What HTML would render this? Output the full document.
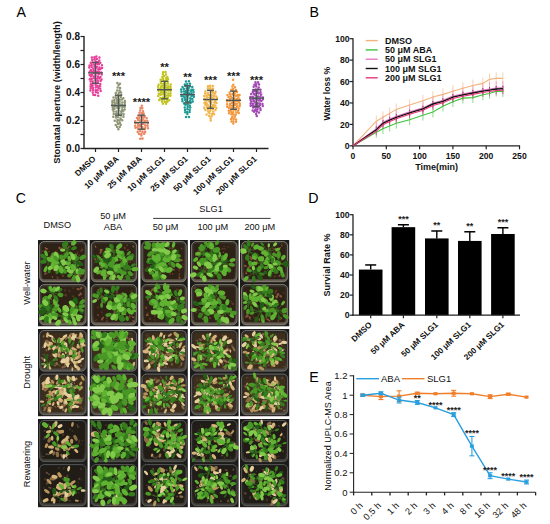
<!DOCTYPE html>
<html><head><meta charset="utf-8"><style>
html,body{margin:0;padding:0;background:#fff;}
svg{display:block;font-family:"Liberation Sans", sans-serif;}
</style></head><body>
<svg width="550" height="524" viewBox="0 0 550 524">
<rect width="550" height="524" fill="#fff"/>
<text x="16.60" y="17.30" font-size="14.2" font-weight="normal" text-anchor="start" fill="#000">A</text>
<text x="309.50" y="17.30" font-size="14.2" font-weight="normal" text-anchor="start" fill="#000">B</text>
<text x="15.80" y="202.80" font-size="14.2" font-weight="normal" text-anchor="start" fill="#000">C</text>
<text x="308.30" y="203.20" font-size="14.2" font-weight="normal" text-anchor="start" fill="#000">D</text>
<text x="309.30" y="381.50" font-size="14.2" font-weight="normal" text-anchor="start" fill="#000">E</text>
<line x1="84.00" y1="36.00" x2="84.00" y2="149.10" stroke="#222" stroke-width="1.4"/>
<line x1="83.30" y1="148.50" x2="268.50" y2="148.50" stroke="#222" stroke-width="1.4"/>
<line x1="80.50" y1="148.50" x2="84.00" y2="148.50" stroke="#222" stroke-width="1.2"/>
<line x1="80.50" y1="134.50" x2="84.00" y2="134.50" stroke="#222" stroke-width="1.2"/>
<line x1="80.50" y1="120.50" x2="84.00" y2="120.50" stroke="#222" stroke-width="1.2"/>
<line x1="80.50" y1="106.50" x2="84.00" y2="106.50" stroke="#222" stroke-width="1.2"/>
<line x1="80.50" y1="92.50" x2="84.00" y2="92.50" stroke="#222" stroke-width="1.2"/>
<line x1="80.50" y1="78.50" x2="84.00" y2="78.50" stroke="#222" stroke-width="1.2"/>
<line x1="80.50" y1="64.50" x2="84.00" y2="64.50" stroke="#222" stroke-width="1.2"/>
<line x1="80.50" y1="50.50" x2="84.00" y2="50.50" stroke="#222" stroke-width="1.2"/>
<line x1="80.50" y1="36.50" x2="84.00" y2="36.50" stroke="#222" stroke-width="1.2"/>
<text x="80.00" y="152.10" font-size="10" font-weight="bold" text-anchor="end" fill="#111">0.0</text>
<text x="80.00" y="124.10" font-size="10" font-weight="bold" text-anchor="end" fill="#111">0.2</text>
<text x="80.00" y="96.10" font-size="10" font-weight="bold" text-anchor="end" fill="#111">0.4</text>
<text x="80.00" y="68.10" font-size="10" font-weight="bold" text-anchor="end" fill="#111">0.6</text>
<text x="80.00" y="40.10" font-size="10" font-weight="bold" text-anchor="end" fill="#111">0.8</text>
<line x1="95.50" y1="148.50" x2="95.50" y2="152.00" stroke="#222" stroke-width="1.2"/>
<text x="96.30" y="159.70" font-size="8.3" font-weight="bold" text-anchor="end" fill="#111" transform="rotate(-43 96.30 159.70)">DMSO</text>
<line x1="118.50" y1="148.50" x2="118.50" y2="152.00" stroke="#222" stroke-width="1.2"/>
<text x="119.30" y="159.70" font-size="8.3" font-weight="bold" text-anchor="end" fill="#111" transform="rotate(-43 119.30 159.70)">10 μM ABA</text>
<line x1="141.50" y1="148.50" x2="141.50" y2="152.00" stroke="#222" stroke-width="1.2"/>
<text x="142.30" y="159.70" font-size="8.3" font-weight="bold" text-anchor="end" fill="#111" transform="rotate(-43 142.30 159.70)">25 μM ABA</text>
<line x1="164.50" y1="148.50" x2="164.50" y2="152.00" stroke="#222" stroke-width="1.2"/>
<text x="165.30" y="159.70" font-size="8.3" font-weight="bold" text-anchor="end" fill="#111" transform="rotate(-43 165.30 159.70)">10 μM SLG1</text>
<line x1="187.50" y1="148.50" x2="187.50" y2="152.00" stroke="#222" stroke-width="1.2"/>
<text x="188.30" y="159.70" font-size="8.3" font-weight="bold" text-anchor="end" fill="#111" transform="rotate(-43 188.30 159.70)">25 μM SLG1</text>
<line x1="210.50" y1="148.50" x2="210.50" y2="152.00" stroke="#222" stroke-width="1.2"/>
<text x="211.30" y="159.70" font-size="8.3" font-weight="bold" text-anchor="end" fill="#111" transform="rotate(-43 211.30 159.70)">50 μM SLG1</text>
<line x1="233.50" y1="148.50" x2="233.50" y2="152.00" stroke="#222" stroke-width="1.2"/>
<text x="234.30" y="159.70" font-size="8.3" font-weight="bold" text-anchor="end" fill="#111" transform="rotate(-43 234.30 159.70)">100 μM SLG1</text>
<line x1="256.50" y1="148.50" x2="256.50" y2="152.00" stroke="#222" stroke-width="1.2"/>
<text x="257.30" y="159.70" font-size="8.3" font-weight="bold" text-anchor="end" fill="#111" transform="rotate(-43 257.30 159.70)">200 μM SLG1</text>
<text x="60.00" y="92.50" font-size="9.3" font-weight="bold" text-anchor="middle" fill="#111" transform="rotate(-90 60.00 92.50)">Stomatal aperture (width/length)</text>
<path fill="#e8409a" d="M90.6 57.5a1.2 1.2 0 1 0 2.5 0 1.2 1.2 0 1 0 -2.5 -0M93.1 57.2a1.2 1.2 0 1 0 2.5 0 1.2 1.2 0 1 0 -2.5 -0M95.1 56.5a1.2 1.2 0 1 0 2.5 0 1.2 1.2 0 1 0 -2.5 -0M98.2 57.4a1.2 1.2 0 1 0 2.5 0 1.2 1.2 0 1 0 -2.5 -0M91 59.9a1.2 1.2 0 1 0 2.5 0 1.2 1.2 0 1 0 -2.5 -0M93.3 59.3a1.2 1.2 0 1 0 2.5 0 1.2 1.2 0 1 0 -2.5 -0M95.6 59.1a1.2 1.2 0 1 0 2.5 0 1.2 1.2 0 1 0 -2.5 -0M98 60.4a1.2 1.2 0 1 0 2.5 0 1.2 1.2 0 1 0 -2.5 -0M89.5 62.7a1.2 1.2 0 1 0 2.5 0 1.2 1.2 0 1 0 -2.5 -0M91.5 62.4a1.2 1.2 0 1 0 2.5 0 1.2 1.2 0 1 0 -2.5 -0M94.3 61.3a1.2 1.2 0 1 0 2.5 0 1.2 1.2 0 1 0 -2.5 -0M96.3 62.3a1.2 1.2 0 1 0 2.5 0 1.2 1.2 0 1 0 -2.5 -0M99.1 62.8a1.2 1.2 0 1 0 2.5 0 1.2 1.2 0 1 0 -2.5 -0M88.3 65.6a1.2 1.2 0 1 0 2.5 0 1.2 1.2 0 1 0 -2.5 -0M90.5 65a1.2 1.2 0 1 0 2.5 0 1.2 1.2 0 1 0 -2.5 -0M93 64.6a1.2 1.2 0 1 0 2.5 0 1.2 1.2 0 1 0 -2.5 -0M95.8 63.8a1.2 1.2 0 1 0 2.5 0 1.2 1.2 0 1 0 -2.5 -0M97.6 64.3a1.2 1.2 0 1 0 2.5 0 1.2 1.2 0 1 0 -2.5 -0M100.7 65.3a1.2 1.2 0 1 0 2.5 0 1.2 1.2 0 1 0 -2.5 -0M88 67.6a1.2 1.2 0 1 0 2.5 0 1.2 1.2 0 1 0 -2.5 -0M90.5 66.9a1.2 1.2 0 1 0 2.5 0 1.2 1.2 0 1 0 -2.5 -0M93.1 66.6a1.2 1.2 0 1 0 2.5 0 1.2 1.2 0 1 0 -2.5 -0M95.8 66.8a1.2 1.2 0 1 0 2.5 0 1.2 1.2 0 1 0 -2.5 -0M98.3 67.5a1.2 1.2 0 1 0 2.5 0 1.2 1.2 0 1 0 -2.5 -0M100.8 67.9a1.2 1.2 0 1 0 2.5 0 1.2 1.2 0 1 0 -2.5 -0M89.6 70.1a1.2 1.2 0 1 0 2.5 0 1.2 1.2 0 1 0 -2.5 -0M92.1 69.1a1.2 1.2 0 1 0 2.5 0 1.2 1.2 0 1 0 -2.5 -0M94.4 68.4a1.2 1.2 0 1 0 2.5 0 1.2 1.2 0 1 0 -2.5 -0M97 69.3a1.2 1.2 0 1 0 2.5 0 1.2 1.2 0 1 0 -2.5 -0M99 69.2a1.2 1.2 0 1 0 2.5 0 1.2 1.2 0 1 0 -2.5 -0M88.5 71.8a1.2 1.2 0 1 0 2.5 0 1.2 1.2 0 1 0 -2.5 -0M90.8 71.6a1.2 1.2 0 1 0 2.5 0 1.2 1.2 0 1 0 -2.5 -0M92.7 71.1a1.2 1.2 0 1 0 2.5 0 1.2 1.2 0 1 0 -2.5 -0M95.7 71.7a1.2 1.2 0 1 0 2.5 0 1.2 1.2 0 1 0 -2.5 -0M97.6 71.8a1.2 1.2 0 1 0 2.5 0 1.2 1.2 0 1 0 -2.5 -0M100 72.5a1.2 1.2 0 1 0 2.5 0 1.2 1.2 0 1 0 -2.5 -0M88.4 75.1a1.2 1.2 0 1 0 2.5 0 1.2 1.2 0 1 0 -2.5 -0M90.6 74.6a1.2 1.2 0 1 0 2.5 0 1.2 1.2 0 1 0 -2.5 -0M92.9 73.2a1.2 1.2 0 1 0 2.5 0 1.2 1.2 0 1 0 -2.5 -0M95.6 73.2a1.2 1.2 0 1 0 2.5 0 1.2 1.2 0 1 0 -2.5 -0M97.7 74a1.2 1.2 0 1 0 2.5 0 1.2 1.2 0 1 0 -2.5 -0M100.5 74.4a1.2 1.2 0 1 0 2.5 0 1.2 1.2 0 1 0 -2.5 -0M89.6 76.5a1.2 1.2 0 1 0 2.5 0 1.2 1.2 0 1 0 -2.5 -0M92.2 76.6a1.2 1.2 0 1 0 2.5 0 1.2 1.2 0 1 0 -2.5 -0M94.2 75.7a1.2 1.2 0 1 0 2.5 0 1.2 1.2 0 1 0 -2.5 -0M96.7 76.4a1.2 1.2 0 1 0 2.5 0 1.2 1.2 0 1 0 -2.5 -0M99.2 76.9a1.2 1.2 0 1 0 2.5 0 1.2 1.2 0 1 0 -2.5 -0M88.5 79.3a1.2 1.2 0 1 0 2.5 0 1.2 1.2 0 1 0 -2.5 -0M90.5 79.1a1.2 1.2 0 1 0 2.5 0 1.2 1.2 0 1 0 -2.5 -0M92.8 78.2a1.2 1.2 0 1 0 2.5 0 1.2 1.2 0 1 0 -2.5 -0M95.9 78.4a1.2 1.2 0 1 0 2.5 0 1.2 1.2 0 1 0 -2.5 -0M98 78.4a1.2 1.2 0 1 0 2.5 0 1.2 1.2 0 1 0 -2.5 -0M100.3 79.5a1.2 1.2 0 1 0 2.5 0 1.2 1.2 0 1 0 -2.5 -0M89.4 81.6a1.2 1.2 0 1 0 2.5 0 1.2 1.2 0 1 0 -2.5 -0M91.4 81.2a1.2 1.2 0 1 0 2.5 0 1.2 1.2 0 1 0 -2.5 -0M94.2 80.6a1.2 1.2 0 1 0 2.5 0 1.2 1.2 0 1 0 -2.5 -0M96.6 81.1a1.2 1.2 0 1 0 2.5 0 1.2 1.2 0 1 0 -2.5 -0M99.3 81.1a1.2 1.2 0 1 0 2.5 0 1.2 1.2 0 1 0 -2.5 -0M89.5 84.3a1.2 1.2 0 1 0 2.5 0 1.2 1.2 0 1 0 -2.5 -0M91.6 83.3a1.2 1.2 0 1 0 2.5 0 1.2 1.2 0 1 0 -2.5 -0M94.3 82.6a1.2 1.2 0 1 0 2.5 0 1.2 1.2 0 1 0 -2.5 -0M96.6 83.1a1.2 1.2 0 1 0 2.5 0 1.2 1.2 0 1 0 -2.5 -0M99 83.9a1.2 1.2 0 1 0 2.5 0 1.2 1.2 0 1 0 -2.5 -0M89.3 86.5a1.2 1.2 0 1 0 2.5 0 1.2 1.2 0 1 0 -2.5 -0M91.4 85.8a1.2 1.2 0 1 0 2.5 0 1.2 1.2 0 1 0 -2.5 -0M94.4 85a1.2 1.2 0 1 0 2.5 0 1.2 1.2 0 1 0 -2.5 -0M96.5 85.9a1.2 1.2 0 1 0 2.5 0 1.2 1.2 0 1 0 -2.5 -0M98.9 85.9a1.2 1.2 0 1 0 2.5 0 1.2 1.2 0 1 0 -2.5 -0M89.5 88.2a1.2 1.2 0 1 0 2.5 0 1.2 1.2 0 1 0 -2.5 -0M91.7 87.9a1.2 1.2 0 1 0 2.5 0 1.2 1.2 0 1 0 -2.5 -0M94.5 87.5a1.2 1.2 0 1 0 2.5 0 1.2 1.2 0 1 0 -2.5 -0M97 87.8a1.2 1.2 0 1 0 2.5 0 1.2 1.2 0 1 0 -2.5 -0M99 88.7a1.2 1.2 0 1 0 2.5 0 1.2 1.2 0 1 0 -2.5 -0M89.1 90.6a1.2 1.2 0 1 0 2.5 0 1.2 1.2 0 1 0 -2.5 -0M91.8 90.1a1.2 1.2 0 1 0 2.5 0 1.2 1.2 0 1 0 -2.5 -0M94.5 90.3a1.2 1.2 0 1 0 2.5 0 1.2 1.2 0 1 0 -2.5 -0M96.4 90.1a1.2 1.2 0 1 0 2.5 0 1.2 1.2 0 1 0 -2.5 -0M99.4 91.1a1.2 1.2 0 1 0 2.5 0 1.2 1.2 0 1 0 -2.5 -0M91.5 92.6a1.2 1.2 0 1 0 2.5 0 1.2 1.2 0 1 0 -2.5 -0M94.5 92.1a1.2 1.2 0 1 0 2.5 0 1.2 1.2 0 1 0 -2.5 -0M96.6 92.7a1.2 1.2 0 1 0 2.5 0 1.2 1.2 0 1 0 -2.5 -0M92.1 94.7a1.2 1.2 0 1 0 2.5 0 1.2 1.2 0 1 0 -2.5 -0M93.9 95.1a1.2 1.2 0 1 0 2.5 0 1.2 1.2 0 1 0 -2.5 -0M97 95.7a1.2 1.2 0 1 0 2.5 0 1.2 1.2 0 1 0 -2.5 -0"/>
<line x1="88.00" y1="72.90" x2="103.00" y2="72.90" stroke="#4e5755" stroke-width="1.4"/>
<line x1="95.50" y1="62.40" x2="95.50" y2="83.40" stroke="#4e5755" stroke-width="1.3"/>
<line x1="92.10" y1="62.40" x2="98.90" y2="62.40" stroke="#4e5755" stroke-width="1.3"/>
<line x1="92.10" y1="83.40" x2="98.90" y2="83.40" stroke="#4e5755" stroke-width="1.3"/>
<path fill="#8f9676" d="M116.1 83.1a1.2 1.2 0 1 0 2.5 0 1.2 1.2 0 1 0 -2.5 -0M118.7 83.8a1.2 1.2 0 1 0 2.5 0 1.2 1.2 0 1 0 -2.5 -0M117.3 85.2a1.2 1.2 0 1 0 2.5 0 1.2 1.2 0 1 0 -2.5 -0M116.4 87.4a1.2 1.2 0 1 0 2.5 0 1.2 1.2 0 1 0 -2.5 -0M118.8 88.1a1.2 1.2 0 1 0 2.5 0 1.2 1.2 0 1 0 -2.5 -0M115.9 90.5a1.2 1.2 0 1 0 2.5 0 1.2 1.2 0 1 0 -2.5 -0M118.4 90.4a1.2 1.2 0 1 0 2.5 0 1.2 1.2 0 1 0 -2.5 -0M114.5 93.1a1.2 1.2 0 1 0 2.5 0 1.2 1.2 0 1 0 -2.5 -0M117.6 92.8a1.2 1.2 0 1 0 2.5 0 1.2 1.2 0 1 0 -2.5 -0M119.8 92.4a1.2 1.2 0 1 0 2.5 0 1.2 1.2 0 1 0 -2.5 -0M114.5 95.6a1.2 1.2 0 1 0 2.5 0 1.2 1.2 0 1 0 -2.5 -0M117.1 94.5a1.2 1.2 0 1 0 2.5 0 1.2 1.2 0 1 0 -2.5 -0M120 95a1.2 1.2 0 1 0 2.5 0 1.2 1.2 0 1 0 -2.5 -0M112.3 97.5a1.2 1.2 0 1 0 2.5 0 1.2 1.2 0 1 0 -2.5 -0M114.9 97.7a1.2 1.2 0 1 0 2.5 0 1.2 1.2 0 1 0 -2.5 -0M117 96.6a1.2 1.2 0 1 0 2.5 0 1.2 1.2 0 1 0 -2.5 -0M119.6 96.9a1.2 1.2 0 1 0 2.5 0 1.2 1.2 0 1 0 -2.5 -0M122.1 98.2a1.2 1.2 0 1 0 2.5 0 1.2 1.2 0 1 0 -2.5 -0M111.2 100.8a1.2 1.2 0 1 0 2.5 0 1.2 1.2 0 1 0 -2.5 -0M113.3 100.1a1.2 1.2 0 1 0 2.5 0 1.2 1.2 0 1 0 -2.5 -0M115.9 99.5a1.2 1.2 0 1 0 2.5 0 1.2 1.2 0 1 0 -2.5 -0M118.2 99.6a1.2 1.2 0 1 0 2.5 0 1.2 1.2 0 1 0 -2.5 -0M120.6 99.5a1.2 1.2 0 1 0 2.5 0 1.2 1.2 0 1 0 -2.5 -0M123.6 101a1.2 1.2 0 1 0 2.5 0 1.2 1.2 0 1 0 -2.5 -0M111.1 102.5a1.2 1.2 0 1 0 2.5 0 1.2 1.2 0 1 0 -2.5 -0M113.4 102.4a1.2 1.2 0 1 0 2.5 0 1.2 1.2 0 1 0 -2.5 -0M115.8 101.4a1.2 1.2 0 1 0 2.5 0 1.2 1.2 0 1 0 -2.5 -0M118.4 101.4a1.2 1.2 0 1 0 2.5 0 1.2 1.2 0 1 0 -2.5 -0M121 102.6a1.2 1.2 0 1 0 2.5 0 1.2 1.2 0 1 0 -2.5 -0M123.6 102.8a1.2 1.2 0 1 0 2.5 0 1.2 1.2 0 1 0 -2.5 -0M111.1 104.6a1.2 1.2 0 1 0 2.5 0 1.2 1.2 0 1 0 -2.5 -0M113.7 104.3a1.2 1.2 0 1 0 2.5 0 1.2 1.2 0 1 0 -2.5 -0M115.9 103.6a1.2 1.2 0 1 0 2.5 0 1.2 1.2 0 1 0 -2.5 -0M118.4 104.1a1.2 1.2 0 1 0 2.5 0 1.2 1.2 0 1 0 -2.5 -0M120.8 104.9a1.2 1.2 0 1 0 2.5 0 1.2 1.2 0 1 0 -2.5 -0M123.5 104.8a1.2 1.2 0 1 0 2.5 0 1.2 1.2 0 1 0 -2.5 -0M111.5 107.3a1.2 1.2 0 1 0 2.5 0 1.2 1.2 0 1 0 -2.5 -0M113.7 106.4a1.2 1.2 0 1 0 2.5 0 1.2 1.2 0 1 0 -2.5 -0M116 106.2a1.2 1.2 0 1 0 2.5 0 1.2 1.2 0 1 0 -2.5 -0M118.4 106.2a1.2 1.2 0 1 0 2.5 0 1.2 1.2 0 1 0 -2.5 -0M121 106.9a1.2 1.2 0 1 0 2.5 0 1.2 1.2 0 1 0 -2.5 -0M123.4 107a1.2 1.2 0 1 0 2.5 0 1.2 1.2 0 1 0 -2.5 -0M111.5 109.5a1.2 1.2 0 1 0 2.5 0 1.2 1.2 0 1 0 -2.5 -0M113.2 108.7a1.2 1.2 0 1 0 2.5 0 1.2 1.2 0 1 0 -2.5 -0M116.1 108.1a1.2 1.2 0 1 0 2.5 0 1.2 1.2 0 1 0 -2.5 -0M118.1 108.1a1.2 1.2 0 1 0 2.5 0 1.2 1.2 0 1 0 -2.5 -0M120.9 109.6a1.2 1.2 0 1 0 2.5 0 1.2 1.2 0 1 0 -2.5 -0M123.4 109.6a1.2 1.2 0 1 0 2.5 0 1.2 1.2 0 1 0 -2.5 -0M112.4 111.6a1.2 1.2 0 1 0 2.5 0 1.2 1.2 0 1 0 -2.5 -0M115 111.5a1.2 1.2 0 1 0 2.5 0 1.2 1.2 0 1 0 -2.5 -0M117.4 110.5a1.2 1.2 0 1 0 2.5 0 1.2 1.2 0 1 0 -2.5 -0M119.8 111.6a1.2 1.2 0 1 0 2.5 0 1.2 1.2 0 1 0 -2.5 -0M121.9 111.3a1.2 1.2 0 1 0 2.5 0 1.2 1.2 0 1 0 -2.5 -0M112.5 114.1a1.2 1.2 0 1 0 2.5 0 1.2 1.2 0 1 0 -2.5 -0M114.9 113.7a1.2 1.2 0 1 0 2.5 0 1.2 1.2 0 1 0 -2.5 -0M117.2 113.2a1.2 1.2 0 1 0 2.5 0 1.2 1.2 0 1 0 -2.5 -0M120.1 113.4a1.2 1.2 0 1 0 2.5 0 1.2 1.2 0 1 0 -2.5 -0M122.4 114.2a1.2 1.2 0 1 0 2.5 0 1.2 1.2 0 1 0 -2.5 -0M112 116.7a1.2 1.2 0 1 0 2.5 0 1.2 1.2 0 1 0 -2.5 -0M115 116.1a1.2 1.2 0 1 0 2.5 0 1.2 1.2 0 1 0 -2.5 -0M117.6 115a1.2 1.2 0 1 0 2.5 0 1.2 1.2 0 1 0 -2.5 -0M119.8 115.4a1.2 1.2 0 1 0 2.5 0 1.2 1.2 0 1 0 -2.5 -0M122.2 116.7a1.2 1.2 0 1 0 2.5 0 1.2 1.2 0 1 0 -2.5 -0M114.7 117.6a1.2 1.2 0 1 0 2.5 0 1.2 1.2 0 1 0 -2.5 -0M117 117.2a1.2 1.2 0 1 0 2.5 0 1.2 1.2 0 1 0 -2.5 -0M119.4 118.4a1.2 1.2 0 1 0 2.5 0 1.2 1.2 0 1 0 -2.5 -0M113.5 120.8a1.2 1.2 0 1 0 2.5 0 1.2 1.2 0 1 0 -2.5 -0M116.2 120a1.2 1.2 0 1 0 2.5 0 1.2 1.2 0 1 0 -2.5 -0M118.4 120.2a1.2 1.2 0 1 0 2.5 0 1.2 1.2 0 1 0 -2.5 -0M121 120.3a1.2 1.2 0 1 0 2.5 0 1.2 1.2 0 1 0 -2.5 -0M116.1 122a1.2 1.2 0 1 0 2.5 0 1.2 1.2 0 1 0 -2.5 -0M118.6 122.7a1.2 1.2 0 1 0 2.5 0 1.2 1.2 0 1 0 -2.5 -0M114.5 124.9a1.2 1.2 0 1 0 2.5 0 1.2 1.2 0 1 0 -2.5 -0M116.9 123.9a1.2 1.2 0 1 0 2.5 0 1.2 1.2 0 1 0 -2.5 -0M119.5 124.8a1.2 1.2 0 1 0 2.5 0 1.2 1.2 0 1 0 -2.5 -0M115.9 127.1a1.2 1.2 0 1 0 2.5 0 1.2 1.2 0 1 0 -2.5 -0M118.5 126.9a1.2 1.2 0 1 0 2.5 0 1.2 1.2 0 1 0 -2.5 -0M117.1 129.2a1.2 1.2 0 1 0 2.5 0 1.2 1.2 0 1 0 -2.5 -0"/>
<line x1="111.00" y1="105.52" x2="126.00" y2="105.52" stroke="#4e5755" stroke-width="1.4"/>
<line x1="118.50" y1="95.30" x2="118.50" y2="115.18" stroke="#4e5755" stroke-width="1.3"/>
<line x1="115.10" y1="95.30" x2="121.90" y2="95.30" stroke="#4e5755" stroke-width="1.3"/>
<line x1="115.10" y1="115.18" x2="121.90" y2="115.18" stroke="#4e5755" stroke-width="1.3"/>
<text x="118.50" y="80.00" font-size="11.2" font-weight="bold" text-anchor="middle" fill="#1a1a1a">***</text>
<path fill="#ea8866" d="M140.6 105.7a1.2 1.2 0 1 0 2.5 0 1.2 1.2 0 1 0 -2.5 -0M139.2 108a1.2 1.2 0 1 0 2.5 0 1.2 1.2 0 1 0 -2.5 -0M141.1 108.2a1.2 1.2 0 1 0 2.5 0 1.2 1.2 0 1 0 -2.5 -0M139 110.5a1.2 1.2 0 1 0 2.5 0 1.2 1.2 0 1 0 -2.5 -0M141.8 111.2a1.2 1.2 0 1 0 2.5 0 1.2 1.2 0 1 0 -2.5 -0M138.2 112.7a1.2 1.2 0 1 0 2.5 0 1.2 1.2 0 1 0 -2.5 -0M140.5 113.2a1.2 1.2 0 1 0 2.5 0 1.2 1.2 0 1 0 -2.5 -0M142.4 113.4a1.2 1.2 0 1 0 2.5 0 1.2 1.2 0 1 0 -2.5 -0M136.9 115.5a1.2 1.2 0 1 0 2.5 0 1.2 1.2 0 1 0 -2.5 -0M139.1 115.7a1.2 1.2 0 1 0 2.5 0 1.2 1.2 0 1 0 -2.5 -0M141.6 115.1a1.2 1.2 0 1 0 2.5 0 1.2 1.2 0 1 0 -2.5 -0M143.6 116.2a1.2 1.2 0 1 0 2.5 0 1.2 1.2 0 1 0 -2.5 -0M135.7 118a1.2 1.2 0 1 0 2.5 0 1.2 1.2 0 1 0 -2.5 -0M138 118.1a1.2 1.2 0 1 0 2.5 0 1.2 1.2 0 1 0 -2.5 -0M140.6 116.9a1.2 1.2 0 1 0 2.5 0 1.2 1.2 0 1 0 -2.5 -0M142.6 117.4a1.2 1.2 0 1 0 2.5 0 1.2 1.2 0 1 0 -2.5 -0M145.4 118.3a1.2 1.2 0 1 0 2.5 0 1.2 1.2 0 1 0 -2.5 -0M134 121.3a1.2 1.2 0 1 0 2.5 0 1.2 1.2 0 1 0 -2.5 -0M136.9 120.1a1.2 1.2 0 1 0 2.5 0 1.2 1.2 0 1 0 -2.5 -0M139.1 120.4a1.2 1.2 0 1 0 2.5 0 1.2 1.2 0 1 0 -2.5 -0M141.5 119.8a1.2 1.2 0 1 0 2.5 0 1.2 1.2 0 1 0 -2.5 -0M143.7 120.7a1.2 1.2 0 1 0 2.5 0 1.2 1.2 0 1 0 -2.5 -0M146.1 121.1a1.2 1.2 0 1 0 2.5 0 1.2 1.2 0 1 0 -2.5 -0M134.2 122.9a1.2 1.2 0 1 0 2.5 0 1.2 1.2 0 1 0 -2.5 -0M136.7 123.2a1.2 1.2 0 1 0 2.5 0 1.2 1.2 0 1 0 -2.5 -0M138.9 122.1a1.2 1.2 0 1 0 2.5 0 1.2 1.2 0 1 0 -2.5 -0M141.8 122.4a1.2 1.2 0 1 0 2.5 0 1.2 1.2 0 1 0 -2.5 -0M143.7 122.2a1.2 1.2 0 1 0 2.5 0 1.2 1.2 0 1 0 -2.5 -0M146.6 123.2a1.2 1.2 0 1 0 2.5 0 1.2 1.2 0 1 0 -2.5 -0M133.9 125.8a1.2 1.2 0 1 0 2.5 0 1.2 1.2 0 1 0 -2.5 -0M136.8 124.9a1.2 1.2 0 1 0 2.5 0 1.2 1.2 0 1 0 -2.5 -0M138.7 125.1a1.2 1.2 0 1 0 2.5 0 1.2 1.2 0 1 0 -2.5 -0M141.8 124.1a1.2 1.2 0 1 0 2.5 0 1.2 1.2 0 1 0 -2.5 -0M144 125.3a1.2 1.2 0 1 0 2.5 0 1.2 1.2 0 1 0 -2.5 -0M146.3 125.8a1.2 1.2 0 1 0 2.5 0 1.2 1.2 0 1 0 -2.5 -0M134.2 127.8a1.2 1.2 0 1 0 2.5 0 1.2 1.2 0 1 0 -2.5 -0M136.3 127.2a1.2 1.2 0 1 0 2.5 0 1.2 1.2 0 1 0 -2.5 -0M138.7 126.5a1.2 1.2 0 1 0 2.5 0 1.2 1.2 0 1 0 -2.5 -0M141.2 127.2a1.2 1.2 0 1 0 2.5 0 1.2 1.2 0 1 0 -2.5 -0M144 127.7a1.2 1.2 0 1 0 2.5 0 1.2 1.2 0 1 0 -2.5 -0M146.7 128.3a1.2 1.2 0 1 0 2.5 0 1.2 1.2 0 1 0 -2.5 -0M136.9 129.2a1.2 1.2 0 1 0 2.5 0 1.2 1.2 0 1 0 -2.5 -0M139.2 129.5a1.2 1.2 0 1 0 2.5 0 1.2 1.2 0 1 0 -2.5 -0M141.6 129.1a1.2 1.2 0 1 0 2.5 0 1.2 1.2 0 1 0 -2.5 -0M143.6 129.2a1.2 1.2 0 1 0 2.5 0 1.2 1.2 0 1 0 -2.5 -0M136.4 132.1a1.2 1.2 0 1 0 2.5 0 1.2 1.2 0 1 0 -2.5 -0M138.8 131.2a1.2 1.2 0 1 0 2.5 0 1.2 1.2 0 1 0 -2.5 -0M141.3 131.7a1.2 1.2 0 1 0 2.5 0 1.2 1.2 0 1 0 -2.5 -0M143.9 131.9a1.2 1.2 0 1 0 2.5 0 1.2 1.2 0 1 0 -2.5 -0M137.8 134.1a1.2 1.2 0 1 0 2.5 0 1.2 1.2 0 1 0 -2.5 -0M140.2 134a1.2 1.2 0 1 0 2.5 0 1.2 1.2 0 1 0 -2.5 -0M142.9 133.8a1.2 1.2 0 1 0 2.5 0 1.2 1.2 0 1 0 -2.5 -0M140.1 135.4a1.2 1.2 0 1 0 2.5 0 1.2 1.2 0 1 0 -2.5 -0M139 138.8a1.2 1.2 0 1 0 2.5 0 1.2 1.2 0 1 0 -2.5 -0M141.3 138.5a1.2 1.2 0 1 0 2.5 0 1.2 1.2 0 1 0 -2.5 -0"/>
<line x1="134.00" y1="122.60" x2="149.00" y2="122.60" stroke="#4e5755" stroke-width="1.4"/>
<line x1="141.50" y1="115.18" x2="141.50" y2="129.18" stroke="#4e5755" stroke-width="1.3"/>
<line x1="138.10" y1="115.18" x2="144.90" y2="115.18" stroke="#4e5755" stroke-width="1.3"/>
<line x1="138.10" y1="129.18" x2="144.90" y2="129.18" stroke="#4e5755" stroke-width="1.3"/>
<text x="141.50" y="106.00" font-size="11.2" font-weight="bold" text-anchor="middle" fill="#1a1a1a">****</text>
<path fill="#c2c41e" d="M161.8 72.3a1.2 1.2 0 1 0 2.5 0 1.2 1.2 0 1 0 -2.5 -0M164.2 71.9a1.2 1.2 0 1 0 2.5 0 1.2 1.2 0 1 0 -2.5 -0M161.7 74.3a1.2 1.2 0 1 0 2.5 0 1.2 1.2 0 1 0 -2.5 -0M164.7 74.4a1.2 1.2 0 1 0 2.5 0 1.2 1.2 0 1 0 -2.5 -0M161.1 77.1a1.2 1.2 0 1 0 2.5 0 1.2 1.2 0 1 0 -2.5 -0M162.9 76.2a1.2 1.2 0 1 0 2.5 0 1.2 1.2 0 1 0 -2.5 -0M166.1 77a1.2 1.2 0 1 0 2.5 0 1.2 1.2 0 1 0 -2.5 -0M159.4 79.7a1.2 1.2 0 1 0 2.5 0 1.2 1.2 0 1 0 -2.5 -0M161.7 79a1.2 1.2 0 1 0 2.5 0 1.2 1.2 0 1 0 -2.5 -0M164.7 78.4a1.2 1.2 0 1 0 2.5 0 1.2 1.2 0 1 0 -2.5 -0M166.8 79a1.2 1.2 0 1 0 2.5 0 1.2 1.2 0 1 0 -2.5 -0M159.5 81.9a1.2 1.2 0 1 0 2.5 0 1.2 1.2 0 1 0 -2.5 -0M162.4 80.7a1.2 1.2 0 1 0 2.5 0 1.2 1.2 0 1 0 -2.5 -0M164.8 80.6a1.2 1.2 0 1 0 2.5 0 1.2 1.2 0 1 0 -2.5 -0M166.6 81.6a1.2 1.2 0 1 0 2.5 0 1.2 1.2 0 1 0 -2.5 -0M157.4 84.8a1.2 1.2 0 1 0 2.5 0 1.2 1.2 0 1 0 -2.5 -0M159.9 83.5a1.2 1.2 0 1 0 2.5 0 1.2 1.2 0 1 0 -2.5 -0M162.2 83.7a1.2 1.2 0 1 0 2.5 0 1.2 1.2 0 1 0 -2.5 -0M164.1 83.2a1.2 1.2 0 1 0 2.5 0 1.2 1.2 0 1 0 -2.5 -0M166.6 83.4a1.2 1.2 0 1 0 2.5 0 1.2 1.2 0 1 0 -2.5 -0M169.4 84.5a1.2 1.2 0 1 0 2.5 0 1.2 1.2 0 1 0 -2.5 -0M156.8 86.7a1.2 1.2 0 1 0 2.5 0 1.2 1.2 0 1 0 -2.5 -0M160 86.3a1.2 1.2 0 1 0 2.5 0 1.2 1.2 0 1 0 -2.5 -0M162.1 85.3a1.2 1.2 0 1 0 2.5 0 1.2 1.2 0 1 0 -2.5 -0M164.6 85.4a1.2 1.2 0 1 0 2.5 0 1.2 1.2 0 1 0 -2.5 -0M167 86.3a1.2 1.2 0 1 0 2.5 0 1.2 1.2 0 1 0 -2.5 -0M169.3 86.9a1.2 1.2 0 1 0 2.5 0 1.2 1.2 0 1 0 -2.5 -0M157.1 89.3a1.2 1.2 0 1 0 2.5 0 1.2 1.2 0 1 0 -2.5 -0M159.4 88.1a1.2 1.2 0 1 0 2.5 0 1.2 1.2 0 1 0 -2.5 -0M162.1 87.8a1.2 1.2 0 1 0 2.5 0 1.2 1.2 0 1 0 -2.5 -0M164.8 87.7a1.2 1.2 0 1 0 2.5 0 1.2 1.2 0 1 0 -2.5 -0M166.8 87.9a1.2 1.2 0 1 0 2.5 0 1.2 1.2 0 1 0 -2.5 -0M169.3 88.8a1.2 1.2 0 1 0 2.5 0 1.2 1.2 0 1 0 -2.5 -0M157.3 90.7a1.2 1.2 0 1 0 2.5 0 1.2 1.2 0 1 0 -2.5 -0M160 90.8a1.2 1.2 0 1 0 2.5 0 1.2 1.2 0 1 0 -2.5 -0M162.3 90.2a1.2 1.2 0 1 0 2.5 0 1.2 1.2 0 1 0 -2.5 -0M164.5 90.1a1.2 1.2 0 1 0 2.5 0 1.2 1.2 0 1 0 -2.5 -0M166.8 90.4a1.2 1.2 0 1 0 2.5 0 1.2 1.2 0 1 0 -2.5 -0M169.2 91a1.2 1.2 0 1 0 2.5 0 1.2 1.2 0 1 0 -2.5 -0M157.5 93.8a1.2 1.2 0 1 0 2.5 0 1.2 1.2 0 1 0 -2.5 -0M159.7 92.5a1.2 1.2 0 1 0 2.5 0 1.2 1.2 0 1 0 -2.5 -0M161.8 92.6a1.2 1.2 0 1 0 2.5 0 1.2 1.2 0 1 0 -2.5 -0M164.6 92.4a1.2 1.2 0 1 0 2.5 0 1.2 1.2 0 1 0 -2.5 -0M167 93.4a1.2 1.2 0 1 0 2.5 0 1.2 1.2 0 1 0 -2.5 -0M169.2 93.4a1.2 1.2 0 1 0 2.5 0 1.2 1.2 0 1 0 -2.5 -0M157 96.1a1.2 1.2 0 1 0 2.5 0 1.2 1.2 0 1 0 -2.5 -0M159.5 94.8a1.2 1.2 0 1 0 2.5 0 1.2 1.2 0 1 0 -2.5 -0M162 94.3a1.2 1.2 0 1 0 2.5 0 1.2 1.2 0 1 0 -2.5 -0M164.7 95.2a1.2 1.2 0 1 0 2.5 0 1.2 1.2 0 1 0 -2.5 -0M166.9 95.7a1.2 1.2 0 1 0 2.5 0 1.2 1.2 0 1 0 -2.5 -0M169.1 95.7a1.2 1.2 0 1 0 2.5 0 1.2 1.2 0 1 0 -2.5 -0M159.2 98a1.2 1.2 0 1 0 2.5 0 1.2 1.2 0 1 0 -2.5 -0M161.7 97.6a1.2 1.2 0 1 0 2.5 0 1.2 1.2 0 1 0 -2.5 -0M164.5 97.3a1.2 1.2 0 1 0 2.5 0 1.2 1.2 0 1 0 -2.5 -0M166.6 97.9a1.2 1.2 0 1 0 2.5 0 1.2 1.2 0 1 0 -2.5 -0M158 99.9a1.2 1.2 0 1 0 2.5 0 1.2 1.2 0 1 0 -2.5 -0M160.5 99.7a1.2 1.2 0 1 0 2.5 0 1.2 1.2 0 1 0 -2.5 -0M162.9 99.5a1.2 1.2 0 1 0 2.5 0 1.2 1.2 0 1 0 -2.5 -0M165.7 99.8a1.2 1.2 0 1 0 2.5 0 1.2 1.2 0 1 0 -2.5 -0M168 100.3a1.2 1.2 0 1 0 2.5 0 1.2 1.2 0 1 0 -2.5 -0M160.9 101.8a1.2 1.2 0 1 0 2.5 0 1.2 1.2 0 1 0 -2.5 -0M163.6 101.8a1.2 1.2 0 1 0 2.5 0 1.2 1.2 0 1 0 -2.5 -0M166 101.8a1.2 1.2 0 1 0 2.5 0 1.2 1.2 0 1 0 -2.5 -0M161.7 103.7a1.2 1.2 0 1 0 2.5 0 1.2 1.2 0 1 0 -2.5 -0M164.8 103.8a1.2 1.2 0 1 0 2.5 0 1.2 1.2 0 1 0 -2.5 -0"/>
<line x1="157.00" y1="89.70" x2="172.00" y2="89.70" stroke="#4e5755" stroke-width="1.4"/>
<line x1="164.50" y1="81.30" x2="164.50" y2="98.80" stroke="#4e5755" stroke-width="1.3"/>
<line x1="161.10" y1="81.30" x2="167.90" y2="81.30" stroke="#4e5755" stroke-width="1.3"/>
<line x1="161.10" y1="98.80" x2="167.90" y2="98.80" stroke="#4e5755" stroke-width="1.3"/>
<text x="164.50" y="71.30" font-size="11.2" font-weight="bold" text-anchor="middle" fill="#1a1a1a">**</text>
<path fill="#1c9a94" d="M184.7 81.5a1.2 1.2 0 1 0 2.5 0 1.2 1.2 0 1 0 -2.5 -0M187.6 81.2a1.2 1.2 0 1 0 2.5 0 1.2 1.2 0 1 0 -2.5 -0M183.6 84.5a1.2 1.2 0 1 0 2.5 0 1.2 1.2 0 1 0 -2.5 -0M186 83.9a1.2 1.2 0 1 0 2.5 0 1.2 1.2 0 1 0 -2.5 -0M188.8 83.8a1.2 1.2 0 1 0 2.5 0 1.2 1.2 0 1 0 -2.5 -0M181.3 87a1.2 1.2 0 1 0 2.5 0 1.2 1.2 0 1 0 -2.5 -0M184.2 86a1.2 1.2 0 1 0 2.5 0 1.2 1.2 0 1 0 -2.5 -0M185.9 86.5a1.2 1.2 0 1 0 2.5 0 1.2 1.2 0 1 0 -2.5 -0M188.6 86.2a1.2 1.2 0 1 0 2.5 0 1.2 1.2 0 1 0 -2.5 -0M191 86.9a1.2 1.2 0 1 0 2.5 0 1.2 1.2 0 1 0 -2.5 -0M179.9 89.4a1.2 1.2 0 1 0 2.5 0 1.2 1.2 0 1 0 -2.5 -0M182.6 89.1a1.2 1.2 0 1 0 2.5 0 1.2 1.2 0 1 0 -2.5 -0M185.4 88.8a1.2 1.2 0 1 0 2.5 0 1.2 1.2 0 1 0 -2.5 -0M187.4 88.2a1.2 1.2 0 1 0 2.5 0 1.2 1.2 0 1 0 -2.5 -0M190.2 89.7a1.2 1.2 0 1 0 2.5 0 1.2 1.2 0 1 0 -2.5 -0M192 89.8a1.2 1.2 0 1 0 2.5 0 1.2 1.2 0 1 0 -2.5 -0M180.2 91.7a1.2 1.2 0 1 0 2.5 0 1.2 1.2 0 1 0 -2.5 -0M182.8 91.6a1.2 1.2 0 1 0 2.5 0 1.2 1.2 0 1 0 -2.5 -0M184.8 91.1a1.2 1.2 0 1 0 2.5 0 1.2 1.2 0 1 0 -2.5 -0M187.3 90.4a1.2 1.2 0 1 0 2.5 0 1.2 1.2 0 1 0 -2.5 -0M189.8 91.2a1.2 1.2 0 1 0 2.5 0 1.2 1.2 0 1 0 -2.5 -0M192.3 92.1a1.2 1.2 0 1 0 2.5 0 1.2 1.2 0 1 0 -2.5 -0M180.5 94.7a1.2 1.2 0 1 0 2.5 0 1.2 1.2 0 1 0 -2.5 -0M183 94a1.2 1.2 0 1 0 2.5 0 1.2 1.2 0 1 0 -2.5 -0M184.9 92.9a1.2 1.2 0 1 0 2.5 0 1.2 1.2 0 1 0 -2.5 -0M187.6 93.3a1.2 1.2 0 1 0 2.5 0 1.2 1.2 0 1 0 -2.5 -0M190.1 93.4a1.2 1.2 0 1 0 2.5 0 1.2 1.2 0 1 0 -2.5 -0M192.1 94.7a1.2 1.2 0 1 0 2.5 0 1.2 1.2 0 1 0 -2.5 -0M180.3 96.2a1.2 1.2 0 1 0 2.5 0 1.2 1.2 0 1 0 -2.5 -0M182.5 96.5a1.2 1.2 0 1 0 2.5 0 1.2 1.2 0 1 0 -2.5 -0M185.1 96a1.2 1.2 0 1 0 2.5 0 1.2 1.2 0 1 0 -2.5 -0M187.2 95.5a1.2 1.2 0 1 0 2.5 0 1.2 1.2 0 1 0 -2.5 -0M190.2 96.1a1.2 1.2 0 1 0 2.5 0 1.2 1.2 0 1 0 -2.5 -0M192.6 96.8a1.2 1.2 0 1 0 2.5 0 1.2 1.2 0 1 0 -2.5 -0M181 99.3a1.2 1.2 0 1 0 2.5 0 1.2 1.2 0 1 0 -2.5 -0M183.5 97.9a1.2 1.2 0 1 0 2.5 0 1.2 1.2 0 1 0 -2.5 -0M186.1 97.9a1.2 1.2 0 1 0 2.5 0 1.2 1.2 0 1 0 -2.5 -0M189 98.2a1.2 1.2 0 1 0 2.5 0 1.2 1.2 0 1 0 -2.5 -0M191.1 99a1.2 1.2 0 1 0 2.5 0 1.2 1.2 0 1 0 -2.5 -0M181.2 101.2a1.2 1.2 0 1 0 2.5 0 1.2 1.2 0 1 0 -2.5 -0M183.9 100a1.2 1.2 0 1 0 2.5 0 1.2 1.2 0 1 0 -2.5 -0M185.9 99.7a1.2 1.2 0 1 0 2.5 0 1.2 1.2 0 1 0 -2.5 -0M188.9 100.7a1.2 1.2 0 1 0 2.5 0 1.2 1.2 0 1 0 -2.5 -0M191.5 101.4a1.2 1.2 0 1 0 2.5 0 1.2 1.2 0 1 0 -2.5 -0M182.8 103.5a1.2 1.2 0 1 0 2.5 0 1.2 1.2 0 1 0 -2.5 -0M184.9 102.1a1.2 1.2 0 1 0 2.5 0 1.2 1.2 0 1 0 -2.5 -0M187.4 102.3a1.2 1.2 0 1 0 2.5 0 1.2 1.2 0 1 0 -2.5 -0M189.7 102.6a1.2 1.2 0 1 0 2.5 0 1.2 1.2 0 1 0 -2.5 -0M184.1 104.7a1.2 1.2 0 1 0 2.5 0 1.2 1.2 0 1 0 -2.5 -0M186.3 104.4a1.2 1.2 0 1 0 2.5 0 1.2 1.2 0 1 0 -2.5 -0M188.5 105.4a1.2 1.2 0 1 0 2.5 0 1.2 1.2 0 1 0 -2.5 -0M183.5 107.5a1.2 1.2 0 1 0 2.5 0 1.2 1.2 0 1 0 -2.5 -0M186.4 107a1.2 1.2 0 1 0 2.5 0 1.2 1.2 0 1 0 -2.5 -0M189 107.5a1.2 1.2 0 1 0 2.5 0 1.2 1.2 0 1 0 -2.5 -0M183.8 110.1a1.2 1.2 0 1 0 2.5 0 1.2 1.2 0 1 0 -2.5 -0M186.2 108.9a1.2 1.2 0 1 0 2.5 0 1.2 1.2 0 1 0 -2.5 -0M188.4 110.1a1.2 1.2 0 1 0 2.5 0 1.2 1.2 0 1 0 -2.5 -0M184 112.2a1.2 1.2 0 1 0 2.5 0 1.2 1.2 0 1 0 -2.5 -0M186 112a1.2 1.2 0 1 0 2.5 0 1.2 1.2 0 1 0 -2.5 -0M188.4 112a1.2 1.2 0 1 0 2.5 0 1.2 1.2 0 1 0 -2.5 -0M186.1 113.9a1.2 1.2 0 1 0 2.5 0 1.2 1.2 0 1 0 -2.5 -0M184.8 116.9a1.2 1.2 0 1 0 2.5 0 1.2 1.2 0 1 0 -2.5 -0M187.7 116.9a1.2 1.2 0 1 0 2.5 0 1.2 1.2 0 1 0 -2.5 -0"/>
<line x1="180.00" y1="94.60" x2="195.00" y2="94.60" stroke="#4e5755" stroke-width="1.4"/>
<line x1="187.50" y1="85.78" x2="187.50" y2="103.00" stroke="#4e5755" stroke-width="1.3"/>
<line x1="184.10" y1="85.78" x2="190.90" y2="85.78" stroke="#4e5755" stroke-width="1.3"/>
<line x1="184.10" y1="103.00" x2="190.90" y2="103.00" stroke="#4e5755" stroke-width="1.3"/>
<text x="187.50" y="81.30" font-size="11.2" font-weight="bold" text-anchor="middle" fill="#1a1a1a">**</text>
<path fill="#f2b54a" d="M206.7 86.3a1.2 1.2 0 1 0 2.5 0 1.2 1.2 0 1 0 -2.5 -0M208.9 85.8a1.2 1.2 0 1 0 2.5 0 1.2 1.2 0 1 0 -2.5 -0M211.6 86.1a1.2 1.2 0 1 0 2.5 0 1.2 1.2 0 1 0 -2.5 -0M206.7 88.2a1.2 1.2 0 1 0 2.5 0 1.2 1.2 0 1 0 -2.5 -0M209.1 88.1a1.2 1.2 0 1 0 2.5 0 1.2 1.2 0 1 0 -2.5 -0M211.7 88.8a1.2 1.2 0 1 0 2.5 0 1.2 1.2 0 1 0 -2.5 -0M204.1 91.4a1.2 1.2 0 1 0 2.5 0 1.2 1.2 0 1 0 -2.5 -0M206.8 90.3a1.2 1.2 0 1 0 2.5 0 1.2 1.2 0 1 0 -2.5 -0M209.3 89.7a1.2 1.2 0 1 0 2.5 0 1.2 1.2 0 1 0 -2.5 -0M211.6 90.7a1.2 1.2 0 1 0 2.5 0 1.2 1.2 0 1 0 -2.5 -0M214.3 91.7a1.2 1.2 0 1 0 2.5 0 1.2 1.2 0 1 0 -2.5 -0M204 93.6a1.2 1.2 0 1 0 2.5 0 1.2 1.2 0 1 0 -2.5 -0M206.6 93.3a1.2 1.2 0 1 0 2.5 0 1.2 1.2 0 1 0 -2.5 -0M209.6 92.2a1.2 1.2 0 1 0 2.5 0 1.2 1.2 0 1 0 -2.5 -0M211.9 92.9a1.2 1.2 0 1 0 2.5 0 1.2 1.2 0 1 0 -2.5 -0M213.9 93.5a1.2 1.2 0 1 0 2.5 0 1.2 1.2 0 1 0 -2.5 -0M203 96a1.2 1.2 0 1 0 2.5 0 1.2 1.2 0 1 0 -2.5 -0M205.5 95.8a1.2 1.2 0 1 0 2.5 0 1.2 1.2 0 1 0 -2.5 -0M207.8 95a1.2 1.2 0 1 0 2.5 0 1.2 1.2 0 1 0 -2.5 -0M210.3 95.3a1.2 1.2 0 1 0 2.5 0 1.2 1.2 0 1 0 -2.5 -0M212.7 95.8a1.2 1.2 0 1 0 2.5 0 1.2 1.2 0 1 0 -2.5 -0M215 96.5a1.2 1.2 0 1 0 2.5 0 1.2 1.2 0 1 0 -2.5 -0M203.5 98.7a1.2 1.2 0 1 0 2.5 0 1.2 1.2 0 1 0 -2.5 -0M205.8 97.4a1.2 1.2 0 1 0 2.5 0 1.2 1.2 0 1 0 -2.5 -0M208.2 97.4a1.2 1.2 0 1 0 2.5 0 1.2 1.2 0 1 0 -2.5 -0M210.8 97.6a1.2 1.2 0 1 0 2.5 0 1.2 1.2 0 1 0 -2.5 -0M212.8 98.4a1.2 1.2 0 1 0 2.5 0 1.2 1.2 0 1 0 -2.5 -0M215.8 98.3a1.2 1.2 0 1 0 2.5 0 1.2 1.2 0 1 0 -2.5 -0M204.3 100.7a1.2 1.2 0 1 0 2.5 0 1.2 1.2 0 1 0 -2.5 -0M206.5 100.2a1.2 1.2 0 1 0 2.5 0 1.2 1.2 0 1 0 -2.5 -0M209.3 99.8a1.2 1.2 0 1 0 2.5 0 1.2 1.2 0 1 0 -2.5 -0M211.4 99.6a1.2 1.2 0 1 0 2.5 0 1.2 1.2 0 1 0 -2.5 -0M214.2 100.8a1.2 1.2 0 1 0 2.5 0 1.2 1.2 0 1 0 -2.5 -0M203.3 102.9a1.2 1.2 0 1 0 2.5 0 1.2 1.2 0 1 0 -2.5 -0M205.2 102.9a1.2 1.2 0 1 0 2.5 0 1.2 1.2 0 1 0 -2.5 -0M208.1 101.6a1.2 1.2 0 1 0 2.5 0 1.2 1.2 0 1 0 -2.5 -0M210.1 102.2a1.2 1.2 0 1 0 2.5 0 1.2 1.2 0 1 0 -2.5 -0M213.1 102.4a1.2 1.2 0 1 0 2.5 0 1.2 1.2 0 1 0 -2.5 -0M215.2 103.1a1.2 1.2 0 1 0 2.5 0 1.2 1.2 0 1 0 -2.5 -0M204.2 105a1.2 1.2 0 1 0 2.5 0 1.2 1.2 0 1 0 -2.5 -0M206.4 104.8a1.2 1.2 0 1 0 2.5 0 1.2 1.2 0 1 0 -2.5 -0M209.6 103.8a1.2 1.2 0 1 0 2.5 0 1.2 1.2 0 1 0 -2.5 -0M211.9 104.9a1.2 1.2 0 1 0 2.5 0 1.2 1.2 0 1 0 -2.5 -0M214 105.4a1.2 1.2 0 1 0 2.5 0 1.2 1.2 0 1 0 -2.5 -0M202.9 107.8a1.2 1.2 0 1 0 2.5 0 1.2 1.2 0 1 0 -2.5 -0M205.7 107.2a1.2 1.2 0 1 0 2.5 0 1.2 1.2 0 1 0 -2.5 -0M207.8 106.7a1.2 1.2 0 1 0 2.5 0 1.2 1.2 0 1 0 -2.5 -0M210.6 106.9a1.2 1.2 0 1 0 2.5 0 1.2 1.2 0 1 0 -2.5 -0M212.8 107.1a1.2 1.2 0 1 0 2.5 0 1.2 1.2 0 1 0 -2.5 -0M215.1 108a1.2 1.2 0 1 0 2.5 0 1.2 1.2 0 1 0 -2.5 -0M204.1 110.1a1.2 1.2 0 1 0 2.5 0 1.2 1.2 0 1 0 -2.5 -0M206.5 109.1a1.2 1.2 0 1 0 2.5 0 1.2 1.2 0 1 0 -2.5 -0M209.3 108.7a1.2 1.2 0 1 0 2.5 0 1.2 1.2 0 1 0 -2.5 -0M211.6 108.9a1.2 1.2 0 1 0 2.5 0 1.2 1.2 0 1 0 -2.5 -0M214.2 109.9a1.2 1.2 0 1 0 2.5 0 1.2 1.2 0 1 0 -2.5 -0M206.9 111.4a1.2 1.2 0 1 0 2.5 0 1.2 1.2 0 1 0 -2.5 -0M209.1 110.8a1.2 1.2 0 1 0 2.5 0 1.2 1.2 0 1 0 -2.5 -0M212 111.8a1.2 1.2 0 1 0 2.5 0 1.2 1.2 0 1 0 -2.5 -0M205.4 114.6a1.2 1.2 0 1 0 2.5 0 1.2 1.2 0 1 0 -2.5 -0M208.2 113.3a1.2 1.2 0 1 0 2.5 0 1.2 1.2 0 1 0 -2.5 -0M210.8 113.9a1.2 1.2 0 1 0 2.5 0 1.2 1.2 0 1 0 -2.5 -0M212.8 114.2a1.2 1.2 0 1 0 2.5 0 1.2 1.2 0 1 0 -2.5 -0M208 116a1.2 1.2 0 1 0 2.5 0 1.2 1.2 0 1 0 -2.5 -0M210.4 116.3a1.2 1.2 0 1 0 2.5 0 1.2 1.2 0 1 0 -2.5 -0M209.3 118.6a1.2 1.2 0 1 0 2.5 0 1.2 1.2 0 1 0 -2.5 -0M209.5 120.5a1.2 1.2 0 1 0 2.5 0 1.2 1.2 0 1 0 -2.5 -0"/>
<line x1="203.00" y1="99.50" x2="218.00" y2="99.50" stroke="#4e5755" stroke-width="1.4"/>
<line x1="210.50" y1="90.40" x2="210.50" y2="108.32" stroke="#4e5755" stroke-width="1.3"/>
<line x1="207.10" y1="90.40" x2="213.90" y2="90.40" stroke="#4e5755" stroke-width="1.3"/>
<line x1="207.10" y1="108.32" x2="213.90" y2="108.32" stroke="#4e5755" stroke-width="1.3"/>
<text x="210.50" y="84.30" font-size="11.2" font-weight="bold" text-anchor="middle" fill="#1a1a1a">***</text>
<path fill="#f4983e" d="M231.9 79.8a1.2 1.2 0 1 0 2.5 0 1.2 1.2 0 1 0 -2.5 -0M232.1 84.7a1.2 1.2 0 1 0 2.5 0 1.2 1.2 0 1 0 -2.5 -0M231.1 86.6a1.2 1.2 0 1 0 2.5 0 1.2 1.2 0 1 0 -2.5 -0M233.7 87.3a1.2 1.2 0 1 0 2.5 0 1.2 1.2 0 1 0 -2.5 -0M230.1 89.7a1.2 1.2 0 1 0 2.5 0 1.2 1.2 0 1 0 -2.5 -0M231.9 89a1.2 1.2 0 1 0 2.5 0 1.2 1.2 0 1 0 -2.5 -0M234.9 90a1.2 1.2 0 1 0 2.5 0 1.2 1.2 0 1 0 -2.5 -0M228.4 92.4a1.2 1.2 0 1 0 2.5 0 1.2 1.2 0 1 0 -2.5 -0M231.4 91.1a1.2 1.2 0 1 0 2.5 0 1.2 1.2 0 1 0 -2.5 -0M233.1 91.8a1.2 1.2 0 1 0 2.5 0 1.2 1.2 0 1 0 -2.5 -0M235.8 92a1.2 1.2 0 1 0 2.5 0 1.2 1.2 0 1 0 -2.5 -0M226.3 95.1a1.2 1.2 0 1 0 2.5 0 1.2 1.2 0 1 0 -2.5 -0M228.9 94.6a1.2 1.2 0 1 0 2.5 0 1.2 1.2 0 1 0 -2.5 -0M231.3 94a1.2 1.2 0 1 0 2.5 0 1.2 1.2 0 1 0 -2.5 -0M233.5 93.5a1.2 1.2 0 1 0 2.5 0 1.2 1.2 0 1 0 -2.5 -0M236.3 94.9a1.2 1.2 0 1 0 2.5 0 1.2 1.2 0 1 0 -2.5 -0M238.3 95.1a1.2 1.2 0 1 0 2.5 0 1.2 1.2 0 1 0 -2.5 -0M227.3 97.1a1.2 1.2 0 1 0 2.5 0 1.2 1.2 0 1 0 -2.5 -0M229.6 96.4a1.2 1.2 0 1 0 2.5 0 1.2 1.2 0 1 0 -2.5 -0M232.5 95.6a1.2 1.2 0 1 0 2.5 0 1.2 1.2 0 1 0 -2.5 -0M234.7 96a1.2 1.2 0 1 0 2.5 0 1.2 1.2 0 1 0 -2.5 -0M237.1 97.3a1.2 1.2 0 1 0 2.5 0 1.2 1.2 0 1 0 -2.5 -0M225.7 100a1.2 1.2 0 1 0 2.5 0 1.2 1.2 0 1 0 -2.5 -0M228.7 99a1.2 1.2 0 1 0 2.5 0 1.2 1.2 0 1 0 -2.5 -0M230.9 98.3a1.2 1.2 0 1 0 2.5 0 1.2 1.2 0 1 0 -2.5 -0M233.2 98.5a1.2 1.2 0 1 0 2.5 0 1.2 1.2 0 1 0 -2.5 -0M235.6 99.3a1.2 1.2 0 1 0 2.5 0 1.2 1.2 0 1 0 -2.5 -0M238.1 99.6a1.2 1.2 0 1 0 2.5 0 1.2 1.2 0 1 0 -2.5 -0M226 101.6a1.2 1.2 0 1 0 2.5 0 1.2 1.2 0 1 0 -2.5 -0M228.5 101.1a1.2 1.2 0 1 0 2.5 0 1.2 1.2 0 1 0 -2.5 -0M231.4 100.8a1.2 1.2 0 1 0 2.5 0 1.2 1.2 0 1 0 -2.5 -0M233.5 100.9a1.2 1.2 0 1 0 2.5 0 1.2 1.2 0 1 0 -2.5 -0M235.9 100.9a1.2 1.2 0 1 0 2.5 0 1.2 1.2 0 1 0 -2.5 -0M238 102.2a1.2 1.2 0 1 0 2.5 0 1.2 1.2 0 1 0 -2.5 -0M225.8 104.3a1.2 1.2 0 1 0 2.5 0 1.2 1.2 0 1 0 -2.5 -0M228.8 103.9a1.2 1.2 0 1 0 2.5 0 1.2 1.2 0 1 0 -2.5 -0M230.7 102.7a1.2 1.2 0 1 0 2.5 0 1.2 1.2 0 1 0 -2.5 -0M233.4 103.1a1.2 1.2 0 1 0 2.5 0 1.2 1.2 0 1 0 -2.5 -0M235.6 103.7a1.2 1.2 0 1 0 2.5 0 1.2 1.2 0 1 0 -2.5 -0M238.6 104.1a1.2 1.2 0 1 0 2.5 0 1.2 1.2 0 1 0 -2.5 -0M226 106.7a1.2 1.2 0 1 0 2.5 0 1.2 1.2 0 1 0 -2.5 -0M228.5 105.8a1.2 1.2 0 1 0 2.5 0 1.2 1.2 0 1 0 -2.5 -0M230.9 105.5a1.2 1.2 0 1 0 2.5 0 1.2 1.2 0 1 0 -2.5 -0M233.8 104.9a1.2 1.2 0 1 0 2.5 0 1.2 1.2 0 1 0 -2.5 -0M236 106.2a1.2 1.2 0 1 0 2.5 0 1.2 1.2 0 1 0 -2.5 -0M238.5 106.1a1.2 1.2 0 1 0 2.5 0 1.2 1.2 0 1 0 -2.5 -0M227.7 108a1.2 1.2 0 1 0 2.5 0 1.2 1.2 0 1 0 -2.5 -0M230.2 107.7a1.2 1.2 0 1 0 2.5 0 1.2 1.2 0 1 0 -2.5 -0M232.3 107.5a1.2 1.2 0 1 0 2.5 0 1.2 1.2 0 1 0 -2.5 -0M234.8 108a1.2 1.2 0 1 0 2.5 0 1.2 1.2 0 1 0 -2.5 -0M237.4 108.6a1.2 1.2 0 1 0 2.5 0 1.2 1.2 0 1 0 -2.5 -0M227.5 110.7a1.2 1.2 0 1 0 2.5 0 1.2 1.2 0 1 0 -2.5 -0M229.4 110.6a1.2 1.2 0 1 0 2.5 0 1.2 1.2 0 1 0 -2.5 -0M232 109.4a1.2 1.2 0 1 0 2.5 0 1.2 1.2 0 1 0 -2.5 -0M234.3 110.2a1.2 1.2 0 1 0 2.5 0 1.2 1.2 0 1 0 -2.5 -0M237 110.8a1.2 1.2 0 1 0 2.5 0 1.2 1.2 0 1 0 -2.5 -0M227.7 113.2a1.2 1.2 0 1 0 2.5 0 1.2 1.2 0 1 0 -2.5 -0M230.1 112.2a1.2 1.2 0 1 0 2.5 0 1.2 1.2 0 1 0 -2.5 -0M231.9 112.2a1.2 1.2 0 1 0 2.5 0 1.2 1.2 0 1 0 -2.5 -0M235.1 112.5a1.2 1.2 0 1 0 2.5 0 1.2 1.2 0 1 0 -2.5 -0M237.5 113.1a1.2 1.2 0 1 0 2.5 0 1.2 1.2 0 1 0 -2.5 -0M230.1 114.2a1.2 1.2 0 1 0 2.5 0 1.2 1.2 0 1 0 -2.5 -0M232.1 114.4a1.2 1.2 0 1 0 2.5 0 1.2 1.2 0 1 0 -2.5 -0M234.4 114.7a1.2 1.2 0 1 0 2.5 0 1.2 1.2 0 1 0 -2.5 -0M231 117a1.2 1.2 0 1 0 2.5 0 1.2 1.2 0 1 0 -2.5 -0M233.6 116.8a1.2 1.2 0 1 0 2.5 0 1.2 1.2 0 1 0 -2.5 -0M229.9 118.9a1.2 1.2 0 1 0 2.5 0 1.2 1.2 0 1 0 -2.5 -0M232.4 118.9a1.2 1.2 0 1 0 2.5 0 1.2 1.2 0 1 0 -2.5 -0M234.8 119.6a1.2 1.2 0 1 0 2.5 0 1.2 1.2 0 1 0 -2.5 -0M230.2 121.6a1.2 1.2 0 1 0 2.5 0 1.2 1.2 0 1 0 -2.5 -0M232.1 121.4a1.2 1.2 0 1 0 2.5 0 1.2 1.2 0 1 0 -2.5 -0M234.8 121.7a1.2 1.2 0 1 0 2.5 0 1.2 1.2 0 1 0 -2.5 -0M232.1 123.4a1.2 1.2 0 1 0 2.5 0 1.2 1.2 0 1 0 -2.5 -0"/>
<line x1="226.00" y1="100.34" x2="241.00" y2="100.34" stroke="#4e5755" stroke-width="1.4"/>
<line x1="233.50" y1="91.10" x2="233.50" y2="109.30" stroke="#4e5755" stroke-width="1.3"/>
<line x1="230.10" y1="91.10" x2="236.90" y2="91.10" stroke="#4e5755" stroke-width="1.3"/>
<line x1="230.10" y1="109.30" x2="236.90" y2="109.30" stroke="#4e5755" stroke-width="1.3"/>
<text x="233.50" y="80.30" font-size="11.2" font-weight="bold" text-anchor="middle" fill="#1a1a1a">***</text>
<path fill="#a348b4" d="M254.2 82.2a1.2 1.2 0 1 0 2.5 0 1.2 1.2 0 1 0 -2.5 -0M256.8 82.3a1.2 1.2 0 1 0 2.5 0 1.2 1.2 0 1 0 -2.5 -0M253.2 84.7a1.2 1.2 0 1 0 2.5 0 1.2 1.2 0 1 0 -2.5 -0M255 84.2a1.2 1.2 0 1 0 2.5 0 1.2 1.2 0 1 0 -2.5 -0M257.8 84.4a1.2 1.2 0 1 0 2.5 0 1.2 1.2 0 1 0 -2.5 -0M252.4 86.8a1.2 1.2 0 1 0 2.5 0 1.2 1.2 0 1 0 -2.5 -0M255 86.4a1.2 1.2 0 1 0 2.5 0 1.2 1.2 0 1 0 -2.5 -0M257.5 87.4a1.2 1.2 0 1 0 2.5 0 1.2 1.2 0 1 0 -2.5 -0M251.9 90a1.2 1.2 0 1 0 2.5 0 1.2 1.2 0 1 0 -2.5 -0M254.3 89.5a1.2 1.2 0 1 0 2.5 0 1.2 1.2 0 1 0 -2.5 -0M256.5 89.3a1.2 1.2 0 1 0 2.5 0 1.2 1.2 0 1 0 -2.5 -0M259.2 89.8a1.2 1.2 0 1 0 2.5 0 1.2 1.2 0 1 0 -2.5 -0M251.6 92a1.2 1.2 0 1 0 2.5 0 1.2 1.2 0 1 0 -2.5 -0M253.8 91.1a1.2 1.2 0 1 0 2.5 0 1.2 1.2 0 1 0 -2.5 -0M256.2 91.6a1.2 1.2 0 1 0 2.5 0 1.2 1.2 0 1 0 -2.5 -0M259.2 92.2a1.2 1.2 0 1 0 2.5 0 1.2 1.2 0 1 0 -2.5 -0M250 94.1a1.2 1.2 0 1 0 2.5 0 1.2 1.2 0 1 0 -2.5 -0M252.9 94a1.2 1.2 0 1 0 2.5 0 1.2 1.2 0 1 0 -2.5 -0M255.2 93.1a1.2 1.2 0 1 0 2.5 0 1.2 1.2 0 1 0 -2.5 -0M257.4 93.6a1.2 1.2 0 1 0 2.5 0 1.2 1.2 0 1 0 -2.5 -0M259.9 94.5a1.2 1.2 0 1 0 2.5 0 1.2 1.2 0 1 0 -2.5 -0M249.2 97a1.2 1.2 0 1 0 2.5 0 1.2 1.2 0 1 0 -2.5 -0M251.6 96.8a1.2 1.2 0 1 0 2.5 0 1.2 1.2 0 1 0 -2.5 -0M254.2 95.6a1.2 1.2 0 1 0 2.5 0 1.2 1.2 0 1 0 -2.5 -0M256.8 96.4a1.2 1.2 0 1 0 2.5 0 1.2 1.2 0 1 0 -2.5 -0M259.2 96.5a1.2 1.2 0 1 0 2.5 0 1.2 1.2 0 1 0 -2.5 -0M261.7 97.5a1.2 1.2 0 1 0 2.5 0 1.2 1.2 0 1 0 -2.5 -0M249.3 99.7a1.2 1.2 0 1 0 2.5 0 1.2 1.2 0 1 0 -2.5 -0M251.8 99.2a1.2 1.2 0 1 0 2.5 0 1.2 1.2 0 1 0 -2.5 -0M254 98.4a1.2 1.2 0 1 0 2.5 0 1.2 1.2 0 1 0 -2.5 -0M256.1 98.4a1.2 1.2 0 1 0 2.5 0 1.2 1.2 0 1 0 -2.5 -0M258.6 99a1.2 1.2 0 1 0 2.5 0 1.2 1.2 0 1 0 -2.5 -0M261.7 99.3a1.2 1.2 0 1 0 2.5 0 1.2 1.2 0 1 0 -2.5 -0M250 101.5a1.2 1.2 0 1 0 2.5 0 1.2 1.2 0 1 0 -2.5 -0M252.5 101.1a1.2 1.2 0 1 0 2.5 0 1.2 1.2 0 1 0 -2.5 -0M255.3 100.3a1.2 1.2 0 1 0 2.5 0 1.2 1.2 0 1 0 -2.5 -0M257.8 100.5a1.2 1.2 0 1 0 2.5 0 1.2 1.2 0 1 0 -2.5 -0M260.1 100.9a1.2 1.2 0 1 0 2.5 0 1.2 1.2 0 1 0 -2.5 -0M249.4 103.5a1.2 1.2 0 1 0 2.5 0 1.2 1.2 0 1 0 -2.5 -0M251.7 103.8a1.2 1.2 0 1 0 2.5 0 1.2 1.2 0 1 0 -2.5 -0M253.9 102.6a1.2 1.2 0 1 0 2.5 0 1.2 1.2 0 1 0 -2.5 -0M256.3 103.1a1.2 1.2 0 1 0 2.5 0 1.2 1.2 0 1 0 -2.5 -0M258.6 103.6a1.2 1.2 0 1 0 2.5 0 1.2 1.2 0 1 0 -2.5 -0M261.2 104.1a1.2 1.2 0 1 0 2.5 0 1.2 1.2 0 1 0 -2.5 -0M249.4 105.8a1.2 1.2 0 1 0 2.5 0 1.2 1.2 0 1 0 -2.5 -0M251.6 105.5a1.2 1.2 0 1 0 2.5 0 1.2 1.2 0 1 0 -2.5 -0M254.3 104.9a1.2 1.2 0 1 0 2.5 0 1.2 1.2 0 1 0 -2.5 -0M256.2 105a1.2 1.2 0 1 0 2.5 0 1.2 1.2 0 1 0 -2.5 -0M258.6 105.3a1.2 1.2 0 1 0 2.5 0 1.2 1.2 0 1 0 -2.5 -0M261.5 106.1a1.2 1.2 0 1 0 2.5 0 1.2 1.2 0 1 0 -2.5 -0M251.9 107.6a1.2 1.2 0 1 0 2.5 0 1.2 1.2 0 1 0 -2.5 -0M254.3 107.6a1.2 1.2 0 1 0 2.5 0 1.2 1.2 0 1 0 -2.5 -0M256.5 107.6a1.2 1.2 0 1 0 2.5 0 1.2 1.2 0 1 0 -2.5 -0M259 108.3a1.2 1.2 0 1 0 2.5 0 1.2 1.2 0 1 0 -2.5 -0M251.4 110.4a1.2 1.2 0 1 0 2.5 0 1.2 1.2 0 1 0 -2.5 -0M254 110.1a1.2 1.2 0 1 0 2.5 0 1.2 1.2 0 1 0 -2.5 -0M256.2 109.6a1.2 1.2 0 1 0 2.5 0 1.2 1.2 0 1 0 -2.5 -0M259.3 109.9a1.2 1.2 0 1 0 2.5 0 1.2 1.2 0 1 0 -2.5 -0M252.9 111.8a1.2 1.2 0 1 0 2.5 0 1.2 1.2 0 1 0 -2.5 -0M255.5 111.5a1.2 1.2 0 1 0 2.5 0 1.2 1.2 0 1 0 -2.5 -0M257.7 112.6a1.2 1.2 0 1 0 2.5 0 1.2 1.2 0 1 0 -2.5 -0M254.9 113.9a1.2 1.2 0 1 0 2.5 0 1.2 1.2 0 1 0 -2.5 -0M255.5 115.9a1.2 1.2 0 1 0 2.5 0 1.2 1.2 0 1 0 -2.5 -0"/>
<line x1="249.00" y1="98.10" x2="264.00" y2="98.10" stroke="#4e5755" stroke-width="1.4"/>
<line x1="256.50" y1="89.70" x2="256.50" y2="106.50" stroke="#4e5755" stroke-width="1.3"/>
<line x1="253.10" y1="89.70" x2="259.90" y2="89.70" stroke="#4e5755" stroke-width="1.3"/>
<line x1="253.10" y1="106.50" x2="259.90" y2="106.50" stroke="#4e5755" stroke-width="1.3"/>
<text x="256.50" y="84.30" font-size="11.2" font-weight="bold" text-anchor="middle" fill="#1a1a1a">***</text>
<line x1="353.00" y1="38.20" x2="353.00" y2="146.40" stroke="#222" stroke-width="1.3"/>
<line x1="352.40" y1="145.80" x2="520.10" y2="145.80" stroke="#222" stroke-width="1.3"/>
<line x1="349.50" y1="145.80" x2="353.00" y2="145.80" stroke="#222" stroke-width="1.2"/>
<text x="349.50" y="149.00" font-size="8.6" font-weight="bold" text-anchor="end" fill="#111">0</text>
<line x1="349.50" y1="124.38" x2="353.00" y2="124.38" stroke="#222" stroke-width="1.2"/>
<text x="349.50" y="127.58" font-size="8.6" font-weight="bold" text-anchor="end" fill="#111">20</text>
<line x1="349.50" y1="102.96" x2="353.00" y2="102.96" stroke="#222" stroke-width="1.2"/>
<text x="349.50" y="106.16" font-size="8.6" font-weight="bold" text-anchor="end" fill="#111">40</text>
<line x1="349.50" y1="81.54" x2="353.00" y2="81.54" stroke="#222" stroke-width="1.2"/>
<text x="349.50" y="84.74" font-size="8.6" font-weight="bold" text-anchor="end" fill="#111">60</text>
<line x1="349.50" y1="60.12" x2="353.00" y2="60.12" stroke="#222" stroke-width="1.2"/>
<text x="349.50" y="63.32" font-size="8.6" font-weight="bold" text-anchor="end" fill="#111">80</text>
<line x1="349.50" y1="38.70" x2="353.00" y2="38.70" stroke="#222" stroke-width="1.2"/>
<text x="349.50" y="41.90" font-size="8.6" font-weight="bold" text-anchor="end" fill="#111">100</text>
<line x1="353.00" y1="145.80" x2="353.00" y2="149.30" stroke="#222" stroke-width="1.2"/>
<text x="353.00" y="159.00" font-size="8.6" font-weight="bold" text-anchor="middle" fill="#111">0</text>
<line x1="386.30" y1="145.80" x2="386.30" y2="149.30" stroke="#222" stroke-width="1.2"/>
<text x="386.30" y="159.00" font-size="8.6" font-weight="bold" text-anchor="middle" fill="#111">50</text>
<line x1="419.60" y1="145.80" x2="419.60" y2="149.30" stroke="#222" stroke-width="1.2"/>
<text x="419.60" y="159.00" font-size="8.6" font-weight="bold" text-anchor="middle" fill="#111">100</text>
<line x1="452.90" y1="145.80" x2="452.90" y2="149.30" stroke="#222" stroke-width="1.2"/>
<text x="452.90" y="159.00" font-size="8.6" font-weight="bold" text-anchor="middle" fill="#111">150</text>
<line x1="486.20" y1="145.80" x2="486.20" y2="149.30" stroke="#222" stroke-width="1.2"/>
<text x="486.20" y="159.00" font-size="8.6" font-weight="bold" text-anchor="middle" fill="#111">200</text>
<line x1="519.50" y1="145.80" x2="519.50" y2="149.30" stroke="#222" stroke-width="1.2"/>
<text x="519.50" y="159.00" font-size="8.6" font-weight="bold" text-anchor="middle" fill="#111">250</text>
<text x="436.70" y="169.50" font-size="9" font-weight="bold" text-anchor="middle" fill="#111">Time(min)</text>
<text x="330.30" y="93.60" font-size="8.7" font-weight="bold" text-anchor="middle" fill="#111" transform="rotate(-90 330.30 93.60)">Water loss %</text>
<line x1="376.31" y1="115.28" x2="376.31" y2="127.06" stroke="#f5b27a" stroke-width="0.8" opacity="0.75"/>
<line x1="382.97" y1="111.42" x2="382.97" y2="123.20" stroke="#f5b27a" stroke-width="0.8" opacity="0.75"/>
<line x1="389.63" y1="107.46" x2="389.63" y2="119.24" stroke="#f5b27a" stroke-width="0.8" opacity="0.75"/>
<line x1="396.29" y1="103.50" x2="396.29" y2="115.28" stroke="#f5b27a" stroke-width="0.8" opacity="0.75"/>
<line x1="409.61" y1="99.21" x2="409.61" y2="110.99" stroke="#f5b27a" stroke-width="0.8" opacity="0.75"/>
<line x1="422.93" y1="94.93" x2="422.93" y2="106.71" stroke="#f5b27a" stroke-width="0.8" opacity="0.75"/>
<line x1="432.92" y1="91.18" x2="432.92" y2="102.96" stroke="#f5b27a" stroke-width="0.8" opacity="0.75"/>
<line x1="442.91" y1="88.50" x2="442.91" y2="100.28" stroke="#f5b27a" stroke-width="0.8" opacity="0.75"/>
<line x1="452.90" y1="85.29" x2="452.90" y2="97.07" stroke="#f5b27a" stroke-width="0.8" opacity="0.75"/>
<line x1="462.89" y1="82.29" x2="462.89" y2="94.07" stroke="#f5b27a" stroke-width="0.8" opacity="0.75"/>
<line x1="472.88" y1="79.61" x2="472.88" y2="91.39" stroke="#f5b27a" stroke-width="0.8" opacity="0.75"/>
<line x1="482.87" y1="77.47" x2="482.87" y2="89.25" stroke="#f5b27a" stroke-width="0.8" opacity="0.75"/>
<line x1="489.53" y1="73.51" x2="489.53" y2="85.29" stroke="#f5b27a" stroke-width="0.8" opacity="0.75"/>
<line x1="496.19" y1="72.44" x2="496.19" y2="84.22" stroke="#f5b27a" stroke-width="0.8" opacity="0.75"/>
<line x1="502.85" y1="72.44" x2="502.85" y2="84.22" stroke="#f5b27a" stroke-width="0.8" opacity="0.75"/>
<line x1="376.31" y1="126.95" x2="376.31" y2="137.66" stroke="#3ec43e" stroke-width="0.8" opacity="0.75"/>
<line x1="382.97" y1="123.31" x2="382.97" y2="134.02" stroke="#3ec43e" stroke-width="0.8" opacity="0.75"/>
<line x1="389.63" y1="120.74" x2="389.63" y2="131.45" stroke="#3ec43e" stroke-width="0.8" opacity="0.75"/>
<line x1="396.29" y1="117.95" x2="396.29" y2="128.66" stroke="#3ec43e" stroke-width="0.8" opacity="0.75"/>
<line x1="409.61" y1="114.42" x2="409.61" y2="125.13" stroke="#3ec43e" stroke-width="0.8" opacity="0.75"/>
<line x1="422.93" y1="109.92" x2="422.93" y2="120.63" stroke="#3ec43e" stroke-width="0.8" opacity="0.75"/>
<line x1="432.92" y1="106.71" x2="432.92" y2="117.42" stroke="#3ec43e" stroke-width="0.8" opacity="0.75"/>
<line x1="442.91" y1="100.82" x2="442.91" y2="111.53" stroke="#3ec43e" stroke-width="0.8" opacity="0.75"/>
<line x1="452.90" y1="96.32" x2="452.90" y2="107.03" stroke="#3ec43e" stroke-width="0.8" opacity="0.75"/>
<line x1="462.89" y1="92.79" x2="462.89" y2="103.50" stroke="#3ec43e" stroke-width="0.8" opacity="0.75"/>
<line x1="472.88" y1="92.25" x2="472.88" y2="102.96" stroke="#3ec43e" stroke-width="0.8" opacity="0.75"/>
<line x1="482.87" y1="89.47" x2="482.87" y2="100.18" stroke="#3ec43e" stroke-width="0.8" opacity="0.75"/>
<line x1="489.53" y1="88.18" x2="489.53" y2="98.89" stroke="#3ec43e" stroke-width="0.8" opacity="0.75"/>
<line x1="496.19" y1="85.82" x2="496.19" y2="96.53" stroke="#3ec43e" stroke-width="0.8" opacity="0.75"/>
<line x1="502.85" y1="86.36" x2="502.85" y2="97.07" stroke="#3ec43e" stroke-width="0.8" opacity="0.75"/>
<line x1="376.31" y1="122.24" x2="376.31" y2="135.09" stroke="#e77ac8" stroke-width="0.8" opacity="0.75"/>
<line x1="382.97" y1="115.81" x2="382.97" y2="128.66" stroke="#e77ac8" stroke-width="0.8" opacity="0.75"/>
<line x1="389.63" y1="112.60" x2="389.63" y2="125.45" stroke="#e77ac8" stroke-width="0.8" opacity="0.75"/>
<line x1="396.29" y1="109.81" x2="396.29" y2="122.67" stroke="#e77ac8" stroke-width="0.8" opacity="0.75"/>
<line x1="409.61" y1="105.42" x2="409.61" y2="118.28" stroke="#e77ac8" stroke-width="0.8" opacity="0.75"/>
<line x1="422.93" y1="101.46" x2="422.93" y2="114.31" stroke="#e77ac8" stroke-width="0.8" opacity="0.75"/>
<line x1="432.92" y1="96.53" x2="432.92" y2="109.39" stroke="#e77ac8" stroke-width="0.8" opacity="0.75"/>
<line x1="442.91" y1="93.86" x2="442.91" y2="106.71" stroke="#e77ac8" stroke-width="0.8" opacity="0.75"/>
<line x1="452.90" y1="89.68" x2="452.90" y2="102.53" stroke="#e77ac8" stroke-width="0.8" opacity="0.75"/>
<line x1="462.89" y1="87.32" x2="462.89" y2="100.18" stroke="#e77ac8" stroke-width="0.8" opacity="0.75"/>
<line x1="472.88" y1="85.50" x2="472.88" y2="98.35" stroke="#e77ac8" stroke-width="0.8" opacity="0.75"/>
<line x1="482.87" y1="83.68" x2="482.87" y2="96.53" stroke="#e77ac8" stroke-width="0.8" opacity="0.75"/>
<line x1="489.53" y1="82.61" x2="489.53" y2="95.46" stroke="#e77ac8" stroke-width="0.8" opacity="0.75"/>
<line x1="496.19" y1="81.54" x2="496.19" y2="94.39" stroke="#e77ac8" stroke-width="0.8" opacity="0.75"/>
<line x1="502.85" y1="81.22" x2="502.85" y2="94.07" stroke="#e77ac8" stroke-width="0.8" opacity="0.75"/>
<line x1="376.31" y1="126.52" x2="376.31" y2="132.95" stroke="#111" stroke-width="0.8" opacity="0.75"/>
<line x1="382.97" y1="120.10" x2="382.97" y2="126.52" stroke="#111" stroke-width="0.8" opacity="0.75"/>
<line x1="389.63" y1="116.88" x2="389.63" y2="123.31" stroke="#111" stroke-width="0.8" opacity="0.75"/>
<line x1="396.29" y1="114.10" x2="396.29" y2="120.52" stroke="#111" stroke-width="0.8" opacity="0.75"/>
<line x1="409.61" y1="109.71" x2="409.61" y2="116.13" stroke="#111" stroke-width="0.8" opacity="0.75"/>
<line x1="422.93" y1="105.74" x2="422.93" y2="112.17" stroke="#111" stroke-width="0.8" opacity="0.75"/>
<line x1="432.92" y1="100.82" x2="432.92" y2="107.24" stroke="#111" stroke-width="0.8" opacity="0.75"/>
<line x1="442.91" y1="98.14" x2="442.91" y2="104.57" stroke="#111" stroke-width="0.8" opacity="0.75"/>
<line x1="452.90" y1="93.96" x2="452.90" y2="100.39" stroke="#111" stroke-width="0.8" opacity="0.75"/>
<line x1="462.89" y1="91.61" x2="462.89" y2="98.03" stroke="#111" stroke-width="0.8" opacity="0.75"/>
<line x1="472.88" y1="89.79" x2="472.88" y2="96.21" stroke="#111" stroke-width="0.8" opacity="0.75"/>
<line x1="482.87" y1="87.97" x2="482.87" y2="94.39" stroke="#111" stroke-width="0.8" opacity="0.75"/>
<line x1="489.53" y1="86.90" x2="489.53" y2="93.32" stroke="#111" stroke-width="0.8" opacity="0.75"/>
<line x1="496.19" y1="85.82" x2="496.19" y2="92.25" stroke="#111" stroke-width="0.8" opacity="0.75"/>
<line x1="502.85" y1="85.50" x2="502.85" y2="91.93" stroke="#111" stroke-width="0.8" opacity="0.75"/>
<line x1="376.31" y1="126.84" x2="376.31" y2="135.41" stroke="#e8367a" stroke-width="0.8" opacity="0.75"/>
<line x1="382.97" y1="120.42" x2="382.97" y2="128.99" stroke="#e8367a" stroke-width="0.8" opacity="0.75"/>
<line x1="389.63" y1="117.20" x2="389.63" y2="125.77" stroke="#e8367a" stroke-width="0.8" opacity="0.75"/>
<line x1="396.29" y1="114.42" x2="396.29" y2="122.99" stroke="#e8367a" stroke-width="0.8" opacity="0.75"/>
<line x1="409.61" y1="110.03" x2="409.61" y2="118.60" stroke="#e8367a" stroke-width="0.8" opacity="0.75"/>
<line x1="422.93" y1="106.07" x2="422.93" y2="114.63" stroke="#e8367a" stroke-width="0.8" opacity="0.75"/>
<line x1="432.92" y1="101.14" x2="432.92" y2="109.71" stroke="#e8367a" stroke-width="0.8" opacity="0.75"/>
<line x1="442.91" y1="98.46" x2="442.91" y2="107.03" stroke="#e8367a" stroke-width="0.8" opacity="0.75"/>
<line x1="452.90" y1="94.28" x2="452.90" y2="102.85" stroke="#e8367a" stroke-width="0.8" opacity="0.75"/>
<line x1="462.89" y1="91.93" x2="462.89" y2="100.50" stroke="#e8367a" stroke-width="0.8" opacity="0.75"/>
<line x1="472.88" y1="90.11" x2="472.88" y2="98.68" stroke="#e8367a" stroke-width="0.8" opacity="0.75"/>
<line x1="482.87" y1="88.29" x2="482.87" y2="96.86" stroke="#e8367a" stroke-width="0.8" opacity="0.75"/>
<line x1="489.53" y1="87.22" x2="489.53" y2="95.78" stroke="#e8367a" stroke-width="0.8" opacity="0.75"/>
<line x1="496.19" y1="86.15" x2="496.19" y2="94.71" stroke="#e8367a" stroke-width="0.8" opacity="0.75"/>
<line x1="502.85" y1="85.82" x2="502.85" y2="94.39" stroke="#e8367a" stroke-width="0.8" opacity="0.75"/>
<polyline points="353.00,145.80 376.31,121.17 382.97,117.31 389.63,113.35 396.29,109.39 409.61,105.10 422.93,100.82 432.92,97.07 442.91,94.39 452.90,91.18 462.89,88.18 472.88,85.50 482.87,83.36 489.53,79.40 496.19,78.33 502.85,78.33" fill="none" stroke="#f5b27a" stroke-width="1.1"/>
<polyline points="353.00,145.80 376.31,132.31 382.97,128.66 389.63,126.09 396.29,123.31 409.61,119.77 422.93,115.28 432.92,112.06 442.91,106.17 452.90,101.67 462.89,98.14 472.88,97.61 482.87,94.82 489.53,93.54 496.19,91.18 502.85,91.71" fill="none" stroke="#3ec43e" stroke-width="1.1"/>
<polyline points="353.00,145.80 376.31,128.66 382.97,122.24 389.63,119.03 396.29,116.24 409.61,111.85 422.93,107.89 432.92,102.96 442.91,100.28 452.90,96.11 462.89,93.75 472.88,91.93 482.87,90.11 489.53,89.04 496.19,87.97 502.85,87.64" fill="none" stroke="#e77ac8" stroke-width="1.1"/>
<polyline points="353.00,145.80 376.31,129.74 382.97,123.31 389.63,120.10 396.29,117.31 409.61,112.92 422.93,108.96 432.92,104.03 442.91,101.35 452.90,97.18 462.89,94.82 472.88,93.00 482.87,91.18 489.53,90.11 496.19,89.04 502.85,88.72" fill="none" stroke="#111" stroke-width="1.4"/>
<polyline points="353.00,145.80 376.31,131.13 382.97,124.70 389.63,121.49 396.29,118.70 409.61,114.31 422.93,110.35 432.92,105.42 442.91,102.75 452.90,98.57 462.89,96.21 472.88,94.39 482.87,92.57 489.53,91.50 496.19,90.43 502.85,90.11" fill="none" stroke="#e8367a" stroke-width="1.1"/>
<line x1="365.70" y1="40.60" x2="377.70" y2="40.60" stroke="#f5b27a" stroke-width="1.4"/>
<text x="385.00" y="43.80" font-size="9" font-weight="bold" text-anchor="start" fill="#111">DMSO</text>
<line x1="365.70" y1="49.90" x2="377.70" y2="49.90" stroke="#3ec43e" stroke-width="1.4"/>
<text x="385.00" y="53.10" font-size="9" font-weight="bold" text-anchor="start" fill="#111">50 μM ABA</text>
<line x1="365.70" y1="59.20" x2="377.70" y2="59.20" stroke="#e77ac8" stroke-width="1.4"/>
<text x="385.00" y="62.40" font-size="9" font-weight="bold" text-anchor="start" fill="#111">50 μM SLG1</text>
<line x1="365.70" y1="68.50" x2="377.70" y2="68.50" stroke="#111" stroke-width="1.4"/>
<text x="385.00" y="71.70" font-size="9" font-weight="bold" text-anchor="start" fill="#111">100 μM SLG1</text>
<line x1="365.70" y1="77.80" x2="377.70" y2="77.80" stroke="#e8367a" stroke-width="1.4"/>
<text x="385.00" y="81.00" font-size="9" font-weight="bold" text-anchor="start" fill="#111">200 μM SLG1</text>
<rect x="358.90" y="269.57" width="23.6" height="45.63" fill="#000"/>
<line x1="370.70" y1="269.57" x2="370.70" y2="264.95" stroke="#000" stroke-width="1.4"/>
<line x1="365.20" y1="264.95" x2="376.20" y2="264.95" stroke="#000" stroke-width="1.5"/>
<rect x="391.60" y="227.16" width="23.6" height="88.04" fill="#000"/>
<line x1="403.40" y1="227.16" x2="403.40" y2="224.75" stroke="#000" stroke-width="1.4"/>
<line x1="397.90" y1="224.75" x2="408.90" y2="224.75" stroke="#000" stroke-width="1.5"/>
<text x="403.40" y="221.75" font-size="9" font-weight="bold" text-anchor="middle" fill="#222">***</text>
<rect x="425.00" y="238.42" width="23.6" height="76.78" fill="#000"/>
<line x1="436.80" y1="238.42" x2="436.80" y2="230.98" stroke="#000" stroke-width="1.4"/>
<line x1="431.30" y1="230.98" x2="442.30" y2="230.98" stroke="#000" stroke-width="1.5"/>
<text x="436.80" y="227.98" font-size="9" font-weight="bold" text-anchor="middle" fill="#222">**</text>
<rect x="458.00" y="240.93" width="23.6" height="74.27" fill="#000"/>
<line x1="469.80" y1="240.93" x2="469.80" y2="231.78" stroke="#000" stroke-width="1.4"/>
<line x1="464.30" y1="231.78" x2="475.30" y2="231.78" stroke="#000" stroke-width="1.5"/>
<text x="469.80" y="228.78" font-size="9" font-weight="bold" text-anchor="middle" fill="#222">**</text>
<rect x="491.10" y="234.00" width="23.6" height="81.20" fill="#000"/>
<line x1="502.90" y1="234.00" x2="502.90" y2="227.76" stroke="#000" stroke-width="1.4"/>
<line x1="497.40" y1="227.76" x2="508.40" y2="227.76" stroke="#000" stroke-width="1.5"/>
<text x="502.90" y="224.76" font-size="9" font-weight="bold" text-anchor="middle" fill="#222">***</text>
<line x1="353.00" y1="214.20" x2="353.00" y2="315.80" stroke="#222" stroke-width="1.3"/>
<line x1="352.40" y1="315.20" x2="520.00" y2="315.20" stroke="#222" stroke-width="1.3"/>
<line x1="349.50" y1="315.20" x2="353.00" y2="315.20" stroke="#222" stroke-width="1.2"/>
<text x="349.50" y="318.40" font-size="8.6" font-weight="bold" text-anchor="end" fill="#111">0</text>
<line x1="349.50" y1="295.10" x2="353.00" y2="295.10" stroke="#222" stroke-width="1.2"/>
<text x="349.50" y="298.30" font-size="8.6" font-weight="bold" text-anchor="end" fill="#111">20</text>
<line x1="349.50" y1="275.00" x2="353.00" y2="275.00" stroke="#222" stroke-width="1.2"/>
<text x="349.50" y="278.20" font-size="8.6" font-weight="bold" text-anchor="end" fill="#111">40</text>
<line x1="349.50" y1="254.90" x2="353.00" y2="254.90" stroke="#222" stroke-width="1.2"/>
<text x="349.50" y="258.10" font-size="8.6" font-weight="bold" text-anchor="end" fill="#111">60</text>
<line x1="349.50" y1="234.80" x2="353.00" y2="234.80" stroke="#222" stroke-width="1.2"/>
<text x="349.50" y="238.00" font-size="8.6" font-weight="bold" text-anchor="end" fill="#111">80</text>
<line x1="349.50" y1="214.70" x2="353.00" y2="214.70" stroke="#222" stroke-width="1.2"/>
<text x="349.50" y="217.90" font-size="8.6" font-weight="bold" text-anchor="end" fill="#111">100</text>
<line x1="370.70" y1="315.20" x2="370.70" y2="318.20" stroke="#222" stroke-width="1.2"/>
<text x="372.50" y="325.40" font-size="8.2" font-weight="bold" text-anchor="end" fill="#111" transform="rotate(-43 372.50 325.40)">DMSO</text>
<line x1="403.40" y1="315.20" x2="403.40" y2="318.20" stroke="#222" stroke-width="1.2"/>
<text x="405.20" y="325.40" font-size="8.2" font-weight="bold" text-anchor="end" fill="#111" transform="rotate(-43 405.20 325.40)">50 μM ABA</text>
<line x1="436.80" y1="315.20" x2="436.80" y2="318.20" stroke="#222" stroke-width="1.2"/>
<text x="438.60" y="325.40" font-size="8.2" font-weight="bold" text-anchor="end" fill="#111" transform="rotate(-43 438.60 325.40)">50 μM SLG1</text>
<line x1="469.80" y1="315.20" x2="469.80" y2="318.20" stroke="#222" stroke-width="1.2"/>
<text x="471.60" y="325.40" font-size="8.2" font-weight="bold" text-anchor="end" fill="#111" transform="rotate(-43 471.60 325.40)">100 μM SLG1</text>
<line x1="502.90" y1="315.20" x2="502.90" y2="318.20" stroke="#222" stroke-width="1.2"/>
<text x="504.70" y="325.40" font-size="8.2" font-weight="bold" text-anchor="end" fill="#111" transform="rotate(-43 504.70 325.40)">200 μM SLG1</text>
<text x="330.00" y="265.00" font-size="9.1" font-weight="bold" text-anchor="middle" fill="#111" transform="rotate(-90 330.00 265.00)">Survial Rate %</text>
<polyline points="362.70,395.20 380.90,396.65 399.10,396.17 417.30,393.26 435.50,393.75 453.70,393.26 471.90,393.75 490.10,396.65 508.30,394.23 526.50,397.14" fill="none" stroke="#f07f2c" stroke-width="1.4"/>
<line x1="362.70" y1="394.23" x2="362.70" y2="396.17" stroke="#f07f2c" stroke-width="1.1"/>
<line x1="360.20" y1="394.23" x2="365.20" y2="394.23" stroke="#f07f2c" stroke-width="1.1"/>
<line x1="360.20" y1="396.17" x2="365.20" y2="396.17" stroke="#f07f2c" stroke-width="1.1"/>
<rect x="360.70" y="393.60" width="4" height="3.2" fill="#f07f2c"/>
<line x1="380.90" y1="393.75" x2="380.90" y2="399.56" stroke="#f07f2c" stroke-width="1.1"/>
<line x1="378.40" y1="393.75" x2="383.40" y2="393.75" stroke="#f07f2c" stroke-width="1.1"/>
<line x1="378.40" y1="399.56" x2="383.40" y2="399.56" stroke="#f07f2c" stroke-width="1.1"/>
<rect x="378.90" y="395.05" width="4" height="3.2" fill="#f07f2c"/>
<line x1="399.10" y1="390.83" x2="399.10" y2="401.50" stroke="#f07f2c" stroke-width="1.1"/>
<line x1="396.60" y1="390.83" x2="401.60" y2="390.83" stroke="#f07f2c" stroke-width="1.1"/>
<line x1="396.60" y1="401.50" x2="401.60" y2="401.50" stroke="#f07f2c" stroke-width="1.1"/>
<rect x="397.10" y="394.57" width="4" height="3.2" fill="#f07f2c"/>
<line x1="417.30" y1="392.29" x2="417.30" y2="394.23" stroke="#f07f2c" stroke-width="1.1"/>
<line x1="414.80" y1="392.29" x2="419.80" y2="392.29" stroke="#f07f2c" stroke-width="1.1"/>
<line x1="414.80" y1="394.23" x2="419.80" y2="394.23" stroke="#f07f2c" stroke-width="1.1"/>
<rect x="415.30" y="391.66" width="4" height="3.2" fill="#f07f2c"/>
<rect x="433.50" y="392.14" width="4" height="3.2" fill="#f07f2c"/>
<line x1="453.70" y1="390.35" x2="453.70" y2="396.17" stroke="#f07f2c" stroke-width="1.1"/>
<line x1="451.20" y1="390.35" x2="456.20" y2="390.35" stroke="#f07f2c" stroke-width="1.1"/>
<line x1="451.20" y1="396.17" x2="456.20" y2="396.17" stroke="#f07f2c" stroke-width="1.1"/>
<rect x="451.70" y="391.66" width="4" height="3.2" fill="#f07f2c"/>
<rect x="469.90" y="392.14" width="4" height="3.2" fill="#f07f2c"/>
<line x1="490.10" y1="394.72" x2="490.10" y2="398.59" stroke="#f07f2c" stroke-width="1.1"/>
<line x1="487.60" y1="394.72" x2="492.60" y2="394.72" stroke="#f07f2c" stroke-width="1.1"/>
<line x1="487.60" y1="398.59" x2="492.60" y2="398.59" stroke="#f07f2c" stroke-width="1.1"/>
<rect x="488.10" y="395.05" width="4" height="3.2" fill="#f07f2c"/>
<line x1="508.30" y1="393.26" x2="508.30" y2="395.20" stroke="#f07f2c" stroke-width="1.1"/>
<line x1="505.80" y1="393.26" x2="510.80" y2="393.26" stroke="#f07f2c" stroke-width="1.1"/>
<line x1="505.80" y1="395.20" x2="510.80" y2="395.20" stroke="#f07f2c" stroke-width="1.1"/>
<rect x="506.30" y="392.63" width="4" height="3.2" fill="#f07f2c"/>
<rect x="524.50" y="395.54" width="4" height="3.2" fill="#f07f2c"/>
<polyline points="362.70,395.20 380.90,393.26 399.10,400.05 417.30,402.47 435.50,407.81 453.70,414.60 471.90,446.12 490.10,475.71 508.30,479.10 526.50,482.01" fill="none" stroke="#2a9fe0" stroke-width="1.4"/>
<line x1="362.70" y1="394.23" x2="362.70" y2="396.17" stroke="#2a9fe0" stroke-width="1.1"/>
<line x1="360.20" y1="394.23" x2="365.20" y2="394.23" stroke="#2a9fe0" stroke-width="1.1"/>
<line x1="360.20" y1="396.17" x2="365.20" y2="396.17" stroke="#2a9fe0" stroke-width="1.1"/>
<rect x="360.70" y="393.60" width="4" height="3.2" fill="#2a9fe0"/>
<line x1="380.90" y1="391.81" x2="380.90" y2="394.71" stroke="#2a9fe0" stroke-width="1.1"/>
<line x1="378.40" y1="391.81" x2="383.40" y2="391.81" stroke="#2a9fe0" stroke-width="1.1"/>
<line x1="378.40" y1="394.71" x2="383.40" y2="394.71" stroke="#2a9fe0" stroke-width="1.1"/>
<rect x="378.90" y="391.66" width="4" height="3.2" fill="#2a9fe0"/>
<line x1="399.10" y1="397.14" x2="399.10" y2="402.96" stroke="#2a9fe0" stroke-width="1.1"/>
<line x1="396.60" y1="397.14" x2="401.60" y2="397.14" stroke="#2a9fe0" stroke-width="1.1"/>
<line x1="396.60" y1="402.96" x2="401.60" y2="402.96" stroke="#2a9fe0" stroke-width="1.1"/>
<rect x="397.10" y="398.45" width="4" height="3.2" fill="#2a9fe0"/>
<line x1="417.30" y1="400.53" x2="417.30" y2="404.41" stroke="#2a9fe0" stroke-width="1.1"/>
<line x1="414.80" y1="400.53" x2="419.80" y2="400.53" stroke="#2a9fe0" stroke-width="1.1"/>
<line x1="414.80" y1="404.41" x2="419.80" y2="404.41" stroke="#2a9fe0" stroke-width="1.1"/>
<rect x="415.30" y="400.87" width="4" height="3.2" fill="#2a9fe0"/>
<rect x="433.50" y="406.21" width="4" height="3.2" fill="#2a9fe0"/>
<line x1="453.70" y1="412.66" x2="453.70" y2="416.54" stroke="#2a9fe0" stroke-width="1.1"/>
<line x1="451.20" y1="412.66" x2="456.20" y2="412.66" stroke="#2a9fe0" stroke-width="1.1"/>
<line x1="451.20" y1="416.54" x2="456.20" y2="416.54" stroke="#2a9fe0" stroke-width="1.1"/>
<rect x="451.70" y="413.00" width="4" height="3.2" fill="#2a9fe0"/>
<line x1="471.90" y1="436.43" x2="471.90" y2="455.82" stroke="#2a9fe0" stroke-width="1.1"/>
<line x1="469.40" y1="436.43" x2="474.40" y2="436.43" stroke="#2a9fe0" stroke-width="1.1"/>
<line x1="469.40" y1="455.82" x2="474.40" y2="455.82" stroke="#2a9fe0" stroke-width="1.1"/>
<rect x="469.90" y="444.52" width="4" height="3.2" fill="#2a9fe0"/>
<line x1="490.10" y1="472.80" x2="490.10" y2="478.62" stroke="#2a9fe0" stroke-width="1.1"/>
<line x1="487.60" y1="472.80" x2="492.60" y2="472.80" stroke="#2a9fe0" stroke-width="1.1"/>
<line x1="487.60" y1="478.62" x2="492.60" y2="478.62" stroke="#2a9fe0" stroke-width="1.1"/>
<rect x="488.10" y="474.11" width="4" height="3.2" fill="#2a9fe0"/>
<rect x="506.30" y="477.50" width="4" height="3.2" fill="#2a9fe0"/>
<line x1="526.50" y1="480.07" x2="526.50" y2="483.95" stroke="#2a9fe0" stroke-width="1.1"/>
<line x1="524.00" y1="480.07" x2="529.00" y2="480.07" stroke="#2a9fe0" stroke-width="1.1"/>
<line x1="524.00" y1="483.95" x2="529.00" y2="483.95" stroke="#2a9fe0" stroke-width="1.1"/>
<rect x="524.50" y="480.41" width="4" height="3.2" fill="#2a9fe0"/>
<text x="417.30" y="400.80" font-size="9" font-weight="bold" text-anchor="middle" fill="#222">**</text>
<text x="435.50" y="407.80" font-size="9" font-weight="bold" text-anchor="middle" fill="#222">****</text>
<text x="453.70" y="413.30" font-size="9" font-weight="bold" text-anchor="middle" fill="#222">****</text>
<text x="471.90" y="436.30" font-size="9" font-weight="bold" text-anchor="middle" fill="#222">****</text>
<text x="490.10" y="472.50" font-size="9" font-weight="bold" text-anchor="middle" fill="#222">****</text>
<text x="508.30" y="478.50" font-size="9" font-weight="bold" text-anchor="middle" fill="#222">****</text>
<text x="526.50" y="480.30" font-size="9" font-weight="bold" text-anchor="middle" fill="#222">****</text>
<line x1="353.60" y1="375.30" x2="353.60" y2="492.80" stroke="#222" stroke-width="1.1"/>
<line x1="353.10" y1="492.20" x2="535.60" y2="492.20" stroke="#222" stroke-width="1.1"/>
<line x1="349.60" y1="492.20" x2="353.60" y2="492.20" stroke="#222" stroke-width="1.0"/>
<text x="347.50" y="495.60" font-size="9.5" font-weight="normal" text-anchor="end" fill="#111">0</text>
<line x1="349.60" y1="472.80" x2="353.60" y2="472.80" stroke="#222" stroke-width="1.0"/>
<text x="347.50" y="476.20" font-size="9.5" font-weight="normal" text-anchor="end" fill="#111">0.2</text>
<line x1="349.60" y1="453.40" x2="353.60" y2="453.40" stroke="#222" stroke-width="1.0"/>
<text x="347.50" y="456.80" font-size="9.5" font-weight="normal" text-anchor="end" fill="#111">0.4</text>
<line x1="349.60" y1="434.00" x2="353.60" y2="434.00" stroke="#222" stroke-width="1.0"/>
<text x="347.50" y="437.40" font-size="9.5" font-weight="normal" text-anchor="end" fill="#111">0.6</text>
<line x1="349.60" y1="414.60" x2="353.60" y2="414.60" stroke="#222" stroke-width="1.0"/>
<text x="347.50" y="418.00" font-size="9.5" font-weight="normal" text-anchor="end" fill="#111">0.8</text>
<line x1="349.60" y1="395.20" x2="353.60" y2="395.20" stroke="#222" stroke-width="1.0"/>
<text x="347.50" y="398.60" font-size="9.5" font-weight="normal" text-anchor="end" fill="#111">1</text>
<line x1="349.60" y1="375.80" x2="353.60" y2="375.80" stroke="#222" stroke-width="1.0"/>
<text x="347.50" y="379.20" font-size="9.5" font-weight="normal" text-anchor="end" fill="#111">1.2</text>
<line x1="353.60" y1="492.20" x2="353.60" y2="495.40" stroke="#222" stroke-width="1.3"/>
<line x1="371.80" y1="492.20" x2="371.80" y2="495.40" stroke="#222" stroke-width="1.3"/>
<line x1="390.00" y1="492.20" x2="390.00" y2="495.40" stroke="#222" stroke-width="1.3"/>
<line x1="408.20" y1="492.20" x2="408.20" y2="495.40" stroke="#222" stroke-width="1.3"/>
<line x1="426.40" y1="492.20" x2="426.40" y2="495.40" stroke="#222" stroke-width="1.3"/>
<line x1="444.60" y1="492.20" x2="444.60" y2="495.40" stroke="#222" stroke-width="1.3"/>
<line x1="462.80" y1="492.20" x2="462.80" y2="495.40" stroke="#222" stroke-width="1.3"/>
<line x1="481.00" y1="492.20" x2="481.00" y2="495.40" stroke="#222" stroke-width="1.3"/>
<line x1="499.20" y1="492.20" x2="499.20" y2="495.40" stroke="#222" stroke-width="1.3"/>
<line x1="517.40" y1="492.20" x2="517.40" y2="495.40" stroke="#222" stroke-width="1.3"/>
<line x1="535.60" y1="492.20" x2="535.60" y2="495.40" stroke="#222" stroke-width="1.3"/>
<text x="363.30" y="506.20" font-size="9.2" font-weight="normal" text-anchor="end" fill="#111" transform="rotate(-45 363.30 506.20)">0 h</text>
<text x="381.50" y="506.20" font-size="9.2" font-weight="normal" text-anchor="end" fill="#111" transform="rotate(-45 381.50 506.20)">0.5 h</text>
<text x="399.70" y="506.20" font-size="9.2" font-weight="normal" text-anchor="end" fill="#111" transform="rotate(-45 399.70 506.20)">1 h</text>
<text x="417.90" y="506.20" font-size="9.2" font-weight="normal" text-anchor="end" fill="#111" transform="rotate(-45 417.90 506.20)">2 h</text>
<text x="436.10" y="506.20" font-size="9.2" font-weight="normal" text-anchor="end" fill="#111" transform="rotate(-45 436.10 506.20)">3 h</text>
<text x="454.30" y="506.20" font-size="9.2" font-weight="normal" text-anchor="end" fill="#111" transform="rotate(-45 454.30 506.20)">4 h</text>
<text x="472.50" y="506.20" font-size="9.2" font-weight="normal" text-anchor="end" fill="#111" transform="rotate(-45 472.50 506.20)">8 h</text>
<text x="490.70" y="506.20" font-size="9.2" font-weight="normal" text-anchor="end" fill="#111" transform="rotate(-45 490.70 506.20)">16 h</text>
<text x="508.90" y="506.20" font-size="9.2" font-weight="normal" text-anchor="end" fill="#111" transform="rotate(-45 508.90 506.20)">32 h</text>
<text x="527.10" y="506.20" font-size="9.2" font-weight="normal" text-anchor="end" fill="#111" transform="rotate(-45 527.10 506.20)">48 h</text>
<text x="331.00" y="436.00" font-size="9" font-weight="normal" text-anchor="middle" fill="#111" transform="rotate(-90 331.00 436.00)">Normalized UPLC-MS Area</text>
<line x1="356.30" y1="378.70" x2="379.00" y2="378.70" stroke="#2a9fe0" stroke-width="1.4"/>
<text x="381.00" y="382.20" font-size="9.5" font-weight="normal" text-anchor="start" fill="#111">ABA</text>
<line x1="402.00" y1="378.70" x2="424.50" y2="378.70" stroke="#f07f2c" stroke-width="1.4"/>
<text x="427.00" y="382.20" font-size="9.5" font-weight="normal" text-anchor="start" fill="#111">SLG1</text>
<text x="57.30" y="227.90" font-size="9.2" font-weight="normal" text-anchor="middle" fill="#111">DMSO</text>
<text x="113.00" y="219.30" font-size="9.2" font-weight="normal" text-anchor="middle" fill="#111">50 μM</text>
<text x="113.00" y="230.30" font-size="9.2" font-weight="normal" text-anchor="middle" fill="#111">ABA</text>
<text x="211.00" y="211.50" font-size="9.2" font-weight="normal" text-anchor="middle" fill="#111">SLG1</text>
<line x1="153.20" y1="218.40" x2="270.60" y2="218.40" stroke="#222" stroke-width="0.9"/>
<text x="165.50" y="229.90" font-size="9.2" font-weight="normal" text-anchor="middle" fill="#111">50 μM</text>
<text x="212.80" y="229.90" font-size="9.2" font-weight="normal" text-anchor="middle" fill="#111">100 μM</text>
<text x="259.80" y="229.90" font-size="9.2" font-weight="normal" text-anchor="middle" fill="#111">200 μM</text>
<text x="30.00" y="283.00" font-size="9.2" font-weight="normal" text-anchor="middle" fill="#111" transform="rotate(-90 30.00 283.00)">Well-water</text>
<text x="30.00" y="372.30" font-size="9.2" font-weight="normal" text-anchor="middle" fill="#111" transform="rotate(-90 30.00 372.30)">Drought</text>
<text x="30.00" y="464.00" font-size="9.2" font-weight="normal" text-anchor="middle" fill="#111" transform="rotate(-90 30.00 464.00)">Rewatering</text>
<defs><filter id="bl" x="0" y="0" width="1" height="1"><feGaussianBlur stdDeviation="0.65"/></filter><linearGradient id="gw" x1="0" y1="0" x2="0" y2="1"><stop offset="0" stop-color="#34302b"/><stop offset=".75" stop-color="#3e3831"/><stop offset="1" stop-color="#6a635a"/></linearGradient><linearGradient id="gd" x1="0" y1="0" x2="0" y2="1"><stop offset="0" stop-color="#2a2826"/><stop offset=".75" stop-color="#33302d"/><stop offset="1" stop-color="#55524d"/></linearGradient><linearGradient id="gr" x1="0" y1="0" x2="0" y2="1"><stop offset="0" stop-color="#1e1d1c"/><stop offset=".75" stop-color="#252422"/><stop offset="1" stop-color="#44423f"/></linearGradient></defs><g filter="url(#bl)">
<rect x="38" y="240" width="49.6" height="86.3" fill="#1f1d1a"/>
<rect x="39.6" y="241.5" width="46.4" height="40.2" rx="4.5" fill="url(#gw)" stroke="#8a8274" stroke-width=".9"/>
<rect x="41.8" y="243.8" width="42" height="35.4" rx="2.5" fill="#2e2017"/>
<path fill="#5e3a24" d="M76.3 269.3a.9 .8 72 1 0 .5 1.6 .9 .8 72 1 0 -.5 -1.6M74.2 253.7a1.2 1 90 1 0 -0 2.4 1.2 1 90 1 0 0 -2.4M75.9 273.8a1.3 1 123 1 0 -1.5 2.2 1.3 1 123 1 0 1.5 -2.2M62.9 248a1.2 1 173 1 0 -2.4 .3 1.2 1 173 1 0 2.4 -.3M60.5 273.6a1.4 .8 2 1 0 2.8 .1 1.4 .8 2 1 0 -2.8 -.1M77.8 251.5a1.5 .6 102 1 0 -.6 2.9 1.5 .6 102 1 0 .6 -2.9M63.3 274.8a1.2 .9 98 1 0 -.3 2.3 1.2 .9 98 1 0 .3 -2.3M65.9 257.1a.9 .6 33 1 0 1.5 1 .9 .6 33 1 0 -1.5 -1M67.9 266.4a.7 1 157 1 0 -1.3 .5 .7 1 157 1 0 1.3 -.5M82 263.8a1.3 1.1 165 1 0 -2.4 .7 1.3 1.1 165 1 0 2.4 -.7M52.1 268.5a.8 1 59 1 0 .8 1.4 .8 1 59 1 0 -.8 -1.4M75.7 246.9a1.3 .5 103 1 0 -.6 2.5 1.3 .5 103 1 0 .6 -2.5M64.3 257.7a1.6 .5 3 1 0 3.2 .2 1.6 .5 3 1 0 -3.2 -.2M82 250.8a.8 1 168 1 0 -1.6 .3 .8 1 168 1 0 1.6 -.3M44.1 258.2a.9 .6 116 1 0 -.8 1.5 .9 .6 116 1 0 .8 -1.5M57.5 250.8a.6 .6 177 1 0 -1.3 0 .6 .6 177 1 0 1.3 -0M69.1 275.9a1.3 1 61 1 0 1.2 2.2 1.3 1 61 1 0 -1.2 -2.2M52.6 264a.8 .8 73 1 0 .4 1.5 .8 .8 73 1 0 -.4 -1.5M64.9 261.1a1 1 45 1 0 1.3 1.4 1 1 45 1 0 -1.3 -1.4M53.3 276.4a.9 .7 170 1 0 -1.8 .3 .9 .7 170 1 0 1.8 -.3M42.5 250.4a.8 .9 68 1 0 .6 1.6 .8 .9 68 1 0 -.6 -1.6M77.6 262.8a1 .9 75 1 0 .5 1.9 1 .9 75 1 0 -.5 -1.9M69.4 245.5a.9 .6 94 1 0 -.1 1.7 .9 .6 94 1 0 .1 -1.7M46.7 272.6a.7 .7 81 1 0 .2 1.3 .7 .7 81 1 0 -.2 -1.3M74 272.5a1.1 .9 62 1 0 1 2 1.1 .9 62 1 0 -1 -2M77.8 253.5a.6 .9 100 1 0 -.2 1.3 .6 .9 100 1 0 .2 -1.3M51.7 263.9a.8 .7 142 1 0 -1.2 .9 .8 .7 142 1 0 1.2 -.9M53.7 257.4a.9 .8 43 1 0 1.3 1.2 .9 .8 43 1 0 -1.3 -1.2M44.4 250.2a.7 .7 59 1 0 .7 1.2 .7 .7 59 1 0 -.7 -1.2M63.3 258.6a1.2 .9 76 1 0 .6 2.3 1.2 .9 76 1 0 -.6 -2.3M56.9 276.5a1.4 .8 64 1 0 1.2 2.5 1.4 .8 64 1 0 -1.2 -2.5M47.1 257.7a.6 1.1 38 1 0 1 .8 .6 1.1 38 1 0 -1 -.8M49.8 251.4a1.1 .6 177 1 0 -2.3 .1 1.1 .6 177 1 0 2.3 -.1M82.1 248.5a1.3 1 89 1 0 0 2.6 1.3 1 89 1 0 -0 -2.6M78.6 254.9a1.1 .9 36 1 0 1.8 1.3 1.1 .9 36 1 0 -1.8 -1.3M68.5 251.3a1.6 1 147 1 0 -2.6 1.7 1.6 1 147 1 0 2.6 -1.7"/>
<path fill="#85553a" d="M54.9 270a.9 1 176 1 0 -1.7 .1 .9 1 176 1 0 1.7 -.1M71.6 256.8a1.3 .5 88 1 0 .1 2.5 1.3 .5 88 1 0 -.1 -2.5M51.8 276.2a1 .5 57 1 0 1.1 1.8 1 .5 57 1 0 -1.1 -1.8M75.2 261.6a1.2 .9 80 1 0 .4 2.4 1.2 .9 80 1 0 -.4 -2.4M79.2 271.5a1.5 .8 70 1 0 1 2.9 1.5 .8 70 1 0 -1 -2.9M71.4 252.6a1.4 1 106 1 0 -.8 2.8 1.4 1 106 1 0 .8 -2.8M75.5 247a1.1 .9 152 1 0 -1.9 1 1.1 .9 152 1 0 1.9 -1M79.4 262a.6 .9 109 1 0 -.4 1.2 .6 .9 109 1 0 .4 -1.2M49.5 256a1.4 1.1 30 1 0 2.5 1.5 1.4 1.1 30 1 0 -2.5 -1.5M64.6 244.5a.9 .5 50 1 0 1.2 1.4 .9 .5 50 1 0 -1.2 -1.4M68.6 264.6a1 .7 117 1 0 -.9 1.8 1 .7 117 1 0 .9 -1.8M61.5 262.3a1.5 .8 56 1 0 1.7 2.5 1.5 .8 56 1 0 -1.7 -2.5M62.9 271.8a1.4 .6 179 1 0 -2.8 0 1.4 .6 179 1 0 2.8 -0M69 246.2a1.6 .7 122 1 0 -1.7 2.7 1.6 .7 122 1 0 1.7 -2.7M55.5 251.3a.6 1 95 1 0 -.1 1.2 .6 1 95 1 0 .1 -1.2M48.2 248.7a1.5 .7 176 1 0 -2.9 .2 1.5 .7 176 1 0 2.9 -.2M81 275.6a.6 .9 126 1 0 -.8 1 .6 .9 126 1 0 .8 -1M69.2 267.3a1.2 .7 96 1 0 -.3 2.5 1.2 .7 96 1 0 .3 -2.5M72.2 256a.6 .6 176 1 0 -1.3 .1 .6 .6 176 1 0 1.3 -.1M60.5 248a1.1 1 175 1 0 -2.1 .2 1.1 1 175 1 0 2.1 -.2M57.2 260a1 .7 132 1 0 -1.4 1.5 1 .7 132 1 0 1.4 -1.5M79 274.6a1 1.1 114 1 0 -.8 1.8 1 1.1 114 1 0 .8 -1.8M45.2 247a.7 .5 70 1 0 .4 1.2 .7 .5 70 1 0 -.4 -1.2M46.1 272.3a1.5 .8 121 1 0 -1.6 2.6 1.5 .8 121 1 0 1.6 -2.6"/>
<path stroke="#357320" stroke-width=".75" fill="none" d="M75.8 272.5L78 265.9M75.8 272.5L78.2 271.9M75.8 272.5L77.4 272.6M75.8 272.5L76.7 275.3M75.8 272.5L74.9 274.9M75.8 272.5L72.9 273.8M75.8 272.5L73.8 272M75.8 272.5L74.9 270.8M61.2 266L59 269.4M61.2 266L58 266.4M61.2 266L56.5 264M61.2 266L56.2 261.2M61.2 266L61.3 259.9M61.2 266L62.3 264.9M61.2 266L65.7 264.5M61.2 266L64.8 267M61.2 266L63.3 269.1M61.2 266L61.4 267.2M61.2 266L61 267.2M67 250.6L65.9 248.1M67 250.6L66.6 246.6M67 250.6L71.8 245.1M67 250.6L71.2 249.2M67 250.6L69 252.1M67 250.6L68.6 255.9M67 250.6L65.9 253.7M67 250.6L61.5 255.3M67 250.6L65.3 250.4M48.8 260.8L49.1 267.9M48.8 260.8L46.8 266M48.8 260.8L46.8 261.1M48.8 260.8L46.6 259M48.8 260.8L47.2 256.3M48.8 260.8L51.5 256.8M48.8 260.8L54.1 256.3M48.8 260.8L53.1 261.9M48.8 260.8L51.3 263.1M59 262.9L57.6 260.9M59 262.9L57.6 258.9M59 262.9L63.9 257.4M59 262.9L60.5 262M59 262.9L63.7 262.8M59 262.9L62.3 267.3M59 262.9L59.9 266M59 262.9L57.9 265M59 262.9L53.9 265.8M59 262.9L53.3 260.8M75.1 261.9L70.2 259.2M75.1 261.9L74.3 260.1M75.1 261.9L75.2 258.7M75.1 261.9L75.7 260.9M75.1 261.9L79.7 259.1M75.1 261.9L76.3 262.3M75.1 261.9L79.1 268M75.1 261.9L76.8 268.6M75.1 261.9L74.9 264M75.1 261.9L71.4 264.8M75.1 261.9L70.6 261.9"/>
<path fill="#245c16" d="M65.3 256.5a2.8 1.5 28 1 0 4.9 2.7 2.8 1.5 28 1 0 -4.9 -2.7"/>
<path fill="#367c1f" d="M59 269.4a2.7 1.4 122 1 0 -2.9 4.5 2.7 1.4 122 1 0 2.9 -4.5M66 240.4a3.1 2 84 1 0 .6 6.2 3.1 2 84 1 0 -.6 -6.2M76.8 247.4a2.9 1.7 162 1 0 -5.5 1.8 2.9 1.7 162 1 0 5.5 -1.8M61.5 255.3a3.7 2.2 139 1 0 -5.6 4.8 3.7 2.2 139 1 0 5.6 -4.8M49.1 267.9a2.7 1.6 87 1 0 .2 5.4 2.7 1.6 87 1 0 -.2 -5.4M62.3 267.3a2.7 1.8 52 1 0 3.2 4.3 2.7 1.8 52 1 0 -3.2 -4.3M64.9 261.8a2.8 1.6 0 1 0 5.7 0 2.8 1.6 0 1 0 -5.7 -0"/>
<path fill="#4a9828" d="M79.7 261a2.6 1.4 108 1 0 -1.6 4.9 2.6 1.4 108 1 0 1.6 -4.9M61.4 254.4a2.7 1.8 90 1 0 -.1 5.5 2.7 1.8 90 1 0 .1 -5.5M54.3 252.6a2.5 1.7 123 1 0 -2.8 4.2 2.5 1.7 123 1 0 2.8 -4.2M68.4 252.4a3.4 1.8 132 1 0 -4.5 5 3.4 1.8 132 1 0 4.5 -5M69.2 262.7a2.7 1.6 178 1 0 -5.5 .1 2.7 1.6 178 1 0 5.5 -.1M85.6 255.6a3.5 1.9 149 1 0 -5.9 3.5 3.5 1.9 149 1 0 5.9 -3.5M71.4 264.8a2.9 1.7 141 1 0 -4.5 3.6 2.9 1.7 141 1 0 4.5 -3.6"/>
<path fill="#60b232" d="M51.2 261.6a2.9 1.5 23 1 0 5.4 2.3 2.9 1.5 23 1 0 -5.4 -2.3M51.1 256.3a3.5 2.4 43 1 0 5.1 4.9 3.5 2.4 43 1 0 -5.1 -4.9M71 262.7a2.8 1.4 161 1 0 -5.3 1.8 2.8 1.4 161 1 0 5.3 -1.8M75.6 240.8a2.9 1.9 131 1 0 -3.8 4.3 2.9 1.9 131 1 0 3.8 -4.3M68.6 255.9a2.7 1.5 73 1 0 1.5 5.1 2.7 1.5 73 1 0 -1.5 -5.1M46.8 266a3.3 1.7 111 1 0 -2.4 6.2 3.3 1.7 111 1 0 2.4 -6.2M45.1 250.6a3 1.6 70 1 0 2 5.7 3 1.6 70 1 0 -2 -5.7M58.3 252.9a2.7 1.6 140 1 0 -4.2 3.5 2.7 1.6 140 1 0 4.2 -3.5M53.1 261.9a3 1.9 13 1 0 5.9 1.5 3 1.9 13 1 0 -5.9 -1.5M46.5 258.2a3.6 2.1 20 1 0 6.8 2.6 3.6 2.1 20 1 0 -6.8 -2.6M79.1 268a3.1 1.6 56 1 0 3.4 5.2 3.1 1.6 56 1 0 -3.4 -5.2"/>
<path fill="#82ca4a" d="M55.1 252a3.7 2 70 1 0 2.4 6.9 3.7 2 70 1 0 -2.4 -6.9M53.9 265.8a3.4 1.8 150 1 0 -5.9 3.3 3.4 1.8 150 1 0 5.9 -3.3M76.8 268.6a3.1 1.6 75 1 0 1.6 5.9 3.1 1.6 75 1 0 -1.6 -5.9"/>
<path fill="#245c16" d="M61.4 267.2a3.7 2.6 80 1 0 1.2 7.3 3.7 2.6 80 1 0 -1.2 -7.3M61 267.2a3 1.5 101 1 0 -1.2 5.8 3 1.5 101 1 0 1.2 -5.8M76.3 262.3a3.7 1.9 20 1 0 7 2.6 3.7 1.9 20 1 0 -7 -2.6"/>
<path fill="#367c1f" d="M63 242.7a3.5 1.9 65 1 0 2.9 6.3 3.5 1.9 65 1 0 -2.9 -6.3M46.8 261.1a3.4 2 170 1 0 -6.8 1.1 3.4 2 170 1 0 6.8 -1.1M40.7 254.3a3.8 2 38 1 0 5.9 4.7 3.8 2 38 1 0 -5.9 -4.7M78.3 256.5a2.6 1.5 121 1 0 -2.6 4.4 2.6 1.5 121 1 0 2.6 -4.4"/>
<path fill="#4a9828" d="M85.1 270.2a3.6 2.1 166 1 0 -7 1.8 3.6 2.1 166 1 0 7 -1.8M77.4 272.6a3.5 2.1 1 1 0 7.1 .1 3.5 2.1 1 1 0 -7.1 -.1M74.9 274.9a3.6 1.8 111 1 0 -2.7 6.7 3.6 1.8 111 1 0 2.7 -6.7M72.9 273.8a3.1 1.7 155 1 0 -5.7 2.6 3.1 1.7 155 1 0 5.7 -2.6M63.3 269.1a2.6 1.7 56 1 0 2.9 4.4 2.6 1.7 56 1 0 -2.9 -4.4M65.9 253.7a2.8 1.8 109 1 0 -1.9 5.3 2.8 1.8 109 1 0 1.9 -5.3M54.1 255.7a3.1 1.9 56 1 0 3.5 5.2 3.1 1.9 56 1 0 -3.5 -5.2M75.5 253.4a2.6 1.8 92 1 0 -.3 5.3 2.6 1.8 92 1 0 .3 -5.3M74.9 264a3.1 1.6 94 1 0 -.5 6.3 3.1 1.6 94 1 0 .5 -6.3"/>
<path fill="#60b232" d="M71.5 264.3a3.7 2.3 62 1 0 3.4 6.5 3.7 2.3 62 1 0 -3.4 -6.5M58 266.4a3 2 173 1 0 -6 .7 3 2 173 1 0 6 -.7M69 252.1a2.7 1.6 37 1 0 4.3 3.3 2.7 1.6 37 1 0 -4.3 -3.3M51.3 263.1a3.3 1.8 41 1 0 4.9 4.4 3.3 1.8 41 1 0 -4.9 -4.4M59.9 266a3.8 2.2 72 1 0 2.3 7.2 3.8 2.2 72 1 0 -2.3 -7.2"/>
<path fill="#82ca4a" d="M76.7 275.3a3.7 2.1 72 1 0 2.3 7 3.7 2.1 72 1 0 -2.3 -7M66.6 270.3a3.7 2 13 1 0 7.2 1.8 3.7 2 13 1 0 -7.2 -1.8M65.8 261.2a2.6 1.8 133 1 0 -3.5 3.7 2.6 1.8 133 1 0 3.5 -3.7M64.8 267a2.9 1.5 15 1 0 5.6 1.5 2.9 1.5 15 1 0 -5.6 -1.5M60 249.8a2.6 1.6 5 1 0 5.3 .5 2.6 1.6 5 1 0 -5.3 -.5M64.8 259.6a2.5 1.4 150 1 0 -4.4 2.5 2.5 1.4 150 1 0 4.4 -2.5M57.9 265a3.4 2.3 117 1 0 -3.1 6.1 3.4 2.3 117 1 0 3.1 -6.1M71.6 253.6a3.5 2.2 67 1 0 2.7 6.5 3.5 2.2 67 1 0 -2.7 -6.5"/>
<rect x="39.6" y="284.6" width="46.4" height="40.2" rx="4.5" fill="url(#gw)" stroke="#8a8274" stroke-width=".9"/>
<rect x="41.8" y="286.9" width="42" height="35.4" rx="2.5" fill="#2e2017"/>
<path fill="#5e3a24" d="M68.7 313.6a.6 1 77 1 0 .3 1.2 .6 1 77 1 0 -.3 -1.2M74.6 287.8a1.3 .6 170 1 0 -2.6 .5 1.3 .6 170 1 0 2.6 -.5M78.4 287.9a1.1 1.1 68 1 0 .8 2.1 1.1 1.1 68 1 0 -.8 -2.1M51.5 301.2a.8 .8 89 1 0 0 1.6 .8 .8 89 1 0 -0 -1.6M51.1 295.6a1.1 .7 3 1 0 2.1 .1 1.1 .7 3 1 0 -2.1 -.1M77.1 309.8a1.2 1 152 1 0 -2.1 1.1 1.2 1 152 1 0 2.1 -1.1M62.8 306.8a.8 1 74 1 0 .4 1.6 .8 1 74 1 0 -.4 -1.6M62.1 313.8a1 .8 5 1 0 2 .2 1 .8 5 1 0 -2 -.2M63.5 318.7a1.1 .7 98 1 0 -.3 2.1 1.1 .7 98 1 0 .3 -2.1M76.1 304.8a1 .5 156 1 0 -1.9 .8 1 .5 156 1 0 1.9 -.8M65.1 293.7a1.1 .7 62 1 0 1 1.9 1.1 .7 62 1 0 -1 -1.9M71.8 296a1.2 .7 12 1 0 2.4 .5 1.2 .7 12 1 0 -2.4 -.5M49.1 304.7a.9 .9 81 1 0 .2 1.7 .9 .9 81 1 0 -.2 -1.7M54.9 303.2a1 .8 33 1 0 1.6 1.1 1 .8 33 1 0 -1.6 -1.1M47.8 317.5a.8 .9 147 1 0 -1.4 .9 .8 .9 147 1 0 1.4 -.9M44.4 287.5a1.3 .6 126 1 0 -1.6 2.1 1.3 .6 126 1 0 1.6 -2.1M70 304.5a1.6 1 92 1 0 -.2 3.1 1.6 1 92 1 0 .2 -3.1M52.2 308.5a1.2 .7 113 1 0 -.9 2.2 1.2 .7 113 1 0 .9 -2.2M51.4 309.7a.8 .6 119 1 0 -.8 1.4 .8 .6 119 1 0 .8 -1.4M53.2 304.5a1.5 1 3 1 0 2.9 .2 1.5 1 3 1 0 -2.9 -.2M61 320.1a1.3 .6 30 1 0 2.3 1.3 1.3 .6 30 1 0 -2.3 -1.3M48.8 306.1a.6 .5 155 1 0 -1.2 .5 .6 .5 155 1 0 1.2 -.5M73.9 314.5a1.2 1 68 1 0 .9 2.3 1.2 1 68 1 0 -.9 -2.3M65.8 294.6a.9 1 101 1 0 -.3 1.7 .9 1 101 1 0 .3 -1.7M78.4 303.2a1.4 1 2 1 0 2.8 .1 1.4 1 2 1 0 -2.8 -.1M68.5 290a1.5 .5 43 1 0 2.2 2 1.5 .5 43 1 0 -2.2 -2M82.9 301.4a.8 .6 133 1 0 -1.1 1.1 .8 .6 133 1 0 1.1 -1.1M46 317.1a1.6 1 52 1 0 1.9 2.5 1.6 1 52 1 0 -1.9 -2.5M51.7 303.8a1.3 .5 1 1 0 2.5 .1 1.3 .5 1 1 0 -2.5 -.1M81.1 297.6a1 .7 11 1 0 2.1 .4 1 .7 11 1 0 -2.1 -.4M54.9 295.3a.9 1.1 80 1 0 .3 1.7 .9 1.1 80 1 0 -.3 -1.7M65.4 307.7a.6 .6 13 1 0 1.2 .3 .6 .6 13 1 0 -1.2 -.3M65.8 289.6a1.2 .7 142 1 0 -2 1.5 1.2 .7 142 1 0 2 -1.5M61.5 316.5a1.1 1 13 1 0 2.1 .5 1.1 1 13 1 0 -2.1 -.5M80.7 288.6a1.5 1 163 1 0 -2.9 .9 1.5 1 163 1 0 2.9 -.9"/>
<path fill="#85553a" d="M48 315.4a.9 .8 80 1 0 .3 1.7 .9 .8 80 1 0 -.3 -1.7M77 306.2a.8 1.1 154 1 0 -1.4 .7 .8 1.1 154 1 0 1.4 -.7M47.3 297.8a1.3 1.1 75 1 0 .6 2.5 1.3 1.1 75 1 0 -.6 -2.5M49.5 305a1.3 .7 79 1 0 .5 2.5 1.3 .7 79 1 0 -.5 -2.5M43.5 310.8a1.2 .7 30 1 0 2.1 1.2 1.2 .7 30 1 0 -2.1 -1.2M62 319.9a1.1 1 41 1 0 1.7 1.5 1.1 1 41 1 0 -1.7 -1.5M82.1 287.1a1.4 1 133 1 0 -1.9 2.1 1.4 1 133 1 0 1.9 -2.1M63.5 308a1.1 .5 41 1 0 1.6 1.4 1.1 .5 41 1 0 -1.6 -1.4M51.1 306.7a1.4 1 146 1 0 -2.3 1.5 1.4 1 146 1 0 2.3 -1.5M52.3 316a.7 .5 2 1 0 1.4 .1 .7 .5 2 1 0 -1.4 -.1M46.5 297.3a1.5 .7 154 1 0 -2.7 1.3 1.5 .7 154 1 0 2.7 -1.3M54.2 319.2a1 .7 1 1 0 2 .1 1 .7 1 1 0 -2 -.1M76.6 288.4a1.6 .8 30 1 0 2.7 1.6 1.6 .8 30 1 0 -2.7 -1.6M77 319.4a1.1 .7 62 1 0 1 2 1.1 .7 62 1 0 -1 -2M49.7 298a1.4 .7 38 1 0 2.2 1.7 1.4 .7 38 1 0 -2.2 -1.7M70.3 315.1a.9 1 123 1 0 -1 1.6 .9 1 123 1 0 1 -1.6M78.8 294a1.2 1 66 1 0 1 2.2 1.2 1 66 1 0 -1 -2.2M57.5 297.2a1.2 1.1 159 1 0 -2.3 .8 1.2 1.1 159 1 0 2.3 -.8M79.6 319.6a.7 .6 111 1 0 -.5 1.3 .7 .6 111 1 0 .5 -1.3M82.2 304.8a1.3 .7 97 1 0 -.3 2.5 1.3 .7 97 1 0 .3 -2.5M68.4 308.6a1 .7 58 1 0 1 1.7 1 .7 58 1 0 -1 -1.7M55.6 315.3a.9 .7 97 1 0 -.3 1.8 .9 .7 97 1 0 .3 -1.8M79.9 292.4a1.6 1 57 1 0 1.7 2.7 1.6 1 57 1 0 -1.7 -2.7M46.3 304.7a.9 1 25 1 0 1.6 .8 .9 1 25 1 0 -1.6 -.8M75.7 312.5a.8 .8 28 1 0 1.4 .7 .8 .8 28 1 0 -1.4 -.7"/>
<path stroke="#357320" stroke-width=".75" fill="none" d="M63.2 316L65.3 316.6M63.2 316L66.7 319.3M63.2 316L64.1 317.4M63.2 316L60.9 320.6M63.2 316L60.1 319.9M63.2 316L58.1 316.3M63.2 316L58.8 315M63.2 316L60.9 312.4M63.2 316L63.7 311.8M63.2 316L66.4 313M63.2 316L70.4 314.6M49.4 307.6L45.8 309M49.4 307.6L44.2 306.6M49.4 307.6L48.3 307M49.4 307.6L47.4 305.3M49.4 307.6L48.9 304.3M49.4 307.6L54.5 303M49.4 307.6L54.5 306.5M49.4 307.6L52.3 308.7M49.4 307.6L52.2 311.4M49.4 307.6L50.1 313.2M49.4 307.6L46.8 314.2M48.9 313.3L46.7 311M48.9 313.3L48.4 310.7M48.9 313.3L49.8 309.8M48.9 313.3L53.8 309.5M48.9 313.3L52.5 311M48.9 313.3L50.9 313.7M48.9 313.3L52.4 316M48.9 313.3L49.4 317.3M48.9 313.3L47.6 316.4M48.9 313.3L44.2 316.4M48.9 313.3L45.3 312.7M75.9 307.8L74.6 306.4M75.9 307.8L74.4 305.2M75.9 307.8L75.7 304.7M75.9 307.8L79.9 304M75.9 307.8L78.6 307.1M75.9 307.8L78.7 308.9M75.9 307.8L79.3 310.3M75.9 307.8L77.4 314.4M75.9 307.8L73.2 313.3M75.9 307.8L74.9 308.8M75.9 307.8L69.2 309.8M71.1 315.8L68.2 311.6M71.1 315.8L71.8 312.6M71.1 315.8L72.8 314.1M71.1 315.8L77 316.4M71.1 315.8L72 316.8M71.1 315.8L73.2 319.7M71.1 315.8L70.2 320.1M71.1 315.8L68.2 316.4M71.1 315.8L68.6 315M53 292.8L46.7 291.6M53 292.8L51.6 291.1M53 292.8L52.1 290.6M53 292.8L53.3 291.8M53 292.8L55.1 290.9M53 292.8L57.4 291M53 292.8L57.6 294.1M53 292.8L54.6 295.6M53 292.8L54.4 298.6M53 292.8L51.5 294.6M53 292.8L47.7 296.5"/>
<path fill="#245c16" d="M70.2 309.4a2.6 1.4 136 1 0 -3.8 3.6 2.6 1.4 136 1 0 3.8 -3.6M57.4 307.9a2.9 1.5 147 1 0 -4.8 3.1 2.9 1.5 147 1 0 4.8 -3.1M79.3 310.3a2.6 1.4 36 1 0 4.2 3.2 2.6 1.4 36 1 0 -4.2 -3.2"/>
<path fill="#367c1f" d="M53.5 313.8a2.7 1.7 13 1 0 5.3 1.2 2.7 1.7 13 1 0 -5.3 -1.2M58.5 305.7a3 1.9 141 1 0 -4.8 3.8 3 1.9 141 1 0 4.8 -3.8M69.2 309.8a3.5 2.1 163 1 0 -6.7 2 3.5 2.1 163 1 0 6.7 -2M62.2 289a2.6 1.3 156 1 0 -4.7 2 2.6 1.3 156 1 0 4.7 -2"/>
<path fill="#4a9828" d="M58.1 316.3a3 1.8 177 1 0 -6 .3 3 1.8 177 1 0 6 -.3M64.3 305.9a3 1.9 95 1 0 -.6 6 3 1.9 95 1 0 .6 -6M45.8 309a3.3 2 157 1 0 -6.1 2.5 3.3 2 157 1 0 6.1 -2.5M38.5 305.6a2.9 1.6 10 1 0 5.6 1 2.9 1.6 10 1 0 -5.6 -1M84.5 299.7a3.1 1.9 136 1 0 -4.6 4.3 3.1 1.9 136 1 0 4.6 -4.3M70.2 320.1a2.6 1.7 101 1 0 -1.1 5.1 2.6 1.7 101 1 0 1.1 -5.1M57.6 294.1a2.9 2.1 15 1 0 5.7 1.6 2.9 2.1 15 1 0 -5.7 -1.6M47.7 296.5a3.2 1.9 145 1 0 -5.2 3.6 3.2 1.9 145 1 0 5.2 -3.6"/>
<path fill="#60b232" d="M66.7 319.3a3.3 1.7 43 1 0 4.7 4.5 3.3 1.7 43 1 0 -4.7 -4.5M60.9 320.6a2.8 1.6 117 1 0 -2.6 5 2.8 1.6 117 1 0 2.6 -5M57.6 307.4a3 1.6 56 1 0 3.3 5 3 1.6 56 1 0 -3.3 -5M58.2 299.6a2.5 1.6 137 1 0 -3.8 3.4 2.5 1.6 137 1 0 3.8 -3.4M59.5 305.3a2.6 1.5 167 1 0 -5.1 1.1 2.6 1.5 167 1 0 5.1 -1.1M50.1 313.2a3.5 2.2 82 1 0 .9 6.9 3.5 2.2 82 1 0 -.9 -6.9M46.8 314.2a3.4 2.4 110 1 0 -2.4 6.4 3.4 2.4 110 1 0 2.4 -6.4M73.2 313.3a2.5 1.5 116 1 0 -2.3 4.5 2.5 1.5 116 1 0 2.3 -4.5M54.4 298.6a3.7 2.3 76 1 0 1.7 7.2 3.7 2.3 76 1 0 -1.7 -7.2"/>
<path fill="#82ca4a" d="M60.1 319.9a3.4 2.2 128 1 0 -4.3 5.4 3.4 2.2 128 1 0 4.3 -5.4M76.9 313.2a3.3 2.3 168 1 0 -6.5 1.3 3.3 2.3 168 1 0 6.5 -1.3M52.2 311.4a2.6 1.8 53 1 0 3.2 4.2 2.6 1.8 53 1 0 -3.2 -4.2M52.4 316a2.8 1.6 37 1 0 4.4 3.4 2.8 1.6 37 1 0 -4.4 -3.4M49.4 317.3a3.2 1.6 83 1 0 .7 6.4 3.2 1.6 83 1 0 -.7 -6.4M44.2 316.4a2.8 1.8 147 1 0 -4.8 3.1 2.8 1.8 147 1 0 4.8 -3.1M77.4 314.4a3.6 2 77 1 0 1.5 7 3.6 2 77 1 0 -1.5 -7M63.8 305.5a3.8 2.4 54 1 0 4.3 6.1 3.8 2.4 54 1 0 -4.3 -6.1M77 316.4a2.8 2 6 1 0 5.6 .7 2.8 2 6 1 0 -5.6 -.7M73.2 319.7a3.1 1.6 62 1 0 2.9 5.4 3.1 1.6 62 1 0 -2.9 -5.4M40.3 290.4a3.3 2 10 1 0 6.4 1.2 3.3 2 10 1 0 -6.4 -1.2"/>
<path fill="#245c16" d="M65.3 316.6a3.1 2.1 16 1 0 6 1.7 3.1 2.1 16 1 0 -6 -1.7M42 306.3a3.3 2.3 45 1 0 4.6 4.7 3.3 2.3 45 1 0 -4.6 -4.7M51.2 304.3a2.9 1.5 104 1 0 -1.4 5.5 2.9 1.5 104 1 0 1.4 -5.5M38 311.6a3.7 2.5 9 1 0 7.3 1.2 3.7 2.5 9 1 0 -7.3 -1.2M71.4 299.9a3 1.6 59 1 0 3 5.2 3 1.6 59 1 0 -3 -5.2M75 297.3a3.7 2.6 84 1 0 .7 7.4 3.7 2.6 84 1 0 -.7 -7.4M47.7 286.5a3 1.7 50 1 0 3.9 4.6 3 1.7 50 1 0 -3.9 -4.6"/>
<path fill="#367c1f" d="M41.9 303.1a3.8 2.1 31 1 0 6.4 3.9 3.8 2.1 31 1 0 -6.4 -3.9M48.1 298.3a3 1.6 81 1 0 .9 6 3 1.6 81 1 0 -.9 -6M46.9 303.4a3.8 2.1 78 1 0 1.5 7.4 3.8 2.1 78 1 0 -1.5 -7.4M47.6 316.4a3.5 2 112 1 0 -2.6 6.4 3.5 2 112 1 0 2.6 -6.4M54.6 295.6a3.2 1.6 61 1 0 3 5.5 3.2 1.6 61 1 0 -3 -5.5"/>
<path fill="#4a9828" d="M52.3 308.7a2.7 1.7 21 1 0 5 1.9 2.7 1.7 21 1 0 -5 -1.9M50.9 313.7a3.4 1.8 10 1 0 6.7 1.2 3.4 1.8 10 1 0 -6.7 -1.2M85 305.5a3.3 1.8 166 1 0 -6.4 1.6 3.3 1.8 166 1 0 6.4 -1.6M78.7 308.9a2.8 1.6 21 1 0 5.2 2.1 2.8 1.6 21 1 0 -5.2 -2.1M74.9 308.8a3.3 1.9 135 1 0 -4.7 4.7 3.3 1.9 135 1 0 4.7 -4.7M73.1 306.1a3.3 2 101 1 0 -1.4 6.4 3.3 2 101 1 0 1.4 -6.4M68.2 316.4a2.7 1.8 167 1 0 -5.2 1.2 2.7 1.8 167 1 0 5.2 -1.2"/>
<path fill="#60b232" d="M78 309a3.6 2.1 135 1 0 -5.2 5.1 3.6 2.1 135 1 0 5.2 -5.1M49.5 285.9a3.2 1.9 66 1 0 2.5 5.9 3.2 1.9 66 1 0 -2.5 -5.9M54.9 286.8a2.7 1.5 107 1 0 -1.6 5.1 2.7 1.5 107 1 0 1.6 -5.1M51.5 294.6a2.6 1.6 130 1 0 -3.4 3.9 2.6 1.6 130 1 0 3.4 -3.9"/>
<path fill="#82ca4a" d="M64.1 317.4a3.1 1.7 57 1 0 3.4 5.3 3.1 1.7 57 1 0 -3.4 -5.3M43 299.9a3.5 2.3 50 1 0 4.4 5.4 3.5 2.3 50 1 0 -4.4 -5.4M69.3 301.1a3.7 2.2 44 1 0 5.3 5.3 3.7 2.2 44 1 0 -5.3 -5.3M72 316.8a2.6 1.7 51 1 0 3.3 4.1 2.6 1.7 51 1 0 -3.3 -4.1M62.4 313.3a3.2 1.8 15 1 0 6.2 1.8 3.2 1.8 15 1 0 -6.2 -1.8M59.7 286.8a3.1 1.8 137 1 0 -4.6 4.2 3.1 1.8 137 1 0 4.6 -4.2"/>
<rect x="89.7" y="240" width="48.5" height="86.3" fill="#1f1d1a"/>
<rect x="91.3" y="241.5" width="45.3" height="40.2" rx="4.5" fill="url(#gw)" stroke="#8a8274" stroke-width=".9"/>
<rect x="93.5" y="243.8" width="40.9" height="35.4" rx="2.5" fill="#2e2017"/>
<path fill="#5e3a24" d="M117.4 258.7a.8 1 148 1 0 -1.4 .8 .8 1 148 1 0 1.4 -.8M120.8 250a.9 .6 171 1 0 -1.8 .3 .9 .6 171 1 0 1.8 -.3M131.3 253.4a1.5 .7 98 1 0 -.5 3 1.5 .7 98 1 0 .5 -3M110.4 246a1.4 .6 40 1 0 2.2 1.9 1.4 .6 40 1 0 -2.2 -1.9M110.7 244.6a1.4 .9 96 1 0 -.3 2.8 1.4 .9 96 1 0 .3 -2.8M126.9 249.5a1 .9 20 1 0 1.8 .7 1 .9 20 1 0 -1.8 -.7M124.4 246.6a1.4 1.1 77 1 0 .6 2.8 1.4 1.1 77 1 0 -.6 -2.8M109.5 252.5a1.2 .6 21 1 0 2.3 .9 1.2 .6 21 1 0 -2.3 -.9M107.3 258.2a1.3 .7 57 1 0 1.4 2.2 1.3 .7 57 1 0 -1.4 -2.2M98.1 258.9a1 1 121 1 0 -1 1.7 1 1 121 1 0 1 -1.7M113.7 259.2a1 .9 96 1 0 -.2 2 1 .9 96 1 0 .2 -2M112 250.2a1.6 .7 6 1 0 3.1 .3 1.6 .7 6 1 0 -3.1 -.3M94.5 262a.7 .6 81 1 0 .2 1.4 .7 .6 81 1 0 -.2 -1.4M132.9 260a1 .8 80 1 0 .3 2 1 .8 80 1 0 -.3 -2M123.9 274.3a1.5 1 173 1 0 -3 .4 1.5 1 173 1 0 3 -.4M101.2 256.2a.8 .6 17 1 0 1.5 .5 .8 .6 17 1 0 -1.5 -.5M133.5 273.1a1.3 .9 94 1 0 -.2 2.7 1.3 .9 94 1 0 .2 -2.7M111.3 266.1a.9 .7 112 1 0 -.7 1.6 .9 .7 112 1 0 .7 -1.6M97.1 258.3a.7 .7 82 1 0 .2 1.3 .7 .7 82 1 0 -.2 -1.3M124.1 264.5a1.3 .8 91 1 0 -.1 2.6 1.3 .8 91 1 0 .1 -2.6M104.5 258.2a1.3 .8 80 1 0 .4 2.6 1.3 .8 80 1 0 -.4 -2.6M127.4 244.5a.9 .9 109 1 0 -.6 1.7 .9 .9 109 1 0 .6 -1.7M106.2 250.9a.7 1 168 1 0 -1.4 .3 .7 1 168 1 0 1.4 -.3M132.6 273a.8 1 103 1 0 -.4 1.6 .8 1 103 1 0 .4 -1.6M121.9 245.1a1.5 .7 108 1 0 -.9 2.8 1.5 .7 108 1 0 .9 -2.8M129.9 261a1 .8 62 1 0 .9 1.8 1 .8 62 1 0 -.9 -1.8M102.7 257.8a1.5 .6 114 1 0 -1.3 2.8 1.5 .6 114 1 0 1.3 -2.8M107.8 250.3a1 1 84 1 0 .2 2 1 1 84 1 0 -.2 -2M124.4 272.7a1.5 .8 75 1 0 .7 2.9 1.5 .8 75 1 0 -.7 -2.9M113.8 274.2a.7 1.1 21 1 0 1.3 .5 .7 1.1 21 1 0 -1.3 -.5M99.5 268.6a.9 .9 160 1 0 -1.7 .6 .9 .9 160 1 0 1.7 -.6M116.2 257.6a1 1.1 33 1 0 1.6 1.1 1 1.1 33 1 0 -1.6 -1.1M129.3 261.8a1.4 .5 150 1 0 -2.5 1.4 1.4 .5 150 1 0 2.5 -1.4M100.1 250.7a1.4 .6 44 1 0 2 2 1.4 .6 44 1 0 -2 -2M117.3 264.3a1.2 .5 0 1 0 2.3 0 1.2 .5 0 1 0 -2.3 -0"/>
<path fill="#85553a" d="M132.5 245.4a1.2 .7 51 1 0 1.5 1.9 1.2 .7 51 1 0 -1.5 -1.9M121.7 259.2a1.3 .6 138 1 0 -1.9 1.7 1.3 .6 138 1 0 1.9 -1.7M132.1 276.9a.6 .5 24 1 0 1.2 .5 .6 .5 24 1 0 -1.2 -.5M112.1 248.9a1.4 1 86 1 0 .2 2.8 1.4 1 86 1 0 -.2 -2.8M102.8 262.1a1.1 .9 11 1 0 2.2 .4 1.1 .9 11 1 0 -2.2 -.4M123.7 274.5a1 .9 163 1 0 -2 .6 1 .9 163 1 0 2 -.6M100.8 251.5a1.3 .9 105 1 0 -.7 2.5 1.3 .9 105 1 0 .7 -2.5M128.2 260.1a1.6 .8 154 1 0 -2.8 1.3 1.6 .8 154 1 0 2.8 -1.3M133.4 254.1a.7 .9 165 1 0 -1.4 .4 .7 .9 165 1 0 1.4 -.4M119.6 250.5a1.5 1 117 1 0 -1.4 2.6 1.5 1 117 1 0 1.4 -2.6M112.7 259.5a1.3 1 72 1 0 .8 2.5 1.3 1 72 1 0 -.8 -2.5M126.5 276.4a1.3 .5 152 1 0 -2.3 1.2 1.3 .5 152 1 0 2.3 -1.2M102.9 268.9a.8 .8 79 1 0 .3 1.6 .8 .8 79 1 0 -.3 -1.6M113.3 271.6a1.6 .7 8 1 0 3.1 .5 1.6 .7 8 1 0 -3.1 -.5M99.7 249.9a1.5 1.1 5 1 0 2.9 .3 1.5 1.1 5 1 0 -2.9 -.3M101.4 273.6a1.2 .9 177 1 0 -2.4 .1 1.2 .9 177 1 0 2.4 -.1M101.2 271.4a.9 .8 82 1 0 .2 1.9 .9 .8 82 1 0 -.2 -1.9M115.7 277.2a1 .7 8 1 0 1.9 .3 1 .7 8 1 0 -1.9 -.3M96.8 254.6a.6 .6 114 1 0 -.5 1.2 .6 .6 114 1 0 .5 -1.2M108.4 250.4a.6 .9 77 1 0 .3 1.3 .6 .9 77 1 0 -.3 -1.3M106.7 275a1.2 .8 2 1 0 2.4 .1 1.2 .8 2 1 0 -2.4 -.1M100.6 266.7a.7 .9 85 1 0 .1 1.4 .7 .9 85 1 0 -.1 -1.4M108.6 275.4a1 .9 177 1 0 -1.9 .1 1 .9 177 1 0 1.9 -.1M95 245.2a1.6 .6 69 1 0 1.1 3 1.6 .6 69 1 0 -1.1 -3M95.3 258.1a1.2 1 99 1 0 -.4 2.4 1.2 1 99 1 0 .4 -2.4"/>
<path stroke="#357320" stroke-width=".75" fill="none" d="M102.6 261.1L100.8 259.2M102.6 261.1L103.8 256.8M102.6 261.1L106.3 258.8M102.6 261.1L103.6 260.7M102.6 261.1L107.7 263.4M102.6 261.1L103.7 262.8M102.6 261.1L102.5 262.4M102.6 261.1L98.3 267M102.6 261.1L99.6 261.3M102.6 261.1L96.4 257.9M122.9 259.1L126.9 255.1M122.9 259.1L128.5 257.3M122.9 259.1L126.3 258.7M122.9 259.1L127.1 265.2M122.9 259.1L123.8 263M122.9 259.1L122.5 261.4M122.9 259.1L120.3 263.8M122.9 259.1L116.3 260.5M122.9 259.1L121.7 258.3M122.9 259.1L119.2 253.4M122.9 259.1L122.7 258M125.9 269.5L122.3 270M125.9 269.5L120.8 267.1M125.9 269.5L125.2 265M125.9 269.5L126.2 267.3M125.9 269.5L131.1 266.5M125.9 269.5L131.3 269.2M125.9 269.5L128.1 271.6M125.9 269.5L127.2 274.7M125.9 269.5L123 274.7M106.4 267.1L105.2 269.5M106.4 267.1L101 270.7M106.4 267.1L105 266.3M106.4 267.1L103.1 262.6M106.4 267.1L106.4 265.3M106.4 267.1L109.1 262.3M106.4 267.1L108.4 265.8M106.4 267.1L113.3 267M106.4 267.1L107.8 268M106.4 267.1L109.6 271.8M106.4 267.1L105.4 273.2M115.5 273.4L117.3 275.3M115.5 273.4L114.6 276M115.5 273.4L113.6 275.4M115.5 273.4L113.6 273.2M115.5 273.4L113 268.4M115.5 273.4L115.5 271.7M115.5 273.4L119.1 272.4M115.5 273.4L120.3 273.2M113.5 251.9L118.9 255.1M113.5 251.9L115.3 256.3M113.5 251.9L113.4 256.8M113.5 251.9L110.6 253.6M113.5 251.9L110 251.8M113.5 251.9L111.6 251M113.5 251.9L112.3 248.9M113.5 251.9L113.1 249.2M113.5 251.9L116.6 248.9M113.5 251.9L116.6 252.2"/>
<path fill="#245c16" d="M112.3 254.9a3.6 1.9 147 1 0 -6 3.8 3.6 1.9 147 1 0 6 -3.8M91.8 255.5a2.6 1.7 27 1 0 4.6 2.4 2.6 1.7 27 1 0 -4.6 -2.4M111.9 257.6a2.7 1.4 120 1 0 -2.7 4.7 2.7 1.4 120 1 0 2.7 -4.7"/>
<path fill="#367c1f" d="M105.3 251.3a2.8 1.8 105 1 0 -1.5 5.5 2.8 1.8 105 1 0 1.5 -5.5M107.7 263.4a3.1 1.8 24 1 0 5.6 2.5 3.1 1.8 24 1 0 -5.6 -2.5M134.2 255.4a3 1.9 162 1 0 -5.7 1.8 3 1.9 162 1 0 5.7 -1.8M127.1 265.2a3.1 2 55 1 0 3.6 5.2 3.1 2 55 1 0 -3.6 -5.2M123.8 263a3.5 1.9 76 1 0 1.6 6.9 3.5 1.9 76 1 0 -1.6 -6.9M135.4 263.9a2.5 1.6 149 1 0 -4.4 2.6 2.5 1.6 149 1 0 4.4 -2.6M127.2 274.7a3.4 2 75 1 0 1.6 6.5 3.4 2 75 1 0 -1.6 -6.5M124.5 270.9a2.8 1.6 164 1 0 -5.4 1.5 2.8 1.6 164 1 0 5.4 -1.5"/>
<path fill="#4a9828" d="M130.6 251.4a2.6 1.3 135 1 0 -3.7 3.7 2.6 1.3 135 1 0 3.7 -3.7M116.3 260.5a2.6 1.8 167 1 0 -5.2 1.1 2.6 1.8 167 1 0 5.2 -1.1M115.3 264.5a3.1 1.6 25 1 0 5.5 2.6 3.1 1.6 25 1 0 -5.5 -2.6M99.6 257.7a3 1.6 54 1 0 3.5 4.9 3 1.6 54 1 0 -3.5 -4.9M120.6 266.8a3.6 2.3 178 1 0 -7.3 .2 3.6 2.3 178 1 0 7.3 -.2M110.3 262.7a3.2 2.2 64 1 0 2.7 5.7 3.2 2.2 64 1 0 -2.7 -5.7M126.6 273a3.2 2.2 177 1 0 -6.4 .2 3.2 2.2 177 1 0 6.4 -.2M113.4 256.8a2.6 1.5 92 1 0 -.2 5.1 2.6 1.5 92 1 0 .2 -5.1"/>
<path fill="#60b232" d="M120.3 263.8a3.1 2 118 1 0 -3 5.4 3.1 2 118 1 0 3 -5.4M116.4 249a2.6 1.8 57 1 0 2.8 4.4 2.6 1.8 57 1 0 -2.8 -4.4M124.3 258.2a3.5 2.3 82 1 0 1 6.9 3.5 2.3 82 1 0 -1 -6.9M138.5 268.9a3.6 1.9 177 1 0 -7.1 .4 3.6 1.9 177 1 0 7.1 -.4M123 274.7a2.8 1.4 118 1 0 -2.8 5 2.8 1.4 118 1 0 2.8 -5M101 270.7a2.8 1.5 146 1 0 -4.7 3.1 2.8 1.5 146 1 0 4.7 -3.1M109.6 271.8a2.9 1.6 55 1 0 3.3 4.8 2.9 1.6 55 1 0 -3.3 -4.8M105.4 273.2a3.6 1.9 99 1 0 -1.2 7.1 3.6 1.9 99 1 0 1.2 -7.1M118.9 255.1a3.5 2.2 31 1 0 6 3.7 3.5 2.2 31 1 0 -6 -3.7M115.3 256.3a2.8 1.8 68 1 0 2.1 5.2 2.8 1.8 68 1 0 -2.1 -5.2M121.8 243.9a3.6 2.2 136 1 0 -5.2 5 3.6 2.2 136 1 0 5.2 -5"/>
<path fill="#82ca4a" d="M98.3 267a3.4 2.3 126 1 0 -4.1 5.5 3.4 2.3 126 1 0 4.1 -5.5"/>
<path fill="#245c16" d="M108.6 258.7a2.7 1.8 157 1 0 -4.9 2.1 2.7 1.8 157 1 0 4.9 -2.1M99.6 261.3a2.6 1.3 176 1 0 -5.1 .3 2.6 1.3 176 1 0 5.1 -.3M106.8 258.1a3.6 1.9 92 1 0 -.3 7.2 3.6 1.9 92 1 0 .3 -7.2M107.8 268a3.2 2.1 30 1 0 5.6 3.2 3.2 2.1 30 1 0 -5.6 -3.2M112.2 243.8a2.7 1.4 80 1 0 .9 5.4 2.7 1.4 80 1 0 -.9 -5.4"/>
<path fill="#367c1f" d="M126.9 261.9a2.7 1.5 97 1 0 -.7 5.4 2.7 1.5 97 1 0 .7 -5.4M110.2 243.9a2.7 1.9 66 1 0 2.1 5 2.7 1.9 66 1 0 -2.1 -5"/>
<path fill="#4a9828" d="M97.2 255.4a2.6 1.3 46 1 0 3.6 3.8 2.6 1.3 46 1 0 -3.6 -3.8M103.7 262.8a3.3 2.1 56 1 0 3.7 5.5 3.3 2.1 56 1 0 -3.7 -5.5M102.5 262.4a3.2 1.7 94 1 0 -.5 6.4 3.2 1.7 94 1 0 .5 -6.4M133.4 257.9a3.5 2.2 173 1 0 -7 .8 3.5 2.2 173 1 0 7 -.8M122.5 261.4a2.9 1.8 99 1 0 -1 5.7 2.9 1.8 99 1 0 1 -5.7M121.9 250.6a3.7 2.3 83 1 0 .8 7.4 3.7 2.3 83 1 0 -.8 -7.4M122.3 270a3.7 2.2 172 1 0 -7.3 .9 3.7 2.2 172 1 0 7.3 -.9M128.1 271.6a3 2 42 1 0 4.4 4.1 3 2 42 1 0 -4.4 -4.1M114.4 261.8a3.6 2.3 146 1 0 -5.9 4 3.6 2.3 146 1 0 5.9 -4"/>
<path fill="#60b232" d="M116.9 254.8a3 1.5 35 1 0 4.8 3.5 3 1.5 35 1 0 -4.8 -3.5M105.2 269.5a3.7 2.5 116 1 0 -3.2 6.6 3.7 2.5 116 1 0 3.2 -6.6M99.1 262.5a3.5 1.9 32 1 0 6 3.8 3.5 1.9 32 1 0 -6 -3.8M117.3 275.3a3.1 1.6 45 1 0 4.3 4.4 3.1 1.6 45 1 0 -4.3 -4.4M113.6 274.9a3.1 1.9 132 1 0 -4.2 4.7 3.1 1.9 132 1 0 4.2 -4.7M115.8 264.5a3.6 2.3 91 1 0 -.2 7.2 3.6 2.3 91 1 0 .2 -7.2M105.5 248.4a3.3 1.8 23 1 0 6.1 2.7 3.3 1.8 23 1 0 -6.1 -2.7M116.6 252.2a3.2 1.6 6 1 0 6.3 .8 3.2 1.6 6 1 0 -6.3 -.8"/>
<path fill="#82ca4a" d="M114.6 274.5a3 2 108 1 0 -2 5.7 3 2 108 1 0 2 -5.7M106.9 272.5a3.4 1.9 6 1 0 6.7 .7 3.4 1.9 6 1 0 -6.7 -.7M110.6 253.6a3.6 2.2 149 1 0 -6.1 3.6 3.6 2.2 149 1 0 6.1 -3.6M104.3 251.8a2.9 1.6 0 1 0 5.8 .1 2.9 1.6 0 1 0 -5.8 -.1"/>
<rect x="91.3" y="284.6" width="45.3" height="40.2" rx="4.5" fill="url(#gw)" stroke="#8a8274" stroke-width=".9"/>
<rect x="93.5" y="286.9" width="40.9" height="35.4" rx="2.5" fill="#2e2017"/>
<path fill="#5e3a24" d="M119.3 308.4a.6 .8 10 1 0 1.2 .2 .6 .8 10 1 0 -1.2 -.2M102.8 295.5a1.1 .8 151 1 0 -1.9 1 1.1 .8 151 1 0 1.9 -1M113.9 308.3a1.3 .8 50 1 0 1.6 1.9 1.3 .8 50 1 0 -1.6 -1.9M131.7 315.4a.8 1 84 1 0 .2 1.6 .8 1 84 1 0 -.2 -1.6M131.8 300.3a1.2 1 48 1 0 1.6 1.8 1.2 1 48 1 0 -1.6 -1.8M101.6 311.2a1.2 .6 75 1 0 .6 2.4 1.2 .6 75 1 0 -.6 -2.4M97.8 306.2a1.2 .7 81 1 0 .4 2.4 1.2 .7 81 1 0 -.4 -2.4M130.5 303.4a1.5 .6 27 1 0 2.6 1.4 1.5 .6 27 1 0 -2.6 -1.4M130.6 315.1a.8 .9 169 1 0 -1.6 .3 .8 .9 169 1 0 1.6 -.3M97.1 319.4a1.3 .7 148 1 0 -2.2 1.4 1.3 .7 148 1 0 2.2 -1.4M116.7 296.9a1.3 .5 41 1 0 2 1.7 1.3 .5 41 1 0 -2 -1.7M94.9 296.3a.7 .6 66 1 0 .5 1.2 .7 .6 66 1 0 -.5 -1.2M117.5 291a1.5 1.1 118 1 0 -1.4 2.6 1.5 1.1 118 1 0 1.4 -2.6M122 307.3a.6 .5 163 1 0 -1.2 .4 .6 .5 163 1 0 1.2 -.4M122.6 319.1a1.2 .8 131 1 0 -1.6 1.9 1.2 .8 131 1 0 1.6 -1.9M108 320.9a1.1 .9 162 1 0 -2.2 .7 1.1 .9 162 1 0 2.2 -.7M129.9 315.6a1.4 1 103 1 0 -.6 2.7 1.4 1 103 1 0 .6 -2.7M119.3 299.6a1.2 .5 115 1 0 -1 2.2 1.2 .5 115 1 0 1 -2.2M112.1 314.6a1.4 .5 108 1 0 -.8 2.6 1.4 .5 108 1 0 .8 -2.6M103.4 287.7a1.3 .6 30 1 0 2.2 1.3 1.3 .6 30 1 0 -2.2 -1.3M130.5 308.7a1.5 .7 119 1 0 -1.5 2.6 1.5 .7 119 1 0 1.5 -2.6M118.2 298a1.1 1 152 1 0 -1.9 1 1.1 1 152 1 0 1.9 -1M121.7 319a.8 .8 49 1 0 1 1.2 .8 .8 49 1 0 -1 -1.2M132.1 303a.6 1 7 1 0 1.3 .2 .6 1 7 1 0 -1.3 -.2M120.8 306.4a1.4 .5 24 1 0 2.5 1.2 1.4 .5 24 1 0 -2.5 -1.2M121.1 293.8a.8 .5 84 1 0 .1 1.6 .8 .5 84 1 0 -.1 -1.6M122.3 293a.9 .9 93 1 0 -.1 1.9 .9 .9 93 1 0 .1 -1.9M117.1 312.8a1.4 1 15 1 0 2.7 .8 1.4 1 15 1 0 -2.7 -.8M131.8 311.7a1.1 .9 163 1 0 -2 .6 1.1 .9 163 1 0 2 -.6M115.3 313.4a.6 1 11 1 0 1.2 .3 .6 1 11 1 0 -1.2 -.3M124.4 293.1a1.4 .6 26 1 0 2.5 1.2 1.4 .6 26 1 0 -2.5 -1.2M132.2 290a1.1 .7 131 1 0 -1.5 1.7 1.1 .7 131 1 0 1.5 -1.7M127.5 316.5a1.5 1.1 94 1 0 -.2 2.9 1.5 1.1 94 1 0 .2 -2.9M115.7 294.6a1.1 .9 4 1 0 2.2 .2 1.1 .9 4 1 0 -2.2 -.2M132.2 303.8a1.4 .8 88 1 0 .1 2.8 1.4 .8 88 1 0 -.1 -2.8"/>
<path fill="#85553a" d="M112.4 305.6a1.1 .8 105 1 0 -.6 2.1 1.1 .8 105 1 0 .6 -2.1M100.9 303.9a1.4 .6 54 1 0 1.6 2.3 1.4 .6 54 1 0 -1.6 -2.3M98.7 314.9a.6 1.1 173 1 0 -1.3 .1 .6 1.1 173 1 0 1.3 -.1M132.3 320.3a1.3 .7 41 1 0 2 1.7 1.3 .7 41 1 0 -2 -1.7M105.4 289.4a1 1 69 1 0 .7 1.9 1 1 69 1 0 -.7 -1.9M96.9 298.1a1.4 .6 44 1 0 1.9 1.9 1.4 .6 44 1 0 -1.9 -1.9M98.3 289.2a.8 .8 80 1 0 .3 1.5 .8 .8 80 1 0 -.3 -1.5M104.1 296.5a1.4 .7 159 1 0 -2.6 1 1.4 .7 159 1 0 2.6 -1M103.9 301.1a1.2 .6 178 1 0 -2.5 .1 1.2 .6 178 1 0 2.5 -.1M101.9 296.4a.9 .7 13 1 0 1.8 .4 .9 .7 13 1 0 -1.8 -.4M101 319.3a1.2 .8 18 1 0 2.3 .8 1.2 .8 18 1 0 -2.3 -.8M115.6 315.9a.9 1.1 36 1 0 1.4 1.1 .9 1.1 36 1 0 -1.4 -1.1M124 310.2a1.5 .7 123 1 0 -1.7 2.5 1.5 .7 123 1 0 1.7 -2.5M133.4 316.3a1 .9 104 1 0 -.5 1.9 1 .9 104 1 0 .5 -1.9M114.3 295.4a1.1 .9 165 1 0 -2.1 .5 1.1 .9 165 1 0 2.1 -.5M101.7 300.9a1.5 1 69 1 0 1.1 2.8 1.5 1 69 1 0 -1.1 -2.8M103.8 301.2a1.1 .7 151 1 0 -1.9 1.1 1.1 .7 151 1 0 1.9 -1.1M111.4 288.7a.8 .6 8 1 0 1.7 .2 .8 .6 8 1 0 -1.7 -.2M120.2 302.7a1.3 1 172 1 0 -2.5 .3 1.3 1 172 1 0 2.5 -.3M109 305.5a1.4 1.1 83 1 0 .3 2.8 1.4 1.1 83 1 0 -.3 -2.8M120.7 293.7a1.4 .9 129 1 0 -1.8 2.2 1.4 .9 129 1 0 1.8 -2.2M104 317a1.6 .8 142 1 0 -2.5 1.9 1.6 .8 142 1 0 2.5 -1.9M106.8 317.4a.9 .5 79 1 0 .4 1.9 .9 .5 79 1 0 -.4 -1.9M114.6 310.8a1.3 1.1 88 1 0 .1 2.6 1.3 1.1 88 1 0 -.1 -2.6M118.9 304.3a1.2 .7 68 1 0 .8 2.2 1.2 .7 68 1 0 -.8 -2.2"/>
<path stroke="#357320" stroke-width=".75" fill="none" d="M124 309.9L130.5 307.5M124 309.9L131.3 310.5M124 309.9L127.9 311.4M124 309.9L126.3 316.2M124 309.9L122.6 314.2M124 309.9L119.9 313M124 309.9L121.7 310.3M124 309.9L117 308.6M124 309.9L120 307.5M124 309.9L121.8 302.8M124 309.9L127 303.7M101.4 297.6L102.3 298.9M101.4 297.6L101.5 302.8M101.4 297.6L97 299.8M101.4 297.6L98.8 296.8M101.4 297.6L99.9 295.3M101.4 297.6L101.2 293.1M101.4 297.6L104 296.1M101.4 297.6L108.6 297M124.4 304.6L123.4 297.3M124.4 304.6L124.6 302.3M124.4 304.6L130.9 301.3M124.4 304.6L130.1 306.2M124.4 304.6L127.4 308.5M124.4 304.6L124.5 307.5M124.4 304.6L123.3 307M124.4 304.6L123.1 304.6M124.4 304.6L118.2 300.8M129.2 298.9L130.9 299.3M129.2 298.9L131.6 303.1M129.2 298.9L128.9 301.7M129.2 298.9L126.5 299.5M129.2 298.9L122.1 297.8M129.2 298.9L127.3 296.9M129.2 298.9L130.3 297.1M129.2 298.9L130.8 298M116.7 312.6L115.5 314.2M116.7 312.6L111.6 314M116.7 312.6L111.6 309M116.7 312.6L115 307.4M116.7 312.6L117.8 309.7M116.7 312.6L119.1 311.1M116.7 312.6L121.1 313M116.7 312.6L121 316.6M116.7 312.6L119.1 315.8M116.7 312.6L116.6 313.7M112.2 294.3L115.4 290.3M112.2 294.3L116.4 295.6M112.2 294.3L114.9 297.9M112.2 294.3L110.6 300.6M112.2 294.3L107.7 297.5M112.2 294.3L109.2 292.7M112.2 294.3L109.9 292.4M112.2 294.3L112.5 292.4"/>
<path fill="#245c16" d="M114.3 296.6a2.9 1.6 175 1 0 -5.7 .5 2.9 1.6 175 1 0 5.7 -.5M136.5 298.4a3.2 2.2 152 1 0 -5.7 2.9 3.2 2.2 152 1 0 5.7 -2.9"/>
<path fill="#367c1f" d="M136.4 305.4a3.1 1.6 160 1 0 -5.9 2.1 3.1 1.6 160 1 0 5.9 -2.1M122.6 314.2a2.8 1.5 108 1 0 -1.7 5.2 2.8 1.5 108 1 0 1.7 -5.2M119.9 313a2.9 1.6 142 1 0 -4.7 3.5 2.9 1.6 142 1 0 4.7 -3.5M129.6 298.2a3.1 1.7 115 1 0 -2.7 5.5 3.1 1.7 115 1 0 2.7 -5.5M100.9 287.3a2.9 1.7 87 1 0 .3 5.9 2.9 1.7 87 1 0 -.3 -5.9M130.1 306.2a2.6 1.8 15 1 0 4.9 1.4 2.6 1.8 15 1 0 -4.9 -1.4M113.1 301.5a3.1 2 72 1 0 1.9 5.9 3.1 2 72 1 0 -1.9 -5.9M121 316.6a2.9 1.7 43 1 0 4.3 4 2.9 1.7 43 1 0 -4.3 -4M119.1 315.8a3.5 2.3 53 1 0 4.2 5.7 3.5 2.3 53 1 0 -4.2 -5.7M118.8 286.1a2.7 1.7 128 1 0 -3.3 4.2 2.7 1.7 128 1 0 3.3 -4.2"/>
<path fill="#4a9828" d="M126.3 316.2a2.5 1.6 69 1 0 1.7 4.7 2.5 1.6 69 1 0 -1.7 -4.7M101.5 302.8a2.5 1.4 88 1 0 .1 5.1 2.5 1.4 88 1 0 -.1 -5.1M122.6 292.3a2.5 1.6 81 1 0 .7 5 2.5 1.6 81 1 0 -.7 -5M113.4 297.8a2.8 1.7 31 1 0 4.8 2.9 2.8 1.7 31 1 0 -4.8 -2.9M111.6 314a3.2 1.9 165 1 0 -6.2 1.6 3.2 1.9 165 1 0 6.2 -1.6"/>
<path fill="#60b232" d="M131.3 310.5a2.5 1.4 4 1 0 5.1 .4 2.5 1.4 4 1 0 -5.1 -.4M127.9 311.4a3.1 1.9 20 1 0 5.8 2.2 3.1 1.9 20 1 0 -5.8 -2.2M110.8 307.3a3.2 2 11 1 0 6.2 1.2 3.2 2 11 1 0 -6.2 -1.2M115 304.4a2.9 1.9 31 1 0 5 3.1 2.9 1.9 31 1 0 -5 -3.1M119.8 296a3.5 2.3 73 1 0 2 6.7 3.5 2.3 73 1 0 -2 -6.7M127.4 308.5a2.6 1.8 52 1 0 3.1 4.1 2.6 1.8 52 1 0 -3.1 -4.1M131.6 303.1a3.3 2.1 60 1 0 3.3 5.7 3.3 2.1 60 1 0 -3.3 -5.7M115.9 296.8a3.1 2 8 1 0 6.1 .9 3.1 2 8 1 0 -6.1 -.9M121.1 313a2.6 1.7 4 1 0 5.2 .4 2.6 1.7 4 1 0 -5.2 -.4M116.4 295.6a3.4 2 18 1 0 6.5 2.1 3.4 2 18 1 0 -6.5 -2.1M110.6 300.6a3.5 2.3 104 1 0 -1.8 6.7 3.5 2.3 104 1 0 1.8 -6.7M107.7 297.5a3.5 2 144 1 0 -5.6 4 3.5 2 144 1 0 5.6 -4"/>
<path fill="#82ca4a" d="M97 299.8a2.6 1.7 153 1 0 -4.7 2.3 2.6 1.7 153 1 0 4.7 -2.3M106.5 305.5a3.1 2 34 1 0 5 3.5 3.1 2 34 1 0 -5 -3.5M114.9 297.9a3.4 2.2 53 1 0 4 5.4 3.4 2.2 53 1 0 -4 -5.4"/>
<path fill="#245c16" d="M108.5 293.4a2.6 1.8 149 1 0 -4.5 2.7 2.6 1.8 149 1 0 4.5 -2.7M105.7 289.2a2.6 1.7 37 1 0 4.2 3.2 2.6 1.7 37 1 0 -4.2 -3.2"/>
<path fill="#367c1f" d="M102.3 298.9a2.6 1.5 54 1 0 3 4.3 2.6 1.5 54 1 0 -3 -4.3M97.1 290.8a2.6 1.7 57 1 0 2.8 4.5 2.6 1.7 57 1 0 -2.8 -4.5M130.9 299.3a3.5 2 15 1 0 6.8 1.8 3.5 2 15 1 0 -6.8 -1.8M113.4 285.5a3.6 1.8 97 1 0 -.9 7.1 3.6 1.8 97 1 0 .9 -7.1"/>
<path fill="#4a9828" d="M121.7 310.3a2.6 1.8 170 1 0 -5.2 .8 2.6 1.8 170 1 0 5.2 -.8M92.2 294.7a3.6 2.2 16 1 0 6.9 2.1 3.6 2.2 16 1 0 -6.9 -2.1M124.5 307.5a3.3 2 87 1 0 .3 6.6 3.3 2 87 1 0 -.3 -6.6M115.7 304.4a3.7 2.5 1 1 0 7.4 .2 3.7 2.5 1 1 0 -7.4 -.2M128.9 301.7a2.7 1.6 95 1 0 -.5 5.3 2.7 1.6 95 1 0 .5 -5.3M126.5 299.5a3.2 2.1 165 1 0 -6.3 1.6 3.2 2.1 165 1 0 6.3 -1.6M133.3 292.5a2.8 1.9 123 1 0 -3 4.7 2.8 1.9 123 1 0 3 -4.7"/>
<path fill="#60b232" d="M125.3 296.5a3 1.5 96 1 0 -.6 5.9 3 1.5 96 1 0 .6 -5.9M123.7 293.3a2.5 1.3 45 1 0 3.6 3.6 2.5 1.3 45 1 0 -3.6 -3.6M116.6 313.7a3.5 2.1 97 1 0 -.9 7 3.5 2.1 97 1 0 .9 -7"/>
<path fill="#82ca4a" d="M123.3 307a2.6 1.4 114 1 0 -2.2 4.6 2.6 1.4 114 1 0 2.2 -4.6M137.2 294.8a3.5 2.3 152 1 0 -6.3 3.2 3.5 2.3 152 1 0 6.3 -3.2M115.5 314.2a3.5 2.2 127 1 0 -4.3 5.5 3.5 2.2 127 1 0 4.3 -5.5M120.3 302.9a3.6 2 110 1 0 -2.5 6.7 3.6 2 110 1 0 2.5 -6.7M124.4 307.7a3.1 2.2 147 1 0 -5.3 3.4 3.1 2.2 147 1 0 5.3 -3.4M104.3 290.3a2.7 1.5 26 1 0 4.8 2.4 2.7 1.5 26 1 0 -4.8 -2.4"/>
<rect x="140.4" y="240" width="47.4" height="86.3" fill="#1f1d1a"/>
<rect x="142" y="241.5" width="44.2" height="40.2" rx="4.5" fill="url(#gw)" stroke="#8a8274" stroke-width=".9"/>
<rect x="144.2" y="243.8" width="39.8" height="35.4" rx="2.5" fill="#2e2017"/>
<path fill="#5e3a24" d="M180.2 273.9a.8 .7 178 1 0 -1.5 0 .8 .7 178 1 0 1.5 -0M179.5 254.8a1.2 1 88 1 0 .1 2.5 1.2 1 88 1 0 -.1 -2.5M148.7 263.3a.7 .6 124 1 0 -.8 1.1 .7 .6 124 1 0 .8 -1.1M156.3 267.2a.7 .5 127 1 0 -.9 1.1 .7 .5 127 1 0 .9 -1.1M177.3 251.6a.6 .9 54 1 0 .7 1 .6 .9 54 1 0 -.7 -1M150.8 265.4a1 .6 114 1 0 -.9 1.9 1 .6 114 1 0 .9 -1.9M167.1 258a1.5 1 124 1 0 -1.7 2.5 1.5 1 124 1 0 1.7 -2.5M182.9 263.4a.7 .9 93 1 0 -.1 1.4 .7 .9 93 1 0 .1 -1.4M146.2 266.8a1.1 .7 13 1 0 2.1 .5 1.1 .7 13 1 0 -2.1 -.5M173 247.4a.7 .9 54 1 0 .8 1.1 .7 .9 54 1 0 -.8 -1.1M145.8 245.6a1.1 .5 4 1 0 2.2 .2 1.1 .5 4 1 0 -2.2 -.2M169.8 261.7a.9 .6 49 1 0 1.2 1.4 .9 .6 49 1 0 -1.2 -1.4M160 251.3a.8 .7 99 1 0 -.3 1.6 .8 .7 99 1 0 .3 -1.6M178.9 265.9a.6 .6 114 1 0 -.5 1.1 .6 .6 114 1 0 .5 -1.1M172.2 248a1.5 .7 174 1 0 -2.9 .3 1.5 .7 174 1 0 2.9 -.3M159.6 272.3a.7 .8 38 1 0 1.1 .9 .7 .8 38 1 0 -1.1 -.9M181.4 268a1.5 .8 174 1 0 -3 .3 1.5 .8 174 1 0 3 -.3M173.7 250.7a1.4 .6 176 1 0 -2.9 .2 1.4 .6 176 1 0 2.9 -.2M158.3 253.1a1.3 1 67 1 0 1 2.3 1.3 1 67 1 0 -1 -2.3M176.3 257.7a1.4 1.1 16 1 0 2.7 .8 1.4 1.1 16 1 0 -2.7 -.8M152.3 246.5a.7 1 3 1 0 1.4 .1 .7 1 3 1 0 -1.4 -.1M150.4 251.6a1.4 .5 122 1 0 -1.5 2.3 1.4 .5 122 1 0 1.5 -2.3M158 248.6a1.1 .6 70 1 0 .8 2.1 1.1 .6 70 1 0 -.8 -2.1M155.4 269.9a1.1 .7 22 1 0 2 .8 1.1 .7 22 1 0 -2 -.8M171.1 273.2a1 1 178 1 0 -1.9 .1 1 1 178 1 0 1.9 -.1M163.7 254.7a.8 1 23 1 0 1.4 .6 .8 1 23 1 0 -1.4 -.6M182.4 266.2a.9 .6 54 1 0 1 1.4 .9 .6 54 1 0 -1 -1.4M148.1 245a1.1 .9 91 1 0 -.1 2.1 1.1 .9 91 1 0 .1 -2.1M170.2 265.3a1.3 .8 75 1 0 .7 2.5 1.3 .8 75 1 0 -.7 -2.5M153.1 253.8a1 .5 138 1 0 -1.5 1.3 1 .5 138 1 0 1.5 -1.3M175 265.7a.8 1 157 1 0 -1.5 .6 .8 1 157 1 0 1.5 -.6M172.6 272.9a.9 .8 85 1 0 .1 1.8 .9 .8 85 1 0 -.1 -1.8M151.7 255.7a.9 1 158 1 0 -1.6 .7 .9 1 158 1 0 1.6 -.7M151.1 246.6a1.1 .5 155 1 0 -2 .9 1.1 .5 155 1 0 2 -.9M178.8 262.9a.8 1 123 1 0 -.9 1.3 .8 1 123 1 0 .9 -1.3M163.1 275.3a1.3 1 148 1 0 -2.2 1.3 1.3 1 148 1 0 2.2 -1.3M150 268.1a1.2 .6 173 1 0 -2.4 .3 1.2 .6 173 1 0 2.4 -.3M181.2 247.7a1.1 .8 60 1 0 1.1 2 1.1 .8 60 1 0 -1.1 -2M153.5 268.3a1.1 .8 51 1 0 1.3 1.6 1.1 .8 51 1 0 -1.3 -1.6M179.5 269.6a.9 .8 114 1 0 -.7 1.7 .9 .8 114 1 0 .7 -1.7M179.6 274.3a1.5 .5 104 1 0 -.7 2.8 1.5 .5 104 1 0 .7 -2.8M174.9 250.4a.7 .8 150 1 0 -1.2 .7 .7 .8 150 1 0 1.2 -.7M145.1 268.5a1.5 .8 83 1 0 .4 3.1 1.5 .8 83 1 0 -.4 -3.1M157.1 272.4a1.3 .9 147 1 0 -2.2 1.4 1.3 .9 147 1 0 2.2 -1.4M155.2 248.2a1.2 .6 6 1 0 2.4 .3 1.2 .6 6 1 0 -2.4 -.3M159.4 266.9a.9 .6 176 1 0 -1.8 .1 .9 .6 176 1 0 1.8 -.1"/>
<path fill="#85553a" d="M180.1 266.3a1.5 .7 114 1 0 -1.2 2.7 1.5 .7 114 1 0 1.2 -2.7M148.5 254.6a1 .6 57 1 0 1.1 1.8 1 .6 57 1 0 -1.1 -1.8M161 277.9a.7 1 0 1 0 1.4 0 .7 1 0 1 0 -1.4 -0M171 254.3a1.6 .8 137 1 0 -2.3 2.1 1.6 .8 137 1 0 2.3 -2.1M160 272.3a.9 .7 53 1 0 1.1 1.4 .9 .7 53 1 0 -1.1 -1.4M147 268.8a1 .9 104 1 0 -.5 1.9 1 .9 104 1 0 .5 -1.9M177.7 254.7a.9 1.1 60 1 0 .9 1.6 .9 1.1 60 1 0 -.9 -1.6M160.4 262a.9 .9 128 1 0 -1.1 1.4 .9 .9 128 1 0 1.1 -1.4M169.1 262.2a1.3 .9 97 1 0 -.3 2.6 1.3 .9 97 1 0 .3 -2.6M172.8 269a1.1 .7 38 1 0 1.8 1.4 1.1 .7 38 1 0 -1.8 -1.4M177.5 262.6a1.5 .6 49 1 0 1.9 2.3 1.5 .6 49 1 0 -1.9 -2.3M180.3 259.4a1.4 .8 27 1 0 2.4 1.3 1.4 .8 27 1 0 -2.4 -1.3M159.6 252.5a.8 .8 146 1 0 -1.3 .9 .8 .8 146 1 0 1.3 -.9M179.1 276.9a1 .7 61 1 0 .9 1.7 1 .7 61 1 0 -.9 -1.7"/>
<path stroke="#357320" stroke-width=".75" fill="none" d="M160.9 250.1L164.7 256.5M160.9 250.1L161.4 251.5M160.9 250.1L158.4 256.8M160.9 250.1L154.9 252.1M160.9 250.1L158.1 249.9M160.9 250.1L160.1 248.8M160.9 250.1L160.8 248.1M160.9 250.1L161.3 248.4M160.9 250.1L164.6 246.6M160.9 250.1L163.4 250.8M157.2 264.1L160.7 267.4M157.2 264.1L159 266.3M157.2 264.1L156.9 269.8M157.2 264.1L152.6 267.9M157.2 264.1L151.6 267.5M157.2 264.1L155.2 263.2M157.2 264.1L155.9 261.5M157.2 264.1L157.4 261.7M157.2 264.1L158.8 259.8M157.2 264.1L158.4 263.5M157.2 264.1L158.3 264.2M171.1 254.2L173.4 253.2M171.1 254.2L174.9 255.1M171.1 254.2L172.3 255.5M171.1 254.2L170.3 256.4M171.1 254.2L169.7 255.2M171.1 254.2L167.7 256.1M171.1 254.2L166 251.4M171.1 254.2L168.8 247.6M171.1 254.2L172.7 247.8M171.1 254.2L172.4 253.2M159.3 262.8L159.8 261.3M159.3 262.8L164.7 258.2M159.3 262.8L160.6 263.1M159.3 262.8L161.2 264.2M159.3 262.8L160.8 267.2M159.3 262.8L158.6 263.9M159.3 262.8L156.6 264.3M159.3 262.8L153.4 262.3M159.3 262.8L153.7 261.1M159.3 262.8L157.7 258.4M159.3 262.8L159 261.4M159.4 273.9L156.2 270.7M159.4 273.9L158.2 271.1M159.4 273.9L160.1 267.2M159.4 273.9L163 269.4M159.4 273.9L165.5 271.4M159.4 273.9L161.6 275.2M159.4 273.9L160.7 275.7M159.4 273.9L159.1 276.8M159.4 273.9L158 275.6M159.4 273.9L158.2 274.2M159.4 273.9L154.3 273.2M155.4 249.3L157.3 249.7M155.4 249.3L159.5 252.4M155.4 249.3L155.9 251M155.4 249.3L152.6 251.7M155.4 249.3L150.7 248.3M155.4 249.3L150.9 246.3M155.4 249.3L154.9 247.1M155.4 249.3L159.8 246.4M170.6 261.2L171.5 260M170.6 261.2L173.9 260.7M170.6 261.2L175.8 264.1M170.6 261.2L171.3 262.2M170.6 261.2L169.1 266.9M170.6 261.2L167.4 265.2M170.6 261.2L168.8 261.3M170.6 261.2L168.8 260.8M170.6 261.2L167.6 255.5M170.6 261.2L171.6 258.6"/>
<path fill="#245c16" d="M151.6 267.5a3.6 2 149 1 0 -6.2 3.7 3.6 2 149 1 0 6.2 -3.7M169.1 266.9a2.9 1.5 104 1 0 -1.5 5.6 2.9 1.5 104 1 0 1.5 -5.6"/>
<path fill="#367c1f" d="M167.1 242.9a2.5 1.7 70 1 0 1.7 4.7 2.5 1.7 70 1 0 -1.7 -4.7M146 261.6a3.7 1.9 5 1 0 7.5 .7 3.7 1.9 5 1 0 -7.5 -.7M160.9 260.4a3.4 2.2 96 1 0 -.8 6.8 3.4 2.2 96 1 0 .8 -6.8M167.4 265.2a3.8 2.2 128 1 0 -4.7 5.9 3.8 2.2 128 1 0 4.7 -5.9"/>
<path fill="#4a9828" d="M154.9 252.1a3.5 1.8 160 1 0 -6.6 2.3 3.5 1.8 160 1 0 6.6 -2.3M174.9 255.1a3 2 12 1 0 5.9 1.3 3 2 12 1 0 -5.9 -1.3M169.3 254.3a3 2.1 139 1 0 -4.6 3.9 3 2.1 139 1 0 4.6 -3.9M147.3 259.1a3.4 2.1 17 1 0 6.4 2 3.4 2.1 17 1 0 -6.4 -2M148.7 272.3a2.8 2 8 1 0 5.6 .8 2.8 2 8 1 0 -5.6 -.8M159.5 252.4a2.8 1.9 37 1 0 4.5 3.4 2.8 1.9 37 1 0 -4.5 -3.4M143.9 246.8a3.5 1.8 12 1 0 6.8 1.5 3.5 1.8 12 1 0 -6.8 -1.5M145.1 242.3a3.5 2.3 34 1 0 5.8 3.9 3.5 2.3 34 1 0 -5.8 -3.9M165.5 242.7a3.4 1.9 146 1 0 -5.7 3.7 3.4 1.9 146 1 0 5.7 -3.7"/>
<path fill="#60b232" d="M164.7 256.5a2.9 1.5 59 1 0 2.9 5 2.9 1.5 59 1 0 -2.9 -5M158.4 256.8a3.6 2 110 1 0 -2.5 6.7 3.6 2 110 1 0 2.5 -6.7M160.7 267.4a3.3 2 44 1 0 4.8 4.6 3.3 2 44 1 0 -4.8 -4.6M156.9 269.8a3.1 1.5 93 1 0 -.4 6.1 3.1 1.5 93 1 0 .4 -6.1M160.8 254.2a3 1.5 109 1 0 -2.1 5.7 3 1.5 109 1 0 2.1 -5.7M167.7 256.1a3 1.6 150 1 0 -5.3 3 3 1.6 150 1 0 5.3 -3M174.3 241.9a3 1.6 104 1 0 -1.5 5.9 3 1.6 104 1 0 1.5 -5.9M155.9 253.3a2.7 1.7 70 1 0 1.8 5.1 2.7 1.7 70 1 0 -1.8 -5.1M150.8 265.4a3.8 2.3 44 1 0 5.4 5.4 3.8 2.3 44 1 0 -5.4 -5.4M166.4 265.3a2.7 1.7 129 1 0 -3.4 4.2 2.7 1.7 129 1 0 3.4 -4.2M172.6 268.6a3.8 2.4 158 1 0 -7 2.8 3.8 2.4 158 1 0 7 -2.8M175.8 264.1a3.4 1.9 29 1 0 5.9 3.3 3.4 1.9 29 1 0 -5.9 -3.3M164.7 250.1a3 1.9 62 1 0 2.9 5.4 3 1.9 62 1 0 -2.9 -5.4"/>
<path fill="#82ca4a" d="M169.1 242.4a3.1 1.8 136 1 0 -4.5 4.2 3.1 1.8 136 1 0 4.5 -4.2M152.6 267.9a2.7 1.7 140 1 0 -4.2 3.4 2.7 1.7 140 1 0 4.2 -3.4M159.7 247.9a3.6 2.3 29 1 0 6.4 3.5 3.6 2.3 29 1 0 -6.4 -3.5M160.8 267.2a2.7 1.8 70 1 0 1.8 5.1 2.7 1.8 70 1 0 -1.8 -5.1"/>
<path fill="#245c16" d="M149.4 260.8a3.1 2.1 22 1 0 5.8 2.4 3.1 2.1 22 1 0 -5.8 -2.4M178.9 250.7a3 1.7 156 1 0 -5.6 2.5 3 1.7 156 1 0 5.6 -2.5M156.6 264.3a3.6 2.1 151 1 0 -6.3 3.5 3.6 2.1 151 1 0 6.3 -3.5"/>
<path fill="#367c1f" d="M164.5 260.3a3.4 1.7 152 1 0 -6.1 3.1 3.4 1.7 152 1 0 6.1 -3.1M172.3 255.5a3.8 2.4 46 1 0 5.2 5.5 3.8 2.4 46 1 0 -5.2 -5.5M161.7 255.4a3.1 2.1 108 1 0 -1.9 5.8 3.1 2.1 108 1 0 1.9 -5.8M161.2 264.2a2.6 1.4 35 1 0 4.2 3 2.6 1.4 35 1 0 -4.2 -3M155.3 264.1a3.8 2.4 67 1 0 2.9 6.9 3.8 2.4 67 1 0 -2.9 -6.9M159.1 273.9a3.3 1.7 94 1 0 -.5 6.5 3.3 1.7 94 1 0 .5 -6.5M155.9 251a3.3 2 73 1 0 1.9 6.3 3.3 2 73 1 0 -1.9 -6.3M168.8 261.3a3.8 1.9 177 1 0 -7.6 .3 3.8 1.9 177 1 0 7.6 -.3"/>
<path fill="#4a9828" d="M161.4 251.5a2.7 1.9 70 1 0 1.8 5.1 2.7 1.9 70 1 0 -1.8 -5.1M160.7 243a2.6 1.8 88 1 0 .2 5.2 2.6 1.8 88 1 0 -.2 -5.2M157.8 254.4a3.7 2.5 93 1 0 -.5 7.3 3.7 2.5 93 1 0 .5 -7.3M169.7 255.2a2.8 1.9 146 1 0 -4.7 3.1 2.8 1.9 146 1 0 4.7 -3.1M160.7 275a3 1.8 53 1 0 3.5 4.8 3 1.8 53 1 0 -3.5 -4.8M158 274.2a3.6 2.5 128 1 0 -4.4 5.6 3.6 2.5 128 1 0 4.4 -5.6M152.6 251.7a3.4 2 140 1 0 -5.2 4.4 3.4 2 140 1 0 5.2 -4.4M153.2 242.4a3.8 2 77 1 0 1.7 7.4 3.8 2 77 1 0 -1.7 -7.4M180.8 259.8a3.5 1.8 171 1 0 -6.9 1 3.5 1.8 171 1 0 6.9 -1M171.3 262.2a3.1 1.8 57 1 0 3.3 5.2 3.1 1.8 57 1 0 -3.3 -5.2"/>
<path fill="#60b232" d="M156.3 242.6a3.7 2.4 58 1 0 3.8 6.2 3.7 2.4 58 1 0 -3.8 -6.2M162.9 242.5a3.5 2.2 103 1 0 -1.6 6.7 3.5 2.2 103 1 0 1.6 -6.7M152.5 254.8a3.8 2.1 62 1 0 3.5 6.7 3.8 2.1 62 1 0 -3.5 -6.7M158.3 264.2a3.7 1.9 7 1 0 7.3 .9 3.7 1.9 7 1 0 -7.3 -.9M170.3 256.4a2.9 1.5 110 1 0 -2 5.5 2.9 1.5 110 1 0 2 -5.5M160.6 263.1a3.1 1.6 15 1 0 6 1.6 3.1 1.6 15 1 0 -6 -1.6M158.6 263.9a2.6 1.6 119 1 0 -2.6 4.6 2.6 1.6 119 1 0 2.6 -4.6M157.8 254a3.7 2.3 80 1 0 1.2 7.4 3.7 2.3 80 1 0 -1.2 -7.4M158.2 274.2a3.3 1.8 164 1 0 -6.4 1.8 3.3 1.8 164 1 0 6.4 -1.8M162.5 259.1a3.3 2.1 14 1 0 6.4 1.6 3.3 2.1 14 1 0 -6.4 -1.6M173.7 253a3 1.9 110 1 0 -2.1 5.6 3 1.9 110 1 0 2.1 -5.6"/>
<path fill="#82ca4a" d="M151.5 249.6a3.3 1.8 2 1 0 6.6 .3 3.3 1.8 2 1 0 -6.6 -.3M163.4 250.8a3.6 2.2 17 1 0 6.8 2.1 3.6 2.2 17 1 0 -6.8 -2.1M159 266.3a2.7 1.5 51 1 0 3.3 4.2 2.7 1.5 51 1 0 -3.3 -4.2M176.4 249.8a2.6 1.6 140 1 0 -4 3.3 2.6 1.6 140 1 0 4 -3.3M161.6 275.2a2.7 1.8 30 1 0 4.6 2.7 2.7 1.8 30 1 0 -4.6 -2.7M157.3 249.7a3.4 1.8 12 1 0 6.6 1.5 3.4 1.8 12 1 0 -6.6 -1.5M175.6 254.6a3.4 2.2 126 1 0 -4 5.4 3.4 2.2 126 1 0 4 -5.4"/>
<rect x="142" y="284.6" width="44.2" height="40.2" rx="4.5" fill="url(#gw)" stroke="#8a8274" stroke-width=".9"/>
<rect x="144.2" y="286.9" width="39.8" height="35.4" rx="2.5" fill="#2e2017"/>
<path fill="#5e3a24" d="M175.4 304.3a.8 .5 66 1 0 .7 1.5 .8 .5 66 1 0 -.7 -1.5M149.9 317.7a1.2 .7 87 1 0 .1 2.3 1.2 .7 87 1 0 -.1 -2.3M160.3 299.2a1 1.1 69 1 0 .7 1.8 1 1.1 69 1 0 -.7 -1.8M166.5 311.8a1.2 .8 112 1 0 -.9 2.2 1.2 .8 112 1 0 .9 -2.2M152.5 292.2a1.5 .7 107 1 0 -.9 2.9 1.5 .7 107 1 0 .9 -2.9M156.2 290.1a1.4 1 67 1 0 1.1 2.6 1.4 1 67 1 0 -1.1 -2.6M178.2 292a1.4 1 86 1 0 .1 2.8 1.4 1 86 1 0 -.1 -2.8M176.1 289.2a.9 .8 30 1 0 1.5 .9 .9 .8 30 1 0 -1.5 -.9M153.7 319.1a1.3 .5 38 1 0 2.1 1.6 1.3 .5 38 1 0 -2.1 -1.6M176.4 298.2a.9 1 1 1 0 1.8 .1 .9 1 1 1 0 -1.8 -.1M172.2 319.2a1.2 .9 153 1 0 -2.1 1.1 1.2 .9 153 1 0 2.1 -1.1M165.9 295.9a1.6 1 24 1 0 2.8 1.3 1.6 1 24 1 0 -2.8 -1.3M149.7 290.7a1 .6 156 1 0 -1.9 .8 1 .6 156 1 0 1.9 -.8M169.3 291.6a.9 .8 39 1 0 1.4 1.2 .9 .8 39 1 0 -1.4 -1.2M150.2 293.9a1.3 .8 8 1 0 2.6 .4 1.3 .8 8 1 0 -2.6 -.4M148.4 312.4a1.3 .7 125 1 0 -1.5 2.1 1.3 .7 125 1 0 1.5 -2.1M156.5 288.6a.9 1 53 1 0 1.1 1.5 .9 1 53 1 0 -1.1 -1.5M173.2 318.9a1.3 .8 100 1 0 -.5 2.6 1.3 .8 100 1 0 .5 -2.6M149 289.1a1.4 1 80 1 0 .5 2.8 1.4 1 80 1 0 -.5 -2.8M161 294.6a1 .6 126 1 0 -1.2 1.7 1 .6 126 1 0 1.2 -1.7M176.1 311.3a.8 .7 87 1 0 .1 1.7 .8 .7 87 1 0 -.1 -1.7M169.8 319.2a1.1 .8 129 1 0 -1.4 1.7 1.1 .8 129 1 0 1.4 -1.7M172.2 309.3a1.5 .7 110 1 0 -1.1 2.8 1.5 .7 110 1 0 1.1 -2.8M160.7 292.7a.7 .7 169 1 0 -1.3 .2 .7 .7 169 1 0 1.3 -.2M172 302.4a1.6 .9 37 1 0 2.5 1.9 1.6 .9 37 1 0 -2.5 -1.9M155.2 314.9a1.3 .6 107 1 0 -.8 2.4 1.3 .6 107 1 0 .8 -2.4M156.7 293.7a.9 .6 172 1 0 -1.7 .2 .9 .6 172 1 0 1.7 -.2M147.4 297.6a1.5 .7 24 1 0 2.7 1.2 1.5 .7 24 1 0 -2.7 -1.2M174.9 314.8a.6 .6 72 1 0 .4 1.2 .6 .6 72 1 0 -.4 -1.2M147 306.3a1.5 .9 136 1 0 -2.2 2.1 1.5 .9 136 1 0 2.2 -2.1M175.8 298.3a1 .7 112 1 0 -.7 1.8 1 .7 112 1 0 .7 -1.8M177.9 289.7a1.1 .9 34 1 0 1.8 1.2 1.1 .9 34 1 0 -1.8 -1.2M155.9 288.9a1.1 .9 117 1 0 -1 1.9 1.1 .9 117 1 0 1 -1.9M171.3 305.3a1.4 .6 7 1 0 2.8 .4 1.4 .6 7 1 0 -2.8 -.4"/>
<path fill="#85553a" d="M152.3 310.3a1.1 .6 142 1 0 -1.7 1.3 1.1 .6 142 1 0 1.7 -1.3M166.5 290.1a.8 .6 7 1 0 1.6 .2 .8 .6 7 1 0 -1.6 -.2M182.3 311.5a1.2 .5 59 1 0 1.2 2.1 1.2 .5 59 1 0 -1.2 -2.1M164.8 291.3a1 .6 147 1 0 -1.6 1.1 1 .6 147 1 0 1.6 -1.1M151.6 288.7a.8 1 37 1 0 1.3 1 .8 1 37 1 0 -1.3 -1M182.7 316.7a1.4 .8 131 1 0 -1.8 2 1.4 .8 131 1 0 1.8 -2M150.6 303.6a.8 1.1 159 1 0 -1.5 .6 .8 1.1 159 1 0 1.5 -.6M146.2 289.5a1.6 .8 88 1 0 .1 3.2 1.6 .8 88 1 0 -.1 -3.2M172.6 310.4a1.6 .7 178 1 0 -3.1 .1 1.6 .7 178 1 0 3.1 -.1M180.8 306.9a1.1 .7 44 1 0 1.6 1.5 1.1 .7 44 1 0 -1.6 -1.5M147.7 297.6a1.6 .9 86 1 0 .2 3.2 1.6 .9 86 1 0 -.2 -3.2M177.2 313.3a1.2 .8 104 1 0 -.6 2.3 1.2 .8 104 1 0 .6 -2.3M171.9 315.7a1.4 .5 83 1 0 .3 2.8 1.4 .5 83 1 0 -.3 -2.8M164.2 305.6a.7 .9 91 1 0 -0 1.4 .7 .9 91 1 0 0 -1.4M148.6 315.1a1 .7 178 1 0 -1.9 0 1 .7 178 1 0 1.9 -0M168.3 287.6a1 .8 70 1 0 .7 2 1 .8 70 1 0 -.7 -2M180.1 313.4a1.4 .9 154 1 0 -2.5 1.2 1.4 .9 154 1 0 2.5 -1.2M176 319.6a.6 .7 56 1 0 .7 1 .6 .7 56 1 0 -.7 -1M157.4 308.6a.9 1.1 57 1 0 .9 1.5 .9 1.1 57 1 0 -.9 -1.5M156.1 299.6a1.1 .8 111 1 0 -.8 2 1.1 .8 111 1 0 .8 -2M146.5 313.7a1.3 .5 90 1 0 -0 2.6 1.3 .5 90 1 0 0 -2.6M146.8 307.4a.8 .5 97 1 0 -.2 1.7 .8 .5 97 1 0 .2 -1.7M167.4 294.9a1.4 1.1 159 1 0 -2.7 1 1.4 1.1 159 1 0 2.7 -1M152.2 288.7a1.2 .9 84 1 0 .2 2.4 1.2 .9 84 1 0 -.2 -2.4M151.8 290.5a1.1 .7 124 1 0 -1.3 1.9 1.1 .7 124 1 0 1.3 -1.9M158.5 304.9a.8 .9 88 1 0 0 1.5 .8 .9 88 1 0 -0 -1.5"/>
<path stroke="#357320" stroke-width=".75" fill="none" d="M158.8 303.7L159.9 303.5M158.8 303.7L165.9 303.4M158.8 303.7L162.4 308.3M158.8 303.7L160.3 309.8M158.8 303.7L158.7 309M158.8 303.7L157.4 304.8M158.8 303.7L156.2 303.7M158.8 303.7L157.7 303.2M158.8 303.7L158.1 300.3M158.8 303.7L159.6 301.6M158.8 303.7L162 298.2M166 307.7L162.4 312.6M166 307.7L163.1 308.5M166 307.7L164.1 306.2M166 307.7L165.5 302.5M166 307.7L167.2 306.4M166 307.7L170.3 307.6M166 307.7L170.6 311.5M166 307.7L167.6 312.7M164 293.3L163.1 295.6M164 293.3L162.6 294.4M164 293.3L159.7 292M164 293.3L159.8 288.6M164 293.3L164.4 290M164 293.3L165.1 291.5M164 293.3L165.9 292.5M164 293.3L166.9 293M164 293.3L165.3 294.4M164 293.3L165 298.7M164 311.4L163 311.7M164 311.4L158 311.9M164 311.4L159.6 308M164 311.4L164.9 306.3M164 311.4L165.5 305.9M164 311.4L167.7 308.3M164 311.4L165.2 311.4M164 311.4L165.7 312.7M164 311.4L166.1 316.7M164 311.4L163.2 313.4M178.5 313.5L174.1 318.2M178.5 313.5L176.6 313.7M178.5 313.5L172.5 312.5M178.5 313.5L173.5 309.8M178.5 313.5L178.7 311.4M178.5 313.5L180 310.3M178.5 313.5L181.2 312.3M178.5 313.5L181.9 315.7M178.5 313.5L181.2 319.9M178.5 313.5L178.5 315.3M155.5 297.3L161.9 293.8M155.5 297.3L158.2 297.2M155.5 297.3L161.5 300.8M155.5 297.3L156 301.6M155.5 297.3L153.7 299.1M155.5 297.3L151.4 297.1M155.5 297.3L151.7 294.9M155.5 297.3L155.3 292.4M178.1 299.1L179.6 304.4M178.1 299.1L176.5 302.5M178.1 299.1L175.7 300.7M178.1 299.1L172.6 295.5M178.1 299.1L176.9 296.1M178.1 299.1L179 296.1M178.1 299.1L180.2 298.8M178.1 299.1L179.9 300.2"/>
<path fill="#245c16" d="M167.6 312.7a3.1 1.7 72 1 0 1.8 5.9 3.1 1.7 72 1 0 -1.8 -5.9M165.8 300.6a2.9 1.9 99 1 0 -.9 5.7 2.9 1.9 99 1 0 .9 -5.7M166.1 316.7a3.5 1.9 68 1 0 2.6 6.5 3.5 1.9 68 1 0 -2.6 -6.5"/>
<path fill="#367c1f" d="M162.4 308.3a3.6 2.1 52 1 0 4.4 5.8 3.6 2.1 52 1 0 -4.4 -5.8M154.7 290.5a2.6 1.4 16 1 0 5 1.5 2.6 1.4 16 1 0 -5 -1.5M165 298.7a3.3 2 79 1 0 1.3 6.5 3.3 2 79 1 0 -1.3 -6.5M173.3 303.5a3.7 2 139 1 0 -5.6 4.8 3.7 2 139 1 0 5.6 -4.8M167.6 311.7a2.5 1.4 9 1 0 4.9 .8 2.5 1.4 9 1 0 -4.9 -.8M181.2 319.9a2.6 1.7 67 1 0 2 4.8 2.6 1.7 67 1 0 -2 -4.8M145.3 296.9a3 1.7 1 1 0 6.1 .2 3 1.7 1 1 0 -6.1 -.2M179.6 304.4a3.2 1.9 74 1 0 1.7 6.1 3.2 1.9 74 1 0 -1.7 -6.1"/>
<path fill="#4a9828" d="M177.8 307.3a3.8 2.2 177 1 0 -7.5 .3 3.8 2.2 177 1 0 7.5 -.3M155.6 283.9a3.2 2 48 1 0 4.2 4.8 3.2 2 48 1 0 -4.2 -4.8M153.8 303.6a3.7 2 37 1 0 5.8 4.5 3.7 2 37 1 0 -5.8 -4.5M156 301.6a3.7 2.3 83 1 0 .8 7.3 3.7 2.3 83 1 0 -.8 -7.3M167.3 292.1a3.1 1.9 32 1 0 5.3 3.4 3.1 1.9 32 1 0 -5.3 -3.4"/>
<path fill="#60b232" d="M172.3 303.2a3.2 2.2 177 1 0 -6.4 .2 3.2 2.2 177 1 0 6.4 -.2M160.3 309.8a3 1.6 76 1 0 1.4 5.8 3 1.6 76 1 0 -1.4 -5.8M165.1 292.7a3.1 1.9 119 1 0 -3.1 5.5 3.1 1.9 119 1 0 3.1 -5.5M164.9 296.6a3 1.6 84 1 0 .6 5.9 3 1.6 84 1 0 -.6 -5.9M170.6 311.5a3.3 2 39 1 0 5.1 4.2 3.3 2 39 1 0 -5.1 -4.2M166.9 300.3a2.9 1.8 104 1 0 -1.5 5.6 2.9 1.8 104 1 0 1.5 -5.6M174.1 318.2a3.8 2.1 132 1 0 -5.1 5.5 3.8 2.1 132 1 0 5.1 -5.5M166.4 291.3a2.6 1.5 151 1 0 -4.6 2.5 2.6 1.5 151 1 0 4.6 -2.5M161.5 300.8a3.3 2 30 1 0 5.8 3.4 3.3 2 30 1 0 -5.8 -3.4M155.2 286.7a2.9 1.7 88 1 0 .2 5.7 2.9 1.7 88 1 0 -.2 -5.7"/>
<path fill="#82ca4a" d="M158.7 309a2.8 1.4 91 1 0 -.1 5.5 2.8 1.4 91 1 0 .1 -5.5M162.4 312.6a3.5 2.4 125 1 0 -4.1 5.7 3.5 2.4 125 1 0 4.1 -5.7M158 311.9a3.6 2.5 175 1 0 -7.2 .6 3.6 2.5 175 1 0 7.2 -.6M169.1 306.6a2.7 1.7 36 1 0 4.4 3.2 2.7 1.7 36 1 0 -4.4 -3.2M181.9 315.7a3.4 2.2 32 1 0 5.7 3.7 3.4 2.2 32 1 0 -5.7 -3.7M145.4 290.9a3.7 2 32 1 0 6.3 4 3.7 2 32 1 0 -6.3 -4"/>
<path fill="#245c16" d="M161.5 296.3a2.8 1.8 109 1 0 -1.9 5.3 2.8 1.8 109 1 0 1.9 -5.3"/>
<path fill="#367c1f" d="M162.6 294.4a3.2 1.7 143 1 0 -5.1 3.8 3.2 1.7 143 1 0 5.1 -3.8M172.1 292.4a2.6 1.5 173 1 0 -5.2 .6 2.6 1.5 173 1 0 5.2 -.6M179.1 304.5a3.5 1.8 93 1 0 -.5 7 3.5 1.8 93 1 0 .5 -7M183.1 303.9a3.5 2.4 115 1 0 -3 6.4 3.5 2.4 115 1 0 3 -6.4M178.5 315.3a3.5 2.3 91 1 0 -.2 7.1 3.5 2.3 91 1 0 .2 -7.1M174.7 290.4a3.1 1.6 68 1 0 2.2 5.7 3.1 1.6 68 1 0 -2.2 -5.7M179.9 300.2a3 2 31 1 0 5.1 3.2 3 2 31 1 0 -5.1 -3.2"/>
<path fill="#4a9828" d="M156.2 303.7a3.1 1.8 179 1 0 -6.1 .1 3.1 1.8 179 1 0 6.1 -.1M165.7 312.7a3.7 2.1 38 1 0 5.8 4.5 3.7 2.1 38 1 0 -5.8 -4.5M153.7 299.1a3.2 1.8 134 1 0 -4.5 4.6 3.2 1.8 134 1 0 4.5 -4.6M176.5 302.5a3.4 2.2 115 1 0 -2.9 6.1 3.4 2.2 115 1 0 2.9 -6.1"/>
<path fill="#60b232" d="M165.7 302.2a3 1.8 167 1 0 -5.8 1.2 3 1.8 167 1 0 5.8 -1.2M157.4 304.8a2.8 1.6 141 1 0 -4.4 3.5 2.8 1.6 141 1 0 4.4 -3.5M151.2 300.2a3.6 2.2 24 1 0 6.5 3 3.6 2.2 24 1 0 -6.5 -3M156.7 294.5a3 1.5 76 1 0 1.4 5.9 3 1.5 76 1 0 -1.4 -5.9M163.1 308.5a3.3 1.8 164 1 0 -6.4 1.7 3.3 1.8 164 1 0 6.4 -1.7M159.7 302.9a2.8 1.7 37 1 0 4.4 3.4 2.8 1.7 37 1 0 -4.4 -3.4M172.1 300.9a3.6 2.3 131 1 0 -4.9 5.4 3.6 2.3 131 1 0 4.9 -5.4M165.2 283a3.5 1.8 96 1 0 -.8 7 3.5 1.8 96 1 0 .8 -7M168.9 285.1a3.7 1.9 120 1 0 -3.8 6.4 3.7 1.9 120 1 0 3.8 -6.4M171.2 290a2.9 1.9 154 1 0 -5.3 2.5 2.9 1.9 154 1 0 5.3 -2.5M170.7 311.3a2.8 1.6 178 1 0 -5.5 .1 2.8 1.6 178 1 0 5.5 -.1M163.2 313.4a3.3 2.1 114 1 0 -2.7 5.9 3.3 2.1 114 1 0 2.7 -5.9M181.1 289.3a3.5 1.9 106 1 0 -2 6.8 3.5 1.9 106 1 0 2 -6.8"/>
<path fill="#82ca4a" d="M163.1 295.6a2.6 1.4 111 1 0 -1.9 4.8 2.6 1.4 111 1 0 1.9 -4.8M165.3 294.4a3.4 2 38 1 0 5.2 4.2 3.4 2 38 1 0 -5.2 -4.2M163 311.7a3.2 1.7 166 1 0 -6.1 1.5 3.2 1.7 166 1 0 6.1 -1.5M176.6 313.7a2.9 2 174 1 0 -5.9 .6 2.9 2 174 1 0 5.9 -.6M186.8 309.7a3.1 2.1 155 1 0 -5.6 2.6 3.1 2.1 155 1 0 5.6 -2.6M164.7 297a3.2 2 178 1 0 -6.5 .2 3.2 2 178 1 0 6.5 -.2M175.7 300.7a3 1.6 145 1 0 -4.9 3.4 3 1.6 145 1 0 4.9 -3.4M185 298a2.6 1.8 171 1 0 -5.2 .8 2.6 1.8 171 1 0 5.2 -.8"/>
<rect x="190" y="240" width="48.6" height="86.3" fill="#1f1d1a"/>
<rect x="191.6" y="241.5" width="45.4" height="40.2" rx="4.5" fill="url(#gw)" stroke="#8a8274" stroke-width=".9"/>
<rect x="193.8" y="243.8" width="41" height="35.4" rx="2.5" fill="#2e2017"/>
<path fill="#5e3a24" d="M215 253.5a1.3 .6 46 1 0 1.7 1.8 1.3 .6 46 1 0 -1.7 -1.8M205.7 246.9a1.4 .9 165 1 0 -2.8 .7 1.4 .9 165 1 0 2.8 -.7M233.3 266.2a.7 .5 144 1 0 -1.1 .8 .7 .5 144 1 0 1.1 -.8M222.2 269.8a1.3 .9 161 1 0 -2.4 .8 1.3 .9 161 1 0 2.4 -.8M198.2 260.3a1.4 1 45 1 0 2 2 1.4 1 45 1 0 -2 -2M198.9 251.9a1.4 .7 134 1 0 -1.9 1.9 1.4 .7 134 1 0 1.9 -1.9M207.7 261.7a1.2 .8 155 1 0 -2.3 1 1.2 .8 155 1 0 2.3 -1M231.7 260.6a1.5 1.1 85 1 0 .2 3.1 1.5 1.1 85 1 0 -.2 -3.1M214.2 275.2a.9 .9 121 1 0 -.9 1.5 .9 .9 121 1 0 .9 -1.5M220.8 271.8a1 .6 38 1 0 1.6 1.3 1 .6 38 1 0 -1.6 -1.3M199.1 254.9a1.2 .7 70 1 0 .8 2.2 1.2 .7 70 1 0 -.8 -2.2M226.4 265.4a1 .5 148 1 0 -1.8 1.1 1 .5 148 1 0 1.8 -1.1M215.5 272.6a1.4 .6 156 1 0 -2.6 1.2 1.4 .6 156 1 0 2.6 -1.2M214.5 248.5a1.6 .7 136 1 0 -2.3 2.2 1.6 .7 136 1 0 2.3 -2.2M211.1 247.4a1.4 .8 31 1 0 2.3 1.4 1.4 .8 31 1 0 -2.3 -1.4M203.5 260.7a.8 .9 19 1 0 1.5 .5 .8 .9 19 1 0 -1.5 -.5M199.4 249.5a.6 .9 101 1 0 -.3 1.2 .6 .9 101 1 0 .3 -1.2M206.8 268.3a.9 1 150 1 0 -1.5 .9 .9 1 150 1 0 1.5 -.9M224.9 248.1a.7 .9 83 1 0 .2 1.4 .7 .9 83 1 0 -.2 -1.4M198.3 275.4a.6 1 81 1 0 .2 1.3 .6 1 81 1 0 -.2 -1.3M227.1 264.4a1.1 1 3 1 0 2.2 .1 1.1 1 3 1 0 -2.2 -.1M225.1 255.6a.9 1 87 1 0 .1 1.8 .9 1 87 1 0 -.1 -1.8M198.5 264.6a1.2 .9 63 1 0 1.1 2.1 1.2 .9 63 1 0 -1.1 -2.1M216.9 257.2a1.4 .8 156 1 0 -2.6 1.2 1.4 .8 156 1 0 2.6 -1.2M219 264.9a1.2 .8 49 1 0 1.6 1.9 1.2 .8 49 1 0 -1.6 -1.9M198 250.3a1.3 .8 23 1 0 2.3 1 1.3 .8 23 1 0 -2.3 -1M212.7 256.7a.9 .7 32 1 0 1.6 1 .9 .7 32 1 0 -1.6 -1M196.3 266.2a1.1 1 126 1 0 -1.3 1.8 1.1 1 126 1 0 1.3 -1.8M198.5 275.5a1.1 1 150 1 0 -2 1.1 1.1 1 150 1 0 2 -1.1M223.4 245.7a1.1 .6 40 1 0 1.7 1.4 1.1 .6 40 1 0 -1.7 -1.4M200.9 277.2a1.3 1 41 1 0 2 1.7 1.3 1 41 1 0 -2 -1.7M212.9 250.8a1 .8 58 1 0 1.1 1.7 1 .8 58 1 0 -1.1 -1.7M223.9 248.7a1.3 .8 176 1 0 -2.6 .2 1.3 .8 176 1 0 2.6 -.2M218.5 263.3a.7 .9 75 1 0 .4 1.4 .7 .9 75 1 0 -.4 -1.4M200.3 249.7a.9 .7 95 1 0 -.2 1.8 .9 .7 95 1 0 .2 -1.8M228.1 246.2a.6 .8 81 1 0 .2 1.3 .6 .8 81 1 0 -.2 -1.3M194.8 255.2a.8 .8 14 1 0 1.5 .4 .8 .8 14 1 0 -1.5 -.4M201.6 252.7a1 .7 119 1 0 -1 1.8 1 .7 119 1 0 1 -1.8M205.2 258.1a1.6 1 20 1 0 2.9 1.1 1.6 1 20 1 0 -2.9 -1.1M213.7 258a1.2 .7 174 1 0 -2.5 .2 1.2 .7 174 1 0 2.5 -.2"/>
<path fill="#85553a" d="M211.4 266.2a1.1 1.1 178 1 0 -2.1 0 1.1 1.1 178 1 0 2.1 -0M208.8 258.1a1.2 .8 68 1 0 .9 2.3 1.2 .8 68 1 0 -.9 -2.3M218.7 256.4a1.2 .9 67 1 0 1 2.3 1.2 .9 67 1 0 -1 -2.3M215.6 267.9a1.1 .7 124 1 0 -1.3 1.9 1.1 .7 124 1 0 1.3 -1.9M210.3 245.8a1.4 .6 103 1 0 -.7 2.8 1.4 .6 103 1 0 .7 -2.8M224.3 269a1.5 .7 86 1 0 .2 3 1.5 .7 86 1 0 -.2 -3M224.8 269.6a1.1 .7 107 1 0 -.7 2.1 1.1 .7 107 1 0 .7 -2.1M200.4 251.2a1.2 .6 79 1 0 .4 2.4 1.2 .6 79 1 0 -.4 -2.4M217.9 251.5a.7 .6 74 1 0 .4 1.4 .7 .6 74 1 0 -.4 -1.4M211.6 246.9a.8 .9 0 1 0 1.5 0 .8 .9 0 1 0 -1.5 -0M217.1 273.4a.7 .9 110 1 0 -.5 1.3 .7 .9 110 1 0 .5 -1.3M221.2 272.6a1 .6 45 1 0 1.4 1.4 1 .6 45 1 0 -1.4 -1.4M218.3 269.4a1.4 .9 40 1 0 2.2 1.9 1.4 .9 40 1 0 -2.2 -1.9M206 270.9a1.4 1 157 1 0 -2.6 1.1 1.4 1 157 1 0 2.6 -1.1M229.8 264.9a1 .9 35 1 0 1.6 1.1 1 .9 35 1 0 -1.6 -1.1M206.6 268.1a1.2 .8 12 1 0 2.3 .5 1.2 .8 12 1 0 -2.3 -.5M226.8 265.3a1.5 1 140 1 0 -2.4 1.9 1.5 1 140 1 0 2.4 -1.9M213.3 257a1.1 .7 63 1 0 1 2 1.1 .7 63 1 0 -1 -2M222.6 252a.9 .6 19 1 0 1.7 .6 .9 .6 19 1 0 -1.7 -.6M210.1 266.7a.6 1 99 1 0 -.2 1.2 .6 1 99 1 0 .2 -1.2"/>
<path stroke="#357320" stroke-width=".75" fill="none" d="M217.5 263.1L215.6 265.6M217.5 263.1L212.6 264.9M217.5 263.1L211.2 263.7M217.5 263.1L211.8 259.6M217.5 263.1L216.3 259.9M217.5 263.1L218.8 257.1M217.5 263.1L222.2 259.3M217.5 263.1L221.8 261.3M217.5 263.1L223.3 267.6M217.5 263.1L218.3 264.4M217.5 263.1L217.3 264.9M203.2 271.4L197.9 268.8M203.2 271.4L200.4 266.5M203.2 271.4L204.4 265.1M203.2 271.4L205.1 266.5M203.2 271.4L210.4 270.3M203.2 271.4L207.9 274M203.2 271.4L206.7 273.1M203.2 271.4L203.8 275.4M203.2 271.4L202.5 273.2M203.2 271.4L202.3 272.2M203.2 271.4L196.6 273.7M215.7 266.4L217 265.5M215.7 266.4L222.8 266.4M215.7 266.4L219.3 268.7M215.7 266.4L218 273.2M215.7 266.4L212.1 270.5M215.7 266.4L212.6 268.6M215.7 266.4L212.5 266.6M215.7 266.4L213 262.1M215.7 266.4L214.7 261.9M222.7 263L226.1 267M222.7 263L223.7 269.4M222.7 263L218.5 268.9M222.7 263L221.1 263.6M222.7 263L217.8 259.8M222.7 263L220 256.9M222.7 263L222.7 261.6M222.7 263L223.9 260.2M222.7 263L229.6 260.9M222.7 263L228.8 264.2M211.5 251.4L208.7 252.5M211.5 251.4L208.3 246.8M211.5 251.4L211.5 249.2M211.5 251.4L215.5 245.1M211.5 251.4L213.1 250.9M211.5 251.4L213.5 252.3M211.5 251.4L213 257.6M211.5 251.4L210.4 253.6M203.4 253.1L205.1 253.8M203.4 253.1L205.9 255.5M203.4 253.1L202.7 257.8M203.4 253.1L197.7 257.5M203.4 253.1L197.8 257.9M203.4 253.1L200.9 253.4M203.4 253.1L202.3 251.5M203.4 253.1L202.9 250.9M203.4 253.1L204.1 249.9M203.4 253.1L207.3 247.6M203.4 253.1L208.9 253.8"/>
<path fill="#245c16" d="M227.5 258.9a3.1 1.9 157 1 0 -5.7 2.4 3.1 1.9 157 1 0 5.7 -2.4M207.9 274a3.3 2.2 28 1 0 5.8 3.2 3.3 2.2 28 1 0 -5.8 -3.2"/>
<path fill="#367c1f" d="M205.7 255.8a3.6 2 31 1 0 6.1 3.8 3.6 2 31 1 0 -6.1 -3.8M219.9 252a2.6 1.8 101 1 0 -1.1 5.1 2.6 1.8 101 1 0 1.1 -5.1M218 273.2a3.5 2 70 1 0 2.3 6.5 3.5 2 70 1 0 -2.3 -6.5M197.7 257.5a3.1 1.6 142 1 0 -4.9 3.8 3.1 1.6 142 1 0 4.9 -3.8M208.9 253.8a2.9 1.6 7 1 0 5.8 .7 2.9 1.6 7 1 0 -5.8 -.7"/>
<path fill="#4a9828" d="M205.7 258a3.6 2.4 100 1 0 -1.3 7.1 3.6 2.4 100 1 0 1.3 -7.1M207.5 260.3a3.3 2.2 111 1 0 -2.4 6.2 3.3 2.2 111 1 0 2.4 -6.2M219.3 268.7a3.8 2.2 31 1 0 6.4 4 3.8 2.2 31 1 0 -6.4 -4M212.1 270.5a2.7 1.6 131 1 0 -3.6 4.1 2.7 1.6 131 1 0 3.6 -4.1M209.1 255.6a3.8 2.5 58 1 0 3.9 6.5 3.8 2.5 58 1 0 -3.9 -6.5M226.1 267a3.4 2.3 48 1 0 4.5 5.1 3.4 2.3 48 1 0 -4.5 -5.1M218.5 268.9a3.3 2 125 1 0 -3.9 5.4 3.3 2 125 1 0 3.9 -5.4M228.8 264.2a3.1 1.8 10 1 0 6.2 1.1 3.1 1.8 10 1 0 -6.2 -1.1M204.6 241.5a3.2 1.7 54 1 0 3.7 5.2 3.2 1.7 54 1 0 -3.7 -5.2M218.4 240.6a2.6 1.7 122 1 0 -2.8 4.5 2.6 1.7 122 1 0 2.8 -4.5M213 257.6a2.6 1.6 77 1 0 1.2 5 2.6 1.6 77 1 0 -1.2 -5M202.7 257.8a3.8 2.6 99 1 0 -1.2 7.4 3.8 2.6 99 1 0 1.2 -7.4M211.3 241.9a3.5 2.2 125 1 0 -4.1 5.7 3.5 2.2 125 1 0 4.1 -5.7"/>
<path fill="#60b232" d="M212.6 264.9a2.6 1.6 160 1 0 -4.8 1.7 2.6 1.6 160 1 0 4.8 -1.7M223.3 267.6a2.9 1.8 37 1 0 4.6 3.5 2.9 1.8 37 1 0 -4.6 -3.5M217.4 269.2a3.5 2.3 171 1 0 -7 1.1 3.5 2.3 171 1 0 7 -1.1M223.7 269.4a3.4 2.1 80 1 0 1.1 6.6 3.4 2.1 80 1 0 -1.1 -6.6M212.7 256.5a3 1.7 33 1 0 5 3.3 3 1.7 33 1 0 -5 -3.3M217.2 250.4a3.5 2 66 1 0 2.8 6.5 3.5 2 66 1 0 -2.8 -6.5M235.4 259.2a3 1.8 163 1 0 -5.8 1.8 3 1.8 163 1 0 5.8 -1.8M197.8 257.9a2.5 1.7 139 1 0 -3.9 3.3 2.5 1.7 139 1 0 3.9 -3.3"/>
<path fill="#82ca4a" d="M211.2 263.7a3.6 2.2 174 1 0 -7.2 .7 3.6 2.2 174 1 0 7.2 -.7M226.9 255.5a3 1.8 141 1 0 -4.7 3.8 3 1.8 141 1 0 4.7 -3.8M193.1 266.5a2.7 1.6 25 1 0 4.8 2.3 2.7 1.6 25 1 0 -4.8 -2.3M197.4 261.4a3 1.7 59 1 0 3 5.2 3 1.7 59 1 0 -3 -5.2M206.7 273.1a3.4 1.9 25 1 0 6.1 3 3.4 1.9 25 1 0 -6.1 -3M203.8 275.4a3.3 2.1 81 1 0 1 6.5 3.3 2.1 81 1 0 -1 -6.5M196.6 273.7a3.5 2.3 160 1 0 -6.6 2.3 3.5 2.3 160 1 0 6.6 -2.3M227.9 266.3a2.6 1.7 179 1 0 -5.2 0 2.6 1.7 179 1 0 5.2 -0M213.6 256.5a2.7 1.7 78 1 0 1.1 5.3 2.7 1.7 78 1 0 -1.1 -5.3"/>
<path fill="#245c16" d="M218.3 264.4a3.5 2.3 56 1 0 3.9 5.9 3.5 2.3 56 1 0 -3.9 -5.9M213.5 252.3a3 2.1 23 1 0 5.5 2.4 3 2.1 23 1 0 -5.5 -2.4M210.4 253.6a3.6 2 118 1 0 -3.5 6.4 3.6 2 118 1 0 3.5 -6.4"/>
<path fill="#367c1f" d="M215.6 265.6a2.5 1.4 127 1 0 -3.1 4 2.5 1.4 127 1 0 3.1 -4M202.3 272.2a3 1.8 139 1 0 -4.5 3.9 3 1.8 139 1 0 4.5 -3.9M212.6 268.6a3 1.8 144 1 0 -4.9 3.5 3 1.8 144 1 0 4.9 -3.5M208.7 252.5a3.2 1.9 158 1 0 -6 2.4 3.2 1.9 158 1 0 6 -2.4M205.2 244.6a2.7 1.4 101 1 0 -1.1 5.3 2.7 1.4 101 1 0 1.1 -5.3"/>
<path fill="#4a9828" d="M221.1 263.6a2.9 1.6 161 1 0 -5.5 1.8 2.9 1.6 161 1 0 5.5 -1.8M222.8 254.9a3.3 1.8 90 1 0 -.1 6.7 3.3 1.8 90 1 0 .1 -6.7M220 248.7a3.7 2.4 162 1 0 -7 2.2 3.7 2.4 162 1 0 7 -2.2M205.9 255.5a2.9 1.7 44 1 0 4.2 4.1 2.9 1.7 44 1 0 -4.2 -4.1M198.9 246.7a2.9 1.6 54 1 0 3.4 4.8 2.9 1.6 54 1 0 -3.4 -4.8M201.2 244.1a3.5 2.4 76 1 0 1.7 6.8 3.5 2.4 76 1 0 -1.7 -6.8"/>
<path fill="#60b232" d="M202.5 273.2a2.7 1.6 110 1 0 -1.9 5.1 2.7 1.6 110 1 0 1.9 -5.1M226.8 253.2a3.8 1.9 112 1 0 -2.9 7 3.8 1.9 112 1 0 2.9 -7M211.6 242.4a3.5 2.4 90 1 0 -0 7 3.5 2.4 90 1 0 0 -7M205.1 253.8a3.1 1.8 23 1 0 5.8 2.5 3.1 1.8 23 1 0 -5.8 -2.5M200.9 253.4a2.9 2 173 1 0 -5.9 .7 2.9 2 173 1 0 5.9 -.7"/>
<path fill="#82ca4a" d="M214.1 253.9a3.2 1.7 69 1 0 2.2 5.9 3.2 1.7 69 1 0 -2.2 -5.9M217.3 264.9a3.3 2 97 1 0 -.8 6.5 3.3 2 97 1 0 .8 -6.5M221.5 262.6a2.7 1.3 146 1 0 -4.4 2.9 2.7 1.3 146 1 0 4.4 -2.9M212.5 266.6a3.2 1.9 177 1 0 -6.5 .3 3.2 1.9 177 1 0 6.5 -.3"/>
<rect x="191.6" y="284.6" width="45.4" height="40.2" rx="4.5" fill="url(#gw)" stroke="#8a8274" stroke-width=".9"/>
<rect x="193.8" y="286.9" width="41" height="35.4" rx="2.5" fill="#2e2017"/>
<path fill="#5e3a24" d="M194.1 291.3a1.3 .6 20 1 0 2.4 .9 1.3 .6 20 1 0 -2.4 -.9M202.6 312.7a1.3 .9 24 1 0 2.4 1.1 1.3 .9 24 1 0 -2.4 -1.1M214.1 302.8a1.6 .6 3 1 0 3.2 .2 1.6 .6 3 1 0 -3.2 -.2M232.4 301.3a.9 .7 171 1 0 -1.8 .3 .9 .7 171 1 0 1.8 -.3M204 294.6a1.1 1.1 150 1 0 -2 1.1 1.1 1.1 150 1 0 2 -1.1M227.5 308.9a1.4 .9 34 1 0 2.3 1.6 1.4 .9 34 1 0 -2.3 -1.6M219.5 294.4a.9 .7 71 1 0 .6 1.8 .9 .7 71 1 0 -.6 -1.8M212.9 314.2a.7 .6 176 1 0 -1.4 .1 .7 .6 176 1 0 1.4 -.1M199.4 293.1a1.3 1 85 1 0 .2 2.6 1.3 1 85 1 0 -.2 -2.6M214.6 313.4a1 .9 114 1 0 -.8 1.8 1 .9 114 1 0 .8 -1.8M197.6 291.6a1.3 .9 175 1 0 -2.6 .2 1.3 .9 175 1 0 2.6 -.2M210 297.1a.6 .6 155 1 0 -1.2 .5 .6 .6 155 1 0 1.2 -.5M196.3 307.8a.8 1 53 1 0 .9 1.3 .8 1 53 1 0 -.9 -1.3M214 311.3a1.3 .8 24 1 0 2.4 1.1 1.3 .8 24 1 0 -2.4 -1.1M200.9 315.4a1 .6 68 1 0 .8 1.9 1 .6 68 1 0 -.8 -1.9M222.6 314.7a1.2 1 46 1 0 1.7 1.8 1.2 1 46 1 0 -1.7 -1.8M202.3 314.2a1 1 69 1 0 .7 1.9 1 1 69 1 0 -.7 -1.9M203.5 294.2a1.3 .7 138 1 0 -2 1.7 1.3 .7 138 1 0 2 -1.7M205.5 292.9a1.1 .7 85 1 0 .2 2.2 1.1 .7 85 1 0 -.2 -2.2M196.3 287.6a1.4 .7 164 1 0 -2.6 .7 1.4 .7 164 1 0 2.6 -.7M215.4 297.5a1.2 .6 67 1 0 .9 2.2 1.2 .6 67 1 0 -.9 -2.2M210.6 310.1a.8 .7 148 1 0 -1.4 .9 .8 .7 148 1 0 1.4 -.9M203.4 310.2a1.6 .9 58 1 0 1.6 2.6 1.6 .9 58 1 0 -1.6 -2.6M234 314.5a.8 .8 179 1 0 -1.7 0 .8 .8 179 1 0 1.7 -0M200.4 288.9a.6 .7 96 1 0 -.2 1.3 .6 .7 96 1 0 .2 -1.3M211.9 291.3a1.4 .8 86 1 0 .2 2.8 1.4 .8 86 1 0 -.2 -2.8M208.7 300.2a1.5 .9 150 1 0 -2.7 1.5 1.5 .9 150 1 0 2.7 -1.5M197 311.6a1 1 132 1 0 -1.3 1.5 1 1 132 1 0 1.3 -1.5M211.1 292a1.5 1 22 1 0 2.7 1.1 1.5 1 22 1 0 -2.7 -1.1M208.8 294.3a1.6 .8 56 1 0 1.7 2.6 1.6 .8 56 1 0 -1.7 -2.6M206 317.3a1.4 .6 141 1 0 -2.1 1.7 1.4 .6 141 1 0 2.1 -1.7M205.7 313.6a.7 .6 143 1 0 -1.1 .8 .7 .6 143 1 0 1.1 -.8M214.7 303.9a1.3 .8 11 1 0 2.5 .5 1.3 .8 11 1 0 -2.5 -.5M224.9 295.4a1.4 .9 97 1 0 -.4 2.7 1.4 .9 97 1 0 .4 -2.7M227.6 320.2a.7 .9 26 1 0 1.2 .6 .7 .9 26 1 0 -1.2 -.6M231.3 303.2a1.4 1 25 1 0 2.6 1.2 1.4 1 25 1 0 -2.6 -1.2M212.2 293.3a.7 1 64 1 0 .6 1.3 .7 1 64 1 0 -.6 -1.3M220.2 297.3a.7 1 152 1 0 -1.2 .6 .7 1 152 1 0 1.2 -.6M207.4 293.8a1 .7 9 1 0 2 .3 1 .7 9 1 0 -2 -.3"/>
<path fill="#85553a" d="M209.7 293.6a1.6 .5 132 1 0 -2.1 2.4 1.6 .5 132 1 0 2.1 -2.4M221.3 314.9a1.6 1.1 142 1 0 -2.5 1.9 1.6 1.1 142 1 0 2.5 -1.9M205.6 293.5a1.1 .9 16 1 0 2.2 .7 1.1 .9 16 1 0 -2.2 -.7M201.9 317.4a1.3 .6 71 1 0 .8 2.5 1.3 .6 71 1 0 -.8 -2.5M230.9 309.1a.8 .8 144 1 0 -1.3 .9 .8 .8 144 1 0 1.3 -.9M223.2 296.4a1.6 .7 2 1 0 3.2 .1 1.6 .7 2 1 0 -3.2 -.1M201.6 302a1.1 1 72 1 0 .7 2.1 1.1 1 72 1 0 -.7 -2.1M200 312.6a1.5 .9 104 1 0 -.8 3 1.5 .9 104 1 0 .8 -3M207.7 301.4a1.1 .6 140 1 0 -1.8 1.5 1.1 .6 140 1 0 1.8 -1.5M198.4 296a1.1 .8 168 1 0 -2.1 .4 1.1 .8 168 1 0 2.1 -.4M218.1 301a.8 .9 152 1 0 -1.5 .8 .8 .9 152 1 0 1.5 -.8M215.3 318.4a1.1 1 55 1 0 1.3 1.8 1.1 1 55 1 0 -1.3 -1.8M212.8 309.6a1.4 .9 60 1 0 1.4 2.5 1.4 .9 60 1 0 -1.4 -2.5M202 290.8a.7 .8 163 1 0 -1.3 .4 .7 .8 163 1 0 1.3 -.4M231.1 311.9a1 .8 141 1 0 -1.6 1.3 1 .8 141 1 0 1.6 -1.3M204.7 302a.9 .6 40 1 0 1.4 1.2 .9 .6 40 1 0 -1.4 -1.2M217.2 298a1.1 1 21 1 0 2.1 .8 1.1 1 21 1 0 -2.1 -.8M222.8 306.9a1.5 .8 106 1 0 -.8 2.8 1.5 .8 106 1 0 .8 -2.8M210.4 317.1a.9 .8 119 1 0 -.9 1.6 .9 .8 119 1 0 .9 -1.6M202.6 291.9a.8 .9 132 1 0 -1 1.1 .8 .9 132 1 0 1 -1.1M219.2 299a1.4 .5 161 1 0 -2.6 .9 1.4 .5 161 1 0 2.6 -.9"/>
<path stroke="#357320" stroke-width=".75" fill="none" d="M204.1 310.2L202 313.1M204.1 310.2L196.8 310M204.1 310.2L198.4 305.6M204.1 310.2L203.9 305.3M204.1 310.2L205.6 307.8M204.1 310.2L210.5 308M204.1 310.2L204.9 311M204.1 310.2L205.1 315.7M214.8 292L217.7 292.3M214.8 292L219.4 294.9M214.8 292L217.8 298.4M214.8 292L212.2 295.7M214.8 292L212.8 291.7M214.8 292L212.4 290.9M214.8 292L214.2 289.8M214.8 292L215.6 290.4M207.4 302.8L209.2 298.2M207.4 302.8L211.6 302.7M207.4 302.8L208.7 303M207.4 302.8L209.5 306.2M207.4 302.8L205.7 305.8M207.4 302.8L203.1 303.2M207.4 302.8L205.9 301.8M207.4 302.8L206.7 299.7M224.9 312L226 317.3M224.9 312L222.5 317.6M224.9 312L219.8 314.3M224.9 312L223.8 312M224.9 312L221 309.9M224.9 312L224.7 310.8M224.9 312L226.6 305.3M224.9 312L226.1 311.4M224.9 312L230.2 312.6M224.9 312L229.6 314.7M218.1 313.7L220.2 310M218.1 313.7L222.6 311.2M218.1 313.7L221.3 317M218.1 313.7L218.5 318M218.1 313.7L217.7 314.8M218.1 313.7L212 313.2M218.1 313.7L214.2 312.6M218.1 313.7L215.6 307M209.1 294L209.4 291.2M209.1 294L210.2 291.5M209.1 294L214.1 291M209.1 294L210.2 294.8M209.1 294L211.8 297.2M209.1 294L209.4 295.9M209.1 294L206.5 298.4M209.1 294L202 294.1M209.1 294L202 292.3M209.1 294L208.4 292.9"/>
<path fill="#245c16" d="M193.1 301.2a3.4 2.1 39 1 0 5.3 4.3 3.4 2.1 39 1 0 -5.3 -4.3M215.1 306.7a3.3 2.3 28 1 0 5.9 3.2 3.3 2.3 28 1 0 -5.9 -3.2"/>
<path fill="#367c1f" d="M203.5 298.6a3.4 2.3 87 1 0 .3 6.7 3.4 2.3 87 1 0 -.3 -6.7M203.1 303.2a2.6 1.6 175 1 0 -5.2 .4 2.6 1.6 175 1 0 5.2 -.4M218.5 318a3.7 2 84 1 0 .7 7.3 3.7 2 84 1 0 -.7 -7.3"/>
<path fill="#4a9828" d="M216 306a2.9 1.9 160 1 0 -5.6 2 2.9 1.9 160 1 0 5.6 -2M205.1 315.7a3.7 2.5 79 1 0 1.4 7.3 3.7 2.5 79 1 0 -1.4 -7.3M219.4 294.9a3.7 2 33 1 0 6.3 4.1 3.7 2 33 1 0 -6.3 -4.1M217.8 298.4a3.4 2.1 65 1 0 2.9 6.2 3.4 2.1 65 1 0 -2.9 -6.2M209.5 306.2a2.7 1.6 58 1 0 2.8 4.6 2.7 1.6 58 1 0 -2.8 -4.6M222.5 317.6a2.8 1.7 112 1 0 -2.2 5.2 2.8 1.7 112 1 0 2.2 -5.2M219.8 314.3a3.2 2 155 1 0 -5.8 2.6 3.2 2 155 1 0 5.8 -2.6M230.2 312.6a3.2 2 6 1 0 6.3 .7 3.2 2 6 1 0 -6.3 -.7M223.6 304a3.4 2.2 119 1 0 -3.4 6 3.4 2.2 119 1 0 3.4 -6M213.1 300.2a3.7 2.2 69 1 0 2.5 6.9 3.7 2.2 69 1 0 -2.5 -6.9M206.5 298.4a3.7 2.1 120 1 0 -3.8 6.3 3.7 2.1 120 1 0 3.8 -6.3"/>
<path fill="#60b232" d="M212.2 295.7a3.1 2.1 125 1 0 -3.6 5 3.1 2.1 125 1 0 3.6 -5M218.3 302.6a3.3 2.2 178 1 0 -6.7 .1 3.3 2.2 178 1 0 6.7 -.1M228.1 299.3a3.1 1.7 104 1 0 -1.5 5.9 3.1 1.7 104 1 0 1.5 -5.9M229.6 314.7a2.6 1.4 29 1 0 4.5 2.6 2.6 1.4 29 1 0 -4.5 -2.6M228.4 308a3.3 2.2 150 1 0 -5.8 3.3 3.3 2.2 150 1 0 5.8 -3.3M206.2 312.7a2.9 1.7 4 1 0 5.8 .5 2.9 1.7 4 1 0 -5.8 -.5M211.8 297.2a2.7 1.4 49 1 0 3.5 4.1 2.7 1.4 49 1 0 -3.5 -4.1M194.9 290.7a3.7 2.5 13 1 0 7.1 1.7 3.7 2.5 13 1 0 -7.1 -1.7"/>
<path fill="#82ca4a" d="M190.6 309.8a3.1 2 1 1 0 6.2 .2 3.1 2 1 1 0 -6.2 -.2M211.8 291.3a3.7 2.5 111 1 0 -2.7 6.9 3.7 2.5 111 1 0 2.7 -6.9M226 317.3a3.3 2.2 77 1 0 1.4 6.4 3.3 2.2 77 1 0 -1.4 -6.4M221.3 317a3.4 2.1 45 1 0 4.7 4.8 3.4 2.1 45 1 0 -4.7 -4.8M207 310.6a3.7 2.4 15 1 0 7.1 2 3.7 2.4 15 1 0 -7.1 -2M218.6 288.3a2.6 1.7 148 1 0 -4.5 2.7 2.6 1.7 148 1 0 4.5 -2.7M202 294.1a3 2 179 1 0 -5.9 0 3 2 179 1 0 5.9 -0"/>
<path fill="#367c1f" d="M202 313.1a2.9 1.9 125 1 0 -3.3 4.7 2.9 1.9 125 1 0 3.3 -4.7M224 304.2a3.3 2.3 83 1 0 .8 6.6 3.3 2.3 83 1 0 -.8 -6.6M210.2 294.8a3 2.1 34 1 0 4.9 3.4 3 2.1 34 1 0 -4.9 -3.4"/>
<path fill="#4a9828" d="M204.9 311a3.2 1.9 42 1 0 4.7 4.3 3.2 1.9 42 1 0 -4.7 -4.3M207.7 288.9a2.6 1.6 23 1 0 4.8 2 2.6 1.6 23 1 0 -4.8 -2M218.2 284.5a3.2 1.7 114 1 0 -2.7 5.9 3.2 1.7 114 1 0 2.7 -5.9M232 308.6a3.3 2.2 154 1 0 -6 2.8 3.3 2.2 154 1 0 6 -2.8M217.7 314.8a2.7 1.8 109 1 0 -1.8 5.2 2.7 1.8 109 1 0 1.8 -5.2M210.3 283.9a3.7 2 96 1 0 -.9 7.3 3.7 2 96 1 0 .9 -7.3M209.4 295.9a3.3 2.1 80 1 0 1.1 6.5 3.3 2.1 80 1 0 -1.1 -6.5"/>
<path fill="#60b232" d="M217.7 292.3a3.8 2.1 7 1 0 7.5 1 3.8 2.1 7 1 0 -7.5 -1M212.2 285.7a3.5 2 73 1 0 2 6.7 3.5 2 73 1 0 -2 -6.7M208.7 303a3.2 1.8 8 1 0 6.4 1 3.2 1.8 8 1 0 -6.4 -1M205.7 305.8a3.5 2.1 120 1 0 -3.5 6 3.5 2.1 120 1 0 3.5 -6M201.6 298.8a2.7 1.8 34 1 0 4.4 3.1 2.7 1.8 34 1 0 -4.4 -3.1M205.2 292.7a3.6 2 78 1 0 1.5 7 3.6 2 78 1 0 -1.5 -7M212.2 286.7a2.6 1.4 113 1 0 -2 4.8 2.6 1.4 113 1 0 2 -4.8"/>
<path fill="#82ca4a" d="M209.3 302a3.4 2.3 122 1 0 -3.6 5.8 3.4 2.3 122 1 0 3.6 -5.8M206.9 290.9a2.9 2 7 1 0 5.8 .8 2.9 2 7 1 0 -5.8 -.8M217.2 311.8a3.3 2.2 1 1 0 6.6 .2 3.3 2.2 1 1 0 -6.6 -.2M205.1 287a3.4 2.2 60 1 0 3.3 5.8 3.4 2.2 60 1 0 -3.3 -5.8"/>
<rect x="240" y="240" width="49.2" height="86.3" fill="#1f1d1a"/>
<rect x="241.6" y="241.5" width="46" height="40.2" rx="4.5" fill="url(#gw)" stroke="#8a8274" stroke-width=".9"/>
<rect x="243.8" y="243.8" width="41.6" height="35.4" rx="2.5" fill="#2e2017"/>
<path fill="#5e3a24" d="M263.4 273.3a.9 1.1 119 1 0 -.9 1.5 .9 1.1 119 1 0 .9 -1.5M253.7 249a.9 1 83 1 0 .2 1.8 .9 1 83 1 0 -.2 -1.8M284.2 273.6a1 .5 105 1 0 -.5 2 1 .5 105 1 0 .5 -2M270 263.7a1.2 .6 151 1 0 -2.1 1.2 1.2 .6 151 1 0 2.1 -1.2M254.7 262.4a1.4 .5 6 1 0 2.8 .3 1.4 .5 6 1 0 -2.8 -.3M252 244a1.5 1 79 1 0 .6 3 1.5 1 79 1 0 -.6 -3M275.1 250.5a1.6 .9 31 1 0 2.7 1.6 1.6 .9 31 1 0 -2.7 -1.6M257.6 270a.8 1 42 1 0 1.2 1.1 .8 1 42 1 0 -1.2 -1.1M262.1 258.6a.9 .6 144 1 0 -1.5 1.1 .9 .6 144 1 0 1.5 -1.1M274.4 275.7a.8 1 56 1 0 .8 1.3 .8 1 56 1 0 -.8 -1.3M276.3 253.6a1.3 .8 94 1 0 -.2 2.5 1.3 .8 94 1 0 .2 -2.5M272.3 248.5a1.2 .8 4 1 0 2.3 .2 1.2 .8 4 1 0 -2.3 -.2M244.8 276.9a.8 .8 3 1 0 1.6 .1 .8 .8 3 1 0 -1.6 -.1M274.5 269.3a1.2 .8 123 1 0 -1.3 2 1.2 .8 123 1 0 1.3 -2M250.7 244.6a1.5 1.1 47 1 0 2.1 2.3 1.5 1.1 47 1 0 -2.1 -2.3M274.7 252.2a1 .8 163 1 0 -1.9 .6 1 .8 163 1 0 1.9 -.6M271 249.5a.7 1 168 1 0 -1.3 .3 .7 1 168 1 0 1.3 -.3M267.3 255.2a1 .6 107 1 0 -.6 1.8 1 .6 107 1 0 .6 -1.8M266.3 258.5a.7 .6 107 1 0 -.4 1.3 .7 .6 107 1 0 .4 -1.3M246.6 258.2a1.4 .8 108 1 0 -.8 2.6 1.4 .8 108 1 0 .8 -2.6M256.6 260.2a1.1 .9 89 1 0 0 2.1 1.1 .9 89 1 0 -0 -2.1M274.1 258.7a.6 .5 2 1 0 1.3 .1 .6 .5 2 1 0 -1.3 -.1M261.3 267.2a1 .7 125 1 0 -1.2 1.7 1 .7 125 1 0 1.2 -1.7M267 250.2a1.4 1.1 69 1 0 1 2.5 1.4 1.1 69 1 0 -1 -2.5M249.4 266.8a.9 .5 114 1 0 -.7 1.6 .9 .5 114 1 0 .7 -1.6M263.9 262.9a1.1 1 37 1 0 1.7 1.3 1.1 1 37 1 0 -1.7 -1.3M263.5 252.3a.8 1 83 1 0 .2 1.6 .8 1 83 1 0 -.2 -1.6M245.7 271.6a.8 .9 25 1 0 1.4 .7 .8 .9 25 1 0 -1.4 -.7M265.5 268.1a.9 .7 26 1 0 1.6 .8 .9 .7 26 1 0 -1.6 -.8M270.2 254.3a1.5 1 32 1 0 2.5 1.6 1.5 1 32 1 0 -2.5 -1.6M269.3 250.1a1 .5 2 1 0 2 .1 1 .5 2 1 0 -2 -.1M277.8 256.4a.8 1 144 1 0 -1.2 .9 .8 1 144 1 0 1.2 -.9M248.9 275.1a.7 .7 116 1 0 -.6 1.2 .7 .7 116 1 0 .6 -1.2M246.6 251.4a1.1 .6 128 1 0 -1.3 1.7 1.1 .6 128 1 0 1.3 -1.7M276.5 270.1a1.1 1 89 1 0 0 2.2 1.1 1 89 1 0 -0 -2.2M268.2 259.7a1.3 .6 153 1 0 -2.3 1.1 1.3 .6 153 1 0 2.3 -1.1M276.2 272.8a1.5 .6 168 1 0 -3 .6 1.5 .6 168 1 0 3 -.6M280.3 265.8a.9 .6 103 1 0 -.4 1.7 .9 .6 103 1 0 .4 -1.7M265.1 270.3a1 .6 122 1 0 -1.1 1.7 1 .6 122 1 0 1.1 -1.7M264.1 263a.7 .6 34 1 0 1.1 .8 .7 .6 34 1 0 -1.1 -.8M281.7 263.5a1.1 .7 22 1 0 1.9 .8 1.1 .7 22 1 0 -1.9 -.8"/>
<path fill="#85553a" d="M250.9 256.1a1 .5 161 1 0 -2 .7 1 .5 161 1 0 2 -.7M249 265.6a1.1 1.1 31 1 0 1.8 1.1 1.1 1.1 31 1 0 -1.8 -1.1M269.4 248.2a.7 .8 149 1 0 -1.3 .7 .7 .8 149 1 0 1.3 -.7M280.8 247.1a1.4 .7 136 1 0 -2.1 2 1.4 .7 136 1 0 2.1 -2M264.6 247.8a1.5 .7 167 1 0 -3 .7 1.5 .7 167 1 0 3 -.7M251.6 256.7a1.3 .6 132 1 0 -1.8 2 1.3 .6 132 1 0 1.8 -2M246.6 272.5a.9 .8 115 1 0 -.7 1.6 .9 .8 115 1 0 .7 -1.6M281.3 244.4a1.2 .5 65 1 0 1 2.2 1.2 .5 65 1 0 -1 -2.2M280.3 275.3a1.1 .6 149 1 0 -1.8 1.1 1.1 .6 149 1 0 1.8 -1.1M243.8 265.3a1.5 .9 21 1 0 2.8 1.1 1.5 .9 21 1 0 -2.8 -1.1M248.1 249a1.3 .6 12 1 0 2.6 .6 1.3 .6 12 1 0 -2.6 -.6M261.6 247a.9 .5 87 1 0 .1 1.8 .9 .5 87 1 0 -.1 -1.8M247.5 267.4a.9 1 43 1 0 1.3 1.2 .9 1 43 1 0 -1.3 -1.2M251.2 257.8a1.3 1.1 74 1 0 .7 2.5 1.3 1.1 74 1 0 -.7 -2.5M275.4 248.1a.9 .8 101 1 0 -.4 1.8 .9 .8 101 1 0 .4 -1.8M266.5 272.7a.8 .6 158 1 0 -1.4 .6 .8 .6 158 1 0 1.4 -.6M257.5 262.2a1 .8 151 1 0 -1.7 .9 1 .8 151 1 0 1.7 -.9M284.2 262.3a1.3 .5 82 1 0 .4 2.6 1.3 .5 82 1 0 -.4 -2.6M261.7 265.4a1 .8 158 1 0 -1.9 .8 1 .8 158 1 0 1.9 -.8"/>
<path stroke="#357320" stroke-width=".75" fill="none" d="M271.4 266.5L268.5 267.1M271.4 266.5L268.5 263.7M271.4 266.5L269.5 262.6M271.4 266.5L272 263.1M271.4 266.5L273.6 264.4M271.4 266.5L276.1 264.5M271.4 266.5L277.1 267.9M271.4 266.5L273.7 269M271.4 266.5L270.9 272M271.4 266.5L270.5 270.1M271.4 266.5L266.8 271.1M279 264.1L275 261.5M279 264.1L278.4 259.3M279 264.1L278.9 257.8M279 264.1L281.7 259.8M279 264.1L282.8 263.3M279 264.1L283.3 264.7M279 264.1L280.3 267.7M279 264.1L281.4 271.1M279 264.1L275.2 267.7M279 264.1L273.4 266.2M279 264.1L277.2 264M261.5 262.7L258.6 268.1M261.5 262.7L257.5 263.2M261.5 262.7L256.1 259.1M261.5 262.7L257.5 258M261.5 262.7L260.8 260.8M261.5 262.7L261.7 261.6M261.5 262.7L265.5 259.9M261.5 262.7L263.1 262.9M261.5 262.7L267.5 264.7M261.5 262.7L261.7 263.8M261.5 262.7L260.4 265.9M268.3 251.2L263.8 246M268.3 251.2L268.6 247.7M268.3 251.2L273.4 246.1M268.3 251.2L275.2 249.9M268.3 251.2L272.3 253.4M268.3 251.2L271.4 255.9M268.3 251.2L268.8 252.9M268.3 251.2L267.8 252M268.3 251.2L266.7 251.6M268.3 251.2L263.6 249.5M253.7 272.2L248.2 276.8M253.7 272.2L251.6 271.3M253.7 272.2L251.4 266.4M253.7 272.2L253.6 270.6M253.7 272.2L255.3 271M253.7 272.2L258.8 273.4M253.7 272.2L257.8 275.7M253.7 272.2L253.7 275.7M249.2 251.3L248.8 246.6M249.2 251.3L251.6 246.3M249.2 251.3L253.6 248.6M249.2 251.3L253.5 253.3M249.2 251.3L252.4 254.6M249.2 251.3L248.5 256.7M249.2 251.3L247.9 254.6M249.2 251.3L246.8 251.4M249.2 251.3L246.6 250.9M249.2 251.3L247.4 249.3"/>
<path fill="#245c16" d="M270.9 272a2.9 1.7 95 1 0 -.6 5.8 2.9 1.7 95 1 0 .6 -5.8M266.8 271.1a2.3 1.4 135 1 0 -3.2 3.2 2.3 1.4 135 1 0 3.2 -3.2M288.7 262.1a3 1.7 168 1 0 -5.9 1.2 3 1.7 168 1 0 5.9 -1.2M283.3 264.7a3 1.8 7 1 0 6 .8 3 1.8 7 1 0 -6 -.8M258.6 268.1a2.6 1.8 118 1 0 -2.5 4.5 2.6 1.8 118 1 0 2.5 -4.5M257.8 275.7a3 2.1 40 1 0 4.6 4 3 2.1 40 1 0 -4.6 -4M253.5 253.3a2.9 1.6 25 1 0 5.2 2.5 2.9 1.6 25 1 0 -5.2 -2.5"/>
<path fill="#367c1f" d="M266.8 256.9a3.2 1.7 64 1 0 2.7 5.8 3.2 1.7 64 1 0 -2.7 -5.8M277.9 254.8a2.3 1.2 83 1 0 .5 4.5 2.3 1.2 83 1 0 -.5 -4.5M260.7 242.5a2.3 1.3 48 1 0 3.1 3.5 2.3 1.3 48 1 0 -3.1 -3.5M258.8 273.4a2.7 1.6 13 1 0 5.3 1.3 2.7 1.6 13 1 0 -5.3 -1.3M248.3 240.1a3.3 1.7 85 1 0 .6 6.5 3.3 1.7 85 1 0 -.6 -6.5M248.5 256.7a2.3 1.3 97 1 0 -.6 4.6 2.3 1.3 97 1 0 .6 -4.6"/>
<path fill="#4a9828" d="M280.6 262.5a2.5 1.6 156 1 0 -4.5 2 2.5 1.6 156 1 0 4.5 -2M278.9 251.1a3.4 2 89 1 0 0 6.8 3.4 2 89 1 0 -0 -6.8M281.4 271.1a3.4 1.8 71 1 0 2.2 6.4 3.4 1.8 71 1 0 -2.2 -6.4M275.2 267.7a2.8 1.7 135 1 0 -4 3.9 2.8 1.7 135 1 0 4 -3.9M253.7 253.5a2.9 1.9 49 1 0 3.8 4.5 2.9 1.9 49 1 0 -3.8 -4.5M272.3 253.4a2.8 1.8 29 1 0 4.9 2.8 2.8 1.8 29 1 0 -4.9 -2.8M249.2 260.7a3.1 1.8 68 1 0 2.2 5.7 3.1 1.8 68 1 0 -2.2 -5.7M253.6 242.4a2.2 1.4 116 1 0 -1.9 4 2.2 1.4 116 1 0 1.9 -4M252.4 254.6a3.1 1.9 46 1 0 4.2 4.4 3.1 1.9 46 1 0 -4.2 -4.4"/>
<path fill="#60b232" d="M264.7 259.8a2.7 1.5 45 1 0 3.9 3.9 2.7 1.5 45 1 0 -3.9 -3.9M277.1 267.9a2.8 1.9 13 1 0 5.4 1.3 2.8 1.9 13 1 0 -5.4 -1.3M284.8 255a2.8 1.9 122 1 0 -3.1 4.8 2.8 1.9 122 1 0 3.1 -4.8M280.3 267.7a2.8 1.5 69 1 0 2 5.3 2.8 1.5 69 1 0 -2 -5.3M257.5 263.2a3.2 2 174 1 0 -6.4 .7 3.2 2 174 1 0 6.4 -.7M252.4 256.6a2.3 1.5 33 1 0 3.7 2.5 2.3 1.5 33 1 0 -3.7 -2.5M270.8 256.1a3.2 1.7 144 1 0 -5.2 3.8 3.2 1.7 144 1 0 5.2 -3.8M280.2 249a2.5 1.6 169 1 0 -5 .9 2.5 1.6 169 1 0 5 -.9M271.4 255.9a3.1 1.6 57 1 0 3.4 5.2 3.1 1.6 57 1 0 -3.4 -5.2M257.4 247.2a3.3 2.1 19 1 0 6.2 2.2 3.3 2.1 19 1 0 -6.2 -2.2M248.2 276.8a2.9 1.6 140 1 0 -4.4 3.7 2.9 1.6 140 1 0 4.4 -3.7M258.7 245.5a3 2.1 148 1 0 -5.1 3.1 3 2.1 148 1 0 5.1 -3.1"/>
<path fill="#82ca4a" d="M271.1 259a2.3 1.5 33 1 0 3.9 2.5 2.3 1.5 33 1 0 -3.9 -2.5M273.4 266.2a2.4 1.6 158 1 0 -4.5 1.7 2.4 1.6 158 1 0 4.5 -1.7M267.5 264.7a2.8 1.7 18 1 0 5.4 1.8 2.8 1.7 18 1 0 -5.4 -1.8M276.8 242.7a2.4 1.5 134 1 0 -3.4 3.4 2.4 1.5 134 1 0 3.4 -3.4"/>
<path fill="#245c16" d="M259.9 267.5a2.9 1.7 143 1 0 -4.6 3.4 2.9 1.7 143 1 0 4.6 -3.4"/>
<path fill="#367c1f" d="M272.8 257.8a2.7 1.7 99 1 0 -.9 5.3 2.7 1.7 99 1 0 .9 -5.3M273.7 269a3 1.9 46 1 0 4.1 4.3 3 1.9 46 1 0 -4.1 -4.3M261.7 263.8a2.4 1.6 80 1 0 .8 4.7 2.4 1.6 80 1 0 -.8 -4.7M268.8 252.9a3 1.8 76 1 0 1.4 5.8 3 1.8 76 1 0 -1.4 -5.8M253.7 275.7a3.3 1.8 89 1 0 .1 6.6 3.3 1.8 89 1 0 -.1 -6.6M247.9 254.6a2.6 1.6 111 1 0 -1.9 4.8 2.6 1.6 111 1 0 1.9 -4.8M243.6 244.5a3.2 1.6 48 1 0 4.2 4.7 3.2 1.6 48 1 0 -4.2 -4.7"/>
<path fill="#4a9828" d="M268.5 267.1a2.4 1.3 168 1 0 -4.6 .9 2.4 1.3 168 1 0 4.6 -.9M278.1 260.4a3 1.7 137 1 0 -4.4 4.1 3 1.7 137 1 0 4.4 -4.1M260.4 265.9a3.2 2.1 109 1 0 -2.1 6.1 3.2 2.1 109 1 0 2.1 -6.1M246.7 269.3a2.7 1.5 22 1 0 4.9 2 2.7 1.5 22 1 0 -4.9 -2"/>
<path fill="#60b232" d="M270.5 270.1a3.3 1.7 104 1 0 -1.6 6.4 3.3 1.7 104 1 0 1.6 -6.4M259.1 256.4a2.4 1.7 69 1 0 1.7 4.4 2.4 1.7 69 1 0 -1.7 -4.4M262.6 256.2a2.7 1.8 98 1 0 -.8 5.3 2.7 1.8 98 1 0 .8 -5.3M263.1 262.9a2.9 1.8 3 1 0 5.8 .4 2.9 1.8 3 1 0 -5.8 -.4M267.8 252a2.7 1.9 124 1 0 -3 4.5 2.7 1.9 124 1 0 3 -4.5M266.7 251.6a2.9 1.9 164 1 0 -5.5 1.5 2.9 1.9 164 1 0 5.5 -1.5"/>
<path fill="#82ca4a" d="M272.6 263.9a2.3 1.3 1 1 0 4.5 .1 2.3 1.3 1 1 0 -4.5 -.1M269 243.2a2.2 1.2 94 1 0 -.4 4.4 2.2 1.2 94 1 0 .4 -4.4M253.3 265.4a2.6 1.6 86 1 0 .3 5.2 2.6 1.6 86 1 0 -.3 -5.2M246.8 251.4a3.1 2.2 177 1 0 -6.3 .3 3.1 2.2 177 1 0 6.3 -.3M240.2 250a3.2 2.1 8 1 0 6.4 .9 3.2 2.1 8 1 0 -6.4 -.9"/>
<rect x="241.6" y="284.6" width="46" height="40.2" rx="4.5" fill="url(#gw)" stroke="#8a8274" stroke-width=".9"/>
<rect x="243.8" y="286.9" width="41.6" height="35.4" rx="2.5" fill="#2e2017"/>
<path fill="#5e3a24" d="M260.7 294.4a1.5 .8 124 1 0 -1.7 2.5 1.5 .8 124 1 0 1.7 -2.5M277.4 302.2a.7 .9 30 1 0 1.3 .8 .7 .9 30 1 0 -1.3 -.8M272 308.1a1.4 .5 156 1 0 -2.5 1.1 1.4 .5 156 1 0 2.5 -1.1M268.5 307a1.5 1 54 1 0 1.7 2.4 1.5 1 54 1 0 -1.7 -2.4M250.2 309a1.3 .8 71 1 0 .8 2.4 1.3 .8 71 1 0 -.8 -2.4M246.6 291.5a1.3 .8 133 1 0 -1.8 1.9 1.3 .8 133 1 0 1.8 -1.9M279 319.1a1 .9 122 1 0 -1.1 1.8 1 .9 122 1 0 1.1 -1.8M257.2 317.3a1.5 .7 159 1 0 -2.9 1.1 1.5 .7 159 1 0 2.9 -1.1M273.9 312a.8 .5 32 1 0 1.3 .8 .8 .5 32 1 0 -1.3 -.8M270.6 289.1a1.2 .6 59 1 0 1.2 2 1.2 .6 59 1 0 -1.2 -2M254.8 309.2a1.6 .9 128 1 0 -2 2.5 1.6 .9 128 1 0 2 -2.5M273.1 313.1a1.1 .9 63 1 0 1 2 1.1 .9 63 1 0 -1 -2M275.6 310.3a1.1 .9 41 1 0 1.6 1.5 1.1 .9 41 1 0 -1.6 -1.5M253 303.2a1.1 1.1 148 1 0 -1.9 1.1 1.1 1.1 148 1 0 1.9 -1.1M253.4 314.3a1 .6 156 1 0 -1.8 .8 1 .6 156 1 0 1.8 -.8M253.7 316.3a.7 .9 95 1 0 -.1 1.5 .7 .9 95 1 0 .1 -1.5M246.3 314.9a.6 1 130 1 0 -.8 .9 .6 1 130 1 0 .8 -.9M260 293a1.2 .9 88 1 0 .1 2.4 1.2 .9 88 1 0 -.1 -2.4M267.8 311.4a.8 .8 135 1 0 -1.1 1.1 .8 .8 135 1 0 1.1 -1.1M276.1 315.2a1.3 .6 69 1 0 .9 2.5 1.3 .6 69 1 0 -.9 -2.5M275.5 290.3a1 1 31 1 0 1.6 1 1 1 31 1 0 -1.6 -1M269.7 296.9a1.5 .7 16 1 0 2.8 .8 1.5 .7 16 1 0 -2.8 -.8M279 320.4a1 .8 135 1 0 -1.4 1.4 1 .8 135 1 0 1.4 -1.4M246.8 309.3a1.5 .7 169 1 0 -3 .5 1.5 .7 169 1 0 3 -.5M262.3 309.1a.8 .7 66 1 0 .6 1.5 .8 .7 66 1 0 -.6 -1.5M252.7 301.5a1.2 1.1 154 1 0 -2.1 1 1.2 1.1 154 1 0 2.1 -1M283.1 312.1a1.5 .8 81 1 0 .5 3.1 1.5 .8 81 1 0 -.5 -3.1M260.7 296.6a1.2 .9 15 1 0 2.3 .7 1.2 .9 15 1 0 -2.3 -.7M271 296.4a1.6 .7 48 1 0 2.1 2.4 1.6 .7 48 1 0 -2.1 -2.4M263.6 290.7a.8 1 14 1 0 1.5 .4 .8 1 14 1 0 -1.5 -.4M283.2 292.7a.6 .8 14 1 0 1.2 .3 .6 .8 14 1 0 -1.2 -.3M259.9 319a.9 1.1 134 1 0 -1.3 1.3 .9 1.1 134 1 0 1.3 -1.3M251.4 303a.9 .6 15 1 0 1.6 .4 .9 .6 15 1 0 -1.6 -.4M264.6 300.8a1.1 .7 69 1 0 .8 2 1.1 .7 69 1 0 -.8 -2M275 291.8a1 .7 85 1 0 .2 2.1 1 .7 85 1 0 -.2 -2.1"/>
<path fill="#85553a" d="M267.3 299.7a1.2 1 119 1 0 -1.1 2.1 1.2 1 119 1 0 1.1 -2.1M278.8 294a1.3 .6 120 1 0 -1.4 2.3 1.3 .6 120 1 0 1.4 -2.3M248.8 317.1a1.6 .5 57 1 0 1.7 2.7 1.6 .5 57 1 0 -1.7 -2.7M265.3 317.1a.9 .6 11 1 0 1.8 .4 .9 .6 11 1 0 -1.8 -.4M247 315.5a1.4 .6 118 1 0 -1.3 2.4 1.4 .6 118 1 0 1.3 -2.4M249.5 316.3a1.3 .9 75 1 0 .7 2.6 1.3 .9 75 1 0 -.7 -2.6M261.5 302.2a.9 .6 123 1 0 -1 1.5 .9 .6 123 1 0 1 -1.5M265.2 304.4a1.5 1 5 1 0 3 .3 1.5 1 5 1 0 -3 -.3M267.2 318.8a1.1 .9 31 1 0 1.9 1.2 1.1 .9 31 1 0 -1.9 -1.2M272.6 318.3a.9 .6 153 1 0 -1.6 .8 .9 .6 153 1 0 1.6 -.8M268.5 314.9a.9 .9 54 1 0 1 1.4 .9 .9 54 1 0 -1 -1.4M247.9 314.6a1.3 .5 136 1 0 -1.9 1.8 1.3 .5 136 1 0 1.9 -1.8M246.9 314.6a1.3 1 67 1 0 1 2.3 1.3 1 67 1 0 -1 -2.3M250.6 290.2a.9 1 56 1 0 1 1.5 .9 1 56 1 0 -1 -1.5M278.8 293.2a1.6 1 124 1 0 -1.8 2.6 1.6 1 124 1 0 1.8 -2.6M281 317.9a.9 1 140 1 0 -1.3 1.1 .9 1 140 1 0 1.3 -1.1M259.5 293.2a1.1 .8 159 1 0 -2 .7 1.1 .8 159 1 0 2 -.7M264.6 295.4a1.1 .7 124 1 0 -1.3 1.9 1.1 .7 124 1 0 1.3 -1.9M279.5 295.4a1.4 .8 34 1 0 2.2 1.5 1.4 .8 34 1 0 -2.2 -1.5M268.2 320.4a1.2 .8 14 1 0 2.4 .6 1.2 .8 14 1 0 -2.4 -.6M281.4 317.7a1.3 1 172 1 0 -2.6 .3 1.3 1 172 1 0 2.6 -.3M281.2 316.9a1.1 .7 84 1 0 .2 2.3 1.1 .7 84 1 0 -.2 -2.3M259.5 318.3a1.5 .8 91 1 0 -.1 3 1.5 .8 91 1 0 .1 -3M275.4 296.2a1.4 1.1 31 1 0 2.4 1.5 1.4 1.1 31 1 0 -2.4 -1.5M268 319a1.2 .6 177 1 0 -2.5 .1 1.2 .6 177 1 0 2.5 -.1"/>
<path stroke="#357320" stroke-width=".75" fill="none" d="M260.5 311.3L262.5 309.9M260.5 311.3L264.2 310.8M260.5 311.3L265.6 312M260.5 311.3L261.5 314.4M260.5 311.3L262 317M260.5 311.3L257.8 316.8M260.5 311.3L254.5 312.6M260.5 311.3L254.3 310.6M260.5 311.3L256.5 306.3M260.5 311.3L261.3 308.3M265.1 292.1L264.8 291.1M265.1 292.1L265.9 290.5M265.1 292.1L267.3 291.7M265.1 292.1L266.8 293.4M265.1 292.1L265 299.1M265.1 292.1L262.3 294.8M265.1 292.1L257.8 293.7M265.1 292.1L262.9 290.5M269.1 306.8L269.7 312.8M269.1 306.8L267.6 311.8M269.1 306.8L265.1 307.2M269.1 306.8L263.4 302.6M269.1 306.8L265.1 302.2M269.1 306.8L270.7 301M269.1 306.8L271.4 304.7M269.1 306.8L272.3 305.9M269.1 306.8L270.8 308.3M259.2 293.4L254.5 292M259.2 293.4L255 288.9M259.2 293.4L258.6 291.3M259.2 293.4L259.1 291.5M259.2 293.4L262.3 289.1M259.2 293.4L261.6 292.4M259.2 293.4L264.7 294.2M259.2 293.4L263.7 298.8M259.2 293.4L259.7 294.8M259.2 293.4L258.2 296M259.2 293.4L254.5 296.1M248.9 302.2L247 305M248.9 302.2L246.9 302.3M248.9 302.2L247.3 300.5M248.9 302.2L246.9 298.1M248.9 302.2L249.6 298.5M248.9 302.2L251.1 300.8M248.9 302.2L255.2 299.7M248.9 302.2L253.5 304.5M248.9 302.2L250.5 305.9M248.9 302.2L248.2 309.1M277.2 310.7L272 306.2M277.2 310.7L274.3 304M277.2 310.7L276.5 305.8M277.2 310.7L281.5 305.1M277.2 310.7L281.9 309.9M277.2 310.7L281.6 311M277.2 310.7L283 314.6M277.2 310.7L278.5 315.2M277.2 310.7L276.4 312.1M277.2 310.7L274.8 314.3M277.2 310.7L273.5 310.7"/>
<path fill="#245c16" d="M257.8 316.8a2.9 2 116 1 0 -2.6 5.2 2.9 2 116 1 0 2.6 -5.2M248.7 310a2.8 1.4 6 1 0 5.6 .6 2.8 1.4 6 1 0 -5.6 -.6M251.2 284.7a2.8 1.8 47 1 0 3.9 4.2 2.8 1.8 47 1 0 -3.9 -4.2M278.5 315.2a2.5 1.5 73 1 0 1.5 4.8 2.5 1.5 73 1 0 -1.5 -4.8"/>
<path fill="#367c1f" d="M265.6 312a2.9 1.5 7 1 0 5.7 .8 2.9 1.5 7 1 0 -5.7 -.8M265 299.1a2.5 1.7 90 1 0 -0 5 2.5 1.7 90 1 0 0 -5M269.7 312.8a2.4 1.3 84 1 0 .5 4.8 2.4 1.3 84 1 0 -.5 -4.8M267.6 311.8a2.7 1.4 106 1 0 -1.5 5.3 2.7 1.4 106 1 0 1.5 -5.3M250.5 305.9a2.9 1.5 66 1 0 2.3 5.4 2.9 1.5 66 1 0 -2.3 -5.4"/>
<path fill="#4a9828" d="M254.5 312.6a2.5 1.4 167 1 0 -5 1.1 2.5 1.4 167 1 0 5 -1.1M262.3 294.8a2.5 1.5 135 1 0 -3.5 3.5 2.5 1.5 135 1 0 3.5 -3.5M265.1 307.2a2.4 1.6 175 1 0 -4.8 .4 2.4 1.6 175 1 0 4.8 -.4M258.3 298.9a3.1 1.9 36 1 0 5.1 3.7 3.1 1.9 36 1 0 -5.1 -3.7M265.6 284.7a2.8 1.4 126 1 0 -3.3 4.4 2.8 1.4 126 1 0 3.3 -4.4M264.7 294.2a2.9 1.9 8 1 0 5.7 .8 2.9 1.9 8 1 0 -5.7 -.8M253.5 304.5a2.7 1.5 26 1 0 4.9 2.4 2.7 1.5 26 1 0 -4.9 -2.4M248.2 309.1a2.6 1.6 95 1 0 -.5 5.1 2.6 1.6 95 1 0 .5 -5.1M272.1 298.8a2.8 1.7 66 1 0 2.2 5.2 2.8 1.7 66 1 0 -2.2 -5.2M287.1 309a2.6 1.4 169 1 0 -5.1 .9 2.6 1.4 169 1 0 5.1 -.9M281.6 311a2.7 1.7 3 1 0 5.3 .3 2.7 1.7 3 1 0 -5.3 -.3M283 314.6a3.3 1.8 33 1 0 5.6 3.7 3.3 1.8 33 1 0 -5.6 -3.7"/>
<path fill="#60b232" d="M268.8 310.1a2.3 1.5 172 1 0 -4.5 .6 2.3 1.5 172 1 0 4.5 -.6M262 317a3.1 1.7 75 1 0 1.6 6 3.1 1.7 75 1 0 -1.6 -6M263.7 298.8a3 2 50 1 0 3.9 4.7 3 2 50 1 0 -3.9 -4.7M254.5 296.1a3 1.8 149 1 0 -5.2 3.1 3 1.8 149 1 0 5.2 -3.1M259.5 298a2.4 1.6 158 1 0 -4.4 1.7 2.4 1.6 158 1 0 4.4 -1.7M268 302.6a2.7 1.5 41 1 0 4 3.6 2.7 1.5 41 1 0 -4 -3.6M284.6 301.1a2.5 1.4 127 1 0 -3.1 4 2.5 1.4 127 1 0 3.1 -4M274.8 314.3a3.4 2 123 1 0 -3.7 5.6 3.4 2 123 1 0 3.7 -5.6"/>
<path fill="#82ca4a" d="M252.7 301.6a3 1.8 51 1 0 3.8 4.7 3 1.8 51 1 0 -3.8 -4.7M257.8 293.7a2.8 1.6 167 1 0 -5.5 1.2 2.8 1.6 167 1 0 5.5 -1.2M261.1 297.6a3 2.1 48 1 0 4 4.5 3 2.1 48 1 0 -4 -4.5M272.4 294.6a3.3 2 105 1 0 -1.7 6.3 3.3 2 105 1 0 1.7 -6.3M249.6 290.6a2.5 1.5 16 1 0 4.9 1.4 2.5 1.5 16 1 0 -4.9 -1.4M243.9 292.1a3.4 1.9 63 1 0 3 6.1 3.4 1.9 63 1 0 -3 -6.1M275.5 299.5a3.2 1.9 81 1 0 .9 6.3 3.2 1.9 81 1 0 -.9 -6.3"/>
<path fill="#245c16" d="M262.8 302a3.2 2.2 104 1 0 -1.6 6.2 3.2 2.2 104 1 0 1.6 -6.2M266.8 293.4a3.4 1.7 39 1 0 5.2 4.3 3.4 1.7 39 1 0 -5.2 -4.3"/>
<path fill="#367c1f" d="M273.3 290.8a3.1 2.1 170 1 0 -6 1 3.1 2.1 170 1 0 6 -1M278.8 304a3.4 1.8 163 1 0 -6.5 1.9 3.4 1.8 163 1 0 6.5 -1.9M267.6 289.8a3.3 2 156 1 0 -6 2.6 3.3 2 156 1 0 6 -2.6"/>
<path fill="#4a9828" d="M261.5 314.4a3.2 1.7 72 1 0 1.9 6.1 3.2 1.7 72 1 0 -1.9 -6.1M263 285.3a3.1 2 72 1 0 1.8 5.8 3.1 2 72 1 0 -1.8 -5.8M270.8 308.3a3.2 2 41 1 0 4.8 4.2 3.2 2 41 1 0 -4.8 -4.2M247 305a2.7 1.5 123 1 0 -3 4.6 2.7 1.5 123 1 0 3 -4.6M243.5 295.9a3.2 2.2 45 1 0 4.5 4.6 3.2 2.2 45 1 0 -4.5 -4.6M268.6 310.7a2.4 1.6 0 1 0 4.9 0 2.4 1.6 0 1 0 -4.9 -0"/>
<path fill="#60b232" d="M267.9 286.3a2.3 1.5 115 1 0 -2 4.2 2.3 1.5 115 1 0 2 -4.2M257 285.9a2.9 1.7 73 1 0 1.6 5.5 2.9 1.7 73 1 0 -1.6 -5.5M259.7 294.8a2.2 1.5 69 1 0 1.5 4.2 2.2 1.5 69 1 0 -1.5 -4.2M258.2 296a3.3 1.7 110 1 0 -2.3 6.1 3.3 1.7 110 1 0 2.3 -6.1M247.5 302.3a2.3 1.5 174 1 0 -4.6 .4 2.3 1.5 174 1 0 4.6 -.4M250.6 292.9a2.8 1.5 100 1 0 -1 5.6 2.8 1.5 100 1 0 1 -5.6M256.8 297.3a3.3 2.2 148 1 0 -5.7 3.5 3.3 2.2 148 1 0 5.7 -3.5M276.4 312.1a3 1.5 121 1 0 -3.1 5.1 3 1.5 121 1 0 3.1 -5.1"/>
<path fill="#82ca4a" d="M266.1 307.4a2.2 1.4 145 1 0 -3.6 2.5 2.2 1.4 145 1 0 3.6 -2.5M257.9 286.8a3.1 2 36 1 0 5 3.7 3.1 2 36 1 0 -5 -3.7M275.6 300.9a2.8 1.5 137 1 0 -4.2 3.8 2.8 1.5 137 1 0 4.2 -3.8M259 286.9a2.3 1.6 88 1 0 .1 4.6 2.3 1.6 88 1 0 -.1 -4.6"/>
<rect x="38" y="329" width="49.6" height="87.2" fill="#1f1d1a"/>
<rect x="39.6" y="330.5" width="46.4" height="40.6" rx="4.5" fill="url(#gd)" stroke="#76726b" stroke-width=".9"/>
<rect x="41.8" y="332.8" width="42" height="35.8" rx="2.5" fill="#3e2e1f"/>
<path fill="#5e4832" d="M75.8 351.6a1.1 .5 167 1 0 -2.1 .4 1.1 .5 167 1 0 2.1 -.4M79.5 344.4a1.4 .6 32 1 0 2.3 1.5 1.4 .6 32 1 0 -2.3 -1.5M78.2 341.3a1.2 1 22 1 0 2.3 1 1.2 1 22 1 0 -2.3 -1M54 352.9a.9 1 65 1 0 .8 1.7 .9 1 65 1 0 -.8 -1.7M70.4 336.9a1.2 .6 55 1 0 1.3 2 1.2 .6 55 1 0 -1.3 -2M46.9 339.1a1.3 .6 70 1 0 .9 2.5 1.3 .6 70 1 0 -.9 -2.5M63.2 357.3a1.4 1 8 1 0 2.8 .4 1.4 1 8 1 0 -2.8 -.4M50 341.9a.7 .9 22 1 0 1.4 .6 .7 .9 22 1 0 -1.4 -.6M44.9 364.8a1.1 .8 61 1 0 1.1 2 1.1 .8 61 1 0 -1.1 -2M60.3 339.8a.9 .6 37 1 0 1.3 1 .9 .6 37 1 0 -1.3 -1M58.2 364.1a1.6 .7 46 1 0 2.2 2.3 1.6 .7 46 1 0 -2.2 -2.3M58.2 356.5a1.3 .6 175 1 0 -2.6 .2 1.3 .6 175 1 0 2.6 -.2M45 354.2a1.4 .6 160 1 0 -2.6 .9 1.4 .6 160 1 0 2.6 -.9M59.7 339.9a1.4 .8 48 1 0 1.9 2.2 1.4 .8 48 1 0 -1.9 -2.2M66.7 354.8a1.2 .9 19 1 0 2.2 .8 1.2 .9 19 1 0 -2.2 -.8M54.7 362.2a.8 .7 82 1 0 .2 1.6 .8 .7 82 1 0 -.2 -1.6M70.5 362.9a.6 .8 3 1 0 1.3 .1 .6 .8 3 1 0 -1.3 -.1M49.2 336.2a1.2 .6 101 1 0 -.5 2.4 1.2 .6 101 1 0 .5 -2.4M74.1 345a.6 .8 98 1 0 -.2 1.2 .6 .8 98 1 0 .2 -1.2M46.9 354.5a1.1 .8 36 1 0 1.7 1.3 1.1 .8 36 1 0 -1.7 -1.3M81.4 333a1.5 .6 54 1 0 1.7 2.4 1.5 .6 54 1 0 -1.7 -2.4M56.3 339.8a1.3 .8 136 1 0 -1.8 1.8 1.3 .8 136 1 0 1.8 -1.8M42.1 364.3a1.3 1 7 1 0 2.7 .4 1.3 1 7 1 0 -2.7 -.4M64.1 365.7a1.1 .8 68 1 0 .8 2 1.1 .8 68 1 0 -.8 -2M51.4 339.6a.8 .7 162 1 0 -1.6 .5 .8 .7 162 1 0 1.6 -.5M80 342.1a.9 1 31 1 0 1.5 .9 .9 1 31 1 0 -1.5 -.9M69 336.2a.8 .9 66 1 0 .6 1.4 .8 .9 66 1 0 -.6 -1.4M73.1 351.2a.6 1 7 1 0 1.2 .2 .6 1 7 1 0 -1.2 -.2M78.6 357.8a1.4 .9 44 1 0 2 1.9 1.4 .9 44 1 0 -2 -1.9M63 336.5a.7 .5 110 1 0 -.5 1.3 .7 .5 110 1 0 .5 -1.3M76.9 360.7a1.5 .7 124 1 0 -1.8 2.6 1.5 .7 124 1 0 1.8 -2.6M75.7 358.8a1.6 .7 7 1 0 3.1 .4 1.6 .7 7 1 0 -3.1 -.4M80.1 365.2a1.4 .9 17 1 0 2.6 .8 1.4 .9 17 1 0 -2.6 -.8M63.8 362.6a1.3 1 32 1 0 2.2 1.4 1.3 1 32 1 0 -2.2 -1.4M70.4 366.7a1 1.1 31 1 0 1.7 1.1 1 1.1 31 1 0 -1.7 -1.1M80.8 333a1.1 .9 51 1 0 1.3 1.6 1.1 .9 51 1 0 -1.3 -1.6M50.4 355.3a.6 .7 19 1 0 1.2 .4 .6 .7 19 1 0 -1.2 -.4M73.4 341.1a.8 .7 94 1 0 -.1 1.5 .8 .7 94 1 0 .1 -1.5"/>
<path fill="#7e6448" d="M48.4 347.9a1.3 .9 78 1 0 .5 2.6 1.3 .9 78 1 0 -.5 -2.6M51.9 345.3a1.6 .6 172 1 0 -3.1 .4 1.6 .6 172 1 0 3.1 -.4M64.3 364a.8 .9 22 1 0 1.4 .6 .8 .9 22 1 0 -1.4 -.6M44 346.6a1.2 .6 151 1 0 -2 1.1 1.2 .6 151 1 0 2 -1.1M65 365.2a1.3 1 91 1 0 -.1 2.6 1.3 1 91 1 0 .1 -2.6M61.1 358.5a1.5 .9 45 1 0 2.1 2.1 1.5 .9 45 1 0 -2.1 -2.1M76.7 363.2a1.4 .8 88 1 0 .1 2.7 1.4 .8 88 1 0 -.1 -2.7M67.2 337.8a1.5 .6 135 1 0 -2.1 2 1.5 .6 135 1 0 2.1 -2M66.5 355.8a1.2 .7 2 1 0 2.3 .1 1.2 .7 2 1 0 -2.3 -.1M80.2 346.1a1.2 .9 85 1 0 .2 2.4 1.2 .9 85 1 0 -.2 -2.4M70.6 339.5a1 .7 48 1 0 1.3 1.5 1 .7 48 1 0 -1.3 -1.5M53.8 365.4a1.2 .6 1 1 0 2.3 .1 1.2 .6 1 1 0 -2.3 -.1M47 343.2a1.2 1 147 1 0 -2.1 1.3 1.2 1 147 1 0 2.1 -1.3M42.5 357.6a1.1 .6 68 1 0 .8 2.1 1.1 .6 68 1 0 -.8 -2.1M82.6 338.4a1.2 .6 170 1 0 -2.3 .4 1.2 .6 170 1 0 2.3 -.4M72.9 346.3a.7 1 151 1 0 -1.2 .7 .7 1 151 1 0 1.2 -.7M48.5 363.6a1.5 .7 132 1 0 -2.1 2.2 1.5 .7 132 1 0 2.1 -2.2M44.8 363.1a1.2 .5 94 1 0 -.2 2.4 1.2 .5 94 1 0 .2 -2.4M80.8 359.3a.6 .8 41 1 0 1 .9 .6 .8 41 1 0 -1 -.9M53.6 363.2a1.5 .6 15 1 0 3 .8 1.5 .6 15 1 0 -3 -.8M55 359.3a1.5 .9 14 1 0 3 .8 1.5 .9 14 1 0 -3 -.8M62.1 366.5a1 1.1 46 1 0 1.3 1.4 1 1.1 46 1 0 -1.3 -1.4M65.6 352.5a.9 .7 58 1 0 .9 1.5 .9 .7 58 1 0 -.9 -1.5M66.7 348.4a1.5 .9 91 1 0 -.1 3 1.5 .9 91 1 0 .1 -3M75.4 354.3a1.1 .7 138 1 0 -1.6 1.4 1.1 .7 138 1 0 1.6 -1.4M45.8 349.3a1.2 .8 60 1 0 1.2 2.2 1.2 .8 60 1 0 -1.2 -2.2M65.1 360.8a1.3 .9 80 1 0 .4 2.7 1.3 .9 80 1 0 -.4 -2.7M50.6 347.8a1.1 1 85 1 0 .2 2.2 1.1 1 85 1 0 -.2 -2.2M69.7 363.6a1.6 .6 150 1 0 -2.7 1.5 1.6 .6 150 1 0 2.7 -1.5M58.6 345.7a1.3 .6 102 1 0 -.6 2.5 1.3 .6 102 1 0 .6 -2.5M73.7 334.3a.6 .8 68 1 0 .4 1.2 .6 .8 68 1 0 -.4 -1.2M42.9 335.9a.9 .8 29 1 0 1.5 .8 .9 .8 29 1 0 -1.5 -.8"/>
<path fill="#8a6c44" d="M75.3 337.6a2.3 .9 11 1 0 4.5 .9 2.3 .9 11 1 0 -4.5 -.9M70.1 333.6a2.4 1.2 18 1 0 4.6 1.6 2.4 1.2 18 1 0 -4.6 -1.6M51.7 354a2.8 1.1 9 1 0 5.5 .9 2.8 1.1 9 1 0 -5.5 -.9M67.2 343.2a2.1 .7 121 1 0 -2.2 3.5 2.1 .7 121 1 0 2.2 -3.5M74.9 347.4a3.1 1.1 148 1 0 -5.4 3.3 3.1 1.1 148 1 0 5.4 -3.3M56.8 362.1a1.6 .8 86 1 0 .2 3.1 1.6 .8 86 1 0 -.2 -3.1M81.8 360.3a2.6 1 161 1 0 -4.9 1.7 2.6 1 161 1 0 4.9 -1.7M40.8 357.1a2.2 .9 43 1 0 3.2 3.1 2.2 .9 43 1 0 -3.2 -3.1M61.7 347.1a2.9 1.6 53 1 0 3.4 4.7 2.9 1.6 53 1 0 -3.4 -4.7M68 357a2.9 1.3 40 1 0 4.4 3.7 2.9 1.3 40 1 0 -4.4 -3.7M58.4 351.9a3.2 1.5 73 1 0 1.9 6.1 3.2 1.5 73 1 0 -1.9 -6.1M44.7 341.4a3.2 1.7 18 1 0 6 2 3.2 1.7 18 1 0 -6 -2"/>
<path fill="#b8955c" d="M64.7 345.9a1.8 .6 127 1 0 -2.1 2.8 1.8 .6 127 1 0 2.1 -2.8M60.3 349.1a1.9 .7 84 1 0 .4 3.8 1.9 .7 84 1 0 -.4 -3.8M46.5 344a2.6 1.3 41 1 0 3.9 3.4 2.6 1.3 41 1 0 -3.9 -3.4M83.3 341.8a3.2 1.5 104 1 0 -1.6 6.2 3.2 1.5 104 1 0 1.6 -6.2M61.3 354.6a1.9 .7 71 1 0 1.2 3.6 1.9 .7 71 1 0 -1.2 -3.6M67.2 336a2.2 .8 145 1 0 -3.6 2.4 2.2 .8 145 1 0 3.6 -2.4M77.1 334.6a2.5 1.1 159 1 0 -4.6 1.7 2.5 1.1 159 1 0 4.6 -1.7M56.7 348.1a2.9 1.3 129 1 0 -3.7 4.6 2.9 1.3 129 1 0 3.7 -4.6M70.1 334.2a1.8 1.1 97 1 0 -.5 3.6 1.8 1.1 97 1 0 .5 -3.6M80.1 350.6a2.6 1.2 113 1 0 -2.1 4.8 2.6 1.2 113 1 0 2.1 -4.8M75.5 350.9a2.2 1 91 1 0 -.1 4.4 2.2 1 91 1 0 .1 -4.4M83.9 339.5a3 1.4 116 1 0 -2.7 5.4 3 1.4 116 1 0 2.7 -5.4M52.6 339.6a2.2 1.1 39 1 0 3.5 2.8 2.2 1.1 39 1 0 -3.5 -2.8M58.6 346.9a2.6 1.4 140 1 0 -3.9 3.3 2.6 1.4 140 1 0 3.9 -3.3M58.9 346.8a2.1 1 6 1 0 4.1 .5 2.1 1 6 1 0 -4.1 -.5M82.5 346.6a3.1 1.3 173 1 0 -6.1 .7 3.1 1.3 173 1 0 6.1 -.7M58.8 353.2a2 1.2 90 1 0 -.1 4.1 2 1.2 90 1 0 .1 -4.1M74.2 347.4a3.2 1.8 129 1 0 -4 4.9 3.2 1.8 129 1 0 4 -4.9M67.2 336.9a2.7 1.1 28 1 0 4.8 2.6 2.7 1.1 28 1 0 -4.8 -2.6M81.5 333.7a3 1.6 110 1 0 -2.1 5.5 3 1.6 110 1 0 2.1 -5.5M80.7 355a3.1 1.4 138 1 0 -4.6 4.1 3.1 1.4 138 1 0 4.6 -4.1"/>
<path fill="#d4b47a" d="M67.7 356.8a2.6 1.2 78 1 0 1 5.2 2.6 1.2 78 1 0 -1 -5.2M77.7 362a2.5 1.2 167 1 0 -4.8 1.1 2.5 1.2 167 1 0 4.8 -1.1M55.9 345.5a2.7 1.6 131 1 0 -3.6 4.1 2.7 1.6 131 1 0 3.6 -4.1M70.5 350a2.6 1.1 71 1 0 1.7 4.9 2.6 1.1 71 1 0 -1.7 -4.9M56.7 353.1a2.5 1.2 102 1 0 -1.1 4.9 2.5 1.2 102 1 0 1.1 -4.9M73.7 332.8a3.1 1.5 98 1 0 -.9 6.2 3.1 1.5 98 1 0 .9 -6.2M74.3 357.7a1.6 .9 131 1 0 -2.1 2.4 1.6 .9 131 1 0 2.1 -2.4M50.1 362.6a2 .7 113 1 0 -1.6 3.7 2 .7 113 1 0 1.6 -3.7M47.9 332.3a2.7 1.3 100 1 0 -1 5.3 2.7 1.3 100 1 0 1 -5.3M71.3 360.3a2.7 1.3 29 1 0 4.8 2.7 2.7 1.3 29 1 0 -4.8 -2.7M50.3 346.4a2.2 1.1 121 1 0 -2.3 3.8 2.2 1.1 121 1 0 2.3 -3.8M80.4 339.6a2.4 1 34 1 0 3.9 2.7 2.4 1 34 1 0 -3.9 -2.7M65.3 362.1a2.4 1.4 46 1 0 3.3 3.5 2.4 1.4 46 1 0 -3.3 -3.5M78.4 356.2a2.9 1.6 148 1 0 -5 3.1 2.9 1.6 148 1 0 5 -3.1M77.2 352.1a2.7 1.1 124 1 0 -3 4.4 2.7 1.1 124 1 0 3 -4.4M80 332.5a2.9 1.1 63 1 0 2.6 5.1 2.9 1.1 63 1 0 -2.6 -5.1M48.5 342.7a2.3 1.3 14 1 0 4.5 1.2 2.3 1.3 14 1 0 -4.5 -1.2M61 338a2.4 1.2 97 1 0 -.6 4.7 2.4 1.2 97 1 0 .6 -4.7M59.5 348.1a2.3 1.1 101 1 0 -.9 4.6 2.3 1.1 101 1 0 .9 -4.6M55.9 351.9a2.6 1.2 123 1 0 -2.9 4.4 2.6 1.2 123 1 0 2.9 -4.4M48.6 365.6a2.3 1 61 1 0 2.2 4 2.3 1 61 1 0 -2.2 -4M69.9 350.5a2.5 1.4 89 1 0 0 5 2.5 1.4 89 1 0 -0 -5M67.8 350.4a2.1 1 131 1 0 -2.8 3.1 2.1 1 131 1 0 2.8 -3.1M68.6 348.2a3.1 1.5 175 1 0 -6.2 .5 3.1 1.5 175 1 0 6.2 -.5M63.2 341.2a2.1 1.2 45 1 0 3 3.1 2.1 1.2 45 1 0 -3 -3.1M71.5 348.5a2.9 1.3 15 1 0 5.6 1.5 2.9 1.3 15 1 0 -5.6 -1.5M46.5 344.8a2.6 1.2 8 1 0 5.2 .8 2.6 1.2 8 1 0 -5.2 -.8M78 343.9a2.1 1 92 1 0 -.2 4.1 2.1 1 92 1 0 .2 -4.1M71.4 337.7a2.1 1.1 37 1 0 3.3 2.5 2.1 1.1 37 1 0 -3.3 -2.5M79.9 343.5a3.1 1.3 21 1 0 5.8 2.3 3.1 1.3 21 1 0 -5.8 -2.3M70.2 357.3a2.4 1.1 38 1 0 3.8 3 2.4 1.1 38 1 0 -3.8 -3M76.6 366.1a2.6 1.5 54 1 0 3 4.2 2.6 1.5 54 1 0 -3 -4.2M72.6 367.2a2 .9 97 1 0 -.5 4 2 .9 97 1 0 .5 -4M69.3 361.6a2.9 1.5 178 1 0 -5.7 .1 2.9 1.5 178 1 0 5.7 -.1M51.9 337.1a2.8 1.6 61 1 0 2.7 5 2.8 1.6 61 1 0 -2.7 -5M59.7 337.6a2.7 1.1 113 1 0 -2.2 4.9 2.7 1.1 113 1 0 2.2 -4.9M64.6 336.8a3 1.3 134 1 0 -4.2 4.4 3 1.3 134 1 0 4.2 -4.4M57.8 346.1a3.1 1.5 29 1 0 5.4 3.1 3.1 1.5 29 1 0 -5.4 -3.1"/>
<path fill="#e4cf9e" d="M66.5 363.5a2.1 1.3 63 1 0 1.9 3.8 2.1 1.3 63 1 0 -1.9 -3.8M54.2 345.9a2.2 .9 97 1 0 -.6 4.3 2.2 .9 97 1 0 .6 -4.3M81.4 348.5a2.1 .7 70 1 0 1.4 4 2.1 .7 70 1 0 -1.4 -4M66.6 360.5a2.8 1.5 162 1 0 -5.3 1.7 2.8 1.5 162 1 0 5.3 -1.7M81.3 360.8a2.1 1.3 160 1 0 -3.9 1.4 2.1 1.3 160 1 0 3.9 -1.4M53.2 354a2 .8 55 1 0 2.2 3.2 2 .8 55 1 0 -2.2 -3.2M83.3 341.5a2 1 106 1 0 -1.1 3.9 2 1 106 1 0 1.1 -3.9M65.8 342.7a2.6 1.3 86 1 0 .3 5.1 2.6 1.3 86 1 0 -.3 -5.1M45 358.6a1.6 .9 102 1 0 -.7 3.2 1.6 .9 102 1 0 .7 -3.2M76.4 335.9a2.9 1.5 154 1 0 -5.1 2.5 2.9 1.5 154 1 0 5.1 -2.5M45.9 342.3a2.9 1.5 105 1 0 -1.5 5.6 2.9 1.5 105 1 0 1.5 -5.6M69.2 358.8a1.7 1 175 1 0 -3.3 .3 1.7 1 175 1 0 3.3 -.3M68 357a2 1.1 133 1 0 -2.8 3 2 1.1 133 1 0 2.8 -3M67.3 334.8a2.4 1.1 153 1 0 -4.4 2.2 2.4 1.1 153 1 0 4.4 -2.2M47.9 335a2.9 1.1 19 1 0 5.5 1.9 2.9 1.1 19 1 0 -5.5 -1.9M59 338.4a2.4 1.2 82 1 0 .7 4.7 2.4 1.2 82 1 0 -.7 -4.7M46.4 364.5a2.2 1 126 1 0 -2.7 3.6 2.2 1 126 1 0 2.7 -3.6M64.8 343.5a2.5 1.4 152 1 0 -4.4 2.3 2.5 1.4 152 1 0 4.4 -2.3M62.4 353.2a2.3 1.3 61 1 0 2.2 4.1 2.3 1.3 61 1 0 -2.2 -4.1M71.2 359.1a2.3 1.1 47 1 0 3.2 3.5 2.3 1.1 47 1 0 -3.2 -3.5M67.7 356.6a3 1.2 94 1 0 -.5 5.9 3 1.2 94 1 0 .5 -5.9M64.8 358.6a2.9 1.5 133 1 0 -3.9 4.2 2.9 1.5 133 1 0 3.9 -4.2M84.2 358.5a2 1 164 1 0 -3.9 1.1 2 1 164 1 0 3.9 -1.1M74.5 364.1a2.1 1.1 66 1 0 1.7 3.8 2.1 1.1 66 1 0 -1.7 -3.8M69.7 363.2a2.2 1 155 1 0 -3.9 1.8 2.2 1 155 1 0 3.9 -1.8"/>
<path stroke="#357320" stroke-width=".75" fill="none" d="M60 345.7L61.5 344M60 345.7L61.8 345.9M60 345.7L64.6 348.3M60 345.7L60.8 347.3M47.3 363.3L52.5 360.7M47.3 363.3L49.9 363.6M47.3 363.3L47.5 364.6M47.3 363.3L44.7 363.6M47.3 363.3L46.6 359.5M69.9 348.1L72.3 350M69.9 348.1L69.8 343.7M69.9 348.1L71.5 345.7M58.9 346.7L64 347.6M58.9 346.7L57.1 348.9M58.9 346.7L55.6 341.8M58.9 346.7L58.9 343.7M58.9 346.7L60.8 344.6M78.1 342.8L79.9 341.6M78.1 342.8L80.5 342.3M78.1 342.8L81 347.9M67.8 355.4L71.7 355.6M67.8 355.4L64.8 356M67.8 355.4L67.2 353.1M73.3 361.5L73.6 359.1M56.4 345.3L53.7 346M56.4 345.3L59.9 345.4"/>
<path fill="#245c16" d="M45.6 354.5a2.6 1.5 79 1 0 1 5 2.6 1.5 79 1 0 -1 -5"/>
<path fill="#367c1f" d="M57.3 358.3a2.7 1.2 153 1 0 -4.8 2.4 2.7 1.2 153 1 0 4.8 -2.4M64 347.6a2.1 1.1 10 1 0 4.2 .8 2.1 1.1 10 1 0 -4.2 -.8M52.9 338a2.3 1 55 1 0 2.6 3.9 2.3 1 55 1 0 -2.6 -3.9"/>
<path fill="#4a9828" d="M69.6 337.7a3 1.4 88 1 0 .1 6 3 1.4 88 1 0 -.1 -6M81 347.9a2.2 1.3 59 1 0 2.2 3.8 2.2 1.3 59 1 0 -2.2 -3.8M71.7 355.6a2.5 1.5 3 1 0 5.1 .3 2.5 1.5 3 1 0 -5.1 -.3"/>
<path fill="#60b232" d="M64.6 348.3a2.9 1.5 29 1 0 5 2.9 2.9 1.5 29 1 0 -5 -2.9"/>
<path fill="#245c16" d="M49.9 363.6a2.5 1.5 6 1 0 4.9 .6 2.5 1.5 6 1 0 -4.9 -.6M57.1 348.9a3.1 1.4 129 1 0 -3.9 4.7 3.1 1.4 129 1 0 3.9 -4.7M59.9 345.4a2.1 1.2 2 1 0 4.1 .1 2.1 1.2 2 1 0 -4.1 -.1"/>
<path fill="#367c1f" d="M47.5 364.6a2.3 1.2 82 1 0 .6 4.6 2.3 1.2 82 1 0 -.6 -4.6M74.1 341.8a2.3 1.1 124 1 0 -2.6 3.9 2.3 1.1 124 1 0 2.6 -3.9M66.2 348.9a2.1 1 75 1 0 1.1 4.1 2.1 1 75 1 0 -1.1 -4.1M53.7 346a2.2 1.3 165 1 0 -4.3 1.1 2.2 1.3 165 1 0 4.3 -1.1"/>
<path fill="#4a9828" d="M64.4 341a2.1 1.2 133 1 0 -2.9 3 2.1 1.2 133 1 0 2.9 -3M61.8 345.9a2.1 1.2 5 1 0 4.1 .4 2.1 1.2 5 1 0 -4.1 -.4M60.8 347.3a2.5 1.4 64 1 0 2.2 4.6 2.5 1.4 64 1 0 -2.2 -4.6M72.3 350a2.5 1.2 38 1 0 3.9 3.2 2.5 1.2 38 1 0 -3.9 -3.2M58.9 337.8a2.9 1.6 90 1 0 -0 5.8 2.9 1.6 90 1 0 0 -5.8M64.8 356a2.2 1.3 169 1 0 -4.3 .8 2.2 1.3 169 1 0 4.3 -.8M74.1 353.3a2.9 1.5 95 1 0 -.6 5.8 2.9 1.5 95 1 0 .6 -5.8"/>
<path fill="#60b232" d="M45.2 363.6a2.1 .9 173 1 0 -4.2 .5 2.1 .9 173 1 0 4.2 -.5M63.7 341.5a2.1 .9 132 1 0 -2.9 3.1 2.1 .9 132 1 0 2.9 -3.1M84.2 338.9a2.6 1.5 148 1 0 -4.3 2.7 2.6 1.5 148 1 0 4.3 -2.7"/>
<path fill="#82ca4a" d="M84.7 341.4a2.3 1.3 169 1 0 -4.5 .9 2.3 1.3 169 1 0 4.5 -.9"/>
<rect x="39.6" y="374.1" width="46.4" height="40.6" rx="4.5" fill="url(#gd)" stroke="#76726b" stroke-width=".9"/>
<rect x="41.8" y="376.4" width="42" height="35.8" rx="2.5" fill="#3e2e1f"/>
<path fill="#5e4832" d="M52.7 384.8a1.3 .6 174 1 0 -2.6 .2 1.3 .6 174 1 0 2.6 -.2M45.5 382.6a1.4 .7 84 1 0 .2 2.7 1.4 .7 84 1 0 -.2 -2.7M55.4 398.3a.8 .8 54 1 0 .9 1.3 .8 .8 54 1 0 -.9 -1.3M57.8 390.4a1.3 .5 83 1 0 .3 2.5 1.3 .5 83 1 0 -.3 -2.5M64.5 387.8a1.3 .5 101 1 0 -.5 2.6 1.3 .5 101 1 0 .5 -2.6M49.3 378a.7 .6 123 1 0 -.7 1.1 .7 .6 123 1 0 .7 -1.1M81.5 406.7a.7 .8 124 1 0 -.7 1.1 .7 .8 124 1 0 .7 -1.1M58.2 379.1a1.4 .6 168 1 0 -2.8 .6 1.4 .6 168 1 0 2.8 -.6M52 383a1.6 1 57 1 0 1.7 2.7 1.6 1 57 1 0 -1.7 -2.7M65.7 394.2a1.5 .7 122 1 0 -1.6 2.6 1.5 .7 122 1 0 1.6 -2.6M77.8 390.6a.8 .5 26 1 0 1.5 .7 .8 .5 26 1 0 -1.5 -.7M48.2 388.1a1 .9 121 1 0 -1.1 1.8 1 .9 121 1 0 1.1 -1.8M54.4 377.2a1.6 .9 78 1 0 .6 3.1 1.6 .9 78 1 0 -.6 -3.1M81.5 407.8a1 .8 49 1 0 1.3 1.5 1 .8 49 1 0 -1.3 -1.5M50.7 403.9a.8 .6 28 1 0 1.5 .8 .8 .6 28 1 0 -1.5 -.8M66.9 407.5a1.5 1 103 1 0 -.7 3 1.5 1 103 1 0 .7 -3M62.4 381.3a.6 .9 128 1 0 -.8 1 .6 .9 128 1 0 .8 -1M59.4 395.3a1.5 1.1 135 1 0 -2.1 2 1.5 1.1 135 1 0 2.1 -2M80.1 387.7a.9 1 84 1 0 .2 1.8 .9 1 84 1 0 -.2 -1.8M51.8 382.1a1 1.1 159 1 0 -1.9 .7 1 1.1 159 1 0 1.9 -.7M73.2 401.6a1.4 .6 94 1 0 -.2 2.7 1.4 .6 94 1 0 .2 -2.7M44.7 406.5a1.2 .9 115 1 0 -1 2.1 1.2 .9 115 1 0 1 -2.1M75.5 400.7a1.6 .9 123 1 0 -1.7 2.6 1.6 .9 123 1 0 1.7 -2.6M58.5 406.4a1.1 .9 1 1 0 2.3 .1 1.1 .9 1 1 0 -2.3 -.1M53 381.6a.7 .6 137 1 0 -1 .9 .7 .6 137 1 0 1 -.9M72.5 396.3a.9 .9 95 1 0 -.2 1.7 .9 .9 95 1 0 .2 -1.7M65.5 385.7a1.5 1.1 99 1 0 -.5 2.9 1.5 1.1 99 1 0 .5 -2.9M71 379.9a1.2 1 21 1 0 2.2 .8 1.2 1 21 1 0 -2.2 -.8M48.5 393.6a.7 .6 76 1 0 .3 1.4 .7 .6 76 1 0 -.3 -1.4M42.4 387.9a.8 1 28 1 0 1.5 .8 .8 1 28 1 0 -1.5 -.8M72.7 407.2a1.5 .7 139 1 0 -2.2 1.9 1.5 .7 139 1 0 2.2 -1.9M72.3 377.4a1 1 157 1 0 -1.9 .8 1 1 157 1 0 1.9 -.8M70.6 392.4a1.4 .6 89 1 0 0 2.8 1.4 .6 89 1 0 -0 -2.8M72.8 397.4a1.5 .7 75 1 0 .7 2.9 1.5 .7 75 1 0 -.7 -2.9"/>
<path fill="#7e6448" d="M66.8 382.7a1.5 .8 119 1 0 -1.5 2.7 1.5 .8 119 1 0 1.5 -2.7M46.8 404a1.3 1 71 1 0 .8 2.4 1.3 1 71 1 0 -.8 -2.4M72.9 389.3a1.1 .8 157 1 0 -2 .8 1.1 .8 157 1 0 2 -.8M54 406.5a1.3 .5 15 1 0 2.5 .7 1.3 .5 15 1 0 -2.5 -.7M42.7 388.5a1.5 1 21 1 0 2.7 1.1 1.5 1 21 1 0 -2.7 -1.1M69.9 402.8a1.4 .6 32 1 0 2.4 1.5 1.4 .6 32 1 0 -2.4 -1.5M73.6 401.9a1 1 25 1 0 1.9 .9 1 1 25 1 0 -1.9 -.9M47.2 399.2a.6 .9 154 1 0 -1.1 .5 .6 .9 154 1 0 1.1 -.5M61.6 395.9a.8 .7 118 1 0 -.8 1.5 .8 .7 118 1 0 .8 -1.5M70.5 388.6a1.1 .6 98 1 0 -.3 2.3 1.1 .6 98 1 0 .3 -2.3M55.4 399.4a.8 .8 81 1 0 .2 1.7 .8 .8 81 1 0 -.2 -1.7M69.3 385a1.6 1 83 1 0 .3 3.1 1.6 1 83 1 0 -.3 -3.1M68.3 381a1.5 .5 124 1 0 -1.7 2.4 1.5 .5 124 1 0 1.7 -2.4M52.7 397.6a1.6 1 61 1 0 1.5 2.8 1.6 1 61 1 0 -1.5 -2.8M71.3 381.7a1 .7 42 1 0 1.5 1.4 1 .7 42 1 0 -1.5 -1.4M70.5 397.1a1.5 .8 6 1 0 3 .4 1.5 .8 6 1 0 -3 -.4M49.2 393.9a1.5 .8 40 1 0 2.3 2 1.5 .8 40 1 0 -2.3 -2M81.5 397.6a1 .6 10 1 0 2 .4 1 .6 10 1 0 -2 -.4M54.9 394.7a.9 .6 130 1 0 -1.2 1.4 .9 .6 130 1 0 1.2 -1.4M71.6 389.8a1.5 .9 176 1 0 -3.1 .2 1.5 .9 176 1 0 3.1 -.2M76.5 378.6a.7 .9 66 1 0 .5 1.3 .7 .9 66 1 0 -.5 -1.3M76.3 378.9a.6 .5 0 1 0 1.3 0 .6 .5 0 1 0 -1.3 -0M48.7 409.5a1.5 .6 123 1 0 -1.7 2.5 1.5 .6 123 1 0 1.7 -2.5M55.3 390.6a1.1 .8 165 1 0 -2.2 .6 1.1 .8 165 1 0 2.2 -.6M71.9 386.9a1.2 .6 169 1 0 -2.4 .4 1.2 .6 169 1 0 2.4 -.4M47.6 395.2a1.1 1 149 1 0 -1.8 1.1 1.1 1 149 1 0 1.8 -1.1M50.3 378.8a1.5 1 128 1 0 -1.8 2.3 1.5 1 128 1 0 1.8 -2.3M61.9 409.5a1.4 1 9 1 0 2.7 .5 1.4 1 9 1 0 -2.7 -.5M74.8 382.6a.7 .7 120 1 0 -.7 1.2 .7 .7 120 1 0 .7 -1.2M66.3 388a1.3 .7 103 1 0 -.6 2.5 1.3 .7 103 1 0 .6 -2.5M56.1 386.7a1.6 .6 164 1 0 -3 .8 1.6 .6 164 1 0 3 -.8M52.6 391.7a.8 .6 74 1 0 .4 1.6 .8 .6 74 1 0 -.4 -1.6M69.5 406.7a.6 .6 23 1 0 1.1 .5 .6 .6 23 1 0 -1.1 -.5M67.3 390.1a1.2 .9 123 1 0 -1.3 2 1.2 .9 123 1 0 1.3 -2M49.8 406.9a1.4 1 31 1 0 2.4 1.5 1.4 1 31 1 0 -2.4 -1.5M45.7 389.4a.8 1 154 1 0 -1.4 .7 .8 1 154 1 0 1.4 -.7"/>
<path fill="#8a6c44" d="M62.4 399.6a2.6 1.2 144 1 0 -4.2 3 2.6 1.2 144 1 0 4.2 -3M47.9 386.7a2.9 1.3 128 1 0 -3.6 4.5 2.9 1.3 128 1 0 3.6 -4.5M45.9 381.8a2.3 .9 93 1 0 -.3 4.7 2.3 .9 93 1 0 .3 -4.7M50.2 382a2.2 1 68 1 0 1.6 4 2.2 1 68 1 0 -1.6 -4M81.4 398.3a3.1 1.6 108 1 0 -2 5.8 3.1 1.6 108 1 0 2 -5.8M73.3 398.1a2.2 .9 145 1 0 -3.7 2.6 2.2 .9 145 1 0 3.7 -2.6M71.2 408a2.3 1.1 113 1 0 -1.8 4.3 2.3 1.1 113 1 0 1.8 -4.3M49.5 378a2.1 1.1 155 1 0 -3.9 1.8 2.1 1.1 155 1 0 3.9 -1.8M55.1 390.9a2.1 .9 95 1 0 -.4 4.1 2.1 .9 95 1 0 .4 -4.1M55.5 375.5a2.5 1.4 66 1 0 2 4.6 2.5 1.4 66 1 0 -2 -4.6M60.4 405.3a2.8 1.2 2 1 0 5.7 .2 2.8 1.2 2 1 0 -5.7 -.2M46.2 406.4a2.8 1.2 116 1 0 -2.5 5 2.8 1.2 116 1 0 2.5 -5M50.7 396.3a2.9 1.6 113 1 0 -2.3 5.4 2.9 1.6 113 1 0 2.3 -5.4M73.1 390.8a2.2 .9 174 1 0 -4.4 .5 2.2 .9 174 1 0 4.4 -.5"/>
<path fill="#b8955c" d="M57.7 386.3a2.9 1.2 173 1 0 -5.8 .7 2.9 1.2 173 1 0 5.8 -.7M69.1 376.6a2.2 .9 50 1 0 2.8 3.4 2.2 .9 50 1 0 -2.8 -3.4M81.2 375.7a2.9 1.2 59 1 0 2.9 5 2.9 1.2 59 1 0 -2.9 -5M52 394.8a2.8 1.5 172 1 0 -5.5 .7 2.8 1.5 172 1 0 5.5 -.7M73.1 401.3a3.1 1.7 10 1 0 6.2 1.1 3.1 1.7 10 1 0 -6.2 -1.1M44 385.8a2.3 .9 113 1 0 -1.8 4.3 2.3 .9 113 1 0 1.8 -4.3M57.1 406.1a1.6 .9 11 1 0 3.1 .6 1.6 .9 11 1 0 -3.1 -.6M74.6 386.6a2.1 1 109 1 0 -1.4 3.9 2.1 1 109 1 0 1.4 -3.9M82.5 386.4a2.6 1.2 133 1 0 -3.5 3.7 2.6 1.2 133 1 0 3.5 -3.7M82 381.7a2.2 1.1 124 1 0 -2.5 3.6 2.2 1.1 124 1 0 2.5 -3.6M46.6 379.6a1.7 .8 129 1 0 -2.2 2.7 1.7 .8 129 1 0 2.2 -2.7M49 393a1.5 .6 47 1 0 2.1 2.3 1.5 .6 47 1 0 -2.1 -2.3M49.2 407.3a2.5 1.1 101 1 0 -1 4.9 2.5 1.1 101 1 0 1 -4.9M81.1 397.9a3.1 1.2 172 1 0 -6.2 .8 3.1 1.2 172 1 0 6.2 -.8M51.3 380a2.2 1.1 53 1 0 2.6 3.5 2.2 1.1 53 1 0 -2.6 -3.5M58.2 380.8a2.1 1 117 1 0 -2 3.8 2.1 1 117 1 0 2 -3.8M71.5 406a2.6 1.4 111 1 0 -1.9 4.9 2.6 1.4 111 1 0 1.9 -4.9M54.1 398.4a2.5 1 160 1 0 -4.7 1.7 2.5 1 160 1 0 4.7 -1.7M48.8 390.8a3.2 1.3 45 1 0 4.4 4.5 3.2 1.3 45 1 0 -4.4 -4.5M71.5 385.2a2.1 .9 173 1 0 -4.1 .5 2.1 .9 173 1 0 4.1 -.5M61.5 387.6a2.1 1 41 1 0 3.1 2.7 2.1 1 41 1 0 -3.1 -2.7M48.8 406.8a3 1.5 79 1 0 1.1 5.8 3 1.5 79 1 0 -1.1 -5.8M77.3 377.9a2 1.1 140 1 0 -3.1 2.6 2 1.1 140 1 0 3.1 -2.6M57.8 389.6a2.9 1.7 13 1 0 5.7 1.3 2.9 1.7 13 1 0 -5.7 -1.3M78.2 386a3.1 1.5 155 1 0 -5.6 2.5 3.1 1.5 155 1 0 5.6 -2.5"/>
<path fill="#d4b47a" d="M63.8 401.1a2.4 1.3 40 1 0 3.6 3.1 2.4 1.3 40 1 0 -3.6 -3.1M44.1 382.5a2.4 1 104 1 0 -1.2 4.6 2.4 1 104 1 0 1.2 -4.6M57.7 390.2a1.9 .9 139 1 0 -2.9 2.5 1.9 .9 139 1 0 2.9 -2.5M47.5 400.9a2.5 1.3 50 1 0 3.3 3.9 2.5 1.3 50 1 0 -3.3 -3.9M46.6 382.1a2.7 1.6 159 1 0 -5.1 2 2.7 1.6 159 1 0 5.1 -2M60.6 393.3a2.6 1.5 121 1 0 -2.8 4.5 2.6 1.5 121 1 0 2.8 -4.5M52.7 394.8a1.7 .6 81 1 0 .5 3.4 1.7 .6 81 1 0 -.5 -3.4M69.4 397.8a2.4 .9 148 1 0 -4.2 2.5 2.4 .9 148 1 0 4.2 -2.5M60.9 394.9a1.7 .8 50 1 0 2.2 2.6 1.7 .8 50 1 0 -2.2 -2.6M55.7 391.2a1.9 1 167 1 0 -3.6 .8 1.9 1 167 1 0 3.6 -.8M49.7 386.6a3.1 1.4 178 1 0 -6.2 .2 3.1 1.4 178 1 0 6.2 -.2M59.7 390.7a3.2 1.8 49 1 0 4.1 4.8 3.2 1.8 49 1 0 -4.1 -4.8M57.9 399.3a2.7 1.1 33 1 0 4.5 3 2.7 1.1 33 1 0 -4.5 -3M54.1 401.9a2.2 1.1 112 1 0 -1.7 4.1 2.2 1.1 112 1 0 1.7 -4.1M65.2 379.7a2.7 1.2 125 1 0 -3.2 4.5 2.7 1.2 125 1 0 3.2 -4.5M61.1 390.8a2.7 1.2 78 1 0 1.1 5.4 2.7 1.2 78 1 0 -1.1 -5.4M66.6 408.5a2.1 1 112 1 0 -1.6 3.8 2.1 1 112 1 0 1.6 -3.8M58.7 398.1a2.6 1.4 39 1 0 4 3.3 2.6 1.4 39 1 0 -4 -3.3M75.4 397.2a3 1.5 132 1 0 -4 4.4 3 1.5 132 1 0 4 -4.4M74.6 402.8a3 1.8 158 1 0 -5.6 2.3 3 1.8 158 1 0 5.6 -2.3M39.8 401.2a2.2 1.1 9 1 0 4.4 .8 2.2 1.1 9 1 0 -4.4 -.8M61.1 380.7a2.9 1.6 23 1 0 5.4 2.4 2.9 1.6 23 1 0 -5.4 -2.4M57.1 384a2.5 1.5 40 1 0 3.9 3.3 2.5 1.5 40 1 0 -3.9 -3.3M68 394.5a3.2 1.7 57 1 0 3.5 5.3 3.2 1.7 57 1 0 -3.5 -5.3M65.2 398.8a2.9 1.3 96 1 0 -.6 5.7 2.9 1.3 96 1 0 .6 -5.7"/>
<path fill="#e4cf9e" d="M57.3 395.1a1.6 .9 84 1 0 .3 3.2 1.6 .9 84 1 0 -.3 -3.2M61.2 385.9a2.5 1.4 25 1 0 4.5 2.2 2.5 1.4 25 1 0 -4.5 -2.2M48.2 409.6a1.6 .8 27 1 0 2.9 1.5 1.6 .8 27 1 0 -2.9 -1.5M63.4 407.2a2.1 1.2 172 1 0 -4.1 .5 2.1 1.2 172 1 0 4.1 -.5M75.8 395.2a3 1.6 92 1 0 -.3 5.9 3 1.6 92 1 0 .3 -5.9M75.6 405.9a1.9 .8 9 1 0 3.8 .6 1.9 .8 9 1 0 -3.8 -.6M76.4 405.3a2.5 1.4 152 1 0 -4.5 2.4 2.5 1.4 152 1 0 4.5 -2.4M48.8 376.8a3.1 1.7 111 1 0 -2.3 5.9 3.1 1.7 111 1 0 2.3 -5.9M67.7 394.9a1.8 1 32 1 0 3.1 2 1.8 1 32 1 0 -3.1 -2M64.2 391.8a3.1 1.7 45 1 0 4.4 4.5 3.1 1.7 45 1 0 -4.4 -4.5M72.9 376a2.7 1.6 76 1 0 1.3 5.2 2.7 1.6 76 1 0 -1.3 -5.2M70.1 384.5a1.8 .6 50 1 0 2.3 2.8 1.8 .6 50 1 0 -2.3 -2.8M72 395.1a2.7 1.5 169 1 0 -5.2 1 2.7 1.5 169 1 0 5.2 -1M72.2 384a3 1.4 145 1 0 -4.9 3.4 3 1.4 145 1 0 4.9 -3.4M66.5 400a1.7 1 106 1 0 -1 3.3 1.7 1 106 1 0 1 -3.3M49.9 381.5a2.5 1.4 154 1 0 -4.4 2.1 2.5 1.4 154 1 0 4.4 -2.1M65 388.4a3.2 1.3 93 1 0 -.4 6.3 3.2 1.3 93 1 0 .4 -6.3M57.4 374.6a2.7 1.5 98 1 0 -.9 5.4 2.7 1.5 98 1 0 .9 -5.4M79.3 394.9a3.2 1.6 135 1 0 -4.6 4.4 3.2 1.6 135 1 0 4.6 -4.4M57.2 401.3a2.1 1.2 66 1 0 1.7 3.8 2.1 1.2 66 1 0 -1.7 -3.8M58 389.9a2.5 1.4 124 1 0 -2.8 4.2 2.5 1.4 124 1 0 2.8 -4.2M59.3 386.6a2.4 1.2 177 1 0 -4.7 .2 2.4 1.2 177 1 0 4.7 -.2M74.8 406.5a2.1 1 7 1 0 4.1 .6 2.1 1 7 1 0 -4.1 -.6M62.7 386.9a2.4 1.1 159 1 0 -4.4 1.7 2.4 1.1 159 1 0 4.4 -1.7M67.5 375.4a3.2 1.4 78 1 0 1.3 6.3 3.2 1.4 78 1 0 -1.3 -6.3M61.2 396a2.3 1.1 136 1 0 -3.4 3.2 2.3 1.1 136 1 0 3.4 -3.2"/>
<path stroke="#357320" stroke-width=".75" fill="none" d="M55.6 385.8L60.7 382.5M55.6 385.8L53.5 387.3M55.6 385.8L52.2 385.9M73.8 400.3L72.8 401.4M73.8 400.3L71 400.1M73.8 400.3L72 394.4M73.8 400.3L73.7 397.4M73.8 400.3L77.2 400.2M55.7 397.9L56.8 395M55.7 397.9L56.9 397.5M55.7 397.9L51 400.8M55.7 397.9L51.3 396.9M60.3 386.5L55.8 386.1M60.3 386.5L59.8 383.5M60.3 386.5L62.3 386.5M67.8 405.5L68.7 407.8M48 402.7L45.5 403.9M48 402.7L54.7 399.8M69.4 384.4L69.5 382.7M69.4 384.4L76.1 386.7M69.4 384.4L71.6 387.4M69.4 384.4L68.5 388.8M66 391.5L67.4 387.6"/>
<path fill="#245c16" d="M68.5 388.8a2.3 1.3 101 1 0 -.9 4.5 2.3 1.3 101 1 0 .9 -4.5"/>
<path fill="#367c1f" d="M58.6 398a2.2 1.2 156 1 0 -4 1.7 2.2 1.2 156 1 0 4 -1.7"/>
<path fill="#4a9828" d="M64.1 380.2a2.1 1.1 146 1 0 -3.4 2.3 2.1 1.1 146 1 0 3.4 -2.3M70.4 389.2a2.7 1.5 72 1 0 1.6 5.2 2.7 1.5 72 1 0 -1.6 -5.2M46.3 395.9a2.5 1.3 12 1 0 5 1.1 2.5 1.3 12 1 0 -5 -1.1M51.5 385.8a2.1 1 4 1 0 4.3 .4 2.1 1 4 1 0 -4.3 -.4"/>
<path fill="#60b232" d="M51 400.8a2.3 1.1 148 1 0 -4 2.5 2.3 1.1 148 1 0 4 -2.5M76.1 386.7a2.6 1.3 19 1 0 4.9 1.7 2.6 1.3 19 1 0 -4.9 -1.7M68.8 383.4a2.2 1.3 109 1 0 -1.5 4.2 2.2 1.3 109 1 0 1.5 -4.2"/>
<path fill="#367c1f" d="M53.5 387.3a2.1 .9 144 1 0 -3.4 2.4 2.1 .9 144 1 0 3.4 -2.4M58.9 378a2.8 1.5 80 1 0 .9 5.6 2.8 1.5 80 1 0 -.9 -5.6M68.7 407.8a2.7 1.4 68 1 0 2 5 2.7 1.4 68 1 0 -2 -5M45.5 403.9a2.4 1 153 1 0 -4.3 2.2 2.4 1 153 1 0 4.3 -2.2M71.6 387.4a2.7 1.3 53 1 0 3.1 4.3 2.7 1.3 53 1 0 -3.1 -4.3"/>
<path fill="#4a9828" d="M72.8 401.4a3.1 1.7 132 1 0 -4.2 4.6 3.1 1.7 132 1 0 4.2 -4.6M73.4 392.5a2.4 1.3 87 1 0 .2 4.8 2.4 1.3 87 1 0 -.2 -4.8M82.6 400a2.7 1.1 178 1 0 -5.4 .2 2.7 1.1 178 1 0 5.4 -.2M58.5 390.2a2.5 1.2 109 1 0 -1.7 4.8 2.5 1.2 109 1 0 1.7 -4.8M62.3 395.6a2.9 1.2 160 1 0 -5.4 1.9 2.9 1.2 160 1 0 5.4 -1.9M68 386.3a2.9 1.2 178 1 0 -5.7 .1 2.9 1.2 178 1 0 5.7 -.1"/>
<path fill="#82ca4a" d="M52.2 385.9a3.1 1.4 178 1 0 -6.1 .1 3.1 1.4 178 1 0 6.1 -.1M66.3 399.9a2.3 .9 2 1 0 4.7 .2 2.3 .9 2 1 0 -4.7 -.2M69.7 378.6a2 .9 93 1 0 -.3 4.1 2 .9 93 1 0 .3 -4.1"/>
<rect x="89.7" y="329" width="48.5" height="87.2" fill="#1f1d1a"/>
<rect x="91.3" y="330.5" width="45.3" height="40.6" rx="4.5" fill="url(#gd)" stroke="#76726b" stroke-width=".9"/>
<rect x="93.5" y="332.8" width="40.9" height="35.8" rx="2.5" fill="#3e2e1f"/>
<path fill="#5e4832" d="M116.4 335.8a.9 .5 146 1 0 -1.5 1 .9 .5 146 1 0 1.5 -1M121.3 342.9a1.1 1.1 167 1 0 -2.2 .5 1.1 1.1 167 1 0 2.2 -.5M109.7 340.2a1.5 .8 59 1 0 1.5 2.5 1.5 .8 59 1 0 -1.5 -2.5M104.8 337.8a.8 .8 81 1 0 .2 1.6 .8 .8 81 1 0 -.2 -1.6M118.9 350.6a.6 1.1 76 1 0 .3 1.3 .6 1.1 76 1 0 -.3 -1.3M127 343.9a1.6 .8 30 1 0 2.7 1.6 1.6 .8 30 1 0 -2.7 -1.6M130.5 364.6a1.6 .6 23 1 0 2.9 1.2 1.6 .6 23 1 0 -2.9 -1.2M95.7 336.3a1.2 .5 8 1 0 2.3 .3 1.2 .5 8 1 0 -2.3 -.3M102 333.5a.7 .6 60 1 0 .7 1.3 .7 .6 60 1 0 -.7 -1.3M127.5 355.7a.7 .7 82 1 0 .2 1.3 .7 .7 82 1 0 -.2 -1.3M122.5 343.1a1 .6 32 1 0 1.7 1.1 1 .6 32 1 0 -1.7 -1.1M98.1 339.6a.7 .9 8 1 0 1.5 .2 .7 .9 8 1 0 -1.5 -.2M123.1 357.5a1.1 .9 169 1 0 -2.1 .4 1.1 .9 169 1 0 2.1 -.4M118.9 338a.8 .6 146 1 0 -1.3 .8 .8 .6 146 1 0 1.3 -.8M132.8 352.4a.9 .8 155 1 0 -1.7 .7 .9 .8 155 1 0 1.7 -.7M118.9 365.7a.7 .8 164 1 0 -1.3 .3 .7 .8 164 1 0 1.3 -.3M116.7 336.3a.8 .7 85 1 0 .1 1.7 .8 .7 85 1 0 -.1 -1.7M110.3 348.2a1.1 1.1 157 1 0 -2 .8 1.1 1.1 157 1 0 2 -.8M96.3 336.8a1 1 6 1 0 1.9 .2 1 1 6 1 0 -1.9 -.2M106.7 362.7a1.1 1 137 1 0 -1.6 1.5 1.1 1 137 1 0 1.6 -1.5M110 343.1a.9 1.1 104 1 0 -.5 1.8 .9 1.1 104 1 0 .5 -1.8M110.8 365.1a.8 .8 20 1 0 1.6 .6 .8 .8 20 1 0 -1.6 -.6M131.7 333.6a.6 .6 156 1 0 -1.2 .5 .6 .6 156 1 0 1.2 -.5M127.3 365.2a1 .7 124 1 0 -1.1 1.6 1 .7 124 1 0 1.1 -1.6M118.2 339a.8 .5 17 1 0 1.4 .4 .8 .5 17 1 0 -1.4 -.4M113.1 344.8a1.2 1.1 111 1 0 -.9 2.2 1.2 1.1 111 1 0 .9 -2.2M132.9 355.3a1.2 .8 176 1 0 -2.4 .1 1.2 .8 176 1 0 2.4 -.1M125.5 356.6a1 1 97 1 0 -.3 2.1 1 1 97 1 0 .3 -2.1M117.6 336.1a.7 .5 131 1 0 -.9 1 .7 .5 131 1 0 .9 -1M111.1 340.7a.7 .9 173 1 0 -1.4 .1 .7 .9 173 1 0 1.4 -.1M102 333.6a.7 .6 136 1 0 -1 1 .7 .6 136 1 0 1 -1M110.4 344.6a1.4 .7 160 1 0 -2.6 .9 1.4 .7 160 1 0 2.6 -.9M120.2 337.6a1.1 .6 173 1 0 -2.1 .2 1.1 .6 173 1 0 2.1 -.2M130.3 349.1a1.1 1.1 80 1 0 .4 2.2 1.1 1.1 80 1 0 -.4 -2.2M123.9 348.4a.9 .8 123 1 0 -1 1.5 .9 .8 123 1 0 1 -1.5M109.2 339.8a1.5 1 76 1 0 .7 3 1.5 1 76 1 0 -.7 -3M123.1 347.7a.7 .9 1 1 0 1.4 0 .7 .9 1 1 0 -1.4 -0M102.9 358.8a1.2 .7 110 1 0 -.8 2.2 1.2 .7 110 1 0 .8 -2.2M126.6 346.2a.6 .9 91 1 0 -0 1.2 .6 .9 91 1 0 0 -1.2M97.1 362.2a1.1 .7 27 1 0 1.9 1 1.1 .7 27 1 0 -1.9 -1M109.6 348.9a1.3 1 103 1 0 -.6 2.5 1.3 1 103 1 0 .6 -2.5M122.5 337.4a.6 1.1 169 1 0 -1.2 .2 .6 1.1 169 1 0 1.2 -.2"/>
<path fill="#7e6448" d="M130.3 346.3a.8 .8 49 1 0 1.1 1.3 .8 .8 49 1 0 -1.1 -1.3M130.3 337.8a1.1 .8 106 1 0 -.6 2.2 1.1 .8 106 1 0 .6 -2.2M123.4 348.4a1.6 1 34 1 0 2.6 1.8 1.6 1 34 1 0 -2.6 -1.8M99.4 338.5a1.6 1 0 1 0 3.1 0 1.6 1 0 1 0 -3.1 -0M99.6 362.5a1.2 .9 52 1 0 1.4 1.8 1.2 .9 52 1 0 -1.4 -1.8M111.4 351.1a1.2 .6 48 1 0 1.6 1.9 1.2 .6 48 1 0 -1.6 -1.9M133.7 350.1a1.5 1 112 1 0 -1.2 2.8 1.5 1 112 1 0 1.2 -2.8M127.4 335.9a1.5 .6 90 1 0 -0 3 1.5 .6 90 1 0 0 -3M103.9 347.4a.8 .8 113 1 0 -.6 1.5 .8 .8 113 1 0 .6 -1.5M129.2 366a1 .7 163 1 0 -1.9 .6 1 .7 163 1 0 1.9 -.6M126.7 360.2a1.6 .6 33 1 0 2.6 1.7 1.6 .6 33 1 0 -2.6 -1.7M123.3 342.2a1.2 .9 47 1 0 1.6 1.7 1.2 .9 47 1 0 -1.6 -1.7M114 362.4a1.5 .8 4 1 0 3 .2 1.5 .8 4 1 0 -3 -.2M121.5 364.7a1.4 .6 104 1 0 -.7 2.8 1.4 .6 104 1 0 .7 -2.8M126.7 336.1a1 .7 89 1 0 0 2 1 .7 89 1 0 -0 -2M107.1 341.3a1.2 .8 95 1 0 -.2 2.4 1.2 .8 95 1 0 .2 -2.4M99.8 359.9a.7 1.1 8 1 0 1.3 .2 .7 1.1 8 1 0 -1.3 -.2M112.8 338a.9 1.1 11 1 0 1.8 .4 .9 1.1 11 1 0 -1.8 -.4M119.3 349a.6 .6 168 1 0 -1.2 .2 .6 .6 168 1 0 1.2 -.2M124.2 362.8a1.6 .8 20 1 0 2.9 1.1 1.6 .8 20 1 0 -2.9 -1.1M99 333.4a1.1 1 126 1 0 -1.3 1.7 1.1 1 126 1 0 1.3 -1.7M122.6 342.3a.7 1 154 1 0 -1.3 .6 .7 1 154 1 0 1.3 -.6M128.7 338.5a1 .9 34 1 0 1.6 1.1 1 .9 34 1 0 -1.6 -1.1M133.7 365.9a1.1 .8 153 1 0 -2 1 1.1 .8 153 1 0 2 -1M99.7 364.7a1.1 1 100 1 0 -.4 2.2 1.1 1 100 1 0 .4 -2.2M114.6 333.3a1.1 .8 104 1 0 -.5 2.1 1.1 .8 104 1 0 .5 -2.1M124.8 357.4a1.6 .7 175 1 0 -3.2 .2 1.6 .7 175 1 0 3.2 -.2M111.1 340.6a1.4 .6 42 1 0 2 1.8 1.4 .6 42 1 0 -2 -1.8"/>
<path fill="#8a6c44" d="M127.7 346.8a2 .9 132 1 0 -2.7 2.9 2 .9 132 1 0 2.7 -2.9"/>
<path fill="#b8955c" d="M126.5 355.1a2.1 1.1 108 1 0 -1.3 3.9 2.1 1.1 108 1 0 1.3 -3.9"/>
<path fill="#d4b47a" d="M134.5 362.1a3.1 1.1 111 1 0 -2.2 5.7 3.1 1.1 111 1 0 2.2 -5.7M130.8 345.3a3.9 2.1 146 1 0 -6.5 4.3 3.9 2.1 146 1 0 6.5 -4.3"/>
<path fill="#e4cf9e" d="M131.9 337.9a2.2 .8 83 1 0 .5 4.3 2.2 .8 83 1 0 -.5 -4.3"/>
<path stroke="#357320" stroke-width=".75" fill="none" d="M119.7 352.7L112 350.8M119.7 352.7L112.1 350.4M119.7 352.7L116.7 348.7M119.7 352.7L122 344.1M119.7 352.7L123.6 353.4M119.7 352.7L122.6 354.6M119.7 352.7L123.4 359.2M119.7 352.7L119.4 355.8M119.7 352.7L114.2 355.8M100 339.5L102.8 348.1M100 339.5L96.6 344.1M100 339.5L97.4 341.7M100 339.5L96.6 338.5M100 339.5L97.6 336.8M100 339.5L99.4 338.1M100 339.5L99.8 336.8M100 339.5L101.9 337.4M100 339.5L104.8 337.4M100 339.5L103.6 342.1M100 339.5L105.1 347.6M124 359.5L121.8 352.9M124 359.5L129.2 351.7M124 359.5L127.6 357.7M124 359.5L130.2 357.4M124 359.5L127.3 362.8M124 359.5L126.5 364.6M124 359.5L124.3 362.1M124 359.5L122.5 362.3M124 359.5L119.6 360.5M124 359.5L118.5 359.6M124 359.5L117.7 354.1M115.1 356.1L118.7 356.6M115.1 356.1L116.2 357.2M115.1 356.1L118.2 363.5M115.1 356.1L112.6 358.8M115.1 356.1L105.9 355.7M115.1 356.1L109.2 351.2M115.1 356.1L112.6 347.5M115.1 356.1L119.5 350.8M115.1 351.6L118.2 354.4M115.1 351.6L115.3 355.7M115.1 351.6L109.5 359.7M115.1 351.6L108.9 354.9M115.1 351.6L112 349.8M115.1 351.6L113.4 349.3M115.1 351.6L114.9 349.3M115.1 351.6L116.1 349.6M115.1 351.6L119.7 351.8M119.8 339.1L120.3 337.1M119.8 339.1L120.2 337.7M119.8 339.1L121.5 337.8M119.8 339.1L127.8 341.8M119.8 339.1L125.2 344.5M119.8 339.1L121.4 344.1M119.8 339.1L117.4 342.5M119.8 339.1L115.7 343.9M119.8 339.1L112.4 340M119.8 339.1L116.1 337.1M119.8 339.1L118.5 336.5M105.6 360.9L112 356.9M105.6 360.9L111.6 365.4M105.6 360.9L105.8 363.6M105.6 360.9L103.7 364.1M105.6 360.9L103.7 361.1M105.6 360.9L104.3 359.7M105.6 360.9L105.4 359.2M105.6 360.9L111.6 353.5M117 342.5L112 345M117 342.5L107.9 341M117 342.5L111.8 338.8M117 342.5L119.2 337.7M117 342.5L122.5 337.1M117 342.5L119.1 342.7M117 342.5L119.2 344.7M117 342.5L116.3 350.5M106.2 347.3L108.7 345.6M106.2 347.3L109.9 348.1M106.2 347.3L112.4 350.1M106.2 347.3L107.9 351.1M106.2 347.3L99.7 354.5M106.2 347.3L99.2 348.2M106.2 347.3L103.7 346.6M106.2 347.3L104.6 344.8M106.2 347.3L106.8 345.7"/>
<path fill="#245c16" d="M110.7 341.2a3.3 2.1 73 1 0 1.8 6.3 3.3 2.1 73 1 0 -1.8 -6.3"/>
<path fill="#367c1f" d="M111.5 341.5a4.4 2.6 53 1 0 5.2 7.1 4.4 2.6 53 1 0 -5.2 -7.1M123.4 359.2a3.6 2.1 60 1 0 3.6 6.2 3.6 2.1 60 1 0 -3.6 -6.2M138.5 354.7a4.3 3 161 1 0 -8.3 2.7 4.3 3 161 1 0 8.3 -2.7M118.5 359.6a4.3 2.6 178 1 0 -8.6 .2 4.3 2.6 178 1 0 8.6 -.2M103.2 346.2a3.9 2.6 39 1 0 6.1 5 3.9 2.6 39 1 0 -6.1 -5M125.2 344.5a3.5 2.5 44 1 0 5 4.9 3.5 2.5 44 1 0 -5 -4.9M99.7 354.5a4.3 2.2 132 1 0 -5.7 6.3 4.3 2.2 132 1 0 5.7 -6.3"/>
<path fill="#4a9828" d="M106.2 349.4a3 1.9 13 1 0 5.8 1.4 3 1.9 13 1 0 -5.8 -1.4M105.8 348.5a3.3 2 16 1 0 6.3 1.9 3.3 2 16 1 0 -6.3 -1.9M114.2 355.8a4.3 2.8 150 1 0 -7.6 4.3 4.3 2.8 150 1 0 7.6 -4.3M105.1 347.6a3.3 1.7 57 1 0 3.6 5.6 3.3 1.7 57 1 0 -3.6 -5.6M118.2 363.5a3.9 2.4 67 1 0 3 7.2 3.9 2.4 67 1 0 -3 -7.2M108.9 354.9a3.7 2.5 151 1 0 -6.6 3.5 3.7 2.5 151 1 0 6.6 -3.5M121.4 344.1a4.4 2.7 72 1 0 2.6 8.3 4.4 2.7 72 1 0 -2.6 -8.3M118.8 352.6a4 2.5 147 1 0 -6.8 4.3 4 2.5 147 1 0 6.8 -4.3M111.6 365.4a3 1.9 37 1 0 4.8 3.6 3 1.9 37 1 0 -4.8 -3.6"/>
<path fill="#60b232" d="M102.8 348.1a4 2.1 71 1 0 2.5 7.5 4 2.1 71 1 0 -2.5 -7.5M96.6 344.1a3 1.9 126 1 0 -3.6 4.7 3 1.9 126 1 0 3.6 -4.7M119.2 344.9a4.2 2.5 72 1 0 2.6 8 4.2 2.5 72 1 0 -2.6 -8M133.2 345.8a3.5 2 124 1 0 -4 5.9 3.5 2 124 1 0 4 -5.9M126.5 364.6a3.2 1.8 63 1 0 2.8 5.6 3.2 1.8 63 1 0 -2.8 -5.6M123.3 346.4a2.9 2 130 1 0 -3.8 4.5 2.9 2 130 1 0 3.8 -4.5M109.5 359.7a3.3 2.2 124 1 0 -3.7 5.4 3.3 2.2 124 1 0 3.7 -5.4M127.8 341.8a4.3 2.4 19 1 0 8.1 2.8 4.3 2.4 19 1 0 -8.1 -2.8M112.4 340a4 2.4 173 1 0 -8 1 4 2.4 173 1 0 8 -1M116.6 347.4a4 2.7 129 1 0 -5 6.1 4 2.7 129 1 0 5 -6.1M112 345a2.9 1.6 153 1 0 -5.2 2.6 2.9 1.6 153 1 0 5.2 -2.6M122.5 330.6a3.9 2.6 114 1 0 -3.3 7.1 3.9 2.6 114 1 0 3.3 -7.1M127.8 331.8a3.7 2.5 135 1 0 -5.3 5.3 3.7 2.5 135 1 0 5.3 -5.3M112.4 350.1a3 1.8 23 1 0 5.5 2.4 3 1.8 23 1 0 -5.5 -2.4M99.2 348.2a3.3 2.2 173 1 0 -6.5 .8 3.3 2.2 173 1 0 6.5 -.8"/>
<path fill="#82ca4a" d="M124.3 335.4a4.5 2.9 104 1 0 -2.3 8.7 4.5 2.9 104 1 0 2.3 -8.7M112 334.2a3.9 2.2 155 1 0 -7.2 3.2 3.9 2.2 155 1 0 7.2 -3.2M112.3 349.5a3.6 2.1 40 1 0 5.4 4.7 3.6 2.1 40 1 0 -5.4 -4.7M99.1 355.5a3.4 1.8 2 1 0 6.9 .3 3.4 1.8 2 1 0 -6.9 -.3M115.7 343.9a4.3 2.9 130 1 0 -5.5 6.5 4.3 2.9 130 1 0 5.5 -6.5M100 339.7a4 2.8 9 1 0 7.9 1.3 4 2.8 9 1 0 -7.9 -1.3M104.6 333.6a4.4 2.6 35 1 0 7.2 5.1 4.4 2.6 35 1 0 -7.2 -5.1M116.3 350.5a3.6 1.8 95 1 0 -.6 7.1 3.6 1.8 95 1 0 .6 -7.1"/>
<path fill="#245c16" d="M134.3 354.5a3.8 2.2 154 1 0 -6.8 3.3 3.8 2.2 154 1 0 6.8 -3.3M114.5 343.2a3.1 1.9 86 1 0 .4 6.1 3.1 1.9 86 1 0 -.4 -6.1M95.9 344.2a4.1 2.2 17 1 0 7.9 2.4 4.1 2.2 17 1 0 -7.9 -2.4"/>
<path fill="#367c1f" d="M106.5 332.3a3.5 2.3 131 1 0 -4.6 5.2 3.5 2.3 131 1 0 4.6 -5.2M116.2 357.2a4.2 2.8 45 1 0 5.9 6 4.2 2.8 45 1 0 -5.9 -6M109.9 348.1a4.1 2.6 12 1 0 8 1.7 4.1 2.6 12 1 0 -8 -1.7M101.5 339.9a2.9 1.6 57 1 0 3.1 4.9 2.9 1.6 57 1 0 -3.1 -4.9"/>
<path fill="#4a9828" d="M90.8 336.7a3 1.5 17 1 0 5.7 1.8 3 1.5 17 1 0 -5.7 -1.8M91.8 330.3a4.4 2.6 48 1 0 5.8 6.6 4.4 2.6 48 1 0 -5.8 -6.6M103.6 342.1a3.1 2.1 35 1 0 5 3.6 3.1 2.1 35 1 0 -5 -3.6M127.3 362.8a4.4 2.4 44 1 0 6.4 6.2 4.4 2.4 44 1 0 -6.4 -6.2M124.3 362.1a3.6 2.1 83 1 0 .8 7.1 3.6 2.1 83 1 0 -.8 -7.1M119.6 360.5a3.4 2.2 166 1 0 -6.6 1.6 3.4 2.2 166 1 0 6.6 -1.6M118.7 356.6a3.4 2.4 9 1 0 6.8 1.1 3.4 2.4 9 1 0 -6.8 -1.1M112.6 358.8a3 1.9 132 1 0 -4.1 4.5 3 1.9 132 1 0 4.1 -4.5M115.3 355.7a4.2 2.6 86 1 0 .5 8.3 4.2 2.6 86 1 0 -.5 -8.3M104.9 345.5a4.2 2.4 30 1 0 7.1 4.2 4.2 2.4 30 1 0 -7.1 -4.2M109 343.6a3.6 2.5 52 1 0 4.4 5.7 3.6 2.5 52 1 0 -4.4 -5.7M119.7 342.3a4.1 2.4 116 1 0 -3.7 7.3 4.1 2.4 116 1 0 3.7 -7.3M122.6 329.6a3.9 2.3 106 1 0 -2.2 7.5 3.9 2.3 106 1 0 2.2 -7.5M127.2 333.8a3.5 1.9 144 1 0 -5.7 4 3.5 1.9 144 1 0 5.7 -4M108.7 333.1a4.2 2.4 28 1 0 7.3 3.9 4.2 2.4 28 1 0 -7.3 -3.9M115.3 330.4a3.4 1.8 62 1 0 3.1 6.1 3.4 1.8 62 1 0 -3.1 -6.1M105.8 361.9a4.2 2.8 85 1 0 .6 8.4 4.2 2.8 85 1 0 -.6 -8.4M103.7 363.4a3.6 1.9 120 1 0 -3.7 6.1 3.6 1.9 120 1 0 3.7 -6.1M98 354a4.3 2.4 41 1 0 6.4 5.7 4.3 2.4 41 1 0 -6.4 -5.7M104.4 352.3a3.5 2.4 82 1 0 1 6.9 3.5 2.4 82 1 0 -1 -6.9M119.1 342.7a3.8 2.2 6 1 0 7.5 .8 3.8 2.2 6 1 0 -7.5 -.8M119.2 344.7a4.2 2.6 45 1 0 5.9 6 4.2 2.6 45 1 0 -5.9 -6M113.6 342.1a3 1.7 144 1 0 -4.9 3.5 3 1.7 144 1 0 4.9 -3.5"/>
<path fill="#60b232" d="M123.6 353.4a4.2 2.3 9 1 0 8.2 1.4 4.2 2.3 9 1 0 -8.2 -1.4M99.5 331.4a3.5 2 86 1 0 .4 6.9 3.5 2 86 1 0 -.4 -6.9M118.2 354.4a3.4 2 42 1 0 5 4.7 3.4 2 42 1 0 -5 -4.7M119.7 351.8a2.9 1.9 3 1 0 5.8 .3 2.9 1.9 3 1 0 -5.8 -.3M123.3 331.3a4.4 2.3 109 1 0 -3 8.4 4.4 2.3 109 1 0 3 -8.4M117.4 342.5a2.9 1.5 124 1 0 -3.4 4.8 2.9 1.5 124 1 0 3.4 -4.8M107.9 351.1a4.1 2 65 1 0 3.3 7.4 4.1 2 65 1 0 -3.3 -7.4M109.4 338.6a3.8 2.6 110 1 0 -2.6 7.1 3.8 2.6 110 1 0 2.6 -7.1"/>
<path fill="#82ca4a" d="M122.6 354.6a4.2 2.7 32 1 0 7.2 4.5 4.2 2.7 32 1 0 -7.2 -4.5M119.4 355.8a4.4 2.4 95 1 0 -.9 8.8 4.4 2.4 95 1 0 .9 -8.8M98.9 341.7a3.9 2.6 140 1 0 -6 5 3.9 2.6 140 1 0 6 -5M96.7 331.4a3.6 2 67 1 0 2.7 6.7 3.6 2 67 1 0 -2.7 -6.7M122.5 362.3a4.1 2.5 116 1 0 -3.7 7.4 4.1 2.5 116 1 0 3.7 -7.4M103.7 361.1a3.3 1.9 175 1 0 -6.7 .5 3.3 1.9 175 1 0 6.7 -.5"/>
<rect x="91.3" y="374.1" width="45.3" height="40.6" rx="4.5" fill="url(#gd)" stroke="#76726b" stroke-width=".9"/>
<rect x="93.5" y="376.4" width="40.9" height="35.8" rx="2.5" fill="#3e2e1f"/>
<path fill="#5e4832" d="M100.9 383.1a.8 .9 74 1 0 .4 1.6 .8 .9 74 1 0 -.4 -1.6M108.8 385.6a1.3 1 63 1 0 1.2 2.3 1.3 1 63 1 0 -1.2 -2.3M127.8 402.7a.7 .8 38 1 0 1.1 .9 .7 .8 38 1 0 -1.1 -.9M111.2 400.5a1.6 .8 173 1 0 -3.1 .3 1.6 .8 173 1 0 3.1 -.3M104.1 378.8a1 1 13 1 0 1.9 .4 1 1 13 1 0 -1.9 -.4M118.3 406a1.3 .9 137 1 0 -1.9 1.8 1.3 .9 137 1 0 1.9 -1.8M112.7 410a.8 .6 46 1 0 1.1 1.2 .8 .6 46 1 0 -1.1 -1.2M99 407.8a1.4 1 84 1 0 .3 2.9 1.4 1 84 1 0 -.3 -2.9M96.5 388.8a.8 .9 103 1 0 -.4 1.6 .8 .9 103 1 0 .4 -1.6M116 387.3a.9 .8 69 1 0 .6 1.6 .9 .8 69 1 0 -.6 -1.6M120.8 409.3a1.2 .6 149 1 0 -2.1 1.2 1.2 .6 149 1 0 2.1 -1.2M114.5 397.4a.7 1 2 1 0 1.4 .1 .7 1 2 1 0 -1.4 -.1M115.3 397.5a.7 .7 15 1 0 1.3 .4 .7 .7 15 1 0 -1.3 -.4M112.4 407.2a.9 .7 13 1 0 1.7 .4 .9 .7 13 1 0 -1.7 -.4M125 385a1.3 .9 161 1 0 -2.6 .9 1.3 .9 161 1 0 2.6 -.9M96.3 392.3a1.5 .6 144 1 0 -2.4 1.7 1.5 .6 144 1 0 2.4 -1.7M113.3 392.1a1.5 .6 171 1 0 -3 .4 1.5 .6 171 1 0 3 -.4M117.4 402.5a1.1 .8 149 1 0 -1.8 1.1 1.1 .8 149 1 0 1.8 -1.1M130 397.7a1 .8 112 1 0 -.8 1.9 1 .8 112 1 0 .8 -1.9M106.5 396.9a1.1 1.1 74 1 0 .6 2.2 1.1 1.1 74 1 0 -.6 -2.2M105 376.5a1.3 1 119 1 0 -1.3 2.2 1.3 1 119 1 0 1.3 -2.2M102.9 377.9a.7 .5 113 1 0 -.5 1.2 .7 .5 113 1 0 .5 -1.2M99.7 384.1a1.2 .6 3 1 0 2.4 .1 1.2 .6 3 1 0 -2.4 -.1M118 399.2a.8 1 125 1 0 -1 1.4 .8 1 125 1 0 1 -1.4M125.4 384.8a1.3 .8 105 1 0 -.7 2.4 1.3 .8 105 1 0 .7 -2.4M107.8 384a1.6 .7 21 1 0 2.9 1.2 1.6 .7 21 1 0 -2.9 -1.2M95 404.3a1.2 1.1 21 1 0 2.3 .9 1.2 1.1 21 1 0 -2.3 -.9M109.8 379.6a1.2 .8 85 1 0 .2 2.4 1.2 .8 85 1 0 -.2 -2.4M126.1 388.3a1 .9 171 1 0 -2 .3 1 .9 171 1 0 2 -.3M124.9 376.7a1.2 1.1 116 1 0 -1.1 2.1 1.2 1.1 116 1 0 1.1 -2.1M127.7 382.8a.9 .6 129 1 0 -1.1 1.4 .9 .6 129 1 0 1.1 -1.4M114.2 385.1a1.4 .5 3 1 0 2.9 .2 1.4 .5 3 1 0 -2.9 -.2M129 406.4a1 1 111 1 0 -.7 1.8 1 1 111 1 0 .7 -1.8M97 391a1.3 .9 151 1 0 -2.4 1.3 1.3 .9 151 1 0 2.4 -1.3M99.2 381.8a1.2 .7 10 1 0 2.4 .4 1.2 .7 10 1 0 -2.4 -.4M129 386.5a1.3 .9 122 1 0 -1.4 2.1 1.3 .9 122 1 0 1.4 -2.1M123.8 380.5a.6 1 30 1 0 1.1 .6 .6 1 30 1 0 -1.1 -.6M110.1 388.5a1.5 .6 4 1 0 3.1 .2 1.5 .6 4 1 0 -3.1 -.2"/>
<path fill="#7e6448" d="M127.1 383.6a1.1 .7 111 1 0 -.8 2 1.1 .7 111 1 0 .8 -2M125.5 387.2a.8 .8 73 1 0 .5 1.6 .8 .8 73 1 0 -.5 -1.6M104 409a.6 .5 112 1 0 -.5 1.1 .6 .5 112 1 0 .5 -1.1M131.3 406.1a1.3 .8 88 1 0 .1 2.7 1.3 .8 88 1 0 -.1 -2.7M128.8 380.2a1.3 .6 138 1 0 -2 1.7 1.3 .6 138 1 0 2 -1.7M102.1 410a1.1 .9 175 1 0 -2.1 .2 1.1 .9 175 1 0 2.1 -.2M109.9 383.3a1.5 .6 137 1 0 -2.2 2 1.5 .6 137 1 0 2.2 -2M132.3 380.4a1.4 .6 104 1 0 -.7 2.6 1.4 .6 104 1 0 .7 -2.6M95.5 383.9a1 1 22 1 0 1.9 .8 1 1 22 1 0 -1.9 -.8M101.4 392.6a1.3 1 61 1 0 1.3 2.3 1.3 1 61 1 0 -1.3 -2.3M95.1 382.2a1.2 .9 103 1 0 -.6 2.4 1.2 .9 103 1 0 .6 -2.4M94.7 386a.8 .8 52 1 0 1 1.3 .8 .8 52 1 0 -1 -1.3M114.2 402a1.5 1 72 1 0 .9 2.8 1.5 1 72 1 0 -.9 -2.8M121.5 407.8a1 1 140 1 0 -1.6 1.3 1 1 140 1 0 1.6 -1.3M99 385a1.3 .7 53 1 0 1.5 2.1 1.3 .7 53 1 0 -1.5 -2.1M100.5 392.7a1.1 .7 91 1 0 -.1 2.2 1.1 .7 91 1 0 .1 -2.2M129.4 383.4a.8 .9 6 1 0 1.7 .2 .8 .9 6 1 0 -1.7 -.2M95.9 383.7a.8 .9 55 1 0 .9 1.4 .8 .9 55 1 0 -.9 -1.4M127.5 406.9a.8 .5 82 1 0 .2 1.6 .8 .5 82 1 0 -.2 -1.6M106.3 377.8a1.4 1 163 1 0 -2.7 .8 1.4 1 163 1 0 2.7 -.8M116.3 393.9a1 1 51 1 0 1.2 1.5 1 1 51 1 0 -1.2 -1.5M131.1 396.8a1.5 .9 91 1 0 -.1 2.9 1.5 .9 91 1 0 .1 -2.9M95.9 397.9a1.1 .8 29 1 0 1.9 1.1 1.1 .8 29 1 0 -1.9 -1.1M116.6 383.3a.8 .7 52 1 0 1 1.3 .8 .7 52 1 0 -1 -1.3M127 386.9a1.6 .7 151 1 0 -2.8 1.5 1.6 .7 151 1 0 2.8 -1.5M99.4 397.5a1.2 .6 128 1 0 -1.5 1.9 1.2 .6 128 1 0 1.5 -1.9M119.1 399.6a1.3 .5 94 1 0 -.2 2.6 1.3 .5 94 1 0 .2 -2.6M112.5 389.8a1.1 .7 179 1 0 -2.1 0 1.1 .7 179 1 0 2.1 -0M115.4 388.4a.8 .6 86 1 0 .1 1.6 .8 .6 86 1 0 -.1 -1.6M114.1 410.2a.7 .9 137 1 0 -1 1 .7 .9 137 1 0 1 -1M104.8 380.6a.6 .8 6 1 0 1.2 .1 .6 .8 6 1 0 -1.2 -.1M100.1 379.3a.6 .6 95 1 0 -.1 1.3 .6 .6 95 1 0 .1 -1.3"/>
<path fill="#8a6c44" d="M119.1 385.4a3.9 2.6 174 1 0 -7.7 .8 3.9 2.6 174 1 0 7.7 -.8"/>
<path fill="#b8955c" d="M121.3 378.3a2.1 .9 164 1 0 -4 1.2 2.1 .9 164 1 0 4 -1.2M100.6 385.8a2.3 1.3 112 1 0 -1.8 4.3 2.3 1.3 112 1 0 1.8 -4.3"/>
<path fill="#d4b47a" d="M128.1 396.3a2.6 1.5 65 1 0 2.1 4.7 2.6 1.5 65 1 0 -2.1 -4.7M110.5 399.6a2.1 1.1 106 1 0 -1.2 4.1 2.1 1.1 106 1 0 1.2 -4.1"/>
<path stroke="#357320" stroke-width=".75" fill="none" d="M99.1 401L98.8 391.2M99.1 401L104.6 393.5M99.1 401L102.4 398.5M99.1 401L108.3 401.8M99.1 401L100.1 402.5M99.1 401L100.2 404.3M99.1 401L96.6 403.5M99.1 401L96.7 401.8M99.1 401L96.6 400.1M99.1 401L97.6 399.9M126.5 384.7L122.1 380.2M126.5 384.7L125.3 380.4M126.5 384.7L128.3 382.8M126.5 384.7L129.1 384.6M126.5 384.7L130.9 388.4M126.5 384.7L125.7 392.5M126.5 384.7L125.2 388M125.1 399.2L123.7 400.7M125.1 399.2L117.6 399M125.1 399.2L123 397.8M125.1 399.2L123.4 396M125.1 399.2L126.6 396.1M125.1 399.2L128.6 397.2M125.1 399.2L128.9 398.8M125.1 399.2L128.4 401.1M125.1 399.2L129 404.7M125.1 399.2L122.9 407.5M118.8 391.3L126.4 392.6M118.8 391.3L122.8 397.8M118.8 391.3L117.5 394.8M118.8 391.3L113.1 399.1M118.8 391.3L114.1 392.4M118.8 391.3L110.2 386.2M118.8 391.3L115.5 382.2M118.8 391.3L121.6 384.6M118.8 391.3L119.5 389.9M118.8 391.3L127.5 386.5M99.4 394.4L97.4 392.7M99.4 394.4L98.1 388.5M99.4 394.4L100.2 392.2M99.4 394.4L104.6 392.7M99.4 394.4L106.2 398.1M99.4 394.4L100.5 395.9M99.4 394.4L98.9 396.7M99.4 394.4L97.3 394.6M121.1 398.5L122.8 395.1M121.1 398.5L124.9 397.4M121.1 398.5L122.7 400.7M121.1 398.5L124 407.5M121.1 398.5L114.9 405.6M121.1 398.5L118 398.3M121.1 398.5L119.8 397.7M121.1 398.5L118.5 390.3M109.7 387.3L109.3 383.9M109.7 387.3L111.1 386M109.7 387.3L114.7 386.4M109.7 387.3L115.8 394.1M109.7 387.3L111.8 396.1M109.7 387.3L107 390.7M109.7 387.3L106.4 386.7M109.7 387.3L107.8 383.8M109.6 404.7L105.2 405.5M109.6 404.7L105.7 404.7M109.6 404.7L106.4 402.5M109.6 404.7L108.5 402.4M109.6 404.7L110.6 401.1M109.6 404.7L113.1 400M109.6 404.7L115.6 406M109.6 404.7L111 405.6M109.6 404.7L110.2 408.1M109.6 404.7L109.7 407.6M109.6 404.7L107.4 407.7M98.6 381.9L96.1 384.3M98.6 381.9L95.3 382M98.6 381.9L96.6 380.7M98.6 381.9L97.2 379.5M98.6 381.9L98.5 380.6M98.6 381.9L100.5 380M98.6 381.9L105.1 381.4M98.6 381.9L102.9 382.5M98.6 381.9L99.6 383.6M98.6 381.9L99 387.8"/>
<path fill="#245c16" d="M129 404.7a4.3 3 54 1 0 5 7.1 4.3 3 54 1 0 -5 -7.1M126.4 392.6a4.2 2.3 9 1 0 8.4 1.5 4.2 2.3 9 1 0 -8.4 -1.5M113.1 399.1a4.1 2.2 125 1 0 -4.8 6.6 4.1 2.2 125 1 0 4.8 -6.6M111.6 390.5a3.6 2 162 1 0 -6.9 2.2 3.6 2 162 1 0 6.9 -2.2M121.5 385.2a3.4 2 169 1 0 -6.8 1.2 3.4 2 169 1 0 6.8 -1.2"/>
<path fill="#367c1f" d="M109.9 386.3a4.4 2.6 126 1 0 -5.2 7.2 4.4 2.6 126 1 0 5.2 -7.2M108.3 401.8a2.9 1.9 4 1 0 5.8 .5 2.9 1.9 4 1 0 -5.8 -.5M125.7 392.5a2.9 1.9 95 1 0 -.6 5.9 2.9 1.9 95 1 0 .6 -5.9M110.4 398.7a3.6 2.2 1 1 0 7.3 .2 3.6 2.2 1 1 0 -7.3 -.2M114.9 405.6a4 2.2 131 1 0 -5.2 6 4 2.2 131 1 0 5.2 -6M115.6 406a3.3 2.1 12 1 0 6.5 1.5 3.3 2.1 12 1 0 -6.5 -1.5"/>
<path fill="#4a9828" d="M117 374.9a3.7 2.5 45 1 0 5.1 5.3 3.7 2.5 45 1 0 -5.1 -5.3M130.9 388.4a3.4 2 39 1 0 5.2 4.4 3.4 2 39 1 0 -5.2 -4.4M122.9 407.5a3.3 1.7 105 1 0 -1.7 6.3 3.3 1.7 105 1 0 1.7 -6.3M122.8 397.8a3.6 2.3 58 1 0 3.8 6.2 3.6 2.3 58 1 0 -3.8 -6.2M113.3 376.1a3.2 1.9 70 1 0 2.2 6.1 3.2 1.9 70 1 0 -2.2 -6.1M125.1 376.4a4.4 2.7 113 1 0 -3.5 8.2 4.4 2.7 113 1 0 3.5 -8.2M115.8 394.1a3.2 2.1 48 1 0 4.2 4.7 3.2 2.1 48 1 0 -4.2 -4.7"/>
<path fill="#60b232" d="M103 382a4.2 2.4 30 1 0 7.2 4.3 4.2 2.4 30 1 0 -7.2 -4.3M96.6 381.8a3.5 2 77 1 0 1.5 6.8 3.5 2 77 1 0 -1.5 -6.8M106.2 398.1a4.2 2.5 28 1 0 7.4 4 4.2 2.5 28 1 0 -7.4 -4M124 407.5a3.2 1.7 72 1 0 2 6.2 3.2 1.7 72 1 0 -2 -6.2M115.8 381.8a4.5 3 72 1 0 2.7 8.5 4.5 3 72 1 0 -2.7 -8.5M99 387.8a3.5 1.9 85 1 0 .6 6.9 3.5 1.9 85 1 0 -.6 -6.9"/>
<path fill="#82ca4a" d="M98.6 383.4a3.9 2.6 88 1 0 .3 7.8 3.9 2.6 88 1 0 -.3 -7.8M133.7 383a3.6 2.5 151 1 0 -6.2 3.4 3.6 2.5 151 1 0 6.2 -3.4M111.8 396.1a4 2.1 76 1 0 1.8 7.9 4 2.1 76 1 0 -1.8 -7.9M116.7 395.1a3 1.8 126 1 0 -3.6 4.9 3 1.8 126 1 0 3.6 -4.9M111.9 380.9a3.4 2.1 175 1 0 -6.8 .5 3.4 2.1 175 1 0 6.8 -.5"/>
<path fill="#245c16" d="M120.7 390.9a2.9 1.7 61 1 0 2.7 5.1 2.9 1.7 61 1 0 -2.7 -5.1M103.7 376.6a4.1 2.3 60 1 0 4 7.2 4.1 2.3 60 1 0 -4 -7.2M100.5 382a4.4 2.9 179 1 0 -8.8 .1 4.4 2.9 179 1 0 8.8 -.1"/>
<path fill="#367c1f" d="M125.2 388a3.1 1.8 111 1 0 -2.2 5.7 3.1 1.8 111 1 0 2.2 -5.7M123.7 400.7a4.2 2.4 135 1 0 -6 5.9 4.2 2.4 135 1 0 6 -5.9M110.2 406.4a3.6 2.4 79 1 0 1.4 7.2 3.6 2.4 79 1 0 -1.4 -7.2"/>
<path fill="#4a9828" d="M109.2 393.4a4.3 2.8 143 1 0 -6.9 5.2 4.3 2.8 143 1 0 6.9 -5.2M100.2 404.3a4.2 2.4 72 1 0 2.5 8 4.2 2.4 72 1 0 -2.5 -8M97.8 403.5a3.3 1.7 135 1 0 -4.6 4.6 3.3 1.7 135 1 0 4.6 -4.6M130.5 388a4.5 2.9 115 1 0 -3.9 8.1 4.5 2.9 115 1 0 3.9 -8.1M123.3 383.2a3.9 2.7 119 1 0 -3.8 6.8 3.9 2.7 119 1 0 3.8 -6.8M100.5 395.9a3 1.6 52 1 0 3.7 4.8 3 1.6 52 1 0 -3.7 -4.8M98.8 394.6a3.3 2 173 1 0 -6.6 .8 3.3 2 173 1 0 6.6 -.8M125.4 389.7a3 2.1 116 1 0 -2.6 5.4 3 2.1 116 1 0 2.6 -5.4M133.1 395a4.3 2.6 163 1 0 -8.2 2.4 4.3 2.6 163 1 0 8.2 -2.4M122.7 400.7a3 1.6 54 1 0 3.5 4.8 3 1.6 54 1 0 -3.5 -4.8M112.2 393.7a4.3 2.7 28 1 0 7.6 4.1 4.3 2.7 28 1 0 -7.6 -4.1M115.4 381.8a3 2 136 1 0 -4.3 4.1 3 2 136 1 0 4.3 -4.1M105.8 396.8a3.1 2.1 64 1 0 2.7 5.6 3.1 2.1 64 1 0 -2.7 -5.6M96.1 384.3a4.4 3 136 1 0 -6.4 6.1 4.4 3 136 1 0 6.4 -6.1M105.2 376a3.3 1.8 134 1 0 -4.7 4.7 3.3 1.8 134 1 0 4.7 -4.7M99.6 383.6a3.7 2.3 57 1 0 4 6.2 3.7 2.3 57 1 0 -4 -6.2"/>
<path fill="#60b232" d="M100.1 402.5a3.9 2.3 58 1 0 4.1 6.6 3.9 2.3 58 1 0 -4.1 -6.6M88.7 397.6a4.1 2.7 18 1 0 7.8 2.6 4.1 2.7 18 1 0 -7.8 -2.6M123.5 374.1a3.2 1.9 73 1 0 1.8 6.2 3.2 1.9 73 1 0 -1.8 -6.2M132.5 378.4a3.1 1.6 133 1 0 -4.2 4.4 3.1 1.6 133 1 0 4.2 -4.4M136 397.9a4.1 2.8 173 1 0 -8.1 .9 4.1 2.8 173 1 0 8.1 -.9M128.4 401.1a2.9 2 30 1 0 5.1 2.9 2.9 2 30 1 0 -5.1 -2.9M98.9 396.7a3 1.6 102 1 0 -1.3 5.8 3 1.6 102 1 0 1.3 -5.8M110.1 397.7a4 2 3 1 0 7.9 .5 4 2 3 1 0 -7.9 -.5M107 390.7a3.7 2.5 128 1 0 -4.6 5.7 3.7 2.5 128 1 0 4.6 -5.7M100.4 385.5a3.1 1.9 11 1 0 6.1 1.2 3.1 1.9 11 1 0 -6.1 -1.2M101.4 399a3.1 1.9 34 1 0 5 3.5 3.1 1.9 34 1 0 -5 -3.5M111 405.6a4.1 2.3 31 1 0 6.9 4.3 4.1 2.3 31 1 0 -6.9 -4.3M98.1 375a3.6 2 86 1 0 .4 7.1 3.6 2 86 1 0 -.4 -7.1M102.9 382.5a3.6 2 6 1 0 7.1 .8 3.6 2 6 1 0 -7.1 -.8"/>
<path fill="#82ca4a" d="M100.1 401.8a4.3 2.2 160 1 0 -8 2.8 4.3 2.2 160 1 0 8 -2.8M92.6 395.5a3.9 2.4 34 1 0 6.5 4.4 3.9 2.4 34 1 0 -6.5 -4.4M138.1 384.5a4.5 2.9 179 1 0 -9 .1 4.5 2.9 179 1 0 9 -.1M116.4 393.5a4 2.6 33 1 0 6.6 4.4 4 2.6 33 1 0 -6.6 -4.4M134.8 393.5a3.6 2.3 149 1 0 -6.3 3.7 3.6 2.3 149 1 0 6.3 -3.7M117.5 394.8a4.3 3 108 1 0 -2.8 8.2 4.3 3 108 1 0 2.8 -8.2M114.1 392.4a3.8 2.5 166 1 0 -7.4 1.8 3.8 2.5 166 1 0 7.4 -1.8M92.9 387.8a3.8 2.4 41 1 0 5.7 4.9 3.8 2.4 41 1 0 -5.7 -4.9M103.3 384.5a4.1 2.8 111 1 0 -3.1 7.7 4.1 2.8 111 1 0 3.1 -7.7M108.5 376.8a3.6 2.2 83 1 0 .8 7.1 3.6 2.2 83 1 0 -.8 -7.1M105.2 405.5a3.8 2.1 169 1 0 -7.5 1.5 3.8 2.1 169 1 0 7.5 -1.5M99.1 404.7a3.3 2.3 0 1 0 6.6 0 3.3 2.3 0 1 0 -6.6 -0M112.7 393.9a3.7 2 106 1 0 -2.1 7.1 3.7 2 106 1 0 2.1 -7.1M109.7 407.6a4.2 2.3 88 1 0 .2 8.3 4.2 2.3 88 1 0 -.2 -8.3M107.4 407.7a4.3 2.6 126 1 0 -5.1 6.9 4.3 2.6 126 1 0 5.1 -6.9M92.5 376.6a4.1 2.2 32 1 0 6.9 4.5 4.1 2.2 32 1 0 -6.9 -4.5M94 375.2a4.4 2.3 61 1 0 4.2 7.7 4.4 2.3 61 1 0 -4.2 -7.7"/>
<rect x="140.4" y="329" width="47.4" height="87.2" fill="#1f1d1a"/>
<rect x="142" y="330.5" width="44.2" height="40.6" rx="4.5" fill="url(#gd)" stroke="#76726b" stroke-width=".9"/>
<rect x="144.2" y="332.8" width="39.8" height="35.8" rx="2.5" fill="#3e2e1f"/>
<path fill="#5e4832" d="M149.2 360a.9 .7 133 1 0 -1.2 1.2 .9 .7 133 1 0 1.2 -1.2M180.2 357.2a.7 .7 39 1 0 1.1 .9 .7 .7 39 1 0 -1.1 -.9M164.7 350.3a.8 1 126 1 0 -1 1.3 .8 1 126 1 0 1 -1.3M149.3 362.3a1 1 123 1 0 -1.1 1.6 1 1 123 1 0 1.1 -1.6M160.3 346.4a1.4 .9 15 1 0 2.8 .8 1.4 .9 15 1 0 -2.8 -.8M145.1 345.3a1.4 .9 25 1 0 2.5 1.2 1.4 .9 25 1 0 -2.5 -1.2M160.6 352.6a.9 .9 50 1 0 1.1 1.3 .9 .9 50 1 0 -1.1 -1.3M184.1 346.2a1.4 .7 162 1 0 -2.7 .9 1.4 .7 162 1 0 2.7 -.9M166.9 351.6a.9 .8 147 1 0 -1.6 1 .9 .8 147 1 0 1.6 -1M149.3 365.9a1 .9 109 1 0 -.7 1.9 1 .9 109 1 0 .7 -1.9M178.6 366.4a.7 1 27 1 0 1.3 .6 .7 1 27 1 0 -1.3 -.6M168.6 358.3a.8 .9 113 1 0 -.6 1.4 .8 .9 113 1 0 .6 -1.4M160.4 339.2a1 .9 54 1 0 1.2 1.7 1 .9 54 1 0 -1.2 -1.7M145.8 348a1.3 .9 90 1 0 -0 2.7 1.3 .9 90 1 0 0 -2.7M147 356.2a1.4 1 25 1 0 2.5 1.2 1.4 1 25 1 0 -2.5 -1.2M155.5 352.6a.8 .9 9 1 0 1.5 .3 .8 .9 9 1 0 -1.5 -.3M153 360.7a1 .5 50 1 0 1.3 1.5 1 .5 50 1 0 -1.3 -1.5M159.1 360.6a.9 .9 54 1 0 1 1.4 .9 .9 54 1 0 -1 -1.4M176.4 344.2a1 .8 116 1 0 -.9 1.8 1 .8 116 1 0 .9 -1.8M173.8 338.3a1.5 .8 0 1 0 3 0 1.5 .8 0 1 0 -3 -0M164.5 366.2a1.4 1 25 1 0 2.5 1.2 1.4 1 25 1 0 -2.5 -1.2M179.5 334.2a1.3 .7 136 1 0 -1.9 1.8 1.3 .7 136 1 0 1.9 -1.8M162.6 352.6a1.3 1 175 1 0 -2.6 .2 1.3 1 175 1 0 2.6 -.2M158.9 366.9a1.3 .9 9 1 0 2.6 .5 1.3 .9 9 1 0 -2.6 -.5M155.1 357.4a1 .9 39 1 0 1.6 1.3 1 .9 39 1 0 -1.6 -1.3M165.6 334.6a.7 .8 71 1 0 .4 1.3 .7 .8 71 1 0 -.4 -1.3M165.5 366.5a1.3 .6 140 1 0 -2.1 1.7 1.3 .6 140 1 0 2.1 -1.7M157.9 358.5a1.3 1 133 1 0 -1.8 1.9 1.3 1 133 1 0 1.8 -1.9M147.3 334.7a1 .8 80 1 0 .3 2 1 .8 80 1 0 -.3 -2M155.8 347.7a.9 1 102 1 0 -.4 1.8 .9 1 102 1 0 .4 -1.8M148.8 341.1a1 .9 14 1 0 2 .5 1 .9 14 1 0 -2 -.5M168.9 342.1a.7 .9 44 1 0 1 .9 .7 .9 44 1 0 -1 -.9M162.6 349.4a.7 .6 98 1 0 -.2 1.4 .7 .6 98 1 0 .2 -1.4M157 352.7a.9 .8 111 1 0 -.7 1.7 .9 .8 111 1 0 .7 -1.7M158.9 345a.9 .8 61 1 0 .9 1.6 .9 .8 61 1 0 -.9 -1.6M153.2 355.8a1.2 .6 109 1 0 -.8 2.2 1.2 .6 109 1 0 .8 -2.2M160.9 365.7a.9 .9 82 1 0 .2 1.7 .9 .9 82 1 0 -.2 -1.7M169.2 366.4a.7 .6 134 1 0 -1 1 .7 .6 134 1 0 1 -1M147.6 358.9a.8 1 99 1 0 -.2 1.5 .8 1 99 1 0 .2 -1.5M165.4 347.4a1.6 .5 54 1 0 1.9 2.6 1.6 .5 54 1 0 -1.9 -2.6M158.8 348.2a1.4 1 58 1 0 1.4 2.3 1.4 1 58 1 0 -1.4 -2.3M171.3 350.1a1.5 .6 98 1 0 -.4 2.9 1.5 .6 98 1 0 .4 -2.9M181.1 360.4a.7 .5 124 1 0 -.8 1.1 .7 .5 124 1 0 .8 -1.1M156.6 348.8a.6 .5 57 1 0 .7 1 .6 .5 57 1 0 -.7 -1M148 358.7a1.6 .7 131 1 0 -2.1 2.3 1.6 .7 131 1 0 2.1 -2.3M160.1 333.6a1.2 .7 12 1 0 2.3 .5 1.2 .7 12 1 0 -2.3 -.5M146.7 350.4a1.3 1.1 99 1 0 -.4 2.6 1.3 1.1 99 1 0 .4 -2.6"/>
<path fill="#7e6448" d="M165.9 339.9a1.2 .9 169 1 0 -2.4 .5 1.2 .9 169 1 0 2.4 -.5M150.5 362a.7 .9 42 1 0 1 .9 .7 .9 42 1 0 -1 -.9M159.1 340.5a.8 1 99 1 0 -.3 1.6 .8 1 99 1 0 .3 -1.6M155.6 337.6a1.3 1 147 1 0 -2.2 1.4 1.3 1 147 1 0 2.2 -1.4M155.4 351.4a.8 .7 77 1 0 .4 1.6 .8 .7 77 1 0 -.4 -1.6M175.4 357.8a.6 .8 178 1 0 -1.2 0 .6 .8 178 1 0 1.2 -0M165.1 354a.8 1.1 65 1 0 .6 1.4 .8 1.1 65 1 0 -.6 -1.4M174.3 340a1.3 .6 86 1 0 .2 2.5 1.3 .6 86 1 0 -.2 -2.5M163.8 348.5a.7 1 168 1 0 -1.4 .3 .7 1 168 1 0 1.4 -.3M181.5 362.3a.9 .9 87 1 0 .1 1.8 .9 .9 87 1 0 -.1 -1.8M164.4 345.8a1.3 1 130 1 0 -1.7 2 1.3 1 130 1 0 1.7 -2M158.2 364.1a.9 1 114 1 0 -.8 1.7 .9 1 114 1 0 .8 -1.7M171.7 362.9a1.4 .9 81 1 0 .4 2.8 1.4 .9 81 1 0 -.4 -2.8M152.6 359.7a1.5 1.1 82 1 0 .4 3 1.5 1.1 82 1 0 -.4 -3M178.7 334.4a.9 .7 170 1 0 -1.8 .3 .9 .7 170 1 0 1.8 -.3M149.1 352.5a.6 .8 94 1 0 -.1 1.3 .6 .8 94 1 0 .1 -1.3M182.7 342.5a1 1 168 1 0 -2 .4 1 1 168 1 0 2 -.4M172.5 346.1a1.6 1.1 46 1 0 2.2 2.3 1.6 1.1 46 1 0 -2.2 -2.3M170.2 333.5a.7 1.1 40 1 0 1 .9 .7 1.1 40 1 0 -1 -.9M168.8 350.3a1.3 .5 133 1 0 -1.8 1.9 1.3 .5 133 1 0 1.8 -1.9M149.3 343a.7 .8 66 1 0 .6 1.3 .7 .8 66 1 0 -.6 -1.3M168.4 360.5a.6 1 143 1 0 -1 .8 .6 1 143 1 0 1 -.8M181.5 362.8a1.6 .6 97 1 0 -.4 3.1 1.6 .6 97 1 0 .4 -3.1"/>
<path fill="#8a6c44" d="M172 339.1a2.6 1.1 179 1 0 -5.3 0 2.6 1.1 179 1 0 5.3 -0M150.7 347.1a1.6 .7 93 1 0 -.2 3.2 1.6 .7 93 1 0 .2 -3.2M153.9 354.2a1.9 .9 125 1 0 -2.2 3.1 1.9 .9 125 1 0 2.2 -3.1M166.5 353.7a2.3 1 33 1 0 3.9 2.6 2.3 1 33 1 0 -3.9 -2.6M178.9 355.2a3.2 1.4 4 1 0 6.3 .5 3.2 1.4 4 1 0 -6.3 -.5M155.5 360a3.3 1.3 140 1 0 -5 4.1 3.3 1.3 140 1 0 5 -4.1M151.7 351.4a2.9 1.5 28 1 0 5.1 2.7 2.9 1.5 28 1 0 -5.1 -2.7M173.2 354.1a3 1.6 171 1 0 -6 .9 3 1.6 171 1 0 6 -.9M165 348.9a3.2 1.5 20 1 0 5.9 2.2 3.2 1.5 20 1 0 -5.9 -2.2M161.6 352.6a2.8 1.4 63 1 0 2.5 5.1 2.8 1.4 63 1 0 -2.5 -5.1M166.3 341.9a2.7 1.1 171 1 0 -5.3 .8 2.7 1.1 171 1 0 5.3 -.8"/>
<path fill="#b8955c" d="M174 332.1a3.1 1.6 49 1 0 4 4.7 3.1 1.6 49 1 0 -4 -4.7M154.5 344.8a1.7 .6 134 1 0 -2.3 2.4 1.7 .6 134 1 0 2.3 -2.4M171.8 334.1a2.2 1 149 1 0 -3.9 2.3 2.2 1 149 1 0 3.9 -2.3M149.7 341.3a2.4 1 126 1 0 -2.9 3.8 2.4 1 126 1 0 2.9 -3.8M163.3 359.1a2.4 1.1 46 1 0 3.2 3.4 2.4 1.1 46 1 0 -3.2 -3.4M153.4 345a2.1 1.2 170 1 0 -4.2 .7 2.1 1.2 170 1 0 4.2 -.7M160.4 346a2.5 1.4 98 1 0 -.8 5 2.5 1.4 98 1 0 .8 -5M180.6 356.6a2.5 1.3 48 1 0 3.3 3.7 2.5 1.3 48 1 0 -3.3 -3.7M185.6 345.7a2.2 .9 145 1 0 -3.6 2.5 2.2 .9 145 1 0 3.6 -2.5M158.2 352.1a3.1 1.6 93 1 0 -.4 6.2 3.1 1.6 93 1 0 .4 -6.2M156.1 348.2a2.6 1.3 61 1 0 2.4 4.5 2.6 1.3 61 1 0 -2.4 -4.5M150.5 365.4a3 1.7 140 1 0 -4.6 3.8 3 1.7 140 1 0 4.6 -3.8"/>
<path fill="#d4b47a" d="M147.5 338.2a2.8 1.1 74 1 0 1.5 5.4 2.8 1.1 74 1 0 -1.5 -5.4M179.2 346.2a1.6 .6 156 1 0 -2.9 1.3 1.6 .6 156 1 0 2.9 -1.3M156 338.6a2.8 1.3 45 1 0 4 4.1 2.8 1.3 45 1 0 -4 -4.1M161.9 332.6a2.6 1.3 112 1 0 -1.9 4.8 2.6 1.3 112 1 0 1.9 -4.8M170.7 348.1a2.6 1.1 167 1 0 -5.1 1.1 2.6 1.1 167 1 0 5.1 -1.1M142.7 351.3a3.2 1.7 2 1 0 6.3 .3 3.2 1.7 2 1 0 -6.3 -.3M161.2 340.7a3.1 1.6 16 1 0 5.9 1.8 3.1 1.6 16 1 0 -5.9 -1.8M180 343.4a2.4 1 96 1 0 -.5 4.8 2.4 1 96 1 0 .5 -4.8M177.9 357.3a3.1 1.5 109 1 0 -2 5.9 3.1 1.5 109 1 0 2 -5.9M164.2 356a2.8 1.6 47 1 0 3.7 4.1 2.8 1.6 47 1 0 -3.7 -4.1M171 349.7a2.9 1.3 149 1 0 -4.9 2.9 2.9 1.3 149 1 0 4.9 -2.9M165.8 345.6a2.9 1.3 20 1 0 5.5 2.1 2.9 1.3 20 1 0 -5.5 -2.1M181.4 342.6a2.6 1.3 117 1 0 -2.4 4.6 2.6 1.3 117 1 0 2.4 -4.6M165.6 339.9a3.3 1.5 136 1 0 -4.8 4.5 3.3 1.5 136 1 0 4.8 -4.5M150.8 346.2a3 1.2 140 1 0 -4.7 3.8 3 1.2 140 1 0 4.7 -3.8M153 335.1a3.2 1.4 85 1 0 .5 6.4 3.2 1.4 85 1 0 -.5 -6.4M174 340.3a2.6 1.1 175 1 0 -5.3 .4 2.6 1.1 175 1 0 5.3 -.4"/>
<path fill="#e4cf9e" d="M175.5 338.3a2.1 1.1 30 1 0 3.6 2.1 2.1 1.1 30 1 0 -3.6 -2.1M148 341.8a2.8 1.6 31 1 0 4.8 2.9 2.8 1.6 31 1 0 -4.8 -2.9M167.8 350.4a2.2 .9 4 1 0 4.3 .3 2.2 .9 4 1 0 -4.3 -.3M154.7 351.7a2.4 1.2 125 1 0 -2.8 3.9 2.4 1.2 125 1 0 2.8 -3.9M160.8 332.3a1.7 .6 87 1 0 .2 3.4 1.7 .6 87 1 0 -.2 -3.4M164.3 334.8a2 .9 97 1 0 -.5 4 2 .9 97 1 0 .5 -4M173.1 342.3a2.4 1 168 1 0 -4.7 1 2.4 1 168 1 0 4.7 -1M178.5 339.8a2 1.1 5 1 0 3.9 .4 2 1.1 5 1 0 -3.9 -.4M149.2 363.2a2.8 1.2 94 1 0 -.4 5.7 2.8 1.2 94 1 0 .4 -5.7M160.3 338.5a1.8 1 164 1 0 -3.4 .9 1.8 1 164 1 0 3.4 -.9M168.2 347.5a3.2 1.6 35 1 0 5.3 3.8 3.2 1.6 35 1 0 -5.3 -3.8M184.5 348.5a2.5 1.4 131 1 0 -3.3 3.7 2.5 1.4 131 1 0 3.3 -3.7M184.7 350.4a3.1 1.7 147 1 0 -5.2 3.3 3.1 1.7 147 1 0 5.2 -3.3M158.3 353.2a2.5 1.5 131 1 0 -3.4 3.7 2.5 1.5 131 1 0 3.4 -3.7M156.5 351.7a2.2 1 175 1 0 -4.4 .4 2.2 1 175 1 0 4.4 -.4M167 342.5a2.5 1.5 128 1 0 -3.1 3.9 2.5 1.5 128 1 0 3.1 -3.9M159.8 362.1a2.5 1.2 95 1 0 -.5 5.1 2.5 1.2 95 1 0 .5 -5.1M157.5 347.4a3.3 1.8 131 1 0 -4.4 4.9 3.3 1.8 131 1 0 4.4 -4.9M171.9 356.2a3.3 1.5 138 1 0 -4.9 4.4 3.3 1.5 138 1 0 4.9 -4.4M151.4 349.9a2.9 1.5 110 1 0 -2.1 5.5 2.9 1.5 110 1 0 2.1 -5.5M162.4 362.6a3 1.2 16 1 0 5.8 1.7 3 1.2 16 1 0 -5.8 -1.7M157.8 366.5a2.8 1.6 74 1 0 1.5 5.4 2.8 1.6 74 1 0 -1.5 -5.4M149.2 360.8a2.7 1.1 179 1 0 -5.3 .1 2.7 1.1 179 1 0 5.3 -.1M168.4 357.3a2.9 1.3 164 1 0 -5.6 1.6 2.9 1.3 164 1 0 5.6 -1.6"/>
<path stroke="#357320" stroke-width=".75" fill="none" d="M178.7 355.1L175.9 355.3M178.7 355.1L178.2 357.9M178.7 355.1L173.1 358.7M159.9 351.4L161.5 355.1M159.9 351.4L156.6 349.2M159.9 351.4L158.4 345.7M160.4 356L160.7 358.7M160.4 356L155.2 352.5M160.4 356L160.5 349.8M160.7 343.8L159 342.3M160.7 343.8L159.8 341.9M160.7 343.8L160.6 341.6M160.7 343.8L164 341.9M160.7 343.8L164.6 341.7M160.7 343.8L163.9 347M160.7 343.8L161.6 346.5M176.6 352L176.4 354.4M176.6 352L173.5 351.3M176.6 352L174.6 345.6M176.6 352L179.4 352.3M158.6 346.5L155.5 349.3M158.6 346.5L156.1 346.5M158.6 346.5L156.8 344.9M158.6 346.5L157.5 344.9M158.6 346.5L159.1 345.5M153.7 343.8L150 342.3M153.7 343.8L152.4 342M153.7 343.8L154.6 342.7M153.7 343.8L157.5 345.8M156.2 360.7L160 363M156.2 360.7L155.8 362.1M156.2 360.7L152 359.9M156.2 360.7L154.3 358.8M156.2 360.7L156.5 359.3M156.2 360.7L160.5 357.1M177.5 340L177.6 338M177.5 340L179.4 339.2M177.5 340L179.9 339.7M177.5 340L177.5 342.4M177.5 340L172.2 343.9"/>
<path fill="#245c16" d="M163.9 347a3.1 1.3 45 1 0 4.4 4.5 3.1 1.3 45 1 0 -4.4 -4.5"/>
<path fill="#367c1f" d="M156.7 339.7a3.1 1.5 74 1 0 1.6 6 3.1 1.5 74 1 0 -1.6 -6M150.1 349a3.1 1.6 34 1 0 5.1 3.5 3.1 1.6 34 1 0 -5.1 -3.5M168.6 339.3a2.6 1.5 150 1 0 -4.6 2.6 2.6 1.5 150 1 0 4.6 -2.6M173.2 341a2.4 1.1 73 1 0 1.4 4.6 2.4 1.1 73 1 0 -1.4 -4.6M155.5 349.3a2.9 1.3 137 1 0 -4.2 3.9 2.9 1.3 137 1 0 4.2 -3.9M144.6 340a2.9 1.6 22 1 0 5.4 2.3 2.9 1.6 22 1 0 -5.4 -2.3M147.7 359.1a2.2 1.2 10 1 0 4.2 .8 2.2 1.2 10 1 0 -4.2 -.8"/>
<path fill="#4a9828" d="M173.1 358.7a2.3 1.3 147 1 0 -3.8 2.4 2.3 1.3 147 1 0 3.8 -2.4M161.5 355.1a2.9 1.7 66 1 0 2.3 5.3 2.9 1.7 66 1 0 -2.3 -5.3M160.6 344.1a2.8 1.3 90 1 0 -.1 5.6 2.8 1.3 90 1 0 .1 -5.6M157.5 345.8a2.4 1.3 27 1 0 4.2 2.2 2.4 1.3 27 1 0 -4.2 -2.2M172.2 343.9a2.7 1.2 143 1 0 -4.4 3.3 2.7 1.2 143 1 0 4.4 -3.3"/>
<path fill="#60b232" d="M151.1 345.6a3.3 1.4 33 1 0 5.5 3.6 3.3 1.4 33 1 0 -5.5 -3.6M163.8 354.4a2.1 1.1 140 1 0 -3.3 2.7 2.1 1.1 140 1 0 3.3 -2.7"/>
<path fill="#82ca4a" d="M169.6 339.1a2.8 1.2 152 1 0 -4.9 2.6 2.8 1.2 152 1 0 4.9 -2.6M160 363a2.3 1.3 31 1 0 3.9 2.4 2.3 1.3 31 1 0 -3.9 -2.4"/>
<path fill="#245c16" d="M160.4 336.6a2.5 1.5 87 1 0 .2 5 2.5 1.5 87 1 0 -.2 -5M155.8 362.1a3.1 1.2 103 1 0 -1.5 6 3.1 1.2 103 1 0 1.5 -6M184.4 337.2a2.7 1.3 158 1 0 -5.1 2 2.7 1.3 158 1 0 5.1 -2"/>
<path fill="#367c1f" d="M178.2 357.9a3.1 1.8 100 1 0 -1.2 6.1 3.1 1.8 100 1 0 1.2 -6.1M179.4 352.3a2.8 1.2 6 1 0 5.6 .7 2.8 1.2 6 1 0 -5.6 -.7M152.7 341.3a2.7 1.4 41 1 0 4 3.5 2.7 1.4 41 1 0 -4 -3.5M162.4 339.8a3.3 1.7 119 1 0 -3.3 5.7 3.3 1.7 119 1 0 3.3 -5.7"/>
<path fill="#4a9828" d="M160.7 358.7a2.6 1.4 83 1 0 .6 5.2 2.6 1.4 83 1 0 -.6 -5.2M155.8 339.4a2.2 .9 41 1 0 3.3 2.9 2.2 .9 41 1 0 -3.3 -2.9M157.2 336.7a2.9 1.5 63 1 0 2.6 5.2 2.9 1.5 63 1 0 -2.6 -5.2M161.6 346.5a2.5 1.4 71 1 0 1.6 4.8 2.5 1.4 71 1 0 -1.6 -4.8M167.9 350.2a2.9 1.6 11 1 0 5.6 1.2 2.9 1.6 11 1 0 -5.6 -1.2M156.1 346.5a3.2 1.3 179 1 0 -6.4 .1 3.2 1.3 179 1 0 6.4 -.1M148.7 336.9a3.2 1.3 54 1 0 3.7 5.2 3.2 1.3 54 1 0 -3.7 -5.2M150.2 354.5a3 1.4 46 1 0 4.1 4.3 3 1.4 46 1 0 -4.1 -4.3M157.6 353.6a2.9 1.2 100 1 0 -1.1 5.7 2.9 1.2 100 1 0 1.1 -5.7M177.5 342.4a2.4 1.4 89 1 0 0 4.9 2.4 1.4 89 1 0 -0 -4.9"/>
<path fill="#60b232" d="M176.4 354.4a2.8 1.4 93 1 0 -.3 5.6 2.8 1.4 93 1 0 .3 -5.6M154.3 339.9a3 1.6 57 1 0 3.3 5 3 1.6 57 1 0 -3.3 -5M157.8 338.6a2.6 1.4 128 1 0 -3.2 4 2.6 1.4 128 1 0 3.2 -4M185.3 339a3.2 1.4 173 1 0 -6.4 .7 3.2 1.4 173 1 0 6.4 -.7"/>
<path fill="#82ca4a" d="M175.9 355.3a2.6 1.4 174 1 0 -5.2 .5 2.6 1.4 174 1 0 5.2 -.5M177.7 333.8a2.1 1.2 91 1 0 -.1 4.3 2.1 1.2 91 1 0 .1 -4.3"/>
<rect x="142" y="374.1" width="44.2" height="40.6" rx="4.5" fill="url(#gd)" stroke="#76726b" stroke-width=".9"/>
<rect x="144.2" y="376.4" width="39.8" height="35.8" rx="2.5" fill="#3e2e1f"/>
<path fill="#5e4832" d="M148.6 395.6a1.5 .9 94 1 0 -.2 3 1.5 .9 94 1 0 .2 -3M172.8 392.3a.9 .8 20 1 0 1.8 .7 .9 .8 20 1 0 -1.8 -.7M180.4 398.5a.8 .7 74 1 0 .4 1.5 .8 .7 74 1 0 -.4 -1.5M149.4 388.7a1.3 1 1 1 0 2.7 .1 1.3 1 1 1 0 -2.7 -.1M150.5 405.4a.9 .8 95 1 0 -.2 1.7 .9 .8 95 1 0 .2 -1.7M166.7 386.6a1 .8 0 1 0 2 0 1 .8 0 1 0 -2 -0M181 389.2a.8 .7 57 1 0 .8 1.3 .8 .7 57 1 0 -.8 -1.3M168.5 386.6a1.5 .5 172 1 0 -2.9 .4 1.5 .5 172 1 0 2.9 -.4M154.7 400.7a1.2 1 102 1 0 -.5 2.3 1.2 1 102 1 0 .5 -2.3M175.7 385.8a.7 .8 29 1 0 1.1 .6 .7 .8 29 1 0 -1.1 -.6M173.5 396.7a.9 .6 23 1 0 1.7 .8 .9 .6 23 1 0 -1.7 -.8M177.8 382.6a1.2 1 29 1 0 2 1.2 1.2 1 29 1 0 -2 -1.2M159.6 381.1a1 .8 58 1 0 1 1.7 1 .8 58 1 0 -1 -1.7M159.5 394.9a1.5 .5 72 1 0 .9 2.8 1.5 .5 72 1 0 -.9 -2.8M172.4 377.1a.6 .6 104 1 0 -.3 1.2 .6 .6 104 1 0 .3 -1.2M173.5 408.6a1.5 .7 94 1 0 -.3 2.9 1.5 .7 94 1 0 .3 -2.9M155.7 379.5a.8 1 98 1 0 -.2 1.5 .8 1 98 1 0 .2 -1.5M167 383.4a1.4 .9 59 1 0 1.5 2.5 1.4 .9 59 1 0 -1.5 -2.5M153.4 404.6a.6 .9 80 1 0 .2 1.2 .6 .9 80 1 0 -.2 -1.2M160.5 375.9a1.5 .8 71 1 0 .9 2.9 1.5 .8 71 1 0 -.9 -2.9M155.7 377.5a1.5 1.1 97 1 0 -.4 2.9 1.5 1.1 97 1 0 .4 -2.9M178.6 391.6a1.5 .5 141 1 0 -2.3 1.8 1.5 .5 141 1 0 2.3 -1.8M163.7 407.1a1.6 1.1 23 1 0 2.9 1.2 1.6 1.1 23 1 0 -2.9 -1.2M157.2 379.4a.7 .9 45 1 0 1 1 .7 .9 45 1 0 -1 -1M179 390.7a.8 1 78 1 0 .3 1.6 .8 1 78 1 0 -.3 -1.6M181.5 377.5a1 .5 72 1 0 .6 1.8 1 .5 72 1 0 -.6 -1.8M164.9 381.2a1.4 .9 161 1 0 -2.6 .9 1.4 .9 161 1 0 2.6 -.9M177.3 396.3a1 .7 97 1 0 -.3 1.9 1 .7 97 1 0 .3 -1.9M180.4 402.1a1.4 .5 153 1 0 -2.5 1.2 1.4 .5 153 1 0 2.5 -1.2M181.8 378.8a1.6 1 168 1 0 -3.1 .6 1.6 1 168 1 0 3.1 -.6M157.6 380.5a.9 .6 86 1 0 .1 1.8 .9 .6 86 1 0 -.1 -1.8M155 389.2a1.6 1.1 133 1 0 -2.2 2.3 1.6 1.1 133 1 0 2.2 -2.3M166.5 390.2a1.3 .6 25 1 0 2.4 1.1 1.3 .6 25 1 0 -2.4 -1.1"/>
<path fill="#7e6448" d="M181.7 387a1 .9 174 1 0 -2 .2 1 .9 174 1 0 2 -.2M176.3 397.6a.6 .8 154 1 0 -1.1 .5 .6 .8 154 1 0 1.1 -.5M153.2 402.3a.6 .9 67 1 0 .5 1.1 .6 .9 67 1 0 -.5 -1.1M162.7 396.1a1.4 .6 34 1 0 2.3 1.6 1.4 .6 34 1 0 -2.3 -1.6M153.8 382.3a1.5 .7 123 1 0 -1.6 2.4 1.5 .7 123 1 0 1.6 -2.4M174.5 405.5a1.2 1 58 1 0 1.2 2 1.2 1 58 1 0 -1.2 -2M161.3 393a1.3 .6 70 1 0 .9 2.5 1.3 .6 70 1 0 -.9 -2.5M173.9 379.6a.6 .9 101 1 0 -.3 1.3 .6 .9 101 1 0 .3 -1.3M153.4 403.2a1.6 1 1 1 0 3.1 .1 1.6 1 1 1 0 -3.1 -.1M172.8 410.1a1.1 .5 3 1 0 2.2 .2 1.1 .5 3 1 0 -2.2 -.2M172.9 403.9a.6 .9 103 1 0 -.3 1.2 .6 .9 103 1 0 .3 -1.2M182.3 378.1a.9 .8 168 1 0 -1.8 .4 .9 .8 168 1 0 1.8 -.4M161 408.5a.7 1.1 5 1 0 1.5 .1 .7 1.1 5 1 0 -1.5 -.1M170.7 387.6a.8 .6 45 1 0 1.2 1.2 .8 .6 45 1 0 -1.2 -1.2M173.4 390.1a1.5 .9 148 1 0 -2.6 1.6 1.5 .9 148 1 0 2.6 -1.6M164.8 394.6a1.2 .6 16 1 0 2.4 .7 1.2 .6 16 1 0 -2.4 -.7M153 379.2a1.1 1.1 36 1 0 1.8 1.4 1.1 1.1 36 1 0 -1.8 -1.4M159.5 404.8a.8 .6 129 1 0 -1.1 1.3 .8 .6 129 1 0 1.1 -1.3M159.3 379.4a.7 .8 83 1 0 .2 1.5 .7 .8 83 1 0 -.2 -1.5M181.6 406.7a.8 .6 5 1 0 1.6 .2 .8 .6 5 1 0 -1.6 -.2M172.8 376.8a1.3 1 82 1 0 .3 2.5 1.3 1 82 1 0 -.3 -2.5M166 406.5a.7 .7 86 1 0 .1 1.4 .7 .7 86 1 0 -.1 -1.4M168.6 380.3a.7 .5 162 1 0 -1.3 .4 .7 .5 162 1 0 1.3 -.4M172.5 391.1a.8 .9 22 1 0 1.4 .6 .8 .9 22 1 0 -1.4 -.6M183.3 380.5a.7 .5 151 1 0 -1.1 .6 .7 .5 151 1 0 1.1 -.6M159.6 390.1a1 .5 116 1 0 -.9 1.8 1 .5 116 1 0 .9 -1.8M153.9 393.2a.6 1.1 172 1 0 -1.3 .2 .6 1.1 172 1 0 1.3 -.2M175.1 403.5a.9 .6 146 1 0 -1.5 1 .9 .6 146 1 0 1.5 -1M166.7 388.2a.6 1 28 1 0 1.1 .6 .6 1 28 1 0 -1.1 -.6M165.2 395.9a.6 .9 13 1 0 1.2 .3 .6 .9 13 1 0 -1.2 -.3M151.7 386.9a.8 .9 153 1 0 -1.4 .7 .8 .9 153 1 0 1.4 -.7M149.9 378a.8 .8 73 1 0 .4 1.5 .8 .8 73 1 0 -.4 -1.5M150.2 382.3a1.5 1.1 173 1 0 -3 .3 1.5 1.1 173 1 0 3 -.3M171.6 383.8a1.2 .6 155 1 0 -2.1 1 1.2 .6 155 1 0 2.1 -1M178.5 382.5a1 .8 104 1 0 -.5 2 1 .8 104 1 0 .5 -2M170.3 381.6a.7 1 109 1 0 -.4 1.3 .7 1 109 1 0 .4 -1.3M158.3 408.9a.9 1 147 1 0 -1.6 1 .9 1 147 1 0 1.6 -1"/>
<path fill="#8a6c44" d="M162.6 378.5a2.6 1 85 1 0 .4 5.3 2.6 1 85 1 0 -.4 -5.3M152.8 409.1a1.5 .8 156 1 0 -2.8 1.2 1.5 .8 156 1 0 2.8 -1.2M168.6 404.2a2 1.1 78 1 0 .8 3.9 2 1.1 78 1 0 -.8 -3.9M160.4 390.5a2.3 1.4 120 1 0 -2.4 4 2.3 1.4 120 1 0 2.4 -4M171 390.2a2.6 1.2 50 1 0 3.3 4 2.6 1.2 50 1 0 -3.3 -4M181.7 405.1a2.4 1.2 62 1 0 2.3 4.3 2.4 1.2 62 1 0 -2.3 -4.3M167.2 396.7a3.2 1.6 14 1 0 6.1 1.6 3.2 1.6 14 1 0 -6.1 -1.6M177.7 389.4a2.5 1.2 78 1 0 .9 4.8 2.5 1.2 78 1 0 -.9 -4.8M175 380.8a2.2 1.1 69 1 0 1.5 4.1 2.2 1.1 69 1 0 -1.5 -4.1M175.7 381.5a2.4 1.1 98 1 0 -.7 4.8 2.4 1.1 98 1 0 .7 -4.8M169.4 384.1a2.5 1.4 130 1 0 -3.2 3.7 2.5 1.4 130 1 0 3.2 -3.7M165.6 388.7a2.1 1 99 1 0 -.7 4.2 2.1 1 99 1 0 .7 -4.2M147 392.2a2.9 1.3 129 1 0 -3.7 4.5 2.9 1.3 129 1 0 3.7 -4.5M159 379.7a2.3 1.2 135 1 0 -3.3 3.2 2.3 1.2 135 1 0 3.3 -3.2"/>
<path fill="#b8955c" d="M165.4 381.4a3.2 1.4 98 1 0 -.9 6.3 3.2 1.4 98 1 0 .9 -6.3M156.9 394.8a2.2 1.1 104 1 0 -1.1 4.2 2.2 1.1 104 1 0 1.1 -4.2M174.9 380.5a2.9 1.4 129 1 0 -3.6 4.4 2.9 1.4 129 1 0 3.6 -4.4M160.7 397.1a3.1 1.6 143 1 0 -5 3.7 3.1 1.6 143 1 0 5 -3.7M143 396.2a3.1 1.7 35 1 0 5.1 3.6 3.1 1.7 35 1 0 -5.1 -3.6M185.7 385.2a2.5 1.1 174 1 0 -5 .5 2.5 1.1 174 1 0 5 -.5M172.6 387.1a2.4 1.3 166 1 0 -4.7 1.1 2.4 1.3 166 1 0 4.7 -1.1M173.8 394.9a2.8 1.5 96 1 0 -.6 5.5 2.8 1.5 96 1 0 .6 -5.5M168.4 382.5a3.1 1.5 62 1 0 2.9 5.5 3.1 1.5 62 1 0 -2.9 -5.5M158 386.9a2.3 1 169 1 0 -4.5 .8 2.3 1 169 1 0 4.5 -.8M143.3 393.3a2.4 1.1 14 1 0 4.6 1.2 2.4 1.1 14 1 0 -4.6 -1.2M145 387.2a2.8 1.6 53 1 0 3.3 4.5 2.8 1.6 53 1 0 -3.3 -4.5M151.7 388.6a3.1 1.3 37 1 0 5 3.8 3.1 1.3 37 1 0 -5 -3.8"/>
<path fill="#d4b47a" d="M150.8 381.6a2.6 1.4 178 1 0 -5.1 .1 2.6 1.4 178 1 0 5.1 -.1M177 387.8a2.4 1.2 32 1 0 4 2.5 2.4 1.2 32 1 0 -4 -2.5M148.6 408.8a2.3 1.1 83 1 0 .5 4.6 2.3 1.1 83 1 0 -.5 -4.6M170.3 409a2.5 1.4 31 1 0 4.2 2.6 2.5 1.4 31 1 0 -4.2 -2.6M166.4 409.1a2.3 1 115 1 0 -1.9 4.1 2.3 1 115 1 0 1.9 -4.1M178.4 378.8a1.8 .8 13 1 0 3.5 .8 1.8 .8 13 1 0 -3.5 -.8M170.8 400.4a2 1 73 1 0 1.2 3.9 2 1 73 1 0 -1.2 -3.9M161.5 383.3a3.1 1.3 122 1 0 -3.4 5.3 3.1 1.3 122 1 0 3.4 -5.3M161.1 387.3a2.5 1 85 1 0 .4 5.1 2.5 1 85 1 0 -.4 -5.1M170 387.3a3.2 1.5 15 1 0 6.1 1.7 3.2 1.5 15 1 0 -6.1 -1.7M176.1 382.7a1.7 .7 87 1 0 .1 3.4 1.7 .7 87 1 0 -.1 -3.4M165.8 387.4a3.1 1.4 153 1 0 -5.6 2.8 3.1 1.4 153 1 0 5.6 -2.8M159.9 401.5a1.8 .7 118 1 0 -1.7 3.2 1.8 .7 118 1 0 1.7 -3.2M169.7 381a1.5 .8 102 1 0 -.6 3 1.5 .8 102 1 0 .6 -3M165.9 384.6a2.5 1.1 7 1 0 4.9 .6 2.5 1.1 7 1 0 -4.9 -.6M183.9 378.7a2.6 1.4 133 1 0 -3.6 3.8 2.6 1.4 133 1 0 3.6 -3.8M173.2 375.9a2.6 1.6 129 1 0 -3.3 4.1 2.6 1.6 129 1 0 3.3 -4.1M150.9 401.5a2.3 1 89 1 0 0 4.5 2.3 1 89 1 0 -0 -4.5M152.7 395.8a2.9 1.4 17 1 0 5.5 1.8 2.9 1.4 17 1 0 -5.5 -1.8M174.2 383.8a3 1.8 145 1 0 -5 3.4 3 1.8 145 1 0 5 -3.4M168 393.1a2.2 1 18 1 0 4.1 1.4 2.2 1 18 1 0 -4.1 -1.4M159.7 392a3 1.3 170 1 0 -5.9 1 3 1.3 170 1 0 5.9 -1M140.5 385.3a3.3 1.9 14 1 0 6.4 1.6 3.3 1.9 14 1 0 -6.4 -1.6M161.2 387.6a3 1.6 178 1 0 -5.9 .1 3 1.6 178 1 0 5.9 -.1"/>
<path fill="#e4cf9e" d="M158.8 392.9a3.1 1.8 110 1 0 -2.2 5.9 3.1 1.8 110 1 0 2.2 -5.9M158.8 390.6a2.3 1.1 142 1 0 -3.6 2.8 2.3 1.1 142 1 0 3.6 -2.8M158.5 389a2.9 1.7 28 1 0 5.1 2.8 2.9 1.7 28 1 0 -5.1 -2.8M168.9 390.3a2.9 1.4 58 1 0 3 4.9 2.9 1.4 58 1 0 -3 -4.9M183.1 394.3a2.3 1.2 127 1 0 -2.7 3.6 2.3 1.2 127 1 0 2.7 -3.6M181.3 402.3a2.4 1 45 1 0 3.4 3.5 2.4 1 45 1 0 -3.4 -3.5M175.7 404.1a2.7 1.6 126 1 0 -3.2 4.3 2.7 1.6 126 1 0 3.2 -4.3M176.5 391.6a3.1 1.4 94 1 0 -.5 6.1 3.1 1.4 94 1 0 .5 -6.1M180.7 395.9a2.4 1 23 1 0 4.4 1.9 2.4 1 23 1 0 -4.4 -1.9M164.9 392.7a2.5 1.4 93 1 0 -.3 4.9 2.5 1.4 93 1 0 .3 -4.9"/>
<path stroke="#357320" stroke-width=".75" fill="none" d="M152.6 403.1L153.9 401.4M152.6 403.1L156.1 403.6M152.6 403.1L154.7 408.1M152.6 403.1L151.6 408.6M152.6 403.1L146 405.9M152.6 403.1L148.2 401.8M152.6 403.1L152.4 400.8M178.9 399.8L179.8 397.3M178.9 399.8L181.2 400.1M178.9 399.8L174.5 400.9M177 386.1L180.4 388.1M177 386.1L175.3 383.3M177 386.1L178.3 383.6M174 393L179.1 397.9M174 393L169.3 397.4M174 393L172.3 393.1M174 393L171.9 392.6M174 393L176.7 389.7M174 393L175 392.8M165.3 385.5L164.4 383.9M165.3 385.5L166 380.2M165.3 385.5L169.1 385.4M165.3 385.5L171.1 389.6M165.3 385.5L163.5 387.7M150.9 395.3L150.6 396.3M150.9 395.3L149.2 397M150.9 395.3L148.8 389.4M150.9 395.3L152.1 388.5M150.9 395.3L152 394.5M150.9 395.3L152.7 397.5M163.1 391.4L162.3 390.4M163.1 391.4L162.3 390.1M163.1 391.4L164 392.4M163.1 391.4L164 395.8M163.1 391.4L161 394.6M163.6 400L167.1 395.6M163.6 400L170.2 399.1M163.6 400L166.2 403.3M163.6 400L163.8 402.7M163.6 400L161.8 401.3M163.6 400L159.7 400.1M163.6 400L162.3 398.6M150.6 387.8L150.2 386.9M150.6 387.8L151 384.9M150.6 387.8L150.8 390.8"/>
<path fill="#245c16" d="M142.6 400.3a2.9 1.5 15 1 0 5.5 1.5 2.9 1.5 15 1 0 -5.5 -1.5M147 384.3a2.7 1.3 70 1 0 1.8 5.1 2.7 1.3 70 1 0 -1.8 -5.1"/>
<path fill="#367c1f" d="M151.6 408.6a3.3 1.7 100 1 0 -1.2 6.4 3.3 1.7 100 1 0 1.2 -6.4M146 405.9a2.2 1.2 156 1 0 -3.9 1.7 2.2 1.2 156 1 0 3.9 -1.7M174.5 400.9a2.7 1.2 166 1 0 -5.2 1.3 2.7 1.2 166 1 0 5.2 -1.3M169.3 397.4a2.4 1.3 136 1 0 -3.4 3.3 2.4 1.3 136 1 0 3.4 -3.3M180.6 385.1a3 1.2 129 1 0 -3.8 4.6 3 1.2 129 1 0 3.8 -4.6M166.5 375.5a2.3 1 96 1 0 -.5 4.6 2.3 1 96 1 0 .5 -4.6M171.1 389.6a2.6 1.1 35 1 0 4.2 3 2.6 1.1 35 1 0 -4.2 -3M153.1 382.7a2.9 1.3 100 1 0 -1 5.8 2.9 1.3 100 1 0 1 -5.8M164 395.8a2.4 1.2 78 1 0 1 4.7 2.4 1.2 78 1 0 -1 -4.7M170.6 391.1a2.8 1.6 128 1 0 -3.5 4.4 2.8 1.6 128 1 0 3.5 -4.4M176.4 398.2a3.1 1.9 171 1 0 -6.2 .9 3.1 1.9 171 1 0 6.2 -.9"/>
<path fill="#4a9828" d="M154.7 408.1a3.1 1.4 67 1 0 2.4 5.8 3.1 1.4 67 1 0 -2.4 -5.8M166.2 403.3a2.2 1.2 52 1 0 2.6 3.4 2.2 1.2 52 1 0 -2.6 -3.4M159.7 400.1a2.4 1.1 178 1 0 -4.9 .1 2.4 1.1 178 1 0 4.9 -.1"/>
<path fill="#60b232" d="M179.1 397.9a2.5 1.5 44 1 0 3.5 3.4 2.5 1.5 44 1 0 -3.5 -3.4M161 394.6a2.6 1.5 123 1 0 -2.9 4.4 2.6 1.5 123 1 0 2.9 -4.4"/>
<path fill="#82ca4a" d="M180.4 388.1a3.1 1.5 31 1 0 5.4 3.3 3.1 1.5 31 1 0 -5.4 -3.3"/>
<path fill="#245c16" d="M151.8 394.3a3.3 1.8 84 1 0 .6 6.5 3.3 1.8 84 1 0 -.6 -6.5M181.4 391.6a3.2 1.7 169 1 0 -6.3 1.2 3.2 1.7 169 1 0 6.3 -1.2M174.2 385.3a2.5 1.3 178 1 0 -5.1 .2 2.5 1.3 178 1 0 5.1 -.2M163.5 387.7a2.7 1.3 130 1 0 -3.5 4 2.7 1.3 130 1 0 3.5 -4"/>
<path fill="#367c1f" d="M156.5 397.9a2.2 1.2 127 1 0 -2.6 3.4 2.2 1.2 127 1 0 2.6 -3.4M167.5 391.7a2.3 1 11 1 0 4.5 .9 2.3 1 11 1 0 -4.5 -.9M150.6 396.3a3.1 1.3 105 1 0 -1.7 6.1 3.1 1.3 105 1 0 1.7 -6.1M156.6 391.5a2.7 1.4 146 1 0 -4.5 3 2.7 1.4 146 1 0 4.5 -3M160.1 386a2.3 1.2 61 1 0 2.2 4.1 2.3 1.2 61 1 0 -2.2 -4.1M164 392.4a3.2 1.4 46 1 0 4.4 4.6 3.2 1.4 46 1 0 -4.4 -4.6"/>
<path fill="#4a9828" d="M156.1 403.6a2.9 1.6 8 1 0 5.8 .9 2.9 1.6 8 1 0 -5.8 -.9M181.3 393.1a2.2 1 109 1 0 -1.5 4.2 2.2 1 109 1 0 1.5 -4.2M180.6 400.1a2.1 1.2 8 1 0 4.2 .6 2.1 1.2 8 1 0 -4.2 -.6M172.4 378.8a2.7 1.5 57 1 0 2.9 4.5 2.7 1.5 57 1 0 -2.9 -4.5M172.3 393.1a2.6 1.4 176 1 0 -5.2 .4 2.6 1.4 176 1 0 5.2 -.4M162 379.4a2.5 1.2 61 1 0 2.4 4.5 2.5 1.2 61 1 0 -2.4 -4.5M152.7 397.5a2.3 1.4 50 1 0 3 3.6 2.3 1.4 50 1 0 -3 -3.6M158.4 385.4a3.2 1.9 52 1 0 3.9 5 3.2 1.9 52 1 0 -3.9 -5M148 382.5a2.5 1.1 64 1 0 2.1 4.4 2.5 1.1 64 1 0 -2.1 -4.4"/>
<path fill="#60b232" d="M180.7 379a2.6 1.4 117 1 0 -2.4 4.7 2.6 1.4 117 1 0 2.4 -4.7M149.2 397a2.9 1.7 134 1 0 -4.1 4.2 2.9 1.7 134 1 0 4.1 -4.2M163.8 402.7a2.6 1.2 85 1 0 .4 5.3 2.6 1.2 85 1 0 -.4 -5.3M158 393.7a3.3 1.7 48 1 0 4.4 4.9 3.3 1.7 48 1 0 -4.4 -4.9M150.8 390.8a2.7 1.5 85 1 0 .4 5.3 2.7 1.5 85 1 0 -.4 -5.3"/>
<path fill="#82ca4a" d="M161.8 401.3a3.1 1.4 145 1 0 -5 3.5 3.1 1.4 145 1 0 5 -3.5M151.7 378.8a3.1 1.5 96 1 0 -.7 6.1 3.1 1.5 96 1 0 .7 -6.1"/>
<rect x="190" y="329" width="48.6" height="87.2" fill="#1f1d1a"/>
<rect x="191.6" y="330.5" width="45.4" height="40.6" rx="4.5" fill="url(#gd)" stroke="#76726b" stroke-width=".9"/>
<rect x="193.8" y="332.8" width="41" height="35.8" rx="2.5" fill="#3e2e1f"/>
<path fill="#5e4832" d="M231.4 345.1a1.4 1 61 1 0 1.4 2.5 1.4 1 61 1 0 -1.4 -2.5M223.3 365.7a1.3 .8 98 1 0 -.4 2.5 1.3 .8 98 1 0 .4 -2.5M198.7 338.8a.7 .8 18 1 0 1.3 .4 .7 .8 18 1 0 -1.3 -.4M211.9 363.2a.7 1 94 1 0 -.1 1.4 .7 1 94 1 0 .1 -1.4M201 344.6a1.2 1.1 33 1 0 1.9 1.3 1.2 1.1 33 1 0 -1.9 -1.3M208.2 351.1a1.2 .6 94 1 0 -.2 2.4 1.2 .6 94 1 0 .2 -2.4M199 353.4a1.4 .8 9 1 0 2.8 .5 1.4 .8 9 1 0 -2.8 -.5M218.5 344.1a.7 .9 48 1 0 .9 1 .7 .9 48 1 0 -.9 -1M196 348.5a1.1 .6 39 1 0 1.7 1.4 1.1 .6 39 1 0 -1.7 -1.4M202.1 338.3a1.5 1 116 1 0 -1.3 2.7 1.5 1 116 1 0 1.3 -2.7M195.7 349.6a.9 .7 23 1 0 1.6 .7 .9 .7 23 1 0 -1.6 -.7M233.2 344.8a1.3 .6 168 1 0 -2.6 .5 1.3 .6 168 1 0 2.6 -.5M216.3 335.9a.9 .8 75 1 0 .5 1.7 .9 .8 75 1 0 -.5 -1.7M209.8 334.5a.8 .9 83 1 0 .2 1.5 .8 .9 83 1 0 -.2 -1.5M203.6 337.5a1.2 .7 168 1 0 -2.4 .5 1.2 .7 168 1 0 2.4 -.5M214.3 342.3a1.2 .6 100 1 0 -.4 2.3 1.2 .6 100 1 0 .4 -2.3M204.3 357.3a1 .9 9 1 0 2.1 .3 1 .9 9 1 0 -2.1 -.3M228.4 360.8a1.5 .8 133 1 0 -2.1 2.2 1.5 .8 133 1 0 2.1 -2.2M226.7 340.1a1.4 .8 35 1 0 2.4 1.7 1.4 .8 35 1 0 -2.4 -1.7M227.8 345.3a1.2 .6 106 1 0 -.7 2.4 1.2 .6 106 1 0 .7 -2.4M215 351.5a1.2 .7 33 1 0 1.9 1.3 1.2 .7 33 1 0 -1.9 -1.3M206.8 338.9a1 .5 96 1 0 -.3 2.1 1 .5 96 1 0 .3 -2.1M234.4 362.6a1.3 1 177 1 0 -2.6 .1 1.3 1 177 1 0 2.6 -.1M219.3 365.1a1.1 .5 131 1 0 -1.5 1.7 1.1 .5 131 1 0 1.5 -1.7M219.8 358.7a.7 1.1 146 1 0 -1.2 .8 .7 1.1 146 1 0 1.2 -.8M207.6 359.6a1.2 .8 47 1 0 1.6 1.7 1.2 .8 47 1 0 -1.6 -1.7M210.6 349.1a1.3 .6 44 1 0 1.9 1.9 1.3 .6 44 1 0 -1.9 -1.9M201.6 349.4a1.5 .8 17 1 0 2.8 .9 1.5 .8 17 1 0 -2.8 -.9M218.6 344.4a.8 .6 115 1 0 -.7 1.4 .8 .6 115 1 0 .7 -1.4M209.3 337a1.3 .7 16 1 0 2.5 .8 1.3 .7 16 1 0 -2.5 -.8M215.3 334.5a.8 .6 28 1 0 1.5 .8 .8 .6 28 1 0 -1.5 -.8M203 345.1a1.3 1 93 1 0 -.2 2.7 1.3 1 93 1 0 .2 -2.7M209.5 356.6a.8 .9 141 1 0 -1.3 1 .8 .9 141 1 0 1.3 -1M196 339.6a.8 .7 101 1 0 -.3 1.7 .8 .7 101 1 0 .3 -1.7M198.1 362.5a.8 .8 25 1 0 1.4 .7 .8 .8 25 1 0 -1.4 -.7M221.7 363.5a1.3 .6 22 1 0 2.3 1 1.3 .6 22 1 0 -2.3 -1M222.7 337.4a1.5 .5 75 1 0 .7 2.8 1.5 .5 75 1 0 -.7 -2.8M213 358.5a.6 .7 151 1 0 -1.1 .6 .6 .7 151 1 0 1.1 -.6M221.6 334.7a1.4 .9 38 1 0 2.2 1.8 1.4 .9 38 1 0 -2.2 -1.8M225 360.8a.9 .5 148 1 0 -1.5 .9 .9 .5 148 1 0 1.5 -.9M211.3 338.1a.9 .7 107 1 0 -.5 1.6 .9 .7 107 1 0 .5 -1.6"/>
<path fill="#7e6448" d="M213.7 342.9a1.4 .9 3 1 0 2.8 .2 1.4 .9 3 1 0 -2.8 -.2M204.8 344.2a1.3 .8 120 1 0 -1.3 2.2 1.3 .8 120 1 0 1.3 -2.2M198.7 356.1a.8 .7 74 1 0 .4 1.6 .8 .7 74 1 0 -.4 -1.6M217.2 361.7a1.5 .6 153 1 0 -2.7 1.3 1.5 .6 153 1 0 2.7 -1.3M210.5 342.3a1.5 .6 24 1 0 2.7 1.3 1.5 .6 24 1 0 -2.7 -1.3M200.3 339.1a.8 .7 103 1 0 -.4 1.5 .8 .7 103 1 0 .4 -1.5M197 340.1a.9 .6 57 1 0 .9 1.5 .9 .6 57 1 0 -.9 -1.5M230.9 339.5a.6 .9 135 1 0 -.9 .9 .6 .9 135 1 0 .9 -.9M194.6 348a1.5 .8 36 1 0 2.4 1.8 1.5 .8 36 1 0 -2.4 -1.8M210.1 342.4a.8 .9 120 1 0 -.8 1.4 .8 .9 120 1 0 .8 -1.4M211.3 346.2a.8 .8 10 1 0 1.6 .3 .8 .8 10 1 0 -1.6 -.3M210.9 343.1a1.4 .8 25 1 0 2.6 1.2 1.4 .8 25 1 0 -2.6 -1.2M208.3 334.1a1 .6 12 1 0 1.9 .4 1 .6 12 1 0 -1.9 -.4M222.6 362.8a.9 .9 155 1 0 -1.6 .8 .9 .9 155 1 0 1.6 -.8M213.7 353.3a1.1 .8 176 1 0 -2.2 .1 1.1 .8 176 1 0 2.2 -.1M216.5 359.9a.8 1 177 1 0 -1.6 .1 .8 1 177 1 0 1.6 -.1M212 345a1.1 .7 107 1 0 -.7 2.1 1.1 .7 107 1 0 .7 -2.1M202.6 358.4a1.1 1 23 1 0 2.1 .9 1.1 1 23 1 0 -2.1 -.9M214.1 347.8a1 .8 2 1 0 2 .1 1 .8 2 1 0 -2 -.1M218.2 345.9a1.2 1 147 1 0 -2 1.2 1.2 1 147 1 0 2 -1.2M228.1 336.8a.9 .9 111 1 0 -.7 1.7 .9 .9 111 1 0 .7 -1.7M225 350.5a1 .8 34 1 0 1.6 1.1 1 .8 34 1 0 -1.6 -1.1M223.3 349.4a.7 1 157 1 0 -1.3 .5 .7 1 157 1 0 1.3 -.5M216 359.3a.9 .6 51 1 0 1.1 1.4 .9 .6 51 1 0 -1.1 -1.4M220 345.2a1 1 155 1 0 -1.8 .8 1 1 155 1 0 1.8 -.8M220.5 342.1a1 .5 40 1 0 1.5 1.3 1 .5 40 1 0 -1.5 -1.3M197.1 361.7a.9 .8 50 1 0 1.2 1.4 .9 .8 50 1 0 -1.2 -1.4M229 363a1.4 .9 28 1 0 2.4 1.3 1.4 .9 28 1 0 -2.4 -1.3M199.6 352.7a.6 .7 12 1 0 1.2 .3 .6 .7 12 1 0 -1.2 -.3"/>
<path fill="#8a6c44" d="M227 363.9a3.1 1.1 112 1 0 -2.4 5.7 3.1 1.1 112 1 0 2.4 -5.7M204.2 347.9a2.2 .9 111 1 0 -1.6 4.1 2.2 .9 111 1 0 1.6 -4.1M232.6 346.6a2.6 .9 63 1 0 2.3 4.6 2.6 .9 63 1 0 -2.3 -4.6M215 343.5a2.3 1.3 95 1 0 -.5 4.7 2.3 1.3 95 1 0 .5 -4.7M224.1 354a2.5 1.2 176 1 0 -4.9 .3 2.5 1.2 176 1 0 4.9 -.3M213.8 343.2a2.4 1.2 18 1 0 4.5 1.6 2.4 1.2 18 1 0 -4.5 -1.6M226 348.5a2.5 1.2 27 1 0 4.4 2.3 2.5 1.2 27 1 0 -4.4 -2.3M223 359.4a2.7 1.1 34 1 0 4.4 3.1 2.7 1.1 34 1 0 -4.4 -3.1M204.3 346.7a2.1 1.2 136 1 0 -3.1 2.9 2.1 1.2 136 1 0 3.1 -2.9"/>
<path fill="#b8955c" d="M229.8 359.6a2.3 1 86 1 0 .3 4.6 2.3 1 86 1 0 -.3 -4.6M204.6 344a2.7 1 160 1 0 -5.2 1.8 2.7 1 160 1 0 5.2 -1.8M204 363.5a2.8 1.2 157 1 0 -5.1 2.1 2.8 1.2 157 1 0 5.1 -2.1M211.8 338.9a2.5 1.3 96 1 0 -.6 5 2.5 1.3 96 1 0 .6 -5M218.3 360.8a2.4 1.4 14 1 0 4.6 1.2 2.4 1.4 14 1 0 -4.6 -1.2M200.4 341.9a2.5 1.3 98 1 0 -.7 5 2.5 1.3 98 1 0 .7 -5"/>
<path fill="#d4b47a" d="M229.8 359.5a2 .7 107 1 0 -1.2 3.9 2 .7 107 1 0 1.2 -3.9M230.6 349.5a1.6 .7 93 1 0 -.2 3.2 1.6 .7 93 1 0 .2 -3.2M222.4 342.2a3.1 1.8 111 1 0 -2.3 5.8 3.1 1.8 111 1 0 2.3 -5.8M220.4 342.6a1.5 .7 11 1 0 3 .6 1.5 .7 11 1 0 -3 -.6M209.8 358.4a2.2 1 9 1 0 4.4 .7 2.2 1 9 1 0 -4.4 -.7M199.3 354.8a2.1 1 59 1 0 2.1 3.6 2.1 1 59 1 0 -2.1 -3.6M222.6 361.9a1.5 .5 171 1 0 -3 .5 1.5 .5 171 1 0 3 -.5M228.2 349.9a2.6 1.2 163 1 0 -5 1.5 2.6 1.2 163 1 0 5 -1.5M191.3 358a2.9 1.7 28 1 0 5.1 2.8 2.9 1.7 28 1 0 -5.1 -2.8M210.1 347.4a2.5 1.2 116 1 0 -2.2 4.6 2.5 1.2 116 1 0 2.2 -4.6M208.8 349.3a2.4 1.4 46 1 0 3.3 3.5 2.4 1.4 46 1 0 -3.3 -3.5M219 343.2a3 1.6 114 1 0 -2.5 5.5 3 1.6 114 1 0 2.5 -5.5M213.8 358.1a3 1.3 165 1 0 -5.9 1.5 3 1.3 165 1 0 5.9 -1.5M211.7 352.2a2.2 1.2 57 1 0 2.4 3.8 2.2 1.2 57 1 0 -2.4 -3.8M213.8 347.3a2.1 1.1 82 1 0 .6 4.2 2.1 1.1 82 1 0 -.6 -4.2M211.7 337.6a2.9 1.2 43 1 0 4.2 4 2.9 1.2 43 1 0 -4.2 -4M216.4 335.3a2.6 1.5 137 1 0 -3.8 3.5 2.6 1.5 137 1 0 3.8 -3.5M202.4 334.9a2.8 1.2 60 1 0 2.8 4.8 2.8 1.2 60 1 0 -2.8 -4.8M204.7 354.1a3.1 1.6 23 1 0 5.7 2.4 3.1 1.6 23 1 0 -5.7 -2.4"/>
<path fill="#e4cf9e" d="M211 333.1a2 1 125 1 0 -2.3 3.2 2 1 125 1 0 2.3 -3.2M217 344.8a1.7 1 100 1 0 -.6 3.4 1.7 1 100 1 0 .6 -3.4M222.3 351.9a3.1 1.2 28 1 0 5.4 2.9 3.1 1.2 28 1 0 -5.4 -2.9M220.5 346.2a2.8 1.6 110 1 0 -2 5.2 2.8 1.6 110 1 0 2 -5.2M195.7 346.5a2.3 .9 14 1 0 4.4 1.2 2.3 .9 14 1 0 -4.4 -1.2M219.2 344.5a2.3 1.1 86 1 0 .3 4.7 2.3 1.1 86 1 0 -.3 -4.7M225 351.3a2.5 1 163 1 0 -4.8 1.4 2.5 1 163 1 0 4.8 -1.4M218.5 358.7a2.5 1.1 40 1 0 3.7 3.2 2.5 1.1 40 1 0 -3.7 -3.2M217 361.2a2.5 1.1 62 1 0 2.4 4.5 2.5 1.1 62 1 0 -2.4 -4.5M226.2 335.6a3.2 1.7 123 1 0 -3.4 5.3 3.2 1.7 123 1 0 3.4 -5.3M232.1 340.5a3 1.7 158 1 0 -5.5 2.2 3 1.7 158 1 0 5.5 -2.2M191.4 344.3a2.9 1.5 44 1 0 4.2 4.1 2.9 1.5 44 1 0 -4.2 -4.1M192.6 345.1a2.5 1.5 45 1 0 3.5 3.6 2.5 1.5 45 1 0 -3.5 -3.6"/>
<path stroke="#357320" stroke-width=".75" fill="none" d="M219.7 352.4L218.2 351.7M219.7 352.4L215.2 347.9M219.7 352.4L223 346.3M219.7 352.4L226.2 355.1M219.7 352.4L220.5 353.3M219.7 352.4L219.4 354.6M219.7 352.4L218 359.4M219.7 352.4L216.6 354.2M201.1 363.3L202.4 363.6M201.1 363.3L202.4 365.3M201.1 363.3L201.2 365.2M201.1 363.3L199.3 364.4M201.1 363.3L198.3 363.3M201.1 363.3L201.1 360.5M211 345.6L208.7 339.2M211 345.6L213.6 344.3M211 345.6L212.8 346.7M211 345.6L211.7 346.4M211 345.6L207.7 347.8M213.9 354.6L208.7 354.4M213.9 354.6L214.5 355.7M213.9 354.6L213.7 358.9M213.9 354.6L210.1 357.7M213.9 354.6L211.9 355.1M215.2 357.8L216.2 357.6M215.2 357.8L214.9 361.9M215.2 357.8L213.1 359.3M215.2 357.8L216.1 356.3M219.9 345.3L220 344.1M219.9 345.3L220.4 346.3M219.9 345.3L220.7 348M219.9 345.3L218.3 350.1M219.9 345.3L216.8 346.8M219.9 345.3L218.4 345M228.9 363.5L229.3 362.6M228.9 363.5L231.2 362.4M228.9 363.5L230.3 363.9M228.9 363.5L232.2 366.4M228.9 363.5L229.2 365.7M228.9 363.5L227.7 364.4M207.4 343.7L207.6 341.7M207.4 343.7L214.6 343.3M207.4 343.7L209.2 345.3M207.4 343.7L208.5 348.6M207.4 343.7L203.1 346.7M207.4 343.7L201.7 343.5M199 351.6L197.2 352.7M199 351.6L196.5 352.2M199 351.6L204.8 349.1M199 351.6L202 353.8M199 351.6L198.8 356.5M199 351.6L198.7 354.1"/>
<path fill="#245c16" d="M207.7 347.8a2.2 1.2 146 1 0 -3.6 2.4 2.2 1.2 146 1 0 3.6 -2.4M203.6 354.2a2.5 1.4 2 1 0 5.1 .2 2.5 1.4 2 1 0 -5.1 -.2M221.1 343a3.3 1.8 177 1 0 -6.6 .3 3.3 1.8 177 1 0 6.6 -.3"/>
<path fill="#367c1f" d="M212 344.7a2.3 1.2 45 1 0 3.2 3.2 2.3 1.2 45 1 0 -3.2 -3.2M226 340.8a3.2 1.3 118 1 0 -3 5.5 3.2 1.3 118 1 0 3 -5.5M218 359.4a2.8 1.1 103 1 0 -1.3 5.5 2.8 1.1 103 1 0 1.3 -5.5M213.7 358.9a2.5 1.3 91 1 0 -.2 5 2.5 1.3 91 1 0 .2 -5M210.1 357.7a2.7 1.3 141 1 0 -4.2 3.4 2.7 1.3 141 1 0 4.2 -3.4M218.3 350.1a2.8 1.3 107 1 0 -1.7 5.4 2.8 1.3 107 1 0 1.7 -5.4M232.2 366.4a3.1 1.2 40 1 0 4.7 4 3.1 1.2 40 1 0 -4.7 -4M208.5 348.6a2.7 1.3 78 1 0 1.1 5.3 2.7 1.3 78 1 0 -1.1 -5.3"/>
<path fill="#4a9828" d="M206.8 333.7a2.9 1.6 70 1 0 2 5.5 2.9 1.6 70 1 0 -2 -5.5M196.7 343.4a2.5 1.2 1 1 0 5 .1 2.5 1.2 1 1 0 -5 -.1M208.7 347.4a2.1 .9 156 1 0 -3.9 1.7 2.1 .9 156 1 0 3.9 -1.7M198.8 356.5a2.8 1.6 92 1 0 -.2 5.6 2.8 1.6 92 1 0 .2 -5.6"/>
<path fill="#60b232" d="M214.9 361.9a3.1 1.5 94 1 0 -.4 6.1 3.1 1.5 94 1 0 .4 -6.1"/>
<path fill="#82ca4a" d="M226.2 355.1a2.7 1.5 22 1 0 5.1 2.1 2.7 1.5 22 1 0 -5.1 -2.1M203.1 346.7a2.6 1.6 144 1 0 -4.3 3 2.6 1.6 144 1 0 4.3 -3"/>
<path fill="#245c16" d="M213.2 349.3a2.8 1.5 25 1 0 5 2.4 2.8 1.5 25 1 0 -5 -2.4M213.1 344a2.7 1.4 10 1 0 5.3 1 2.7 1.4 10 1 0 -5.3 -1M237 359.5a3.3 1.7 153 1 0 -5.9 2.9 3.3 1.7 153 1 0 5.9 -2.9"/>
<path fill="#367c1f" d="M202.4 365.3a2.1 1.1 57 1 0 2.3 3.6 2.1 1.1 57 1 0 -2.3 -3.6M211.7 346.4a2.6 1.3 46 1 0 3.6 3.8 2.6 1.3 46 1 0 -3.6 -3.8M214.5 355.7a2.9 1.3 59 1 0 3 5 2.9 1.3 59 1 0 -3 -5M211.9 355.1a3.1 1.3 166 1 0 -6 1.4 3.1 1.3 166 1 0 6 -1.4M218.7 352.2a2.4 1.1 122 1 0 -2.6 4.1 2.4 1.1 122 1 0 2.6 -4.1M231.6 357.7a2.7 1.3 115 1 0 -2.3 4.8 2.7 1.3 115 1 0 2.3 -4.8M207.9 337a2.3 1.3 93 1 0 -.3 4.6 2.3 1.3 93 1 0 .3 -4.6"/>
<path fill="#4a9828" d="M219.4 354.6a2.8 1.1 97 1 0 -.7 5.6 2.8 1.1 97 1 0 .7 -5.6M201.2 363.2a3.4 1.5 87 1 0 .3 6.8 3.4 1.5 87 1 0 -.3 -6.8M193.2 363.2a2.6 1.1 0 1 0 5.1 0 2.6 1.1 0 1 0 -5.1 -0M220.7 348a2.7 1.4 72 1 0 1.6 5.1 2.7 1.4 72 1 0 -1.6 -5.1M216.8 346.8a3.2 1.5 153 1 0 -5.7 2.9 3.2 1.5 153 1 0 5.7 -2.9M227.7 364.4a2.6 1.1 143 1 0 -4.2 3.1 2.6 1.1 143 1 0 4.2 -3.1M197.4 352.7a2.5 1.1 150 1 0 -4.3 2.5 2.5 1.1 150 1 0 4.3 -2.5M198.1 352.2a2.7 1.1 168 1 0 -5.3 1.1 2.7 1.1 168 1 0 5.3 -1.1M202 353.8a2.2 1.2 35 1 0 3.6 2.6 2.2 1.2 35 1 0 -3.6 -2.6"/>
<path fill="#60b232" d="M220.5 353.3a3.1 1.3 47 1 0 4.1 4.6 3.1 1.3 47 1 0 -4.1 -4.6M216.6 354.2a2.5 1.2 149 1 0 -4.3 2.6 2.5 1.2 149 1 0 4.3 -2.6M202.4 363.6a2.7 1.3 13 1 0 5.3 1.2 2.7 1.3 13 1 0 -5.3 -1.2M199.3 364.4a3.2 1.4 148 1 0 -5.4 3.3 3.2 1.4 148 1 0 5.4 -3.3M212.8 346.7a3.1 1.5 31 1 0 5.4 3.2 3.1 1.5 31 1 0 -5.4 -3.2M213.1 359.3a2.2 1 144 1 0 -3.6 2.6 2.2 1 144 1 0 3.6 -2.6M198.7 354.1a2.4 1.2 96 1 0 -.5 4.8 2.4 1.2 96 1 0 .5 -4.8"/>
<path fill="#82ca4a" d="M201.2 354.5a3 1.4 90 1 0 -.1 6.1 3 1.4 90 1 0 .1 -6.1M217.5 342.3a2.2 1.2 153 1 0 -3.9 2 2.2 1.2 153 1 0 3.9 -2M221.9 356.8a2.8 1.6 171 1 0 -5.6 .8 2.8 1.6 171 1 0 5.6 -.8M220.7 338.7a2.7 1.3 97 1 0 -.7 5.4 2.7 1.3 97 1 0 .7 -5.4M220.4 346.3a2.5 1.4 58 1 0 2.6 4.3 2.5 1.4 58 1 0 -2.6 -4.3M229.5 363.9a3.4 1.7 13 1 0 6.6 1.5 3.4 1.7 13 1 0 -6.6 -1.5M229.2 364.5a2.6 1.6 81 1 0 .8 5.1 2.6 1.6 81 1 0 -.8 -5.1M209.2 345.3a3.2 1.8 43 1 0 4.7 4.4 3.2 1.8 43 1 0 -4.7 -4.4"/>
<rect x="191.6" y="374.1" width="45.4" height="40.6" rx="4.5" fill="url(#gd)" stroke="#76726b" stroke-width=".9"/>
<rect x="193.8" y="376.4" width="41" height="35.8" rx="2.5" fill="#3e2e1f"/>
<path fill="#5e4832" d="M207.9 403.1a.9 .7 161 1 0 -1.7 .6 .9 .7 161 1 0 1.7 -.6M208.5 396.7a.8 .9 99 1 0 -.3 1.5 .8 .9 99 1 0 .3 -1.5M222.1 392.2a.8 .6 9 1 0 1.6 .3 .8 .6 9 1 0 -1.6 -.3M202.5 391.9a1.3 .9 146 1 0 -2.2 1.5 1.3 .9 146 1 0 2.2 -1.5M201.8 378.7a1.4 .7 140 1 0 -2.1 1.8 1.4 .7 140 1 0 2.1 -1.8M233.2 397.7a.8 1.1 88 1 0 0 1.5 .8 1.1 88 1 0 -0 -1.5M207.6 408.2a1.5 .5 78 1 0 .6 2.9 1.5 .5 78 1 0 -.6 -2.9M208.4 409.2a1.2 1 113 1 0 -.9 2.1 1.2 1 113 1 0 .9 -2.1M227 404.3a.7 .7 70 1 0 .5 1.4 .7 .7 70 1 0 -.5 -1.4M211.1 381.3a1.5 1.1 27 1 0 2.7 1.5 1.5 1.1 27 1 0 -2.7 -1.5M219 377.4a1 .6 7 1 0 2.1 .3 1 .6 7 1 0 -2.1 -.3M221.6 407a1 .9 128 1 0 -1.2 1.5 1 .9 128 1 0 1.2 -1.5M202.4 408.7a1.1 .9 139 1 0 -1.7 1.4 1.1 .9 139 1 0 1.7 -1.4M200.3 383.2a.7 .9 26 1 0 1.3 .7 .7 .9 26 1 0 -1.3 -.7M230.3 397.2a1.5 1 106 1 0 -.8 2.8 1.5 1 106 1 0 .8 -2.8M210.4 383.9a.6 .5 122 1 0 -.7 1.1 .6 .5 122 1 0 .7 -1.1M199.6 400.2a.8 1.1 66 1 0 .6 1.5 .8 1.1 66 1 0 -.6 -1.5M218.6 382.8a1.1 .6 150 1 0 -1.9 1.1 1.1 .6 150 1 0 1.9 -1.1M199.4 400.7a.7 .5 84 1 0 .1 1.3 .7 .5 84 1 0 -.1 -1.3M201.3 383.8a1.1 .6 146 1 0 -1.9 1.2 1.1 .6 146 1 0 1.9 -1.2M201.8 394.5a1 .8 7 1 0 2 .3 1 .8 7 1 0 -2 -.3M228.8 391.9a.7 .7 11 1 0 1.4 .3 .7 .7 11 1 0 -1.4 -.3M222.8 383.5a1.1 .7 114 1 0 -.9 2 1.1 .7 114 1 0 .9 -2M209.8 400a1.2 1.1 136 1 0 -1.8 1.7 1.2 1.1 136 1 0 1.8 -1.7M206.6 391.9a.7 .8 51 1 0 .8 1 .7 .8 51 1 0 -.8 -1M202.6 407.7a1.1 1.1 171 1 0 -2.2 .3 1.1 1.1 171 1 0 2.2 -.3M230.1 400.1a1 1 76 1 0 .5 1.9 1 1 76 1 0 -.5 -1.9M226.1 393.7a.8 .6 116 1 0 -.7 1.4 .8 .6 116 1 0 .7 -1.4M212.7 380.6a1.1 .9 4 1 0 2.2 .2 1.1 .9 4 1 0 -2.2 -.2M202 397.5a.9 .9 124 1 0 -1.1 1.5 .9 .9 124 1 0 1.1 -1.5M196.6 379.4a.8 .6 58 1 0 .9 1.4 .8 .6 58 1 0 -.9 -1.4M199.5 384.4a1.4 1 103 1 0 -.7 2.7 1.4 1 103 1 0 .7 -2.7M193.7 387.3a1.1 .8 16 1 0 2.2 .6 1.1 .8 16 1 0 -2.2 -.6M197.1 384.4a1.5 1 11 1 0 3 .6 1.5 1 11 1 0 -3 -.6M226.8 381.9a.9 .5 159 1 0 -1.7 .6 .9 .5 159 1 0 1.7 -.6M209.9 406.8a1.6 1 178 1 0 -3.2 .1 1.6 1 178 1 0 3.2 -.1M219.1 390a.7 .8 178 1 0 -1.3 0 .7 .8 178 1 0 1.3 -0M206.1 401.6a1 1 143 1 0 -1.6 1.2 1 1 143 1 0 1.6 -1.2M212.2 408.4a1.5 .5 159 1 0 -2.9 1.1 1.5 .5 159 1 0 2.9 -1.1M229.1 402.6a.8 .9 87 1 0 .1 1.5 .8 .9 87 1 0 -.1 -1.5M221.5 399.2a.7 .5 48 1 0 .9 1 .7 .5 48 1 0 -.9 -1M200.1 401.7a.8 .5 65 1 0 .6 1.4 .8 .5 65 1 0 -.6 -1.4M199.3 408.3a1.3 .8 93 1 0 -.2 2.6 1.3 .8 93 1 0 .2 -2.6M230.2 385.2a1.3 .6 0 1 0 2.7 0 1.3 .6 0 1 0 -2.7 -0M203.6 393.2a1.6 .6 145 1 0 -2.6 1.8 1.6 .6 145 1 0 2.6 -1.8"/>
<path fill="#7e6448" d="M222.5 377.4a1.1 .8 15 1 0 2.1 .6 1.1 .8 15 1 0 -2.1 -.6M225.7 381.2a1.4 .9 46 1 0 1.9 2.1 1.4 .9 46 1 0 -1.9 -2.1M224.6 400.7a.9 1 36 1 0 1.5 1.1 .9 1 36 1 0 -1.5 -1.1M222.7 386.8a1.4 1 112 1 0 -1.1 2.6 1.4 1 112 1 0 1.1 -2.6M217.8 397.5a1.4 .8 33 1 0 2.3 1.5 1.4 .8 33 1 0 -2.3 -1.5M198.2 397.9a1.5 1 69 1 0 1.1 2.9 1.5 1 69 1 0 -1.1 -2.9M224.7 389.6a1 .6 45 1 0 1.4 1.4 1 .6 45 1 0 -1.4 -1.4M228 384.3a1.4 .5 52 1 0 1.7 2.2 1.4 .5 52 1 0 -1.7 -2.2M230.7 402.5a.6 .6 129 1 0 -.8 1 .6 .6 129 1 0 .8 -1M198.7 400.5a.8 .7 140 1 0 -1.3 1.1 .8 .7 140 1 0 1.3 -1.1M227.5 404.7a1 .7 179 1 0 -2.1 0 1 .7 179 1 0 2.1 -0M225.2 386.2a1.5 .8 3 1 0 3.1 .2 1.5 .8 3 1 0 -3.1 -.2M206.5 383.5a1 .7 65 1 0 .8 1.8 1 .7 65 1 0 -.8 -1.8M203.6 388.5a1.2 1 81 1 0 .4 2.4 1.2 1 81 1 0 -.4 -2.4M212.9 397.9a1.6 1 61 1 0 1.5 2.8 1.6 1 61 1 0 -1.5 -2.8M197.9 385.1a1 .7 128 1 0 -1.2 1.5 1 .7 128 1 0 1.2 -1.5M217.9 392.5a1 .6 14 1 0 2 .5 1 .6 14 1 0 -2 -.5M206.3 398.4a1.6 .8 163 1 0 -3 .9 1.6 .8 163 1 0 3 -.9M215.1 398.1a.8 .6 134 1 0 -1.1 1.1 .8 .6 134 1 0 1.1 -1.1M209.9 407.8a1.3 .8 107 1 0 -.7 2.4 1.3 .8 107 1 0 .7 -2.4M230.2 391a1.3 .5 114 1 0 -1.1 2.3 1.3 .5 114 1 0 1.1 -2.3M212.6 387.7a.6 .5 176 1 0 -1.2 .1 .6 .5 176 1 0 1.2 -.1M211.4 405.3a1.4 .5 0 1 0 2.9 0 1.4 .5 0 1 0 -2.9 -0M195.1 408.3a.6 .9 72 1 0 .4 1.1 .6 .9 72 1 0 -.4 -1.1M231.8 399a1.5 .7 110 1 0 -1 2.8 1.5 .7 110 1 0 1 -2.8"/>
<path fill="#8a6c44" d="M206.2 406.6a2.1 .9 124 1 0 -2.4 3.5 2.1 .9 124 1 0 2.4 -3.5M209.2 404.8a2.4 1 114 1 0 -2 4.4 2.4 1 114 1 0 2 -4.4M217.6 395.7a3.1 1.4 15 1 0 6 1.6 3.1 1.4 15 1 0 -6 -1.6M206.6 393.9a2.5 1.1 6 1 0 4.9 .6 2.5 1.1 6 1 0 -4.9 -.6M199.1 392.6a2.2 1 144 1 0 -3.5 2.5 2.2 1 144 1 0 3.5 -2.5M210.6 398.3a2.5 1.4 22 1 0 4.6 1.9 2.5 1.4 22 1 0 -4.6 -1.9M228.5 406.3a2.2 1.3 37 1 0 3.5 2.7 2.2 1.3 37 1 0 -3.5 -2.7"/>
<path fill="#b8955c" d="M209.2 393.9a1.8 1 106 1 0 -1 3.5 1.8 1 106 1 0 1 -3.5M205.5 381.7a3.1 1.3 6 1 0 6.2 .7 3.1 1.3 6 1 0 -6.2 -.7M226.7 378.1a2.2 1.2 171 1 0 -4.3 .6 2.2 1.2 171 1 0 4.3 -.6M214.8 407.3a3 1.7 34 1 0 5 3.4 3 1.7 34 1 0 -5 -3.4M211.4 403.5a3 1.5 0 1 0 6.1 0 3 1.5 0 1 0 -6.1 -0M203.6 393.4a2.2 1.3 77 1 0 1 4.4 2.2 1.3 77 1 0 -1 -4.4M235.3 380.6a2.1 1 170 1 0 -4.2 .7 2.1 1 170 1 0 4.2 -.7M217.7 382.1a2.7 1.2 164 1 0 -5.3 1.5 2.7 1.2 164 1 0 5.3 -1.5M210.2 385.4a2.3 1.3 62 1 0 2.1 4 2.3 1.3 62 1 0 -2.1 -4M206.8 389.1a3 1.4 122 1 0 -3.2 5.1 3 1.4 122 1 0 3.2 -5.1M228.7 393.6a2.7 1.3 146 1 0 -4.4 3 2.7 1.3 146 1 0 4.4 -3"/>
<path fill="#d4b47a" d="M223.9 383.8a2 .8 85 1 0 .3 3.9 2 .8 85 1 0 -.3 -3.9M227.8 403.4a3.1 1.6 37 1 0 4.9 3.8 3.1 1.6 37 1 0 -4.9 -3.8M205.6 408.3a3.2 1.8 60 1 0 3.1 5.6 3.2 1.8 60 1 0 -3.1 -5.6M208.6 401.6a3.2 1.5 117 1 0 -2.9 5.6 3.2 1.5 117 1 0 2.9 -5.6M211.3 394.1a2 .7 85 1 0 .3 3.9 2 .7 85 1 0 -.3 -3.9M196.3 400.8a2.7 1.2 29 1 0 4.8 2.7 2.7 1.2 29 1 0 -4.8 -2.7M219.1 397.7a2.5 1.4 171 1 0 -4.9 .7 2.5 1.4 171 1 0 4.9 -.7M198.9 389.2a2.4 1.4 98 1 0 -.7 4.8 2.4 1.4 98 1 0 .7 -4.8M216.5 397.9a2.1 1 160 1 0 -4 1.4 2.1 1 160 1 0 4 -1.4M215.1 404.6a3.3 1.4 53 1 0 3.9 5.4 3.3 1.4 53 1 0 -3.9 -5.4M210.9 386.9a2.2 1 63 1 0 2 4 2.2 1 63 1 0 -2 -4M212.8 387.1a3 1.6 74 1 0 1.6 5.9 3 1.6 74 1 0 -1.6 -5.9M206.5 390.5a3.3 1.5 92 1 0 -.3 6.5 3.3 1.5 92 1 0 .3 -6.5M230.7 385.1a3.1 1.6 56 1 0 3.5 5.2 3.1 1.6 56 1 0 -3.5 -5.2M205.7 375a3 1.6 67 1 0 2.3 5.5 3 1.6 67 1 0 -2.3 -5.5M217.1 378.1a2.9 1.7 139 1 0 -4.5 3.8 2.9 1.7 139 1 0 4.5 -3.8M211.9 395.4a3.3 1.5 12 1 0 6.5 1.5 3.3 1.5 12 1 0 -6.5 -1.5M218.8 388.1a2.2 1.2 69 1 0 1.6 4 2.2 1.2 69 1 0 -1.6 -4"/>
<path fill="#e4cf9e" d="M208.1 387.7a3.2 1.2 143 1 0 -5.1 3.8 3.2 1.2 143 1 0 5.1 -3.8M231.4 382.9a2.6 1.2 152 1 0 -4.7 2.5 2.6 1.2 152 1 0 4.7 -2.5M209.8 393.1a2.8 1.3 110 1 0 -2 5.2 2.8 1.3 110 1 0 2 -5.2M228.6 380.5a2.7 1.2 58 1 0 2.8 4.5 2.7 1.2 58 1 0 -2.8 -4.5M197.6 394.5a2.3 .9 147 1 0 -4 2.5 2.3 .9 147 1 0 4 -2.5M213.1 396.1a2.3 1.3 147 1 0 -3.9 2.5 2.3 1.3 147 1 0 3.9 -2.5M200.9 380.4a2.7 1.3 24 1 0 5 2.3 2.7 1.3 24 1 0 -5 -2.3M205 390.3a3.4 2 77 1 0 1.4 6.6 3.4 2 77 1 0 -1.4 -6.6M227.3 399.8a2.6 1.3 23 1 0 4.7 2 2.6 1.3 23 1 0 -4.7 -2M200 399.1a3.2 1.6 147 1 0 -5.4 3.5 3.2 1.6 147 1 0 5.4 -3.5M195.8 392.2a3.2 1.6 22 1 0 5.8 2.4 3.2 1.6 22 1 0 -5.8 -2.4"/>
<path stroke="#357320" stroke-width=".75" fill="none" d="M211.5 399.7L210.5 398.5M211.5 399.7L212.5 394.1M211.5 399.7L213 400.9M211.5 399.7L208.8 401.5M211.5 399.7L207.8 398.2M214.9 394.9L218.5 393.2M214.9 394.9L220.5 399.3M214.9 394.9L216 400.9M214.9 394.9L211.9 399.2M214.9 394.9L216.1 393.3M205.9 403.4L209.1 399.5M205.9 403.4L211.1 400.7M205.9 403.4L207.4 406.2M205.9 403.4L205.6 406.4M205.9 403.4L205.1 409.3M205.9 403.4L200.9 405.6M205.9 403.4L204.5 403.2M205.9 403.4L203 400.9M228.4 381.7L227.2 378.5M228.4 381.7L229.7 379M228.4 381.7L231.8 379.1M228.4 381.7L228.6 384.1M228.4 381.7L226.1 384.6M228.4 381.7L223.2 382.6M228.4 381.7L222.3 379.3M209.7 384.4L206.9 379.2M209.7 384.4L210.4 381.6M209.7 384.4L215.4 388.8M209.7 384.4L209.3 386.7M209.7 384.4L206.1 386.7M204.7 388.6L202.7 387M204.7 388.6L204.6 386.8M204.7 388.6L208.7 382.7M204.7 388.6L206.7 388.7M204.7 388.6L205.6 389.3M204.7 388.6L202.1 389M222.5 397.8L227.7 396.6M222.5 397.8L223.1 399M222.5 397.8L222 399.7M222.5 397.8L220.4 398.6M222.5 397.8L219.5 394.2M222.5 397.8L223 396.8M205 396L206.8 397.6M205 396L204.6 403.1M205 396L203.8 393.4M205 396L206.2 392.3M205 396L209.1 394.1M224 402.8L228.6 401.2M224 402.8L224.5 404.7M224 402.8L220.1 407.3M224 402.8L220.3 402.3M224 402.8L222.8 401.5M224 402.8L224.2 401.5M224 402.8L226 400.4"/>
<path fill="#245c16" d="M211.9 395.8a2.3 1.4 128 1 0 -2.8 3.6 2.3 1.4 128 1 0 2.8 -3.6M203.8 373.6a3.2 1.7 61 1 0 3 5.6 3.2 1.7 61 1 0 -3 -5.6M206.1 386.7a3.1 1.7 148 1 0 -5.4 3.3 3.1 1.7 148 1 0 5.4 -3.3M208 386.4a3.1 1.5 107 1 0 -1.9 5.9 3.1 1.5 107 1 0 1.9 -5.9"/>
<path fill="#367c1f" d="M224.2 390.5a3.2 1.8 154 1 0 -5.7 2.7 3.2 1.8 154 1 0 5.7 -2.7M216 400.9a2.2 1.2 79 1 0 .8 4.2 2.2 1.2 79 1 0 -.8 -4.2M211.9 399.2a2.7 1.4 125 1 0 -3.1 4.3 2.7 1.4 125 1 0 3.1 -4.3M205.1 409.3a2.6 1.3 98 1 0 -.7 5.1 2.6 1.3 98 1 0 .7 -5.1M199.5 397.9a2.3 1.2 41 1 0 3.4 3 2.3 1.2 41 1 0 -3.4 -3M212 377.8a3 1.4 124 1 0 -3.3 4.9 3 1.4 124 1 0 3.3 -4.9M232.3 395.5a2.3 1 167 1 0 -4.6 1 2.3 1 167 1 0 4.6 -1M215.1 401.7a2.6 1.5 7 1 0 5.2 .7 2.6 1.5 7 1 0 -5.2 -.7"/>
<path fill="#4a9828" d="M213.5 388.7a2.7 1.4 100 1 0 -1 5.4 2.7 1.4 100 1 0 1 -5.4M201.9 395.7a3.2 1.8 22 1 0 5.9 2.4 3.2 1.8 22 1 0 -5.9 -2.4M220.5 399.3a2.4 1.1 37 1 0 3.8 2.9 2.4 1.1 37 1 0 -3.8 -2.9M200.9 405.6a3.4 1.9 157 1 0 -6.3 2.6 3.4 1.9 157 1 0 6.3 -2.6M223.2 382.6a2.5 1.1 169 1 0 -4.8 .9 2.5 1.1 169 1 0 4.8 -.9M217.9 377.5a2.4 1 21 1 0 4.4 1.8 2.4 1 21 1 0 -4.4 -1.8M215.1 391.4a3.3 1.4 155 1 0 -6 2.7 3.3 1.4 155 1 0 6 -2.7M233.8 399.4a2.8 1.6 161 1 0 -5.3 1.8 2.8 1.6 161 1 0 5.3 -1.8M220.1 407.3a2.1 1.1 130 1 0 -2.8 3.2 2.1 1.1 130 1 0 2.8 -3.2"/>
<path fill="#60b232" d="M215.1 398.6a2.3 1.1 152 1 0 -4 2.1 2.3 1.1 152 1 0 4 -2.1M236 375.8a2.7 1.1 142 1 0 -4.2 3.3 2.7 1.1 142 1 0 4.2 -3.3M215.9 389.9a2.8 1.4 50 1 0 3.6 4.3 2.8 1.4 50 1 0 -3.6 -4.3M204.6 403.1a2.3 1.2 93 1 0 -.3 4.6 2.3 1.2 93 1 0 .3 -4.6"/>
<path fill="#82ca4a" d="M215.4 388.8a2.3 1.3 38 1 0 3.6 2.8 2.3 1.3 38 1 0 -3.6 -2.8"/>
<path fill="#245c16" d="M228.6 384.1a2.5 1.2 84 1 0 .5 5 2.5 1.2 84 1 0 -.5 -5M223.1 399a2.7 1.4 64 1 0 2.3 5 2.7 1.4 64 1 0 -2.3 -5"/>
<path fill="#367c1f" d="M207.5 394.9a2.3 1.2 50 1 0 3 3.6 2.3 1.2 50 1 0 -3 -3.6M226.1 384.6a2.3 1 128 1 0 -2.9 3.6 2.3 1 128 1 0 2.9 -3.6M211.8 375.9a2.9 1.3 103 1 0 -1.4 5.7 2.9 1.3 103 1 0 1.4 -5.7M209.3 386.7a2.2 1.3 98 1 0 -.7 4.4 2.2 1.3 98 1 0 .7 -4.4M198.4 383.7a2.7 1.6 38 1 0 4.3 3.4 2.7 1.6 38 1 0 -4.3 -3.4M202.1 389a3.2 1.6 171 1 0 -6.2 .9 3.2 1.6 171 1 0 6.2 -.9M222 399.7a3.2 1.9 103 1 0 -1.5 6.2 3.2 1.9 103 1 0 1.5 -6.2"/>
<path fill="#4a9828" d="M208.8 401.5a2.1 1 145 1 0 -3.5 2.4 2.1 1 145 1 0 3.5 -2.4M219.3 388.9a2.7 1.6 126 1 0 -3.2 4.4 2.7 1.6 126 1 0 3.2 -4.4M198.8 402.1a2.9 1.7 10 1 0 5.7 1.1 2.9 1.7 10 1 0 -5.7 -1.1M232.2 375.5a3 1.5 114 1 0 -2.5 5.4 3 1.5 114 1 0 2.5 -5.4M204.3 381.7a2.5 1.1 87 1 0 .2 5.1 2.5 1.1 87 1 0 -.2 -5.1M206.7 388.7a3 1.3 2 1 0 5.9 .3 3 1.3 2 1 0 -5.9 -.3M220.4 398.6a3.3 1.6 157 1 0 -6.1 2.6 3.3 1.6 157 1 0 6.1 -2.6M224.5 404.7a2.1 1.1 76 1 0 1 4.1 2.1 1.1 76 1 0 -1 -4.1M219.6 398.1a2.3 1.2 46 1 0 3.1 3.3 2.3 1.2 46 1 0 -3.1 -3.3"/>
<path fill="#60b232" d="M207.4 406.2a3.3 1.6 62 1 0 3.1 5.9 3.3 1.6 62 1 0 -3.1 -5.9M205.6 406.4a3.1 1.7 96 1 0 -.7 6.2 3.1 1.7 96 1 0 .7 -6.2M225.5 374.4a2.2 1.1 68 1 0 1.6 4.2 2.2 1.1 68 1 0 -1.6 -4.2M205.6 389.3a2.8 1.5 36 1 0 4.5 3.3 2.8 1.5 36 1 0 -4.5 -3.3M225.1 393a2.1 .9 118 1 0 -2 3.8 2.1 .9 118 1 0 2 -3.8M206.8 397.6a2.4 1.3 44 1 0 3.5 3.4 2.4 1.3 44 1 0 -3.5 -3.4M201.5 388.7a2.6 1.4 64 1 0 2.2 4.6 2.6 1.4 64 1 0 -2.2 -4.6M225.1 396.8a2.4 1.3 100 1 0 -.9 4.7 2.4 1.3 100 1 0 .9 -4.7M229.3 396.6a2.5 1.2 130 1 0 -3.3 3.8 2.5 1.2 130 1 0 3.3 -3.8"/>
<path fill="#82ca4a" d="M213 400.9a2.4 1 38 1 0 3.8 3 2.4 1 38 1 0 -3.8 -3"/>
<rect x="240" y="329" width="49.2" height="87.2" fill="#1f1d1a"/>
<rect x="241.6" y="330.5" width="46" height="40.6" rx="4.5" fill="url(#gd)" stroke="#76726b" stroke-width=".9"/>
<rect x="243.8" y="332.8" width="41.6" height="35.8" rx="2.5" fill="#3e2e1f"/>
<path fill="#5e4832" d="M276.1 336.1a1.1 .5 130 1 0 -1.5 1.7 1.1 .5 130 1 0 1.5 -1.7M281.6 341.2a1.4 .9 165 1 0 -2.8 .7 1.4 .9 165 1 0 2.8 -.7M247.5 351.5a1.1 .9 118 1 0 -1 1.9 1.1 .9 118 1 0 1 -1.9M282 360.7a.8 .6 25 1 0 1.5 .7 .8 .6 25 1 0 -1.5 -.7M264.8 335.8a.7 1 67 1 0 .6 1.4 .7 1 67 1 0 -.6 -1.4M269.4 364a1.2 1 121 1 0 -1.3 2.1 1.2 1 121 1 0 1.3 -2.1M282.1 344.7a.8 .7 106 1 0 -.4 1.5 .8 .7 106 1 0 .4 -1.5M259.1 360.4a1.5 1 71 1 0 .9 2.8 1.5 1 71 1 0 -.9 -2.8M256.1 349.1a1.6 .6 34 1 0 2.6 1.8 1.6 .6 34 1 0 -2.6 -1.8M267.2 355.4a.7 .5 113 1 0 -.6 1.3 .7 .5 113 1 0 .6 -1.3M271.5 341a.9 .8 64 1 0 .8 1.7 .9 .8 64 1 0 -.8 -1.7M262.4 337.5a.9 1.1 119 1 0 -.9 1.6 .9 1.1 119 1 0 .9 -1.6M275.3 363.3a1 .6 46 1 0 1.4 1.5 1 .6 46 1 0 -1.4 -1.5M258.8 350.3a1.3 .9 42 1 0 1.9 1.7 1.3 .9 42 1 0 -1.9 -1.7M261.4 362.9a1.3 1.1 166 1 0 -2.6 .6 1.3 1.1 166 1 0 2.6 -.6M260.2 364.7a1.4 .7 61 1 0 1.3 2.5 1.4 .7 61 1 0 -1.3 -2.5M266.3 364.8a1.4 .7 157 1 0 -2.5 1 1.4 .7 157 1 0 2.5 -1M246.6 336.1a.7 .6 69 1 0 .5 1.3 .7 .6 69 1 0 -.5 -1.3M260.2 354.2a1.4 .7 112 1 0 -1.1 2.7 1.4 .7 112 1 0 1.1 -2.7M261.6 351.2a1.4 .7 28 1 0 2.4 1.3 1.4 .7 28 1 0 -2.4 -1.3M254.1 343a1.1 .6 19 1 0 2 .7 1.1 .6 19 1 0 -2 -.7M272.2 339.6a.7 .9 133 1 0 -.9 1 .7 .9 133 1 0 .9 -1M260.2 348.6a1.5 1 145 1 0 -2.4 1.7 1.5 1 145 1 0 2.4 -1.7M258.6 357a1.4 1.1 45 1 0 1.9 2 1.4 1.1 45 1 0 -1.9 -2M254.4 361.9a1.3 .7 95 1 0 -.2 2.5 1.3 .7 95 1 0 .2 -2.5M257.7 352.4a1 1.1 159 1 0 -1.9 .7 1 1.1 159 1 0 1.9 -.7M273.8 353.1a1.3 .9 161 1 0 -2.4 .8 1.3 .9 161 1 0 2.4 -.8M266 366.1a1.3 .6 86 1 0 .2 2.5 1.3 .6 86 1 0 -.2 -2.5M263.8 334.5a1.5 .7 36 1 0 2.5 1.8 1.5 .7 36 1 0 -2.5 -1.8M272.3 357.1a1.5 .9 124 1 0 -1.7 2.4 1.5 .9 124 1 0 1.7 -2.4M270.9 366.1a1.1 .8 19 1 0 2 .7 1.1 .8 19 1 0 -2 -.7M260.1 342.7a.7 .5 56 1 0 .7 1.1 .7 .5 56 1 0 -.7 -1.1M281.5 352.4a1.5 .5 179 1 0 -2.9 0 1.5 .5 179 1 0 2.9 -0M265.6 339.6a1.1 .9 65 1 0 .9 2 1.1 .9 65 1 0 -.9 -2M284.3 339.1a1 .9 150 1 0 -1.7 1 1 .9 150 1 0 1.7 -1M260.5 334.9a1.4 .7 5 1 0 2.9 .3 1.4 .7 5 1 0 -2.9 -.3M276.4 338.2a1.2 1 61 1 0 1.1 2.1 1.2 1 61 1 0 -1.1 -2.1M268.3 335.7a1.2 .5 68 1 0 .9 2.2 1.2 .5 68 1 0 -.9 -2.2M284.2 348.5a1.1 1 104 1 0 -.5 2 1.1 1 104 1 0 .5 -2M249.9 338a.8 .5 94 1 0 -.1 1.7 .8 .5 94 1 0 .1 -1.7M271.1 344.7a1.1 .5 93 1 0 -.2 2.3 1.1 .5 93 1 0 .2 -2.3M258.7 353.3a.7 .7 77 1 0 .3 1.4 .7 .7 77 1 0 -.3 -1.4M257 363.3a1.2 .7 170 1 0 -2.4 .4 1.2 .7 170 1 0 2.4 -.4M269.6 348.7a1.4 .7 27 1 0 2.5 1.3 1.4 .7 27 1 0 -2.5 -1.3M283.7 366.1a.9 .6 56 1 0 1 1.6 .9 .6 56 1 0 -1 -1.6M275.5 353.2a1 .8 90 1 0 -0 2 1 .8 90 1 0 0 -2M274.1 342.8a.7 .7 27 1 0 1.2 .6 .7 .7 27 1 0 -1.2 -.6M256.5 358.2a1.3 .8 107 1 0 -.8 2.5 1.3 .8 107 1 0 .8 -2.5M266.5 349a1.6 .7 141 1 0 -2.4 1.9 1.6 .7 141 1 0 2.4 -1.9"/>
<path fill="#7e6448" d="M246.8 340.1a1.4 .7 177 1 0 -2.9 .1 1.4 .7 177 1 0 2.9 -.1M251.2 362a1.3 .9 119 1 0 -1.3 2.4 1.3 .9 119 1 0 1.3 -2.4M278.6 361.8a1.6 .8 122 1 0 -1.7 2.6 1.6 .8 122 1 0 1.7 -2.6M256.7 346.7a1.3 1.1 146 1 0 -2.2 1.5 1.3 1.1 146 1 0 2.2 -1.5M256 352.2a1.5 .9 123 1 0 -1.7 2.5 1.5 .9 123 1 0 1.7 -2.5M278.6 340.2a1.5 .9 4 1 0 2.9 .2 1.5 .9 4 1 0 -2.9 -.2M260.4 359.3a1.3 1 96 1 0 -.3 2.5 1.3 1 96 1 0 .3 -2.5M272.4 354.6a1.2 .5 159 1 0 -2.3 .9 1.2 .5 159 1 0 2.3 -.9M270.9 334.8a1.5 .7 92 1 0 -.1 3 1.5 .7 92 1 0 .1 -3M263.6 333a1.2 1 109 1 0 -.8 2.2 1.2 1 109 1 0 .8 -2.2M246.8 361.8a.7 .8 97 1 0 -.2 1.5 .7 .8 97 1 0 .2 -1.5M254.3 353.4a.8 .5 93 1 0 -.1 1.6 .8 .5 93 1 0 .1 -1.6M271.7 335.2a.6 .7 16 1 0 1.2 .4 .6 .7 16 1 0 -1.2 -.4M251.5 341.6a1.6 .8 14 1 0 3.1 .8 1.6 .8 14 1 0 -3.1 -.8M256.8 359.4a1.3 1.1 112 1 0 -1 2.3 1.3 1.1 112 1 0 1 -2.3M245.8 335a1.1 .7 86 1 0 .1 2.2 1.1 .7 86 1 0 -.1 -2.2M259.7 354a1.5 1.1 68 1 0 1.1 2.8 1.5 1.1 68 1 0 -1.1 -2.8M263.4 333a1.3 .5 127 1 0 -1.5 2 1.3 .5 127 1 0 1.5 -2M253 334.4a1 .8 64 1 0 .9 1.8 1 .8 64 1 0 -.9 -1.8M246.6 366a.6 .5 24 1 0 1.1 .5 .6 .5 24 1 0 -1.1 -.5M280 349a1.6 .7 66 1 0 1.2 2.9 1.6 .7 66 1 0 -1.2 -2.9"/>
<path fill="#8a6c44" d="M252 364.6a2.9 1.5 104 1 0 -1.4 5.5 2.9 1.5 104 1 0 1.4 -5.5M252.3 332.5a2.9 1.4 50 1 0 3.7 4.4 2.9 1.4 50 1 0 -3.7 -4.4M273.3 347.9a3 1.7 87 1 0 .2 6 3 1.7 87 1 0 -.2 -6M265.5 353.9a2.6 1.2 14 1 0 5.1 1.3 2.6 1.2 14 1 0 -5.1 -1.3"/>
<path fill="#b8955c" d="M263.2 352.8a2.4 .9 53 1 0 2.8 3.8 2.4 .9 53 1 0 -2.8 -3.8M270.9 355a3.1 1.2 96 1 0 -.8 6.2 3.1 1.2 96 1 0 .8 -6.2M270.6 360.7a2.6 1.4 35 1 0 4.2 3 2.6 1.4 35 1 0 -4.2 -3M261.6 349a1.6 .8 63 1 0 1.4 2.9 1.6 .8 63 1 0 -1.4 -2.9M262.6 347.4a2.4 1 59 1 0 2.4 4.1 2.4 1 59 1 0 -2.4 -4.1M271.3 361.7a3.1 1.6 55 1 0 3.5 5.2 3.1 1.6 55 1 0 -3.5 -5.2M261.4 343.9a2.7 1.5 77 1 0 1.2 5.3 2.7 1.5 77 1 0 -1.2 -5.3M261.1 346.3a2.7 1.5 141 1 0 -4.2 3.3 2.7 1.5 141 1 0 4.2 -3.3M247.1 352a2.3 1.3 176 1 0 -4.6 .3 2.3 1.3 176 1 0 4.6 -.3M258.7 366.8a3 1.5 29 1 0 5.3 3 3 1.5 29 1 0 -5.3 -3M268.9 360.7a2.2 .9 134 1 0 -3.1 3.1 2.2 .9 134 1 0 3.1 -3.1"/>
<path fill="#d4b47a" d="M265.3 341.4a2.6 1.3 34 1 0 4.3 3 2.6 1.3 34 1 0 -4.3 -3M276.8 337.6a2.6 1.2 122 1 0 -2.8 4.3 2.6 1.2 122 1 0 2.8 -4.3M259.3 357.8a3 1.3 69 1 0 2.1 5.5 3 1.3 69 1 0 -2.1 -5.5M276.1 342.6a1.8 .9 89 1 0 0 3.6 1.8 .9 89 1 0 -0 -3.6M264.2 352.8a2.7 1.3 92 1 0 -.2 5.4 2.7 1.3 92 1 0 .2 -5.4M249.7 352.7a2 1 162 1 0 -3.8 1.2 2 1 162 1 0 3.8 -1.2M244.6 338.4a3.1 1.4 11 1 0 6 1.2 3.1 1.4 11 1 0 -6 -1.2M276.9 359.1a2.7 1.5 94 1 0 -.4 5.3 2.7 1.5 94 1 0 .4 -5.3M271.4 346.6a3 1.3 40 1 0 4.5 3.9 3 1.3 40 1 0 -4.5 -3.9M277.2 342.9a2.4 1 88 1 0 .2 4.8 2.4 1 88 1 0 -.2 -4.8M276.3 352.9a3.4 1.6 149 1 0 -5.8 3.5 3.4 1.6 149 1 0 5.8 -3.5M267.2 344.4a2.3 1.1 111 1 0 -1.7 4.4 2.3 1.1 111 1 0 1.7 -4.4M255.8 339.7a3.2 1.4 96 1 0 -.7 6.4 3.2 1.4 96 1 0 .7 -6.4M251.4 364.6a2.9 1.6 130 1 0 -3.8 4.4 2.9 1.6 130 1 0 3.8 -4.4M253.2 350.6a3.2 1.3 92 1 0 -.3 6.4 3.2 1.3 92 1 0 .3 -6.4M251.8 364.8a2.5 1.2 118 1 0 -2.3 4.3 2.5 1.2 118 1 0 2.3 -4.3M270.1 348.7a3 1.6 64 1 0 2.5 5.4 3 1.6 64 1 0 -2.5 -5.4M244.6 334.7a2.3 1.2 33 1 0 3.9 2.6 2.3 1.2 33 1 0 -3.9 -2.6"/>
<path fill="#e4cf9e" d="M252.6 342.2a3.1 1.8 51 1 0 3.9 4.9 3.1 1.8 51 1 0 -3.9 -4.9M281.5 342a2.8 1.4 7 1 0 5.5 .7 2.8 1.4 7 1 0 -5.5 -.7M255.9 338a2.7 1.2 12 1 0 5.2 1.2 2.7 1.2 12 1 0 -5.2 -1.2M275.6 348.5a3 1.6 90 1 0 -0 5.9 3 1.6 90 1 0 0 -5.9M256.5 357.1a1.8 1 81 1 0 .5 3.6 1.8 1 81 1 0 -.5 -3.6M276 335.6a2.7 1.5 114 1 0 -2.3 4.9 2.7 1.5 114 1 0 2.3 -4.9M282.3 343.3a2.1 1.1 167 1 0 -4.1 .9 2.1 1.1 167 1 0 4.1 -.9M276.2 352.4a2.6 1.2 156 1 0 -4.8 2 2.6 1.2 156 1 0 4.8 -2M283.7 349.7a2.1 1.2 160 1 0 -4 1.4 2.1 1.2 160 1 0 4 -1.4M272.3 350.3a3.3 1.6 158 1 0 -6.1 2.4 3.3 1.6 158 1 0 6.1 -2.4M258.8 333.1a3.2 1.4 53 1 0 3.9 5.2 3.2 1.4 53 1 0 -3.9 -5.2M255.1 331.4a2.7 1.3 118 1 0 -2.6 4.7 2.7 1.3 118 1 0 2.6 -4.7M246.5 342.7a2.9 1.6 140 1 0 -4.4 3.7 2.9 1.6 140 1 0 4.4 -3.7"/>
<path stroke="#357320" stroke-width=".75" fill="none" d="M271.3 345.8L277.7 347.6M271.3 345.8L273.7 349.9M271.3 345.8L266.9 351.4M271.3 345.8L268.7 346.2M271.3 345.8L270.1 344.5M271.3 345.8L269.7 341.8M277.5 351.9L279.8 352.3M277.5 351.9L279.9 353.8M277.5 351.9L274.5 351.8M268.5 357.6L266.1 361.8M268.5 357.6L265.7 359.6M268.5 357.6L263.5 353.6M268.5 357.6L269.6 355.7M268.5 357.6L269.6 358.2M263.6 353.7L263.5 355.9M263.6 353.7L261.8 355.8M263.6 353.7L257.9 356.2M263.6 353.7L256.6 354.8M263.6 353.7L258.6 351M263.6 353.7L266.1 357.6M254.5 351.5L250.1 347M254.5 351.5L257 354.6M254.5 351.5L253.5 355.2M254.5 351.5L253.8 352.3M252.6 363.3L249 362.9M252.6 363.3L248.3 357.2M252.6 363.3L257.5 359.3M252.6 363.3L257.5 363.2M273.6 356L279.1 351.3M273.6 356L277.1 357.8M273.6 356L274.4 356.8M273.6 356L272.9 359.5M265.5 342L268.1 345.7M265.5 342L263.1 347.6M265.5 342L264.4 342.7M265.5 342L265.5 335.2M265.5 342L266.3 336.7M265.5 342L270.1 337.5M265.5 342L267.4 341.6M265.5 342L271.1 343.3M251 338.9L247.9 338.5M251 338.9L255.1 336.5M251 338.9L254.2 338.5M251 338.9L257.7 341.6M251 338.9L252 340.8M251 338.9L248.5 344.2M251 338.9L247.3 339.4"/>
<path fill="#245c16" d="M257 354.6a2.7 1.3 51 1 0 3.4 4.3 2.7 1.3 51 1 0 -3.4 -4.3M262.5 355.2a3.2 1.5 140 1 0 -5 4.1 3.2 1.5 140 1 0 5 -4.1M268.1 345.7a2.2 1.2 54 1 0 2.6 3.6 2.2 1.2 54 1 0 -2.6 -3.6"/>
<path fill="#367c1f" d="M266.1 361.8a3 1.3 119 1 0 -2.9 5.2 3 1.3 119 1 0 2.9 -5.2M259 350a2.9 1.3 38 1 0 4.5 3.6 2.9 1.3 38 1 0 -4.5 -3.6M266.1 357.6a2.3 1.1 57 1 0 2.5 3.8 2.3 1.1 57 1 0 -2.5 -3.8M246.6 343.6a2.4 1.3 45 1 0 3.4 3.5 2.4 1.3 45 1 0 -3.4 -3.5M245.8 353.6a2.2 .9 55 1 0 2.5 3.6 2.2 .9 55 1 0 -2.5 -3.6M282.6 348.4a2.3 1.1 139 1 0 -3.5 3 2.3 1.1 139 1 0 3.5 -3M263.1 347.6a2.3 1.1 112 1 0 -1.8 4.2 2.3 1.1 112 1 0 1.8 -4.2M247.3 339.4a2.9 1.4 172 1 0 -5.7 .7 2.9 1.4 172 1 0 5.7 -.7"/>
<path fill="#4a9828" d="M273.7 349.9a3 1.4 60 1 0 3 5.3 3 1.4 60 1 0 -3 -5.3M267.3 336a3.1 1.3 67 1 0 2.4 5.8 3.1 1.3 67 1 0 -2.4 -5.8M257.9 356.2a3.1 1.3 156 1 0 -5.7 2.5 3.1 1.3 156 1 0 5.7 -2.5M252.8 347.8a3.3 1.6 28 1 0 5.8 3.2 3.3 1.6 28 1 0 -5.8 -3.2M253.5 355.2a3.1 1.3 105 1 0 -1.7 6 3.1 1.3 105 1 0 1.7 -6M262.1 363.2a2.3 1 179 1 0 -4.6 .1 2.3 1 179 1 0 4.6 -.1M265.6 330.8a2.2 1.1 90 1 0 -0 4.4 2.2 1.1 90 1 0 0 -4.4M267.2 331.5a2.7 1.3 99 1 0 -.9 5.3 2.7 1.3 99 1 0 .9 -5.3M273.7 334a2.5 1 136 1 0 -3.6 3.5 2.5 1 136 1 0 3.6 -3.5"/>
<path fill="#60b232" d="M277.7 347.6a2.3 1.3 16 1 0 4.5 1.3 2.3 1.3 16 1 0 -4.5 -1.3M266.9 351.4a2.4 1.3 128 1 0 -3 3.8 2.4 1.3 128 1 0 3 -3.8M256.6 354.8a2.8 1.4 171 1 0 -5.6 .8 2.8 1.4 171 1 0 5.6 -.8M277.1 357.8a2.7 1.2 27 1 0 4.8 2.4 2.7 1.2 27 1 0 -4.8 -2.4M260.8 333a3.3 1.4 148 1 0 -5.7 3.4 3.3 1.4 148 1 0 5.7 -3.4M257.7 341.6a3.4 1.7 21 1 0 6.3 2.5 3.4 1.7 21 1 0 -6.3 -2.5"/>
<path fill="#82ca4a" d="M271.1 343.3a3.1 1.6 12 1 0 6.1 1.4 3.1 1.6 12 1 0 -6.1 -1.4M248.5 344.2a2.7 1.1 115 1 0 -2.4 4.9 2.7 1.1 115 1 0 2.4 -4.9"/>
<path fill="#245c16" d="M253.8 352.3a2.4 1.2 131 1 0 -3.2 3.5 2.4 1.2 131 1 0 3.2 -3.5"/>
<path fill="#367c1f" d="M279.9 353.8a3.2 1.4 39 1 0 4.9 4.1 3.2 1.4 39 1 0 -4.9 -4.1M264.4 342.7a3.1 1.3 144 1 0 -5 3.6 3.1 1.3 144 1 0 5 -3.6M272 340.7a2.3 .9 169 1 0 -4.6 .9 2.3 .9 169 1 0 4.6 -.9M259.2 337.9a2.5 1.2 172 1 0 -5 .7 2.5 1.2 172 1 0 5 -.7"/>
<path fill="#4a9828" d="M268.7 346.2a2.9 1.7 170 1 0 -5.8 .9 2.9 1.7 170 1 0 5.8 -.9M266 340.4a2.9 1.4 44 1 0 4.1 4.1 2.9 1.4 44 1 0 -4.1 -4.1M279.8 352.3a2.7 1.4 10 1 0 5.4 1 2.7 1.4 10 1 0 -5.4 -1M268.6 351.6a3 1.3 1 1 0 5.9 .1 3 1.3 1 1 0 -5.9 -.1M265.7 359.6a2.7 1.6 143 1 0 -4.3 3.2 2.7 1.6 143 1 0 4.3 -3.2M261.8 355.8a3 1.8 131 1 0 -4 4.5 3 1.8 131 1 0 4 -4.5M244.8 362.4a2.1 .9 6 1 0 4.2 .5 2.1 .9 6 1 0 -4.2 -.5M274.4 356.8a2.7 1.4 45 1 0 3.8 3.9 2.7 1.4 45 1 0 -3.8 -3.9M242.5 337.8a2.7 1.2 7 1 0 5.4 .7 2.7 1.2 7 1 0 -5.4 -.7M252 340.8a2.1 1.2 62 1 0 2 3.7 2.1 1.2 62 1 0 -2 -3.7"/>
<path fill="#60b232" d="M273 350a3.3 1.6 120 1 0 -3.4 5.7 3.3 1.6 120 1 0 3.4 -5.7M269.6 358.2a2.9 1.5 29 1 0 5.1 2.9 2.9 1.5 29 1 0 -5.1 -2.9M263.5 355.9a3.1 1.2 91 1 0 -.1 6.1 3.1 1.2 91 1 0 .1 -6.1"/>
<path fill="#82ca4a" d="M272.9 359.5a3 1.6 100 1 0 -1.1 6 3 1.6 100 1 0 1.1 -6"/>
<rect x="241.6" y="374.1" width="46" height="40.6" rx="4.5" fill="url(#gd)" stroke="#76726b" stroke-width=".9"/>
<rect x="243.8" y="376.4" width="41.6" height="35.8" rx="2.5" fill="#3e2e1f"/>
<path fill="#5e4832" d="M252.9 401.8a1.1 .7 48 1 0 1.5 1.7 1.1 .7 48 1 0 -1.5 -1.7M265.6 398.3a.7 .7 58 1 0 .7 1.2 .7 .7 58 1 0 -.7 -1.2M269.8 404.9a1 .7 103 1 0 -.5 1.9 1 .7 103 1 0 .5 -1.9M271.3 394a1.4 .5 56 1 0 1.6 2.4 1.4 .5 56 1 0 -1.6 -2.4M268.6 399.5a1.3 .8 77 1 0 .5 2.5 1.3 .8 77 1 0 -.5 -2.5M266.4 383.4a.7 .9 173 1 0 -1.5 .2 .7 .9 173 1 0 1.5 -.2M254.4 394.8a.9 .6 47 1 0 1.2 1.3 .9 .6 47 1 0 -1.2 -1.3M263.9 383.9a1.4 .8 174 1 0 -2.9 .3 1.4 .8 174 1 0 2.9 -.3M265.7 399.5a.8 1.1 46 1 0 1.1 1.1 .8 1.1 46 1 0 -1.1 -1.1M265.6 398.8a.8 .7 28 1 0 1.4 .7 .8 .7 28 1 0 -1.4 -.7M270 391.5a1.4 1 121 1 0 -1.4 2.3 1.4 1 121 1 0 1.4 -2.3M246.9 376.7a.7 .9 85 1 0 .1 1.4 .7 .9 85 1 0 -.1 -1.4M265.1 386.3a1 .6 24 1 0 1.8 .8 1 .6 24 1 0 -1.8 -.8M262.7 383.2a1.5 1 89 1 0 0 3 1.5 1 89 1 0 -0 -3M281.3 396.8a1 1 101 1 0 -.4 2 1 1 101 1 0 .4 -2M261.2 382.5a1.5 1 95 1 0 -.3 2.9 1.5 1 95 1 0 .3 -2.9M256.6 385.3a1.1 .5 148 1 0 -1.9 1.2 1.1 .5 148 1 0 1.9 -1.2M280.5 394.4a.8 .6 41 1 0 1.3 1.1 .8 .6 41 1 0 -1.3 -1.1M265.8 380.5a1.5 .6 114 1 0 -1.2 2.7 1.5 .6 114 1 0 1.2 -2.7M262.4 397.3a1 .8 6 1 0 2 .2 1 .8 6 1 0 -2 -.2M258.5 397.9a1 .9 36 1 0 1.6 1.2 1 .9 36 1 0 -1.6 -1.2M281.4 377.2a1.1 1.1 44 1 0 1.6 1.6 1.1 1.1 44 1 0 -1.6 -1.6M270.8 390.1a1.2 1.1 128 1 0 -1.5 1.9 1.2 1.1 128 1 0 1.5 -1.9M272.8 387.6a.6 1 62 1 0 .6 1.2 .6 1 62 1 0 -.6 -1.2M259 383.9a1 .9 141 1 0 -1.5 1.2 1 .9 141 1 0 1.5 -1.2M282.7 406.6a.8 .7 6 1 0 1.7 .2 .8 .7 6 1 0 -1.7 -.2M251.7 409.5a.8 1.1 174 1 0 -1.6 .2 .8 1.1 174 1 0 1.6 -.2M246.5 407.1a.6 .6 35 1 0 1 .7 .6 .6 35 1 0 -1 -.7M268.7 387a1.5 .9 20 1 0 2.8 1 1.5 .9 20 1 0 -2.8 -1M260.2 380.6a1 .8 77 1 0 .4 2 1 .8 77 1 0 -.4 -2M279.2 398.9a1.4 .6 18 1 0 2.6 .9 1.4 .6 18 1 0 -2.6 -.9M282.2 404.1a1.4 1 140 1 0 -2.1 1.7 1.4 1 140 1 0 2.1 -1.7M268.8 404.8a1.2 1 22 1 0 2.2 .9 1.2 1 22 1 0 -2.2 -.9M275.2 389.5a.9 .9 66 1 0 .7 1.6 .9 .9 66 1 0 -.7 -1.6M268.8 394.4a1.6 .9 23 1 0 2.9 1.2 1.6 .9 23 1 0 -2.9 -1.2M272.5 405a.9 1 82 1 0 .2 1.9 .9 1 82 1 0 -.2 -1.9M248.7 407.4a1.1 1 122 1 0 -1.1 1.8 1.1 1 122 1 0 1.1 -1.8M256.4 404.7a.7 .9 54 1 0 .8 1.1 .7 .9 54 1 0 -.8 -1.1M280.9 387a1 .9 152 1 0 -1.8 .9 1 .9 152 1 0 1.8 -.9M269.8 378.6a.9 .8 74 1 0 .5 1.8 .9 .8 74 1 0 -.5 -1.8M249.7 392a1.1 .5 144 1 0 -1.7 1.3 1.1 .5 144 1 0 1.7 -1.3"/>
<path fill="#7e6448" d="M264.5 378.4a.8 .9 0 1 0 1.6 0 .8 .9 0 1 0 -1.6 -0M254.5 395.2a1.5 .7 48 1 0 2 2.2 1.5 .7 48 1 0 -2 -2.2M258.3 401.8a.8 .9 64 1 0 .7 1.4 .8 .9 64 1 0 -.7 -1.4M251.5 404.6a1.4 .9 99 1 0 -.4 2.7 1.4 .9 99 1 0 .4 -2.7M244.7 385.4a1.3 .7 59 1 0 1.3 2.2 1.3 .7 59 1 0 -1.3 -2.2M270.3 388.9a1.5 1 114 1 0 -1.2 2.8 1.5 1 114 1 0 1.2 -2.8M259 386.8a1 .7 124 1 0 -1.1 1.6 1 .7 124 1 0 1.1 -1.6M257.4 408.5a.8 .9 109 1 0 -.5 1.4 .8 .9 109 1 0 .5 -1.4M248.5 395.8a.7 1.1 156 1 0 -1.2 .5 .7 1.1 156 1 0 1.2 -.5M261.1 410.4a.6 .5 110 1 0 -.4 1.2 .6 .5 110 1 0 .4 -1.2M250.3 393.2a.9 .7 15 1 0 1.7 .5 .9 .7 15 1 0 -1.7 -.5M285.3 410.1a1.2 .6 157 1 0 -2.1 .9 1.2 .6 157 1 0 2.1 -.9M257.9 405.5a.8 .9 33 1 0 1.3 .9 .8 .9 33 1 0 -1.3 -.9M262 404.7a1.1 .6 88 1 0 .1 2.2 1.1 .6 88 1 0 -.1 -2.2M250.2 406.7a1.6 .7 102 1 0 -.7 3.1 1.6 .7 102 1 0 .7 -3.1M275.2 388.7a.7 .8 82 1 0 .2 1.3 .7 .8 82 1 0 -.2 -1.3M265.4 406.4a.7 .6 127 1 0 -.9 1.1 .7 .6 127 1 0 .9 -1.1M257.4 389a.6 .7 23 1 0 1.1 .5 .6 .7 23 1 0 -1.1 -.5M280.5 408.3a.9 1 27 1 0 1.7 .9 .9 1 27 1 0 -1.7 -.9M272.7 389.7a.9 1 179 1 0 -1.8 0 .9 1 179 1 0 1.8 -0M274.7 381.8a1.5 1.1 81 1 0 .5 2.9 1.5 1.1 81 1 0 -.5 -2.9M276.2 406.2a.7 1 146 1 0 -1.2 .8 .7 1 146 1 0 1.2 -.8M258.9 396a1.4 .9 19 1 0 2.7 .9 1.4 .9 19 1 0 -2.7 -.9M245 401a.8 .6 22 1 0 1.5 .6 .8 .6 22 1 0 -1.5 -.6M254.2 409.1a.6 .9 172 1 0 -1.3 .2 .6 .9 172 1 0 1.3 -.2M266.6 382.9a1.1 .7 21 1 0 2.1 .8 1.1 .7 21 1 0 -2.1 -.8M267.2 379.8a1.4 1 114 1 0 -1.1 2.5 1.4 1 114 1 0 1.1 -2.5M257 395.1a.8 .9 158 1 0 -1.6 .6 .8 .9 158 1 0 1.6 -.6M253.7 391.6a1 1 125 1 0 -1.1 1.5 1 1 125 1 0 1.1 -1.5"/>
<path fill="#8a6c44" d="M250.9 397.5a3.2 1.8 132 1 0 -4.3 4.6 3.2 1.8 132 1 0 4.3 -4.6M267.8 407.8a2.9 1.1 19 1 0 5.5 1.9 2.9 1.1 19 1 0 -5.5 -1.9M263.3 390.5a3.4 1.6 116 1 0 -3 6.1 3.4 1.6 116 1 0 3 -6.1M261.9 400.9a2.5 1.5 5 1 0 5 .5 2.5 1.5 5 1 0 -5 -.5M276 389a2.6 1.2 177 1 0 -5.2 .2 2.6 1.2 177 1 0 5.2 -.2M267.8 391a3.1 1.8 43 1 0 4.4 4.2 3.1 1.8 43 1 0 -4.4 -4.2M262.9 400.2a2.2 1.1 12 1 0 4.3 1 2.2 1.1 12 1 0 -4.3 -1M268.7 392.9a2.8 1.2 92 1 0 -.2 5.6 2.8 1.2 92 1 0 .2 -5.6"/>
<path fill="#b8955c" d="M273.8 379a2.8 1.1 34 1 0 4.7 3.2 2.8 1.1 34 1 0 -4.7 -3.2M259.1 409.8a2.6 .9 161 1 0 -4.9 1.6 2.6 .9 161 1 0 4.9 -1.6M254.4 408.2a2.6 1.5 136 1 0 -3.7 3.5 2.6 1.5 136 1 0 3.7 -3.5M257.4 377a2.8 1.2 97 1 0 -.7 5.5 2.8 1.2 97 1 0 .7 -5.5M265.9 379.2a1.9 .8 25 1 0 3.4 1.7 1.9 .8 25 1 0 -3.4 -1.7M276.8 381a1.9 1.1 74 1 0 1 3.7 1.9 1.1 74 1 0 -1 -3.7M247.6 382.7a1.5 .7 115 1 0 -1.3 2.7 1.5 .7 115 1 0 1.3 -2.7M266.6 382.9a2.8 1.2 29 1 0 4.8 2.8 2.8 1.2 29 1 0 -4.8 -2.8M259.3 392.4a2.9 1.5 78 1 0 1.2 5.6 2.9 1.5 78 1 0 -1.2 -5.6M262.6 404.4a2.7 1.3 42 1 0 4 3.7 2.7 1.3 42 1 0 -4 -3.7M258 380.3a3.3 1.6 48 1 0 4.4 5 3.3 1.6 48 1 0 -4.4 -5M268.9 402.5a2.9 1.4 65 1 0 2.4 5.3 2.9 1.4 65 1 0 -2.4 -5.3M280.6 399a3.4 1.9 168 1 0 -6.6 1.4 3.4 1.9 168 1 0 6.6 -1.4"/>
<path fill="#d4b47a" d="M266.5 393.7a2.7 1.5 144 1 0 -4.3 3.1 2.7 1.5 144 1 0 4.3 -3.1M270.7 404.5a2.1 1.2 53 1 0 2.5 3.3 2.1 1.2 53 1 0 -2.5 -3.3M282.1 391.9a2.8 1.4 85 1 0 .5 5.5 2.8 1.4 85 1 0 -.5 -5.5M271 402.9a2 1.1 31 1 0 3.4 2.1 2 1.1 31 1 0 -3.4 -2.1M259.4 406.7a2.8 1 18 1 0 5.4 1.8 2.8 1 18 1 0 -5.4 -1.8M269.4 388.6a1.8 .7 59 1 0 1.8 3.1 1.8 .7 59 1 0 -1.8 -3.1M256 404.2a3.1 1.3 124 1 0 -3.5 5.2 3.1 1.3 124 1 0 3.5 -5.2M252.8 403.7a3.2 1.8 151 1 0 -5.7 3.1 3.2 1.8 151 1 0 5.7 -3.1M250.8 397.9a2.9 1.8 18 1 0 5.6 1.9 2.9 1.8 18 1 0 -5.6 -1.9M256.1 392.8a2.7 1.3 73 1 0 1.6 5.2 2.7 1.3 73 1 0 -1.6 -5.2M276.5 382.3a3.1 1.6 145 1 0 -5.2 3.5 3.1 1.6 145 1 0 5.2 -3.5M265.5 392a2.3 1.3 102 1 0 -1 4.4 2.3 1.3 102 1 0 1 -4.4M270 395.9a2.2 1.1 161 1 0 -4.2 1.4 2.2 1.1 161 1 0 4.2 -1.4M282.1 386a2.6 1.3 127 1 0 -3.1 4.1 2.6 1.3 127 1 0 3.1 -4.1M274.5 407.1a2.8 1.7 109 1 0 -1.9 5.4 2.8 1.7 109 1 0 1.9 -5.4M274.2 380.7a3.1 1.5 122 1 0 -3.4 5.3 3.1 1.5 122 1 0 3.4 -5.3M279.9 387.4a3.2 1.8 166 1 0 -6.3 1.5 3.2 1.8 166 1 0 6.3 -1.5M269.4 394.4a3.1 1.4 74 1 0 1.6 5.9 3.1 1.4 74 1 0 -1.6 -5.9M254 398.4a2.6 1.3 58 1 0 2.7 4.4 2.6 1.3 58 1 0 -2.7 -4.4M244.4 392.8a2.8 1.5 23 1 0 5.2 2.3 2.8 1.5 23 1 0 -5.2 -2.3M254.5 385.5a2.1 .9 98 1 0 -.6 4.2 2.1 .9 98 1 0 .6 -4.2M272.6 391.8a2.6 1.2 113 1 0 -2 4.7 2.6 1.2 113 1 0 2 -4.7M260.7 392.1a2.5 1.4 57 1 0 2.7 4.2 2.5 1.4 57 1 0 -2.7 -4.2"/>
<path fill="#e4cf9e" d="M278 398.4a1.8 .7 57 1 0 1.9 3.1 1.8 .7 57 1 0 -1.9 -3.1M270.3 393.8a3.4 1.6 150 1 0 -5.9 3.3 3.4 1.6 150 1 0 5.9 -3.3M266.9 379.4a2.2 1.1 94 1 0 -.3 4.4 2.2 1.1 94 1 0 .3 -4.4M278.3 383.6a2.3 .9 102 1 0 -1 4.5 2.3 .9 102 1 0 1 -4.5M277.4 399.7a2.4 1 77 1 0 1.1 4.7 2.4 1 77 1 0 -1.1 -4.7M271.7 388.6a2.1 .9 175 1 0 -4.3 .3 2.1 .9 175 1 0 4.3 -.3M274.8 376.3a2.4 1 83 1 0 .6 4.8 2.4 1 83 1 0 -.6 -4.8M275.2 393.9a2.1 1.2 77 1 0 .9 4.1 2.1 1.2 77 1 0 -.9 -4.1M260.3 397.2a3 1.4 5 1 0 6 .6 3 1.4 5 1 0 -6 -.6M247.4 396.8a2.3 1.1 175 1 0 -4.6 .3 2.3 1.1 175 1 0 4.6 -.3M263.1 406.5a2.6 1.2 136 1 0 -3.7 3.5 2.6 1.2 136 1 0 3.7 -3.5M273.5 402.6a3.4 1.8 11 1 0 6.6 1.4 3.4 1.8 11 1 0 -6.6 -1.4"/>
<path stroke="#357320" stroke-width=".75" fill="none" d="M258.5 400.5L257.8 403.9M258.5 400.5L257.3 398.4M266.1 389.3L264.8 389.2M266.1 389.3L264.5 391.6M276.1 393.8L274 396.6M276.1 393.8L272.5 391.2M276.1 393.8L275.5 392.9M276.1 393.8L278.7 392.5M276.1 393.8L281.6 395.2M276.2 388.3L278.5 388M276.2 388.3L281.8 392.6M276.2 388.3L276.6 390.3M276.2 388.3L275.4 391.1M276.2 388.3L274.6 388.9M276.2 388.3L274.1 386.2M276.2 388.3L277.1 386.7M276.7 400.8L277.8 404.6M276.7 400.8L275.4 401.2M276.7 400.8L270 398.7M276.7 400.8L277.4 397.4M276.7 400.8L278.1 399.5M276.7 400.8L283.5 400.7M276.7 400.8L279.4 402.3M268.2 390.2L265.9 388.9M268.2 390.2L266 383.8M268.2 390.2L270.2 393M268.2 390.2L267.6 391.2M268.2 390.2L262.2 389.8M252.8 396.4L258.7 392.3M252.8 396.4L253.8 397.2M252.8 396.4L251.6 401.2M252.8 396.4L248.9 402.7M252.8 396.4L249.1 390M252.8 396.4L253.9 389.5M268.4 401.5L267.4 405.1M268.4 401.5L266.6 402.2M268.4 401.5L265.8 396.2M268.4 401.5L269.5 401.9M256.8 386L257.1 391.6M256.8 386L256.3 387.4M256.8 386L253.7 389.9M256.8 386L254.1 385.5M256.8 386L255.3 385.1M256.8 386L255.3 378.7M256.8 386L255.6 379M256.8 386L258 383.4M256.8 386L260.6 383.5M256.8 386L263.3 386.1"/>
<path fill="#245c16" d="M265.4 380.4a2.9 1.5 147 1 0 -4.8 3.1 2.9 1.5 147 1 0 4.8 -3.1"/>
<path fill="#367c1f" d="M281.6 395.2a3.3 1.6 15 1 0 6.5 1.7 3.3 1.6 15 1 0 -6.5 -1.7M262.9 389.4a2.5 1.4 144 1 0 -4.1 2.9 2.5 1.4 144 1 0 4.1 -2.9M254.8 383.6a3 1.6 98 1 0 -.9 5.9 3 1.6 98 1 0 .9 -5.9M257.1 391.6a2.3 1.3 86 1 0 .3 4.6 2.3 1.3 86 1 0 -.3 -4.6M254.8 374.3a2.4 1.1 80 1 0 .8 4.8 2.4 1.1 80 1 0 -.8 -4.8"/>
<path fill="#4a9828" d="M267.2 387.4a3.2 1.9 35 1 0 5.3 3.7 3.2 1.9 35 1 0 -5.3 -3.7M277.8 404.6a2.5 1.2 73 1 0 1.5 4.8 2.5 1.2 73 1 0 -1.5 -4.8M287.7 400.6a2.1 .9 179 1 0 -4.3 .1 2.1 .9 179 1 0 4.3 -.1M263.9 377.9a3.2 1.4 70 1 0 2.1 6 3.2 1.4 70 1 0 -2.1 -6M257.5 389.5a2.4 1.3 3 1 0 4.8 .3 2.4 1.3 3 1 0 -4.8 -.3M251.6 401.2a2.7 1.4 103 1 0 -1.3 5.2 2.7 1.4 103 1 0 1.3 -5.2M262.9 390.1a3.4 2 64 1 0 3 6.1 3.4 2 64 1 0 -3 -6.1M253.7 389.9a2.6 1.4 127 1 0 -3.2 4.1 2.6 1.4 127 1 0 3.2 -4.1"/>
<path fill="#60b232" d="M281.8 392.6a3.3 1.7 37 1 0 5.2 4 3.3 1.7 37 1 0 -5.2 -4M264 396.9a3.2 1.4 17 1 0 6.1 1.9 3.2 1.4 17 1 0 -6.1 -1.9M246.9 386.3a2.2 1 59 1 0 2.2 3.7 2.2 1 59 1 0 -2.2 -3.7M254.1 372.7a3.1 1.3 78 1 0 1.2 6 3.1 1.3 78 1 0 -1.2 -6M263.3 386.1a2.4 1 0 1 0 4.7 .1 2.4 1 0 1 0 -4.7 -.1"/>
<path fill="#82ca4a" d="M248.9 402.7a2.7 1.6 122 1 0 -2.9 4.6 2.7 1.6 122 1 0 2.9 -4.6"/>
<path fill="#245c16" d="M259.7 388.7a2.6 1.4 5 1 0 5.2 .5 2.6 1.4 5 1 0 -5.2 -.5M264.5 391.6a2.5 1.5 125 1 0 -2.9 4.1 2.5 1.5 125 1 0 2.9 -4.1M253.8 397.2a3.4 1.4 37 1 0 5.4 4.1 3.4 1.4 37 1 0 -5.4 -4.1M267.4 405.1a2.8 1.4 105 1 0 -1.5 5.4 2.8 1.4 105 1 0 1.5 -5.4"/>
<path fill="#367c1f" d="M257.8 403.9a3 1.2 100 1 0 -1.1 5.8 3 1.2 100 1 0 1.1 -5.8M255.1 394.2a2.4 1.1 61 1 0 2.2 4.2 2.4 1.1 61 1 0 -2.2 -4.2M273.1 389a2.3 1.1 58 1 0 2.4 3.9 2.3 1.1 58 1 0 -2.4 -3.9M275.4 391.1a2.3 1.4 105 1 0 -1.3 4.5 2.3 1.4 105 1 0 1.3 -4.5M274.6 388.9a2.3 1.1 158 1 0 -4.3 1.7 2.3 1.1 158 1 0 4.3 -1.7M279.3 382.6a2.3 1.1 118 1 0 -2.2 4.1 2.3 1.1 118 1 0 2.2 -4.1M279.4 402.3a3.1 1.6 29 1 0 5.4 3.1 3.1 1.6 29 1 0 -5.4 -3.1M267.6 391.2a3.3 1.9 122 1 0 -3.5 5.5 3.3 1.9 122 1 0 3.5 -5.5M269.5 401.9a2.5 1.4 20 1 0 4.6 1.7 2.5 1.4 20 1 0 -4.6 -1.7M260.4 378.3a2.8 1.4 115 1 0 -2.5 5.1 2.8 1.4 115 1 0 2.5 -5.1"/>
<path fill="#4a9828" d="M275.4 401.2a2.4 1 162 1 0 -4.5 1.4 2.4 1 162 1 0 4.5 -1.4M278.6 392.4a2.6 1.3 102 1 0 -1.1 5 2.6 1.3 102 1 0 1.1 -5M282.4 395.4a3 1.6 136 1 0 -4.3 4.1 3 1.6 136 1 0 4.3 -4.1M260 385.7a3.4 1.7 28 1 0 5.9 3.2 3.4 1.7 28 1 0 -5.9 -3.2M270.2 393a3 1.3 55 1 0 3.4 5 3 1.3 55 1 0 -3.4 -5M266.6 402.2a2.8 1.3 159 1 0 -5.3 2 2.8 1.3 159 1 0 5.3 -2M256.3 387.4a3.1 1.8 106 1 0 -1.8 5.9 3.1 1.8 106 1 0 1.8 -5.9M248.1 384.5a3 1.8 9 1 0 6 1 3 1.8 9 1 0 -6 -1M251.5 383a2.2 .9 29 1 0 3.8 2.1 2.2 .9 29 1 0 -3.8 -2.1"/>
<path fill="#60b232" d="M283.7 390a2.8 1.6 154 1 0 -5 2.4 2.8 1.6 154 1 0 5 -2.4M284.9 387.1a3.2 1.7 172 1 0 -6.4 .9 3.2 1.7 172 1 0 6.4 -.9"/>
<path fill="#82ca4a" d="M274 396.6a3.1 1.7 126 1 0 -3.7 5 3.1 1.7 126 1 0 3.7 -5M276.6 390.3a3 1.8 79 1 0 1 5.9 3 1.8 79 1 0 -1 -5.9M271 383.1a2.2 .9 44 1 0 3.1 3.1 2.2 .9 44 1 0 -3.1 -3.1"/>
<rect x="38" y="419" width="49.6" height="88.2" fill="#1f1d1a"/>
<rect x="39.6" y="420.5" width="46.4" height="41.1" rx="4.5" fill="url(#gr)" stroke="#5e5c58" stroke-width=".9"/>
<rect x="41.8" y="422.8" width="42" height="36.3" rx="2.5" fill="#221b16"/>
<path fill="#3f3226" d="M43.2 438.3a.6 .7 82 1 0 .2 1.2 .6 .7 82 1 0 -.2 -1.2M49.3 452.6a1.3 .7 18 1 0 2.5 .8 1.3 .7 18 1 0 -2.5 -.8M59.1 446.8a1.2 .6 25 1 0 2.2 1.1 1.2 .6 25 1 0 -2.2 -1.1M53.6 449.4a1.3 1 177 1 0 -2.6 .1 1.3 1 177 1 0 2.6 -.1M62.4 456.8a1.5 .6 128 1 0 -1.9 2.3 1.5 .6 128 1 0 1.9 -2.3M79.6 441.7a1.4 1 128 1 0 -1.8 2.2 1.4 1 128 1 0 1.8 -2.2M57.2 440.5a1.1 .7 121 1 0 -1.2 1.9 1.1 .7 121 1 0 1.2 -1.9M44.3 438.5a.9 1.1 136 1 0 -1.4 1.3 .9 1.1 136 1 0 1.4 -1.3M69.2 436.2a.6 .8 177 1 0 -1.3 .1 .6 .8 177 1 0 1.3 -.1M60.5 441.4a.7 1 17 1 0 1.4 .4 .7 1 17 1 0 -1.4 -.4M60.8 448.3a.6 1.1 124 1 0 -.7 1 .6 1.1 124 1 0 .7 -1M49.1 446a1.4 .5 19 1 0 2.7 1 1.4 .5 19 1 0 -2.7 -1M60 446.4a1.3 .7 28 1 0 2.3 1.2 1.3 .7 28 1 0 -2.3 -1.2M68.2 439.9a1.5 1 80 1 0 .5 3 1.5 1 80 1 0 -.5 -3M74.4 449.4a.7 .8 76 1 0 .3 1.3 .7 .8 76 1 0 -.3 -1.3M68.9 429.3a1 1.1 3 1 0 2 .1 1 1.1 3 1 0 -2 -.1M80.8 443.5a.7 .8 78 1 0 .3 1.4 .7 .8 78 1 0 -.3 -1.4M59.4 450.1a.8 1 87 1 0 .1 1.7 .8 1 87 1 0 -.1 -1.7M74.8 435.4a.9 .6 137 1 0 -1.4 1.3 .9 .6 137 1 0 1.4 -1.3M79.8 439.8a1.2 1 116 1 0 -1.1 2.1 1.2 1 116 1 0 1.1 -2.1M82.5 439.9a.7 .9 99 1 0 -.3 1.5 .7 .9 99 1 0 .3 -1.5M64.5 434a1.6 .8 145 1 0 -2.6 1.8 1.6 .8 145 1 0 2.6 -1.8M69.2 453.6a.7 .9 51 1 0 .9 1.1 .7 .9 51 1 0 -.9 -1.1M44.8 423.9a1.5 .9 136 1 0 -2.1 2 1.5 .9 136 1 0 2.1 -2"/>
<path fill="#5a4a3a" d="M44.1 430.2a.7 1 48 1 0 1 1.1 .7 1 48 1 0 -1 -1.1M47.1 440.3a1 1 20 1 0 1.8 .7 1 1 20 1 0 -1.8 -.7M52 445.5a1.4 .6 97 1 0 -.4 2.8 1.4 .6 97 1 0 .4 -2.8M72.2 430.2a.8 .5 91 1 0 -0 1.6 .8 .5 91 1 0 0 -1.6M59.9 426a.9 .7 7 1 0 1.8 .2 .9 .7 7 1 0 -1.8 -.2M42.2 455.8a1.2 .5 25 1 0 2.2 1.1 1.2 .5 25 1 0 -2.2 -1.1M47.6 423.4a1.1 .5 47 1 0 1.4 1.6 1.1 .5 47 1 0 -1.4 -1.6M51.5 444.5a.8 1 74 1 0 .5 1.6 .8 1 74 1 0 -.5 -1.6M44.5 436.1a1.6 .9 70 1 0 1.1 2.9 1.6 .9 70 1 0 -1.1 -2.9M76.8 424a1.3 .6 65 1 0 1.1 2.4 1.3 .6 65 1 0 -1.1 -2.4M67.9 436.7a1.3 1.1 24 1 0 2.3 1.1 1.3 1.1 24 1 0 -2.3 -1.1M48 454a1.3 .8 172 1 0 -2.6 .3 1.3 .8 172 1 0 2.6 -.3M79.4 426.2a1.4 .7 145 1 0 -2.3 1.6 1.4 .7 145 1 0 2.3 -1.6M66.1 456.9a1.4 .9 48 1 0 1.8 2 1.4 .9 48 1 0 -1.8 -2M66.7 437.6a1.2 .7 77 1 0 .6 2.4 1.2 .7 77 1 0 -.6 -2.4M48.8 453.5a.8 1.1 79 1 0 .3 1.5 .8 1.1 79 1 0 -.3 -1.5"/>
<path fill="#8a6c44" d="M66.6 442.1a3 1.9 148 1 0 -5.2 3.2 3 1.9 148 1 0 5.2 -3.2M60.9 453.9a2.2 1.3 58 1 0 2.3 3.8 2.2 1.3 58 1 0 -2.3 -3.8M57.3 451.5a2.9 1.8 87 1 0 .3 5.8 2.9 1.8 87 1 0 -.3 -5.8M55 451.5a2.2 1.1 119 1 0 -2.2 3.8 2.2 1.1 119 1 0 2.2 -3.8M55.9 431.2a2.6 1.5 2 1 0 5.3 .2 2.6 1.5 2 1 0 -5.3 -.2M50.3 437.3a2.8 1.4 107 1 0 -1.7 5.3 2.8 1.4 107 1 0 1.7 -5.3M74 435a3.2 1.6 63 1 0 2.9 5.7 3.2 1.6 63 1 0 -2.9 -5.7"/>
<path fill="#b8955c" d="M70.7 447.3a2.2 1 130 1 0 -2.9 3.3 2.2 1 130 1 0 2.9 -3.3M55.1 448.8a2.3 1.1 16 1 0 4.4 1.3 2.3 1.1 16 1 0 -4.4 -1.3M47.3 443.6a2.3 1.3 112 1 0 -1.7 4.2 2.3 1.3 112 1 0 1.7 -4.2M67.5 443.8a1.8 .7 30 1 0 3.1 1.8 1.8 .7 30 1 0 -3.1 -1.8M67.8 448.1a2.6 1.6 160 1 0 -4.8 1.7 2.6 1.6 160 1 0 4.8 -1.7M71.5 438.7a2.5 1.6 86 1 0 .3 5.1 2.5 1.6 86 1 0 -.3 -5.1M59.2 448a2.2 1 177 1 0 -4.3 .2 2.2 1 177 1 0 4.3 -.2M56.9 445.2a2.6 1.3 17 1 0 4.9 1.5 2.6 1.3 17 1 0 -4.9 -1.5M67.8 439.4a2.4 1.3 108 1 0 -1.5 4.5 2.4 1.3 108 1 0 1.5 -4.5M49.6 425.6a2.1 1 63 1 0 1.8 3.8 2.1 1 63 1 0 -1.8 -3.8M64 431.2a2.9 1.6 168 1 0 -5.6 1.2 2.9 1.6 168 1 0 5.6 -1.2M73 422a2.5 1.3 102 1 0 -1.1 4.9 2.5 1.3 102 1 0 1.1 -4.9"/>
<path fill="#d4b47a" d="M67.9 452.9a2.4 1.3 123 1 0 -2.7 4.1 2.4 1.3 123 1 0 2.7 -4.1M74.5 449.1a2.5 1.4 45 1 0 3.5 3.6 2.5 1.4 45 1 0 -3.5 -3.6M65.8 438.6a3.1 1.6 133 1 0 -4.3 4.6 3.1 1.6 133 1 0 4.3 -4.6M53.1 450.7a2.3 1.4 144 1 0 -3.7 2.7 2.3 1.4 144 1 0 3.7 -2.7M48 446.7a3 1.5 7 1 0 6 .8 3 1.5 7 1 0 -6 -.8M75.4 446.8a2.4 1.5 175 1 0 -4.8 .4 2.4 1.5 175 1 0 4.8 -.4M52.2 435.8a2.4 1.3 90 1 0 -.1 4.9 2.4 1.3 90 1 0 .1 -4.9M51.3 431.2a2.7 1.5 169 1 0 -5.4 1 2.7 1.5 169 1 0 5.4 -1M56.8 421.3a3.2 1.6 114 1 0 -2.7 5.7 3.2 1.6 114 1 0 2.7 -5.7M68.2 435.7a3.3 1.6 116 1 0 -3 5.9 3.3 1.6 116 1 0 3 -5.9"/>
<path fill="#e4cf9e" d="M64.2 454.1a2.4 1.3 97 1 0 -.7 4.8 2.4 1.3 97 1 0 .7 -4.8M62.2 424.7a2.6 1.4 147 1 0 -4.3 2.8 2.6 1.4 147 1 0 4.3 -2.8"/>
<path stroke="#357320" stroke-width=".75" fill="none" d="M72 446.6L71.1 445.9M72 446.6L73.2 446.5M57.1 447.8L57.6 441M57.1 447.8L61.2 447.4M57.1 447.8L55.8 445.9M65 447.7L66.6 450.8M52.3 431L53.5 431.9M52.3 431L49.7 433.7M52.3 431L47.7 427.1M52.3 431L52.7 429.1"/>
<path fill="#60b232" d="M42.5 422.8a3.4 2 39 1 0 5.2 4.3 3.4 2 39 1 0 -5.2 -4.3"/>
<path fill="#82ca4a" d="M58 435.8a2.6 1.4 94 1 0 -.4 5.2 2.6 1.4 94 1 0 .4 -5.2M67.1 446.8a3 1.7 174 1 0 -5.9 .6 3 1.7 174 1 0 5.9 -.6"/>
<path fill="#4a9828" d="M79.1 446a2.9 1.6 174 1 0 -5.9 .5 2.9 1.6 174 1 0 5.9 -.5M53 441.7a2.6 1.6 55 1 0 2.9 4.2 2.6 1.6 55 1 0 -2.9 -4.2M66.6 450.8a2.4 1.1 62 1 0 2.2 4.2 2.4 1.1 62 1 0 -2.2 -4.2M53.5 431.9a3.1 1.4 35 1 0 5 3.6 3.1 1.4 35 1 0 -5 -3.6"/>
<path fill="#60b232" d="M65.9 441.7a3.3 1.7 38 1 0 5.2 4.1 3.3 1.7 38 1 0 -5.2 -4.1M49.7 433.7a2.9 1.5 133 1 0 -4 4.2 2.9 1.5 133 1 0 4 -4.2M54.1 423a3.1 1.4 102 1 0 -1.3 6.1 3.1 1.4 102 1 0 1.3 -6.1"/>
<rect x="39.6" y="464.6" width="46.4" height="41.1" rx="4.5" fill="url(#gr)" stroke="#5e5c58" stroke-width=".9"/>
<rect x="41.8" y="466.9" width="42" height="36.3" rx="2.5" fill="#221b16"/>
<path fill="#3f3226" d="M46 478.3a.9 1 124 1 0 -1 1.4 .9 1 124 1 0 1 -1.4M60.3 493.1a1.5 .9 25 1 0 2.7 1.2 1.5 .9 25 1 0 -2.7 -1.2M64.8 483.8a.8 .9 33 1 0 1.4 .9 .8 .9 33 1 0 -1.4 -.9M55.2 475.4a.8 1 119 1 0 -.8 1.4 .8 1 119 1 0 .8 -1.4M44.2 486.4a1.2 .7 96 1 0 -.3 2.5 1.2 .7 96 1 0 .3 -2.5M60.6 500.9a1 1 170 1 0 -2 .3 1 1 170 1 0 2 -.3M62.6 475.7a.9 .9 61 1 0 .9 1.6 .9 .9 61 1 0 -.9 -1.6M64.9 467.2a1.5 .8 141 1 0 -2.3 1.9 1.5 .8 141 1 0 2.3 -1.9M79.8 500.2a1.4 .6 60 1 0 1.4 2.5 1.4 .6 60 1 0 -1.4 -2.5M78.8 482.5a.6 1.1 154 1 0 -1.1 .5 .6 1.1 154 1 0 1.1 -.5M81.8 478.4a1.3 .5 107 1 0 -.8 2.4 1.3 .5 107 1 0 .8 -2.4M68.3 489.5a1.6 .5 163 1 0 -3 .9 1.6 .5 163 1 0 3 -.9M63.7 487.7a1 .6 63 1 0 .9 1.8 1 .6 63 1 0 -.9 -1.8M77.4 485.3a1.1 .8 127 1 0 -1.4 1.8 1.1 .8 127 1 0 1.4 -1.8M61.3 498.4a1.5 .9 67 1 0 1.1 2.8 1.5 .9 67 1 0 -1.1 -2.8M46.2 484a.9 .5 40 1 0 1.4 1.2 .9 .5 40 1 0 -1.4 -1.2M64.2 494.9a.9 .7 39 1 0 1.4 1.1 .9 .7 39 1 0 -1.4 -1.1M58.6 467.2a.9 1 53 1 0 1 1.4 .9 1 53 1 0 -1 -1.4M57 477.8a.7 .9 71 1 0 .4 1.2 .7 .9 71 1 0 -.4 -1.2M46.3 479.4a1.1 .8 174 1 0 -2.2 .2 1.1 .8 174 1 0 2.2 -.2M69.2 492.5a.8 .9 62 1 0 .8 1.5 .8 .9 62 1 0 -.8 -1.5M79.3 492.2a.7 .9 136 1 0 -1 1 .7 .9 136 1 0 1 -1M68.3 500.2a1.6 .9 24 1 0 2.8 1.3 1.6 .9 24 1 0 -2.8 -1.3M76.3 493.2a.6 .8 42 1 0 1 .9 .6 .8 42 1 0 -1 -.9"/>
<path fill="#5a4a3a" d="M73.5 493.8a.9 .6 105 1 0 -.5 1.7 .9 .6 105 1 0 .5 -1.7M64.7 497.9a.8 .7 127 1 0 -1 1.2 .8 .7 127 1 0 1 -1.2M50.7 487a1.1 .9 102 1 0 -.5 2.1 1.1 .9 102 1 0 .5 -2.1M80.1 468.5a1.1 .5 39 1 0 1.7 1.4 1.1 .5 39 1 0 -1.7 -1.4M62.3 482.8a1 1 74 1 0 .5 1.8 1 1 74 1 0 -.5 -1.8M49.4 473.6a.8 1.1 120 1 0 -.8 1.4 .8 1.1 120 1 0 .8 -1.4M67.2 478.2a1.3 .5 16 1 0 2.5 .7 1.3 .5 16 1 0 -2.5 -.7M45.7 472.5a1.3 .8 14 1 0 2.4 .7 1.3 .8 14 1 0 -2.4 -.7M70.5 493.1a1 .7 94 1 0 -.2 2.1 1 .7 94 1 0 .2 -2.1M49.1 486.7a.8 .8 104 1 0 -.4 1.6 .8 .8 104 1 0 .4 -1.6M45.8 483.2a1.5 1 2 1 0 3 .1 1.5 1 2 1 0 -3 -.1M80.2 477.8a1.3 .7 128 1 0 -1.6 2 1.3 .7 128 1 0 1.6 -2M68 474.9a1.3 .7 125 1 0 -1.5 2.1 1.3 .7 125 1 0 1.5 -2.1M50.5 480.2a1.2 .7 154 1 0 -2.1 1 1.2 .7 154 1 0 2.1 -1M62.4 488a1.4 .6 14 1 0 2.8 .7 1.4 .6 14 1 0 -2.8 -.7M62.1 495.4a1.1 .6 115 1 0 -1 2.1 1.1 .6 115 1 0 1 -2.1"/>
<path fill="#8a6c44" d="M66 490.3a2.3 1.3 101 1 0 -1 4.6 2.3 1.3 101 1 0 1 -4.6M55.9 478.7a3.2 1.7 178 1 0 -6.4 .2 3.2 1.7 178 1 0 6.4 -.2M64.6 497.1a2.4 1.4 88 1 0 .2 4.8 2.4 1.4 88 1 0 -.2 -4.8M58.6 493.1a3.3 1.7 153 1 0 -5.9 3 3.3 1.7 153 1 0 5.9 -3"/>
<path fill="#b8955c" d="M47 479.2a3.2 1.4 48 1 0 4.2 4.8 3.2 1.4 48 1 0 -4.2 -4.8M74.9 500.4a2 .9 7 1 0 3.9 .6 2 .9 7 1 0 -3.9 -.6M61.6 491.7a3.1 1.5 135 1 0 -4.4 4.3 3.1 1.5 135 1 0 4.4 -4.3M64.6 476.8a2.1 1.1 77 1 0 .9 4.1 2.1 1.1 77 1 0 -.9 -4.1M75.3 480.8a2.7 1.2 145 1 0 -4.4 3 2.7 1.2 145 1 0 4.4 -3M45.4 490.9a2.3 1.1 27 1 0 4 2.1 2.3 1.1 27 1 0 -4 -2.1M44.1 489.6a2.7 1.5 29 1 0 4.7 2.7 2.7 1.5 29 1 0 -4.7 -2.7M65.6 491.7a2.8 1.6 159 1 0 -5.3 2 2.8 1.6 159 1 0 5.3 -2M58.1 472.5a2.8 1.5 58 1 0 2.9 4.7 2.8 1.5 58 1 0 -2.9 -4.7M69.4 482.4a2.9 1.6 123 1 0 -3.2 4.9 2.9 1.6 123 1 0 3.2 -4.9M65.2 495.4a3 1.8 80 1 0 1 5.9 3 1.8 80 1 0 -1 -5.9M71.9 492.2a3.2 1.9 141 1 0 -5.1 4 3.2 1.9 141 1 0 5.1 -4M70.1 483.1a2.5 1.1 56 1 0 2.8 4.2 2.5 1.1 56 1 0 -2.8 -4.2"/>
<path fill="#d4b47a" d="M56.5 485.2a3 1.7 9 1 0 5.9 1 3 1.7 9 1 0 -5.9 -1M59.7 483a2.1 1.1 28 1 0 3.7 2 2.1 1.1 28 1 0 -3.7 -2M54.4 498.4a2.6 1.2 95 1 0 -.5 5.1 2.6 1.2 95 1 0 .5 -5.1M53.7 497.3a2.3 1.2 122 1 0 -2.5 3.9 2.3 1.2 122 1 0 2.5 -3.9M48.4 498.9a3.1 1.6 153 1 0 -5.5 2.8 3.1 1.6 153 1 0 5.5 -2.8M51.5 476a3.1 1.8 13 1 0 6 1.5 3.1 1.8 13 1 0 -6 -1.5M61.3 485.4a2.1 1.3 94 1 0 -.3 4.1 2.1 1.3 94 1 0 .3 -4.1M60.4 482.1a2.3 1.4 112 1 0 -1.8 4.3 2.3 1.4 112 1 0 1.8 -4.3M65.4 483a3.1 1.8 98 1 0 -.9 6.2 3.1 1.8 98 1 0 .9 -6.2M67.7 491.1a2.5 1.5 15 1 0 4.8 1.3 2.5 1.5 15 1 0 -4.8 -1.3M56.1 486.6a3.3 2 23 1 0 6.1 2.6 3.3 2 23 1 0 -6.1 -2.6M67.2 487.2a2 1.3 19 1 0 3.8 1.4 2 1.3 19 1 0 -3.8 -1.4"/>
<path fill="#e4cf9e" d="M57.2 491.6a2.5 1.4 127 1 0 -3 3.9 2.5 1.4 127 1 0 3 -3.9M69.4 465.9a2.9 1.3 105 1 0 -1.5 5.6 2.9 1.3 105 1 0 1.5 -5.6M66.5 491.1a3.1 1.9 92 1 0 -.3 6.2 3.1 1.9 92 1 0 .3 -6.2M80.9 490.4a2.3 1 4 1 0 4.5 .3 2.3 1 4 1 0 -4.5 -.3"/>
<path stroke="#357320" stroke-width=".75" fill="none" d="M66.7 486.8L71.8 486.8M66.7 486.8L71 489.7M54.7 495.7L54.6 494.4M54.7 495.7L60.1 498.3M61.9 478.5L63.5 478.9M61.9 478.5L65.6 482M64.3 490.1L65.7 490.8M64.3 490.1L63.4 490.6M64.3 490.1L63.5 489.1M74.7 489.9L74.8 488.4M74.7 489.9L76.7 489.3M74.7 489.9L74.3 491.1"/>
<path fill="#367c1f" d="M71 489.7a3.3 1.7 33 1 0 5.4 3.6 3.3 1.7 33 1 0 -5.4 -3.6"/>
<path fill="#4a9828" d="M60.1 498.3a2.9 1.3 26 1 0 5.2 2.6 2.9 1.3 26 1 0 -5.2 -2.6"/>
<path fill="#60b232" d="M65.6 482a2.8 1.5 42 1 0 4.1 3.8 2.8 1.5 42 1 0 -4.1 -3.8"/>
<path fill="#82ca4a" d="M76.5 486.8a2.3 1.5 179 1 0 -4.6 0 2.3 1.5 179 1 0 4.6 -0"/>
<path fill="#245c16" d="M54 487.8a3.3 2.1 84 1 0 .6 6.6 3.3 2.1 84 1 0 -.6 -6.6M65.7 490.8a2 1.2 24 1 0 3.7 1.7 2 1.2 24 1 0 -3.7 -1.7M63.4 490.6a2 1.2 150 1 0 -3.5 2 2 1.2 150 1 0 3.5 -2"/>
<path fill="#4a9828" d="M63.5 478.9a3.2 2 13 1 0 6.2 1.5 3.2 2 13 1 0 -6.2 -1.5M81.9 487.7a2.7 1.4 162 1 0 -5.2 1.6 2.7 1.4 162 1 0 5.2 -1.6"/>
<path fill="#60b232" d="M59.4 484.1a3.2 1.7 50 1 0 4.1 5 3.2 1.7 50 1 0 -4.1 -5M75.2 484.4a2 1 94 1 0 -.3 4 2 1 94 1 0 .3 -4"/>
<path fill="#82ca4a" d="M74.3 491.1a2.7 1.3 109 1 0 -1.8 5.1 2.7 1.3 109 1 0 1.8 -5.1"/>
<rect x="89.7" y="419" width="48.5" height="88.2" fill="#1f1d1a"/>
<rect x="91.3" y="420.5" width="45.3" height="41.1" rx="4.5" fill="url(#gr)" stroke="#5e5c58" stroke-width=".9"/>
<rect x="93.5" y="422.8" width="40.9" height="36.3" rx="2.5" fill="#221b16"/>
<path fill="#3f3226" d="M106.8 424.6a1.1 .8 152 1 0 -2 1 1.1 .8 152 1 0 2 -1M100.1 425.7a1 .6 139 1 0 -1.5 1.3 1 .6 139 1 0 1.5 -1.3M118.4 457.1a1.6 .7 140 1 0 -2.4 2 1.6 .7 140 1 0 2.4 -2M127.2 433.3a.6 .9 90 1 0 -0 1.2 .6 .9 90 1 0 0 -1.2M120.8 424.2a1.3 .7 177 1 0 -2.7 .1 1.3 .7 177 1 0 2.7 -.1M113.9 436.8a1.3 1 26 1 0 2.3 1.2 1.3 1 26 1 0 -2.3 -1.2M97.5 444.1a.7 1 27 1 0 1.3 .7 .7 1 27 1 0 -1.3 -.7M131 450a1 .9 156 1 0 -1.9 .8 1 .9 156 1 0 1.9 -.8M101.1 428.1a1.2 .8 111 1 0 -.9 2.3 1.2 .8 111 1 0 .9 -2.3M128.5 424.1a1.3 .9 167 1 0 -2.6 .6 1.3 .9 167 1 0 2.6 -.6M118.7 450.7a1.5 .6 174 1 0 -2.9 .3 1.5 .6 174 1 0 2.9 -.3M123 453.9a.7 1 53 1 0 .8 1.1 .7 1 53 1 0 -.8 -1.1M118.1 450.5a1.6 .8 74 1 0 .8 3 1.6 .8 74 1 0 -.8 -3M131.2 435.2a1 .8 74 1 0 .5 2 1 .8 74 1 0 -.5 -2M98.6 424.2a1.3 1 164 1 0 -2.4 .7 1.3 1 164 1 0 2.4 -.7M132 423.3a1 .6 77 1 0 .4 1.9 1 .6 77 1 0 -.4 -1.9M124.5 438a1.2 1.1 93 1 0 -.2 2.3 1.2 1.1 93 1 0 .2 -2.3M106.4 437.1a1.5 .6 75 1 0 .8 2.9 1.5 .6 75 1 0 -.8 -2.9M121.3 444.4a1.5 .7 126 1 0 -1.8 2.5 1.5 .7 126 1 0 1.8 -2.5M127.1 426.5a1.3 .6 41 1 0 1.9 1.7 1.3 .6 41 1 0 -1.9 -1.7M130.3 455.1a1.1 .6 75 1 0 .6 2.1 1.1 .6 75 1 0 -.6 -2.1M122.1 432.4a1 .6 41 1 0 1.5 1.3 1 .6 41 1 0 -1.5 -1.3M132.1 450a1.1 .5 64 1 0 1 2 1.1 .5 64 1 0 -1 -2M110 424.1a1.1 .9 141 1 0 -1.7 1.4 1.1 .9 141 1 0 1.7 -1.4M126.5 440.4a.9 .6 56 1 0 1 1.6 .9 .6 56 1 0 -1 -1.6M114 428a1.5 .6 118 1 0 -1.4 2.7 1.5 .6 118 1 0 1.4 -2.7"/>
<path fill="#5a4a3a" d="M108.5 447.1a1 .6 3 1 0 2 .1 1 .6 3 1 0 -2 -.1M122.1 429.6a1.4 .8 172 1 0 -2.7 .4 1.4 .8 172 1 0 2.7 -.4M129 449.5a1.3 .8 63 1 0 1.2 2.3 1.3 .8 63 1 0 -1.2 -2.3M132.9 447.1a1.2 .9 86 1 0 .1 2.4 1.2 .9 86 1 0 -.1 -2.4M116 433.4a.8 .5 148 1 0 -1.3 .8 .8 .5 148 1 0 1.3 -.8M93.5 449.2a1.6 .7 3 1 0 3.1 .2 1.6 .7 3 1 0 -3.1 -.2M119.5 439a.8 .7 40 1 0 1.2 1 .8 .7 40 1 0 -1.2 -1M119.9 454.8a1.1 1.1 9 1 0 2.2 .4 1.1 1.1 9 1 0 -2.2 -.4M118.3 453.6a.9 .8 66 1 0 .7 1.6 .9 .8 66 1 0 -.7 -1.6M125.3 430.3a.6 .7 116 1 0 -.5 1.1 .6 .7 116 1 0 .5 -1.1M113.5 453.2a.6 .6 95 1 0 -.1 1.2 .6 .6 95 1 0 .1 -1.2M97.7 427.8a1.1 1 8 1 0 2.2 .3 1.1 1 8 1 0 -2.2 -.3M110.2 424.9a1.4 1 155 1 0 -2.6 1.2 1.4 1 155 1 0 2.6 -1.2M127.6 429.7a1.1 .7 7 1 0 2.1 .3 1.1 .7 7 1 0 -2.1 -.3"/>
<path fill="#b8955c" d="M129.6 433.4a3 1.4 102 1 0 -1.2 5.8 3 1.4 102 1 0 1.2 -5.8"/>
<path fill="#d4b47a" d="M90.9 434a4 2.5 2 1 0 7.9 .4 4 2.5 2 1 0 -7.9 -.4M101.2 433.5a4.1 2.7 39 1 0 6.3 5.3 4.1 2.7 39 1 0 -6.3 -5.3"/>
<path stroke="#357320" stroke-width=".75" fill="none" d="M109 448.2L104.6 445.5M109 448.2L106.3 442.7M109 448.2L109.2 441.6M109 448.2L115.4 442.7M109 448.2L112.8 449.1M109 448.2L113.4 451.3M109 448.2L111.1 453.1M109 448.2L108.7 450.2M109 448.2L106.6 449.1M101.6 442.6L98.8 438.2M101.6 442.6L103.1 437.4M101.6 442.6L104.8 440.5M101.6 442.6L106 442.6M101.6 442.6L104.8 443M101.6 442.6L105.4 446.8M101.6 442.6L100.8 450.9M101.6 442.6L96.8 449.4M101.6 442.6L98.2 446.7M101.6 442.6L99.2 441.9M101.6 442.6L98.8 441.7M125 437.9L123.1 430.6M125 437.9L126.9 433.9M125 437.9L128.5 437.7M125 437.9L126.3 438.9M125 437.9L126.7 447.6M125 437.9L118.3 444.2M125 437.9L118.9 440.2M125 437.9L119 431.2M100.9 434.5L108.6 438M100.9 434.5L101.3 438M100.9 434.5L97.8 442.1M100.9 434.5L95.8 427M100.9 434.5L100 429.3M100.9 434.5L108 428.5M100.9 434.5L109.5 431.7M101.3 452L100 443.6M101.3 452L103.7 442.9M101.3 452L104.9 451.1M101.3 452L107.2 453.5M101.3 452L103.9 456.9M101.3 452L102.2 455.8M101.3 452L98 457.5M101.3 452L98.4 453M101.3 452L95.7 448.2M126.4 448.7L124 446.2M126.4 448.7L123.2 442.3M126.4 448.7L130 447.1M126.4 448.7L130.6 448.9M126.4 448.7L129.4 451.3M126.4 448.7L126.6 450.6M126.4 448.7L124.8 452.1M126.4 448.7L119.8 453.8M126.4 448.7L123.7 448.4M114.4 444.6L107.8 452.1M114.4 444.6L110.1 446.5M114.4 444.6L110.9 436M114.4 444.6L121.5 437.5M114.4 444.6L123.6 443.9M114.4 444.6L116.8 446.6M114.4 444.6L113.6 450.3M129.3 431.6L132.1 435.4M129.3 431.6L131.8 439M129.3 431.6L127.8 433.9M129.3 431.6L124.2 435.4M129.3 431.6L122.8 433.4M129.3 431.6L127 430M129.3 431.6L127.2 428.8M129.3 431.6L130.9 425.6M129.3 431.6L133.2 427.3M129.3 431.6L130.8 431.1M129.3 431.6L131.2 431.8"/>
<path fill="#245c16" d="M108.6 438a4.4 2 24 1 0 8 3.6 4.4 2 24 1 0 -8 -3.6"/>
<path fill="#367c1f" d="M105.4 446.8a4.2 2.5 47 1 0 5.6 6.2 4.2 2.5 47 1 0 -5.6 -6.2M100.8 450.9a3 1.4 95 1 0 -.6 6 3 1.4 95 1 0 .6 -6M118.9 440.2a2.9 1.6 159 1 0 -5.3 2 2.9 1.6 159 1 0 5.3 -2M91 420a4.2 1.9 55 1 0 4.8 7 4.2 1.9 55 1 0 -4.8 -7M98.6 421.1a4.2 2.1 80 1 0 1.4 8.2 4.2 2.1 80 1 0 -1.4 -8.2M99.1 437.6a3 1.5 81 1 0 .9 6 3 1.5 81 1 0 -.9 -6M105.6 435.6a3.8 2.2 104 1 0 -1.9 7.3 3.8 2.2 104 1 0 1.9 -7.3M108.5 430.3a3.1 1.7 67 1 0 2.3 5.7 3.1 1.7 67 1 0 -2.3 -5.7M131.8 443.3a4.1 2.3 175 1 0 -8.2 .6 4.1 2.3 175 1 0 8.2 -.6M132.6 418.9a3.4 2.2 104 1 0 -1.7 6.6 3.4 2.2 104 1 0 1.7 -6.6"/>
<path fill="#4a9828" d="M99.5 442.3a3 1.4 31 1 0 5.1 3.1 3 1.4 31 1 0 -5.1 -3.1M120.7 438.1a3.5 1.8 139 1 0 -5.3 4.6 3.5 1.8 139 1 0 5.3 -4.6M113.4 451.3a4 2.3 34 1 0 6.6 4.6 4 2.3 34 1 0 -6.6 -4.6M111.1 453.1a3.6 2.1 67 1 0 2.7 6.7 3.6 2.1 67 1 0 -2.7 -6.7M94.9 432a3.7 2.1 57 1 0 3.9 6.2 3.7 2.1 57 1 0 -3.9 -6.2M105.3 429.7a4 2.6 106 1 0 -2.2 7.7 4 2.6 106 1 0 2.2 -7.7M96.8 449.4a4 2.5 124 1 0 -4.6 6.6 4 2.5 124 1 0 4.6 -6.6M121.1 423.4a3.7 1.7 75 1 0 1.9 7.2 3.7 1.7 75 1 0 -1.9 -7.2M118.3 444.2a4.1 1.9 136 1 0 -6 5.7 4.1 1.9 136 1 0 6 -5.7M97.8 442.1a4.2 2.3 112 1 0 -3.2 7.7 4.2 2.3 112 1 0 3.2 -7.7M112.8 424.4a3.2 2 139 1 0 -4.8 4.1 3.2 2 139 1 0 4.8 -4.1M98 457.5a3 1.7 120 1 0 -3 5.1 3 1.7 120 1 0 3 -5.1M89.6 444.1a3.7 1.8 34 1 0 6.1 4.1 3.7 1.8 34 1 0 -6.1 -4.1M119.8 453.8a2.8 1.7 142 1 0 -4.4 3.4 2.8 1.7 142 1 0 4.4 -3.4M107.8 452.1a3.6 1.9 131 1 0 -4.7 5.3 3.6 1.9 131 1 0 4.7 -5.3M125.7 433.2a3 1.9 134 1 0 -4.3 4.3 3 1.9 134 1 0 4.3 -4.3M124.2 435.4a4.2 2 143 1 0 -6.8 5.1 4.2 2 143 1 0 6.8 -5.1M122.8 433.4a4.1 2.6 164 1 0 -7.8 2.2 4.1 2.6 164 1 0 7.8 -2.2M137 423.1a2.8 1.6 131 1 0 -3.8 4.2 2.8 1.6 131 1 0 3.8 -4.2"/>
<path fill="#60b232" d="M103.9 437.6a2.8 1.8 64 1 0 2.5 5.1 2.8 1.8 64 1 0 -2.5 -5.1M98.2 446.7a3.6 2.2 129 1 0 -4.5 5.6 3.6 2.2 129 1 0 4.5 -5.6M126.7 447.6a3.8 1.9 80 1 0 1.3 7.5 3.8 1.9 80 1 0 -1.3 -7.5M113.7 425.3a4 2.5 48 1 0 5.3 5.9 4 2.5 48 1 0 -5.3 -5.9M116.6 429.4a3.8 2.2 161 1 0 -7.2 2.4 3.8 2.2 161 1 0 7.2 -2.4M107.2 453.5a2.9 1.5 14 1 0 5.7 1.5 2.9 1.5 14 1 0 -5.7 -1.5M103.9 456.9a3 1.9 62 1 0 2.8 5.3 3 1.9 62 1 0 -2.8 -5.3M120.4 436.5a3.2 1.8 63 1 0 2.8 5.7 3.2 1.8 63 1 0 -2.8 -5.7M131.8 439a3.7 2.1 71 1 0 2.3 7 3.7 2.1 71 1 0 -2.3 -7"/>
<path fill="#82ca4a" d="M109.4 434.7a3.5 2 91 1 0 -.2 6.9 3.5 2 91 1 0 .2 -6.9M113.6 450.3a3.9 2.3 98 1 0 -1.1 7.7 3.9 2.3 98 1 0 1.1 -7.7"/>
<path fill="#245c16" d="M112.7 449.1a4 2.1 165 1 0 -7.8 2 4 2.1 165 1 0 7.8 -2M102.2 454.2a3.1 1.5 76 1 0 1.5 6 3.1 1.5 76 1 0 -1.5 -6M126.6 450.6a4.3 2.5 82 1 0 1.2 8.6 4.3 2.5 82 1 0 -1.2 -8.6M122.1 426.7a2.9 1.7 34 1 0 4.8 3.3 2.9 1.7 34 1 0 -4.8 -3.3M135.8 428.3a4.2 2.6 160 1 0 -7.9 2.8 4.2 2.6 160 1 0 7.9 -2.8"/>
<path fill="#367c1f" d="M101.3 438a4.3 1.9 84 1 0 .9 8.5 4.3 1.9 84 1 0 -.9 -8.5M130.6 448.9a4.2 2 3 1 0 8.4 .5 4.2 2 3 1 0 -8.4 -.5M129.4 451.3a3.7 1.7 41 1 0 5.5 4.8 3.7 1.7 41 1 0 -5.5 -4.8M127.8 433.9a3.5 1.8 123 1 0 -3.8 5.8 3.5 1.8 123 1 0 3.8 -5.8M122.5 422.3a4 2.4 53 1 0 4.7 6.5 4 2.4 53 1 0 -4.7 -6.5"/>
<path fill="#4a9828" d="M106 442.6a3.2 1.8 0 1 0 6.4 0 3.2 1.8 0 1 0 -6.4 -0M130.4 426.4a4.1 2.2 115 1 0 -3.5 7.5 4.1 2.2 115 1 0 3.5 -7.5M118.8 440.5a3.8 2 47 1 0 5.2 5.6 3.8 2 47 1 0 -5.2 -5.6M136.5 444.3a3.6 1.6 156 1 0 -6.5 2.8 3.6 1.6 156 1 0 6.5 -2.8M110.1 446.5a2.9 1.7 156 1 0 -5.3 2.3 2.9 1.7 156 1 0 5.3 -2.3M116.8 446.6a3.1 1.9 40 1 0 4.7 4 3.1 1.9 40 1 0 -4.7 -4M128.3 431.8a3.8 1.8 4 1 0 7.6 .6 3.8 1.8 4 1 0 -7.6 -.6"/>
<path fill="#60b232" d="M112.8 449.1a4.3 2.5 12 1 0 8.3 1.9 4.3 2.5 12 1 0 -8.3 -1.9M106.6 449.1a4.4 2.3 159 1 0 -8.2 3.1 4.4 2.3 159 1 0 8.2 -3.1M104.8 443a3.5 1.8 6 1 0 7 .8 3.5 1.8 6 1 0 -7 -.8M92.1 439.6a3.9 1.8 16 1 0 7.5 2.3 3.9 1.8 16 1 0 -7.5 -2.3M135.9 437.2a3.9 2 176 1 0 -7.7 .5 3.9 2 176 1 0 7.7 -.5M99 453a3.6 1.9 160 1 0 -6.8 2.4 3.6 1.9 160 1 0 6.8 -2.4M124.8 452.1a3.5 2.2 115 1 0 -3 6.3 3.5 2.2 115 1 0 3 -6.3"/>
<path fill="#82ca4a" d="M108.7 450.2a4.1 2 99 1 0 -1.4 8.1 4.1 2 99 1 0 1.4 -8.1M110.3 437a3.3 1.7 147 1 0 -5.5 3.5 3.3 1.7 147 1 0 5.5 -3.5M92.7 439.6a3.2 1.9 18 1 0 6.1 2.1 3.2 1.9 18 1 0 -6.1 -2.1M126.3 438.9a3.2 1.7 37 1 0 5.1 4 3.2 1.7 37 1 0 -5.1 -4M117.3 447.7a3.2 1.8 6 1 0 6.4 .7 3.2 1.8 6 1 0 -6.4 -.7M132.1 435.4a4.1 2.1 53 1 0 4.9 6.6 4.1 2.1 53 1 0 -4.9 -6.6"/>
<rect x="91.3" y="464.6" width="45.3" height="41.1" rx="4.5" fill="url(#gr)" stroke="#5e5c58" stroke-width=".9"/>
<rect x="93.5" y="466.9" width="40.9" height="36.3" rx="2.5" fill="#221b16"/>
<path fill="#3f3226" d="M117.2 492a1.5 .9 117 1 0 -1.4 2.6 1.5 .9 117 1 0 1.4 -2.6M116 498.2a.8 1.1 128 1 0 -1 1.3 .8 1.1 128 1 0 1 -1.3M118.6 485.1a1 .6 44 1 0 1.4 1.4 1 .6 44 1 0 -1.4 -1.4M104.8 485.5a.8 .7 63 1 0 .8 1.5 .8 .7 63 1 0 -.8 -1.5M129.6 499.6a.8 .5 5 1 0 1.6 .2 .8 .5 5 1 0 -1.6 -.2M131.3 493.2a1.2 .7 91 1 0 -.1 2.5 1.2 .7 91 1 0 .1 -2.5M102.6 488.2a1.4 .6 98 1 0 -.4 2.9 1.4 .6 98 1 0 .4 -2.9M115 478.7a.9 .8 113 1 0 -.7 1.6 .9 .8 113 1 0 .7 -1.6M131.9 471a.8 1 108 1 0 -.5 1.4 .8 1 108 1 0 .5 -1.4M133.6 501.2a1.3 .5 156 1 0 -2.5 1.1 1.3 .5 156 1 0 2.5 -1.1M96.9 499a.6 .5 166 1 0 -1.2 .3 .6 .5 166 1 0 1.2 -.3M103.4 499.5a1.3 .5 140 1 0 -2 1.7 1.3 .5 140 1 0 2 -1.7M116.9 488.4a.8 1 83 1 0 .2 1.7 .8 1 83 1 0 -.2 -1.7M123.2 491.8a.6 .7 45 1 0 .9 .9 .6 .7 45 1 0 -.9 -.9M102.4 496.3a1.1 .5 79 1 0 .4 2.1 1.1 .5 79 1 0 -.4 -2.1M108.7 472.2a.9 1 30 1 0 1.5 .9 .9 1 30 1 0 -1.5 -.9M120.4 497.5a1.3 .5 151 1 0 -2.2 1.2 1.3 .5 151 1 0 2.2 -1.2M132.3 470.3a1.2 .7 28 1 0 2.1 1.2 1.2 .7 28 1 0 -2.1 -1.2M102.4 490.3a1.3 .6 112 1 0 -1 2.4 1.3 .6 112 1 0 1 -2.4M112.1 490a1.2 .5 116 1 0 -1.1 2.2 1.2 .5 116 1 0 1.1 -2.2M113 480.1a.8 .7 24 1 0 1.4 .6 .8 .7 24 1 0 -1.4 -.6"/>
<path fill="#5a4a3a" d="M128.2 478.6a1.3 .6 127 1 0 -1.6 2 1.3 .6 127 1 0 1.6 -2M118.9 495.7a1.3 .9 167 1 0 -2.5 .6 1.3 .9 167 1 0 2.5 -.6M102.2 472.6a1.3 1.1 129 1 0 -1.6 2 1.3 1.1 129 1 0 1.6 -2M112.9 470.7a.7 .5 91 1 0 -0 1.5 .7 .5 91 1 0 0 -1.5M106.1 475.3a1.2 1 174 1 0 -2.5 .2 1.2 1 174 1 0 2.5 -.2M111.9 490.4a1.5 .5 43 1 0 2.1 2.1 1.5 .5 43 1 0 -2.1 -2.1M101.7 492.5a1.2 .6 7 1 0 2.4 .3 1.2 .6 7 1 0 -2.4 -.3M94.3 493a1.2 .9 71 1 0 .8 2.4 1.2 .9 71 1 0 -.8 -2.4M113.8 475.1a.6 1 159 1 0 -1.2 .4 .6 1 159 1 0 1.2 -.4M120.5 469.8a1.3 .7 162 1 0 -2.4 .7 1.3 .7 162 1 0 2.4 -.7M100.8 487.8a1.2 .7 31 1 0 2 1.2 1.2 .7 31 1 0 -2 -1.2M94.8 479.9a1 .6 15 1 0 1.9 .5 1 .6 15 1 0 -1.9 -.5M112.5 482.6a1.2 .9 86 1 0 .1 2.4 1.2 .9 86 1 0 -.1 -2.4M126 494.6a.7 .8 169 1 0 -1.3 .2 .7 .8 169 1 0 1.3 -.2M110.4 468.2a1.4 .8 101 1 0 -.5 2.7 1.4 .8 101 1 0 .5 -2.7M108.7 491.9a1.2 .9 173 1 0 -2.5 .3 1.2 .9 173 1 0 2.5 -.3M112.5 483.3a1 .7 23 1 0 1.8 .8 1 .7 23 1 0 -1.8 -.8M127.4 482.1a1 .8 120 1 0 -1 1.7 1 .8 120 1 0 1 -1.7M132.2 471.3a1.1 .8 62 1 0 1 1.9 1.1 .8 62 1 0 -1 -1.9"/>
<path fill="#8a6c44" d="M117.7 499.3a3.6 2.3 118 1 0 -3.4 6.3 3.6 2.3 118 1 0 3.4 -6.3"/>
<path fill="#e4cf9e" d="M119.1 494.9a3 1.5 149 1 0 -5.1 3 3 1.5 149 1 0 5.1 -3"/>
<path stroke="#357320" stroke-width=".75" fill="none" d="M117.4 483.9L119.1 492.1M117.4 483.9L116.7 487.6M117.4 483.9L114.8 485.4M117.4 483.9L108.4 483.5M117.4 483.9L110.9 478.7M117.4 483.9L116.1 475.2M117.4 483.9L118.3 482.6M117.4 483.9L121.9 483.7M117.4 483.9L122.1 489.1M128.4 473.3L127.9 469.9M128.4 473.3L129.8 471.2M128.4 473.3L130.2 472.9M128.4 473.3L129.5 473.4M128.4 473.3L131.1 475M128.4 473.3L129.3 478.2M128.4 473.3L124.3 479.6M128.4 473.3L125.7 474.7M128.4 473.3L124.2 472.8M128.4 473.3L126.4 471.4M102.1 481.6L105.1 480.7M102.1 481.6L107.4 483.7M102.1 481.6L103.6 488.5M102.1 481.6L102 490.3M102.1 481.6L98.8 483.9M102.1 481.6L100.6 482.3M102.1 481.6L99.4 480.2M102.1 481.6L100.6 477.9M102.1 481.6L101.9 479.4M102.1 481.6L105.1 477.3M100.1 491.5L97.7 491.4M100.1 491.5L96.9 490.7M100.1 491.5L99.3 489.2M100.1 491.5L99.3 484.5M100.1 491.5L107.2 486.1M100.1 491.5L107.1 487.9M100.1 491.5L101.8 492.1M100.1 491.5L102.1 499.6M100.1 491.5L97.9 496.5M100.1 491.5L97.2 494.6M113.9 497.8L111 496M113.9 497.8L113.1 489.1M113.9 497.8L114.9 491.1M113.9 497.8L116 494.6M113.9 497.8L116.9 498.4M113.9 497.8L121.2 499.8M113.9 497.8L114.6 499.3M113.9 497.8L113.9 501.3M113.9 497.8L111.3 500.4M113.9 497.8L104.4 496.7M120.4 494.1L114.6 493.3M120.4 494.1L118.7 491.4M120.4 494.1L118.4 487.5M120.4 494.1L123.9 490.5M120.4 494.1L129.3 489.6M120.4 494.1L128.2 494.2M120.4 494.1L122.8 497.7M120.4 494.1L121.7 497.1M111.3 479.4L116.5 475.8M111.3 479.4L117.4 477.3M111.3 479.4L117.4 482.1M111.3 479.4L114.9 484.1M111.3 479.4L109.8 487.7M111.3 479.4L110.5 482M111.3 479.4L107.7 481.4M111.3 479.4L108.1 479.6M111.3 479.4L106.7 476.1M111.3 479.4L107.1 472M111.3 479.4L111.3 476.1M102.8 476.3L103.4 474.9M102.8 476.3L106.4 475.2M102.8 476.3L109.2 478.5M102.8 476.3L106.6 480.8M102.8 476.3L102.2 479.8M102.8 476.3L98.9 479.8M102.8 476.3L99.9 477.2M102.8 476.3L99.9 474M102.8 476.3L101.6 473.6"/>
<path fill="#245c16" d="M115.8 484.7a3.2 1.9 98 1 0 -.9 6.4 3.2 1.9 98 1 0 .9 -6.4M129.9 484.3a4.3 2 133 1 0 -5.9 6.2 4.3 2 133 1 0 5.9 -6.2M121.9 472a3.3 1.6 144 1 0 -5.4 3.8 3.3 1.6 144 1 0 5.4 -3.8M109.8 487.7a3.4 2 100 1 0 -1.3 6.7 3.4 2 100 1 0 1.3 -6.7M98.9 479.8a3.5 1.6 137 1 0 -5.2 4.8 3.5 1.6 137 1 0 5.2 -4.8"/>
<path fill="#367c1f" d="M106.4 475.1a2.9 1.9 38 1 0 4.5 3.6 2.9 1.9 38 1 0 -4.5 -3.6M103.6 488.5a4.2 2.6 77 1 0 1.8 8.2 4.2 2.6 77 1 0 -1.8 -8.2M121.2 499.8a3.2 1.5 15 1 0 6.3 1.7 3.2 1.5 15 1 0 -6.3 -1.7M128.2 494.2a3.5 2.2 0 1 0 7.1 .1 3.5 2.2 0 1 0 -7.1 -.1M101.4 472.3a3.2 1.5 35 1 0 5.3 3.8 3.2 1.5 35 1 0 -5.3 -3.8M109.2 478.5a3.1 1.7 18 1 0 5.9 2 3.1 1.7 18 1 0 -5.9 -2"/>
<path fill="#4a9828" d="M119.1 492.1a4.2 2.5 77 1 0 1.8 8.3 4.2 2.5 77 1 0 -1.8 -8.3M113.8 484.5a3.8 2 152 1 0 -6.7 3.4 3.8 2 152 1 0 6.7 -3.4M112.5 483.4a2.8 1.8 84 1 0 .6 5.7 2.8 1.8 84 1 0 -.6 -5.7M116.1 479.6a4.1 2.2 73 1 0 2.4 7.9 4.1 2.2 73 1 0 -2.4 -7.9M106.6 480.8a4 2.3 49 1 0 5.2 6.1 4 2.3 49 1 0 -5.2 -6.1"/>
<path fill="#60b232" d="M101 483.2a3.7 1.7 2 1 0 7.3 .3 3.7 1.7 2 1 0 -7.3 -.3M122.1 489.1a4.2 2.2 47 1 0 5.6 6.2 4.2 2.2 47 1 0 -5.6 -6.2M124.3 479.6a3.3 1.8 122 1 0 -3.6 5.6 3.3 1.8 122 1 0 3.6 -5.6M107.4 483.7a4.1 2.3 21 1 0 7.6 2.9 4.1 2.3 21 1 0 -7.6 -2.9M102 490.3a3.9 2.5 90 1 0 -.1 7.8 3.9 2.5 90 1 0 .1 -7.8M108.9 471.9a3.3 1.8 125 1 0 -3.8 5.4 3.3 1.8 125 1 0 3.8 -5.4M98.3 476.2a4.2 2.4 83 1 0 1 8.3 4.2 2.4 83 1 0 -1 -8.3M97.9 496.5a3.1 1.6 114 1 0 -2.5 5.7 3.1 1.6 114 1 0 2.5 -5.7M97.1 495.9a3.7 2.4 6 1 0 7.3 .9 3.7 2.4 6 1 0 -7.3 -.9M107.7 492.3a3.5 1.7 8 1 0 7 1 3.5 1.7 8 1 0 -7 -1M117.4 482.1a3.4 2.1 23 1 0 6.3 2.7 3.4 2.1 23 1 0 -6.3 -2.7M104 466.6a3.1 1.6 60 1 0 3.1 5.4 3.1 1.6 60 1 0 -3.1 -5.4"/>
<path fill="#82ca4a" d="M114.9 467.3a4 1.9 81 1 0 1.2 7.9 4 1.9 81 1 0 -1.2 -7.9M112.5 482a3.4 1.7 142 1 0 -5.4 4.1 3.4 1.7 142 1 0 5.4 -4.1M102.1 499.6a3.3 2.1 76 1 0 1.5 6.3 3.3 2.1 76 1 0 -1.5 -6.3M136.8 485.8a4.2 2.7 153 1 0 -7.5 3.8 4.2 2.7 153 1 0 7.5 -3.8M125.6 474.5a4.3 2.5 160 1 0 -8.2 2.8 4.3 2.5 160 1 0 8.2 -2.8M114.9 484.1a3.5 1.8 53 1 0 4.2 5.6 3.5 1.8 53 1 0 -4.2 -5.6"/>
<path fill="#245c16" d="M136 470.9a4.4 2.1 166 1 0 -8.5 2 4.4 2.1 166 1 0 8.5 -2M112.7 478.1a4 2.1 161 1 0 -7.7 2.5 4 2.1 161 1 0 7.7 -2.5M101.8 492.1a3.9 2.3 19 1 0 7.4 2.5 3.9 2.3 19 1 0 -7.4 -2.5M108.1 479.6a3.6 2.2 176 1 0 -7.1 .5 3.6 2.2 176 1 0 7.1 -.5"/>
<path fill="#367c1f" d="M97.2 494.6a3 1.8 133 1 0 -4.1 4.4 3 1.8 133 1 0 4.1 -4.4M102.2 479.8a3.7 2.3 99 1 0 -1.3 7.3 3.7 2.3 99 1 0 1.3 -7.3M94.3 469.6a3.6 1.7 38 1 0 5.6 4.4 3.6 1.7 38 1 0 -5.6 -4.4"/>
<path fill="#4a9828" d="M116.7 487.6a3 1.6 99 1 0 -1 6 3 1.6 99 1 0 1 -6M114.8 485.4a3.3 1.7 149 1 0 -5.7 3.3 3.3 1.7 149 1 0 5.7 -3.3M122.8 475.9a4.1 2.3 123 1 0 -4.5 6.7 4.1 2.3 123 1 0 4.5 -6.7M127 465.6a3.4 2.2 82 1 0 .9 6.8 3.4 2.2 82 1 0 -.9 -6.8M127.6 473.4a4.3 2.7 1 1 0 8.5 .3 4.3 2.7 1 1 0 -8.5 -.3M129.3 478.2a3.5 2.1 79 1 0 1.3 6.9 3.5 2.1 79 1 0 -1.3 -6.9M121.1 466.2a3.7 2.2 44 1 0 5.3 5.2 3.7 2.2 44 1 0 -5.3 -5.2M100.6 482.3a3.6 1.7 154 1 0 -6.6 3.1 3.6 1.7 154 1 0 6.6 -3.1M98.4 472.2a3 1.9 68 1 0 2.2 5.6 3 1.9 68 1 0 -2.2 -5.6M101.3 473.1a3.1 1.7 84 1 0 .6 6.3 3.1 1.7 84 1 0 -.6 -6.3M91.9 488.7a4.4 2.7 13 1 0 8.6 2 4.4 2.7 13 1 0 -8.6 -2M97.5 483.7a2.9 1.7 71 1 0 1.9 5.5 2.9 1.7 71 1 0 -1.9 -5.5M111.3 499.5a2.9 1.7 135 1 0 -4.2 4 2.9 1.7 135 1 0 4.2 -4M111.1 467.4a4.4 2.7 88 1 0 .2 8.7 4.4 2.7 88 1 0 -.2 -8.7M106.9 467.6a4 2.2 115 1 0 -3.4 7.3 4 2.2 115 1 0 3.4 -7.3M99.9 477.2a3.1 2 161 1 0 -5.9 1.9 3.1 2 161 1 0 5.9 -1.9"/>
<path fill="#60b232" d="M127.9 483.4a3 1.8 177 1 0 -6 .3 3 1.8 177 1 0 6 -.3M133.9 466a3.8 2.2 122 1 0 -4.1 6.3 3.8 2.2 122 1 0 4.1 -6.3M128.9 475a3.8 2.4 31 1 0 6.5 4 3.8 2.4 31 1 0 -6.5 -4M125.7 474.7a4.2 2.2 152 1 0 -7.5 3.9 4.2 2.2 152 1 0 7.5 -3.9M117.9 472a3.2 1.9 7 1 0 6.3 .8 3.2 1.9 7 1 0 -6.3 -.8M119.3 489.4a3.1 1.9 122 1 0 -3.3 5.2 3.1 1.9 122 1 0 3.3 -5.2M116.9 498.4a4.3 2.2 10 1 0 8.4 1.6 4.3 2.2 10 1 0 -8.4 -1.6M114.6 496.6a4.4 2.3 63 1 0 3.8 7.9 4.4 2.3 63 1 0 -3.8 -7.9M114.7 485.3a3.6 2.1 56 1 0 4 6.1 3.6 2.1 56 1 0 -4 -6.1M122.8 497.7a3.2 2 55 1 0 3.6 5.3 3.2 2 55 1 0 -3.6 -5.3M121.7 496.9a4.1 2.2 66 1 0 3.2 7.6 4.1 2.2 66 1 0 -3.2 -7.6M110.5 482a3.9 2.2 108 1 0 -2.4 7.4 3.9 2.2 108 1 0 2.4 -7.4M107.7 481.4a3.6 2.3 151 1 0 -6.4 3.5 3.6 2.3 151 1 0 6.4 -3.5M98.2 465.8a4.3 2.7 66 1 0 3.4 7.8 4.3 2.7 66 1 0 -3.4 -7.8"/>
<path fill="#82ca4a" d="M98.8 483.9a2.9 1.3 145 1 0 -4.9 3.3 2.9 1.3 145 1 0 4.9 -3.3M92.7 476.5a3.8 2.1 28 1 0 6.7 3.7 3.8 2.1 28 1 0 -6.7 -3.7M92.1 491a3.4 2.2 2 1 0 6.8 .3 3.4 2.2 2 1 0 -6.8 -.3M104.6 491.9a3.8 2.3 32 1 0 6.4 4.1 3.8 2.3 32 1 0 -6.4 -4.1M113.9 496.8a4 2 90 1 0 -0 8 4 2 90 1 0 0 -8M112.2 473.5a3 1.9 163 1 0 -5.8 1.7 3 1.9 163 1 0 5.8 -1.7"/>
<rect x="140.4" y="419" width="47.4" height="88.2" fill="#1f1d1a"/>
<rect x="142" y="420.5" width="44.2" height="41.1" rx="4.5" fill="url(#gr)" stroke="#5e5c58" stroke-width=".9"/>
<rect x="144.2" y="422.8" width="39.8" height="36.3" rx="2.5" fill="#221b16"/>
<path fill="#3f3226" d="M173.4 430.9a.9 .7 88 1 0 .1 1.8 .9 .7 88 1 0 -.1 -1.8M166.5 445.5a1.3 .8 54 1 0 1.5 2.1 1.3 .8 54 1 0 -1.5 -2.1M157.5 448.2a1.2 .9 95 1 0 -.2 2.4 1.2 .9 95 1 0 .2 -2.4M151.6 425.9a1.5 1 71 1 0 .9 2.8 1.5 1 71 1 0 -.9 -2.8M159 444a.9 .9 68 1 0 .7 1.6 .9 .9 68 1 0 -.7 -1.6M173.9 443.1a1.1 .9 93 1 0 -.1 2.2 1.1 .9 93 1 0 .1 -2.2M174.5 444a1.5 .5 78 1 0 .6 3 1.5 .5 78 1 0 -.6 -3M172 425.3a1.5 .7 55 1 0 1.7 2.5 1.5 .7 55 1 0 -1.7 -2.5M170.9 444.4a1.5 .6 0 1 0 3 0 1.5 .6 0 1 0 -3 -0M157.2 431.7a1.2 .9 103 1 0 -.6 2.3 1.2 .9 103 1 0 .6 -2.3M176.8 431.3a.9 1.1 33 1 0 1.6 1.1 .9 1.1 33 1 0 -1.6 -1.1M157.1 455.4a1.4 1.1 87 1 0 .1 2.8 1.4 1.1 87 1 0 -.1 -2.8M158.2 449.7a1.4 .8 174 1 0 -2.7 .3 1.4 .8 174 1 0 2.7 -.3M179.3 452a1.2 .8 47 1 0 1.7 1.8 1.2 .8 47 1 0 -1.7 -1.8M175 440.7a1.3 .8 154 1 0 -2.4 1.1 1.3 .8 154 1 0 2.4 -1.1M159.3 423.5a1.3 .8 38 1 0 2 1.6 1.3 .8 38 1 0 -2 -1.6M155.6 434.2a1.5 .7 170 1 0 -3 .5 1.5 .7 170 1 0 3 -.5M172.2 432.6a1 .6 66 1 0 .8 1.7 1 .6 66 1 0 -.8 -1.7M148.5 445.5a1.5 1.1 46 1 0 2.1 2.2 1.5 1.1 46 1 0 -2.1 -2.2M148.7 444.3a1.3 .6 96 1 0 -.3 2.6 1.3 .6 96 1 0 .3 -2.6M162.1 447.3a.9 .6 47 1 0 1.2 1.3 .9 .6 47 1 0 -1.2 -1.3M160.9 430.7a1.2 .7 158 1 0 -2.2 .8 1.2 .7 158 1 0 2.2 -.8M161.1 455a1.3 .5 81 1 0 .4 2.5 1.3 .5 81 1 0 -.4 -2.5M147.2 440.3a1.3 .8 9 1 0 2.5 .4 1.3 .8 9 1 0 -2.5 -.4M153.8 455.3a.9 .9 65 1 0 .8 1.7 .9 .9 65 1 0 -.8 -1.7M167.7 438a1 .7 101 1 0 -.4 1.9 1 .7 101 1 0 .4 -1.9M181.4 437.4a1 1 70 1 0 .6 1.8 1 1 70 1 0 -.6 -1.8M159 449.9a1.4 1 147 1 0 -2.3 1.5 1.4 1 147 1 0 2.3 -1.5M178.2 444.8a1.3 .5 149 1 0 -2.3 1.4 1.3 .5 149 1 0 2.3 -1.4M173.2 433.9a1.1 .9 108 1 0 -.7 2.2 1.1 .9 108 1 0 .7 -2.2"/>
<path fill="#5a4a3a" d="M171.2 431.3a1 .7 34 1 0 1.6 1.1 1 .7 34 1 0 -1.6 -1.1M156 425.7a1.6 .9 41 1 0 2.4 2.1 1.6 .9 41 1 0 -2.4 -2.1M154.3 424.9a1.5 .6 34 1 0 2.5 1.7 1.5 .6 34 1 0 -2.5 -1.7M164.3 449.1a1.1 .7 127 1 0 -1.3 1.7 1.1 .7 127 1 0 1.3 -1.7M154.1 456.7a.7 1 125 1 0 -.8 1.1 .7 1 125 1 0 .8 -1.1M156.9 458.1a1 .8 179 1 0 -2 0 1 .8 179 1 0 2 -0M165.2 445a1.2 .7 61 1 0 1.1 2 1.2 .7 61 1 0 -1.1 -2M160.6 425.6a1.5 1.1 97 1 0 -.4 3 1.5 1.1 97 1 0 .4 -3M181.9 440.5a1.3 .8 44 1 0 1.9 1.9 1.3 .8 44 1 0 -1.9 -1.9M165.4 449.7a1.2 1 142 1 0 -1.9 1.4 1.2 1 142 1 0 1.9 -1.4"/>
<path fill="#8a6c44" d="M154.4 432.5a3.1 1.4 16 1 0 5.9 1.8 3.1 1.4 16 1 0 -5.9 -1.8M177.3 432.3a1.8 .8 116 1 0 -1.6 3.2 1.8 .8 116 1 0 1.6 -3.2M144.9 437.5a3.2 1.9 59 1 0 3.2 5.4 3.2 1.9 59 1 0 -3.2 -5.4M179.9 453.8a2 1.1 73 1 0 1.2 3.9 2 1.1 73 1 0 -1.2 -3.9M160.7 453.4a2.3 1.2 110 1 0 -1.6 4.3 2.3 1.2 110 1 0 1.6 -4.3M145 421.5a2.1 1 53 1 0 2.4 3.3 2.1 1 53 1 0 -2.4 -3.3M177 436.5a3.3 1.5 55 1 0 3.8 5.4 3.3 1.5 55 1 0 -3.8 -5.4"/>
<path fill="#b8955c" d="M152.6 453.8a1.6 .9 111 1 0 -1.1 2.9 1.6 .9 111 1 0 1.1 -2.9M156.1 422.5a2.8 1.6 28 1 0 4.9 2.6 2.8 1.6 28 1 0 -4.9 -2.6M170.3 442a3.4 1.7 34 1 0 5.6 3.8 3.4 1.7 34 1 0 -5.6 -3.8M154.3 437.4a3.3 2.1 46 1 0 4.6 4.9 3.3 2.1 46 1 0 -4.6 -4.9M159.9 436.1a3.4 2.1 73 1 0 1.9 6.5 3.4 2.1 73 1 0 -1.9 -6.5M154.6 433a3.3 1.6 43 1 0 4.8 4.5 3.3 1.6 43 1 0 -4.8 -4.5M166.9 429.3a2.6 1.2 24 1 0 4.7 2.1 2.6 1.2 24 1 0 -4.7 -2.1M176.5 434.1a2.6 1.2 144 1 0 -4.3 3.1 2.6 1.2 144 1 0 4.3 -3.1"/>
<path fill="#d4b47a" d="M151.3 432.7a1.8 .8 11 1 0 3.5 .7 1.8 .8 11 1 0 -3.5 -.7M169.6 446.4a2.5 1 23 1 0 4.5 2 2.5 1 23 1 0 -4.5 -2M156.2 425.7a1.5 .6 70 1 0 1 2.8 1.5 .6 70 1 0 -1 -2.8M179.5 441.9a3 1.9 25 1 0 5.4 2.6 3 1.9 25 1 0 -5.4 -2.6M164.2 422a2.5 1.3 66 1 0 2 4.7 2.5 1.3 66 1 0 -2 -4.7M178.9 424.6a2.8 1.8 162 1 0 -5.4 1.7 2.8 1.8 162 1 0 5.4 -1.7M173.3 447.4a3.3 2 177 1 0 -6.6 .3 3.3 2 177 1 0 6.6 -.3M179.3 447.3a2.1 1.3 3 1 0 4.1 .2 2.1 1.3 3 1 0 -4.1 -.2M172.8 442.2a2.2 1.4 154 1 0 -4 1.9 2.2 1.4 154 1 0 4 -1.9M147.1 434.4a2.1 1 133 1 0 -2.9 3 2.1 1 133 1 0 2.9 -3M172.7 433.8a2.2 1.4 146 1 0 -3.7 2.4 2.2 1.4 146 1 0 3.7 -2.4M166 440.6a2.1 1.1 169 1 0 -4.2 .7 2.1 1.1 169 1 0 4.2 -.7M155.6 439.6a3.2 2 82 1 0 .9 6.3 3.2 2 82 1 0 -.9 -6.3"/>
<path fill="#e4cf9e" d="M176.6 453.6a3 1.5 44 1 0 4.4 4.2 3 1.5 44 1 0 -4.4 -4.2M174.7 449.6a2.8 1.5 142 1 0 -4.4 3.4 2.8 1.5 142 1 0 4.4 -3.4M168.3 442.3a2.1 1.1 139 1 0 -3.2 2.8 2.1 1.1 139 1 0 3.2 -2.8M166.6 451.4a3.4 2.1 52 1 0 4.1 5.4 3.4 2.1 52 1 0 -4.1 -5.4M174.4 436.5a3.4 1.7 89 1 0 0 6.7 3.4 1.7 89 1 0 -0 -6.7M160.5 434.2a2.4 1.6 39 1 0 3.7 3.1 2.4 1.6 39 1 0 -3.7 -3.1M159.6 425.4a3.4 1.9 110 1 0 -2.4 6.3 3.4 1.9 110 1 0 2.4 -6.3M157.4 437.7a2.8 1.7 17 1 0 5.3 1.7 2.8 1.7 17 1 0 -5.3 -1.7"/>
<path stroke="#357320" stroke-width=".75" fill="none" d="M177.9 440.7L178 442.9M177.9 440.7L176.5 443.7M177.9 440.7L173 441.9M177.9 440.7L172.7 441.2M177.9 440.7L176.1 437.5M177.9 440.7L180.5 436.2M177.9 440.7L181.6 438.6M177.9 440.7L179.5 440.7M167 428.3L165.6 430.2M167 428.3L161.7 427.6M167 428.3L167.9 425.8M167 428.3L173.5 427.9M167 428.3L170.4 431.8M167 428.3L167.3 431.3M177.9 447.2L174.7 453.3M177.9 447.2L178.3 442.7M177.9 447.2L179.4 441.7M177.9 447.2L181.5 444.4M177.9 447.2L179.3 449.1M163.1 446.7L160 449.5M163.1 446.7L157.9 448.5M163.1 446.7L158.1 442.6M163.1 446.7L169.3 446.2M163.1 446.7L165.7 452.8M151.3 429.9L152.5 430.9M151.3 429.9L150.9 435.4M151.3 429.9L148.8 432M151.3 429.9L148.6 429.6M151.3 429.9L150.4 425.1M151.3 429.9L152.6 427.5M151.3 429.9L153.1 429.3M174.4 432.7L172 430M174.4 432.7L173.9 430.6M174.4 432.7L177.6 427.7M174.4 432.7L177.5 431.4M174.4 432.7L173.9 433.8M167.7 440.3L163.9 438.9M167.7 440.3L167.5 437.8M167.7 440.3L168.1 438.3M167.7 440.3L170.5 439.7M167.7 440.3L174.6 443.1M167.7 440.3L170.2 446.2M167.7 440.3L167 443.2M167.7 440.3L166.6 441.2M155.2 437L152.9 433.7M155.2 437L158.6 442M155.2 437L151.1 441.2M155.2 437L152.1 436.8M155.2 437L149.8 434.7"/>
<path fill="#245c16" d="M174.7 453.3a2.9 1.5 117 1 0 -2.7 5.1 2.9 1.5 117 1 0 2.7 -5.1"/>
<path fill="#367c1f" d="M182.7 432.3a2.2 1 119 1 0 -2.2 3.8 2.2 1 119 1 0 2.2 -3.8M157.6 427.1a2.1 1.2 7 1 0 4.1 .6 2.1 1.2 7 1 0 -4.1 -.6M179 427.5a2.7 1.5 176 1 0 -5.5 .4 2.7 1.5 176 1 0 5.5 -.4M149.2 419a3.1 1.9 79 1 0 1.2 6.2 3.1 1.9 79 1 0 -1.2 -6.2M180.7 422.9a2.9 1.5 122 1 0 -3.1 4.8 2.9 1.5 122 1 0 3.1 -4.8M149.4 428.8a3 1.5 54 1 0 3.5 4.9 3 1.5 54 1 0 -3.5 -4.9M144 432.1a3.2 1.5 23 1 0 5.9 2.6 3.2 1.5 23 1 0 -5.9 -2.6"/>
<path fill="#4a9828" d="M172.7 441.2a3 1.3 175 1 0 -5.9 .5 3 1.3 175 1 0 5.9 -.5M170.4 431.8a3.2 1.9 45 1 0 4.5 4.6 3.2 1.9 45 1 0 -4.5 -4.6M178.9 436.3a3.2 1.8 95 1 0 -.6 6.4 3.2 1.8 95 1 0 .6 -6.4M185.1 441.7a2.2 1.2 142 1 0 -3.5 2.7 2.2 1.2 142 1 0 3.5 -2.7M153.6 438.8a3 1.7 39 1 0 4.5 3.8 3 1.7 39 1 0 -4.5 -3.8M175.7 445.6a3.2 1.9 174 1 0 -6.4 .6 3.2 1.9 174 1 0 6.4 -.6M165.7 452.8a3.1 1.6 66 1 0 2.4 5.7 3.1 1.6 66 1 0 -2.4 -5.7M158.6 437a2.8 1.4 19 1 0 5.3 1.9 2.8 1.4 19 1 0 -5.3 -1.9M158.6 442a3.3 2 55 1 0 3.8 5.5 3.3 2 55 1 0 -3.8 -5.5"/>
<path fill="#60b232" d="M173 441.9a2.9 1.5 166 1 0 -5.6 1.4 2.9 1.5 166 1 0 5.6 -1.4M186.9 435.6a3.1 1.6 150 1 0 -5.4 3 3.1 1.6 150 1 0 5.4 -3M180.9 436.3a2.8 1.7 105 1 0 -1.5 5.4 2.8 1.7 105 1 0 1.5 -5.4M157.9 448.5a2.4 1.2 161 1 0 -4.6 1.5 2.4 1.2 161 1 0 4.6 -1.5M174.6 443.1a2.6 1.6 22 1 0 4.8 1.9 2.6 1.6 22 1 0 -4.8 -1.9M151.1 441.2a3.4 1.7 134 1 0 -4.7 4.8 3.4 1.7 134 1 0 4.7 -4.8"/>
<path fill="#82ca4a" d="M160 449.5a2.4 1.2 138 1 0 -3.6 3.2 2.4 1.2 138 1 0 3.6 -3.2M150.9 435.4a2.8 1.7 93 1 0 -.4 5.5 2.8 1.7 93 1 0 .4 -5.5M170.2 446.2a2.5 1.3 67 1 0 1.9 4.6 2.5 1.3 67 1 0 -1.9 -4.6"/>
<path fill="#245c16" d="M146.1 436.3a3 1.9 4 1 0 6 .5 3 1.9 4 1 0 -6 -.5"/>
<path fill="#367c1f" d="M166.6 441.2a2.1 1.3 142 1 0 -3.4 2.6 2.1 1.3 142 1 0 3.4 -2.6"/>
<path fill="#4a9828" d="M176.5 443.7a2.4 1.4 115 1 0 -2.1 4.3 2.4 1.4 115 1 0 2.1 -4.3M184.4 440.6a2.4 1.3 179 1 0 -4.8 .1 2.4 1.3 179 1 0 4.8 -.1M165.6 430.2a3 1.5 127 1 0 -3.6 4.7 3 1.5 127 1 0 3.6 -4.7M148.8 432a3.3 2.1 140 1 0 -5 4.2 3.3 2.1 140 1 0 5 -4.2M159 427.3a3.1 2 161 1 0 -5.9 2 3.1 2 161 1 0 5.9 -2M183.1 429.3a3 1.8 158 1 0 -5.6 2.2 3 1.8 158 1 0 5.6 -2.2M168.9 433.7a2.3 1.4 99 1 0 -.8 4.6 2.3 1.4 99 1 0 .8 -4.6M167 443.2a3.2 1.6 103 1 0 -1.5 6.2 3.2 1.6 103 1 0 1.5 -6.2"/>
<path fill="#60b232" d="M178 442.9a3.1 2 86 1 0 .4 6.2 3.1 2 86 1 0 -.4 -6.2M174.2 433.9a2 1.3 61 1 0 1.9 3.5 2 1.3 61 1 0 -1.9 -3.5M170 419.7a3.2 2 108 1 0 -2.1 6.1 3.2 2 108 1 0 2.1 -6.1M167.3 431.3a2.7 1.7 84 1 0 .5 5.3 2.7 1.7 84 1 0 -.5 -5.3M179.3 449.1a2.7 1.5 52 1 0 3.2 4.2 2.7 1.5 52 1 0 -3.2 -4.2M142.9 428.9a3.4 2.1 6 1 0 6.7 .7 3.4 2.1 6 1 0 -6.7 -.7M167.9 425.3a3.1 2 48 1 0 4.1 4.7 3.1 2 48 1 0 -4.1 -4.7M172.8 425.5a2.6 1.2 77 1 0 1.1 5.1 2.6 1.2 77 1 0 -1.1 -5.1M173.9 433.8a3.4 1.7 110 1 0 -2.3 6.4 3.4 1.7 110 1 0 2.3 -6.4M176.8 438.5a3.2 1.6 168 1 0 -6.3 1.3 3.2 1.6 168 1 0 6.3 -1.3"/>
<path fill="#82ca4a" d="M152.5 430.9a2.7 1.3 39 1 0 4.1 3.4 2.7 1.3 39 1 0 -4.1 -3.4M155.1 422.9a2.6 1.4 118 1 0 -2.5 4.6 2.6 1.4 118 1 0 2.5 -4.6M167.2 432.9a2.5 1.4 86 1 0 .3 4.9 2.5 1.4 86 1 0 -.3 -4.9"/>
<rect x="142" y="464.6" width="44.2" height="41.1" rx="4.5" fill="url(#gr)" stroke="#5e5c58" stroke-width=".9"/>
<rect x="144.2" y="466.9" width="39.8" height="36.3" rx="2.5" fill="#221b16"/>
<path fill="#3f3226" d="M155.5 470.1a1.4 .6 137 1 0 -2.1 1.9 1.4 .6 137 1 0 2.1 -1.9M153.6 473.7a1.4 1.1 15 1 0 2.7 .8 1.4 1.1 15 1 0 -2.7 -.8M159.1 498.9a1.4 .9 124 1 0 -1.6 2.2 1.4 .9 124 1 0 1.6 -2.2M180 485.7a.9 .7 176 1 0 -1.8 .1 .9 .7 176 1 0 1.8 -.1M168.1 479.5a1.3 1 29 1 0 2.2 1.2 1.3 1 29 1 0 -2.2 -1.2M180.8 484.8a.8 .5 171 1 0 -1.5 .2 .8 .5 171 1 0 1.5 -.2M159.1 473.5a1.2 .6 66 1 0 .9 2.2 1.2 .6 66 1 0 -.9 -2.2M164.5 489.8a1 1.1 178 1 0 -2 .1 1 1.1 178 1 0 2 -.1M154.6 498.7a1.3 .8 147 1 0 -2.2 1.4 1.3 .8 147 1 0 2.2 -1.4M175 479.5a1.6 .7 116 1 0 -1.4 2.8 1.6 .7 116 1 0 1.4 -2.8M157.5 488.5a1.1 1 160 1 0 -2 .7 1.1 1 160 1 0 2 -.7M156.3 482a.8 .8 66 1 0 .6 1.4 .8 .8 66 1 0 -.6 -1.4M175.9 472a1.6 .7 90 1 0 -.1 3.1 1.6 .7 90 1 0 .1 -3.1M152.5 471.4a.7 .9 53 1 0 .9 1.2 .7 .9 53 1 0 -.9 -1.2M175.7 476.7a.8 .7 2 1 0 1.6 .1 .8 .7 2 1 0 -1.6 -.1M149.5 492.1a1.4 .8 81 1 0 .4 2.8 1.4 .8 81 1 0 -.4 -2.8M149.1 485.9a.7 1 149 1 0 -1.1 .7 .7 1 149 1 0 1.1 -.7M174.6 470.9a.9 1 101 1 0 -.4 1.7 .9 1 101 1 0 .4 -1.7M146.2 484.6a.8 .9 43 1 0 1.2 1.2 .8 .9 43 1 0 -1.2 -1.2M170.1 494.6a.9 .7 52 1 0 1.1 1.4 .9 .7 52 1 0 -1.1 -1.4M168 493.2a1.3 .5 25 1 0 2.3 1.1 1.3 .5 25 1 0 -2.3 -1.1"/>
<path fill="#5a4a3a" d="M158.9 482.8a.7 1 112 1 0 -.5 1.2 .7 1 112 1 0 .5 -1.2M170.9 470.5a1.4 1 124 1 0 -1.6 2.3 1.4 1 124 1 0 1.6 -2.3M152.7 467.9a1.4 .9 68 1 0 1 2.6 1.4 .9 68 1 0 -1 -2.6M152.2 484.3a1.4 .5 91 1 0 -.1 2.8 1.4 .5 91 1 0 .1 -2.8M145.7 499.8a.7 1.1 33 1 0 1.1 .7 .7 1.1 33 1 0 -1.1 -.7M163.7 476.2a1.1 .7 174 1 0 -2.3 .2 1.1 .7 174 1 0 2.3 -.2M167 469.2a.9 1 112 1 0 -.7 1.6 .9 1 112 1 0 .7 -1.6M161.6 469.8a.8 .9 112 1 0 -.6 1.4 .8 .9 112 1 0 .6 -1.4M173.1 488.4a1.2 .6 38 1 0 1.9 1.5 1.2 .6 38 1 0 -1.9 -1.5M159.2 489.1a.9 .5 105 1 0 -.5 1.8 .9 .5 105 1 0 .5 -1.8M154.3 494.7a.9 1 116 1 0 -.8 1.6 .9 1 116 1 0 .8 -1.6M162.4 490.9a1.6 .5 117 1 0 -1.4 2.8 1.6 .5 117 1 0 1.4 -2.8M168.8 480.5a.9 1.1 85 1 0 .1 1.7 .9 1.1 85 1 0 -.1 -1.7M173 491.5a1.2 .6 162 1 0 -2.2 .7 1.2 .6 162 1 0 2.2 -.7M170.6 467.9a.8 .6 68 1 0 .6 1.5 .8 .6 68 1 0 -.6 -1.5M174 473.6a.8 .6 68 1 0 .6 1.5 .8 .6 68 1 0 -.6 -1.5M159.7 477a1.4 .6 16 1 0 2.6 .8 1.4 .6 16 1 0 -2.6 -.8M173.2 480.5a1.4 .6 84 1 0 .3 2.9 1.4 .6 84 1 0 -.3 -2.9M176.3 496.4a.9 .9 0 1 0 1.8 0 .9 .9 0 1 0 -1.8 -0"/>
<path fill="#8a6c44" d="M177.2 485.1a3 1.4 6 1 0 5.9 .7 3 1.4 6 1 0 -5.9 -.7M169.9 469.4a2.8 1.2 46 1 0 3.8 4 2.8 1.2 46 1 0 -3.8 -4M168.4 476.4a3.1 1.8 149 1 0 -5.3 3.1 3.1 1.8 149 1 0 5.3 -3.1M179.2 496.2a2.1 1.1 10 1 0 4.1 .8 2.1 1.1 10 1 0 -4.1 -.8"/>
<path fill="#b8955c" d="M176.5 476.2a3 1.1 102 1 0 -1.3 5.9 3 1.1 102 1 0 1.3 -5.9M158.6 468.6a3.4 2 25 1 0 6.1 2.9 3.4 2 25 1 0 -6.1 -2.9M155.7 500.6a3 1.5 109 1 0 -2 5.7 3 1.5 109 1 0 2 -5.7M148.1 486.4a3.3 1.5 48 1 0 4.3 4.9 3.3 1.5 48 1 0 -4.3 -4.9M166.4 498.1a2.2 1.1 91 1 0 -.1 4.4 2.2 1.1 91 1 0 .1 -4.4"/>
<path fill="#d4b47a" d="M158.3 473.2a3 1.4 164 1 0 -5.8 1.6 3 1.4 164 1 0 5.8 -1.6M161.4 476.5a1.9 1.1 112 1 0 -1.4 3.5 1.9 1.1 112 1 0 1.4 -3.5M183.4 486.2a3 1.5 172 1 0 -5.9 .7 3 1.5 172 1 0 5.9 -.7M160.4 483.1a2.7 1.5 167 1 0 -5.3 1.2 2.7 1.5 167 1 0 5.3 -1.2M153.8 478.4a2.8 1.4 21 1 0 5.3 2.1 2.8 1.4 21 1 0 -5.3 -2.1M168.9 472.8a2.1 1.2 118 1 0 -2 3.7 2.1 1.2 118 1 0 2 -3.7M176.2 481a2.7 1.7 173 1 0 -5.3 .6 2.7 1.7 173 1 0 5.3 -.6M182.2 491.7a2.3 1.1 156 1 0 -4.2 1.9 2.3 1.1 156 1 0 4.2 -1.9M175.1 489.2a2.2 1.3 140 1 0 -3.5 2.9 2.2 1.3 140 1 0 3.5 -2.9M175.9 484.6a2.6 1.3 66 1 0 2.1 4.7 2.6 1.3 66 1 0 -2.1 -4.7M167.8 480.2a2.9 1.7 175 1 0 -5.7 .5 2.9 1.7 175 1 0 5.7 -.5M156.1 484.5a2.1 1.1 111 1 0 -1.6 3.9 2.1 1.1 111 1 0 1.6 -3.9M176.3 469.9a3.4 1.7 128 1 0 -4.2 5.3 3.4 1.7 128 1 0 4.2 -5.3M171.1 482.5a2.7 1.7 45 1 0 3.9 3.9 2.7 1.7 45 1 0 -3.9 -3.9M165.9 485.1a3.3 2 115 1 0 -2.8 6 3.3 2 115 1 0 2.8 -6"/>
<path fill="#e4cf9e" d="M144.5 470.8a2.6 1.1 53 1 0 3.1 4.1 2.6 1.1 53 1 0 -3.1 -4.1M160.3 487.4a3 1.6 6 1 0 5.9 .6 3 1.6 6 1 0 -5.9 -.6M176.4 464.8a2.9 1.4 117 1 0 -2.6 5.2 2.9 1.4 117 1 0 2.6 -5.2M163 499.9a2 1.2 28 1 0 3.5 1.9 2 1.2 28 1 0 -3.5 -1.9M151.8 499.6a2.6 1.5 150 1 0 -4.5 2.6 2.6 1.5 150 1 0 4.5 -2.6M162.6 487.4a3.3 1.5 102 1 0 -1.4 6.4 3.3 1.5 102 1 0 1.4 -6.4M165.1 499.4a2.3 1.2 114 1 0 -1.9 4.1 2.3 1.2 114 1 0 1.9 -4.1M171.9 484.3a2 1.1 169 1 0 -4 .7 2 1.1 169 1 0 4 -.7M160.3 485.7a2.5 1.5 58 1 0 2.5 4.2 2.5 1.5 58 1 0 -2.5 -4.2M159.1 478.2a3 1.8 9 1 0 5.9 1 3 1.8 9 1 0 -5.9 -1"/>
<path stroke="#357320" stroke-width=".75" fill="none" d="M171.4 474.7L175.2 472.3M171.4 474.7L175.9 473.3M171.4 474.7L176.6 477.6M171.4 474.7L173.4 478.7M171.4 474.7L168.9 480M171.4 474.7L168.6 475.7M171.4 474.7L170.6 470.5M157.1 496.6L157.6 497.9M157.1 496.6L150.8 494.6M157.1 496.6L158 489.4M157.1 496.6L158 496.1M163.7 482.4L156.8 483.7M163.7 482.4L163.9 478.4M163.7 482.4L167.3 483.6M163.7 482.4L165.1 484M163.7 482.4L160.7 485.8M174.1 495.2L172.6 491.1M174.1 495.2L176.2 490.5M174.1 495.2L173.4 496.7M174.1 495.2L170.5 496.9M174.1 495.2L173.1 495.1M174.1 495.2L168.7 492.1M166.5 496.4L163.1 496.2M166.5 496.4L165.2 495.3M166.5 496.4L166.1 492.9M166.5 496.4L168 495.8M166.5 496.4L171.4 501.5M175.5 483.6L173.3 483.3M175.5 483.6L173.8 481.3M175.5 483.6L175.9 477.3M175.5 483.6L182.2 480.5M175.5 483.6L180.2 487.4M157.5 481.1L155.4 481M157.5 481.1L153.9 475.2M157.5 481.1L158.4 474M157.5 481.1L159.4 478M157.5 481.1L162.8 481.2M157.5 481.1L156.9 487.6M157.5 481.1L152.6 481.5M168.4 479.8L168.3 476.6M168.4 479.8L172.9 482.9M168.4 479.8L163.3 483.6"/>
<path fill="#245c16" d="M160.7 485.8a3.3 1.6 131 1 0 -4.4 5 3.3 1.6 131 1 0 4.4 -5"/>
<path fill="#367c1f" d="M179.1 469.9a2.3 1.4 148 1 0 -3.9 2.4 2.3 1.4 148 1 0 3.9 -2.4M176.6 477.6a2.9 1.3 28 1 0 5 2.8 2.9 1.3 28 1 0 -5 -2.8M156.8 483.7a2.4 1.5 169 1 0 -4.7 .9 2.4 1.5 169 1 0 4.7 -.9M171.4 501.5a2.3 1.1 46 1 0 3.1 3.3 2.3 1.1 46 1 0 -3.1 -3.3M150.6 469.7a3.2 1.6 58 1 0 3.4 5.5 3.2 1.6 58 1 0 -3.4 -5.5M162.8 481.2a3 1.4 1 1 0 6 .1 3 1.4 1 1 0 -6 -.1"/>
<path fill="#4a9828" d="M169.9 466.3a2.1 1.2 80 1 0 .7 4.2 2.1 1.2 80 1 0 -.7 -4.2M145.5 492.9a2.8 1.7 17 1 0 5.3 1.7 2.8 1.7 17 1 0 -5.3 -1.7M178.4 485.4a2.8 1.6 113 1 0 -2.3 5.1 2.8 1.6 113 1 0 2.3 -5.1M170.5 496.9a2.9 1.6 154 1 0 -5.2 2.5 2.9 1.6 154 1 0 5.2 -2.5M176.3 471.2a3.1 1.5 93 1 0 -.4 6.1 3.1 1.5 93 1 0 .4 -6.1M159.1 468.2a2.9 1.8 97 1 0 -.7 5.8 2.9 1.8 97 1 0 .7 -5.8M156.9 487.6a2.5 1.4 94 1 0 -.4 4.9 2.5 1.4 94 1 0 .4 -4.9M152.6 481.5a2.3 1.4 174 1 0 -4.6 .4 2.3 1.4 174 1 0 4.6 -.4"/>
<path fill="#60b232" d="M182.4 471.2a3.4 2.2 162 1 0 -6.5 2 3.4 2.2 162 1 0 6.5 -2M173.4 478.7a2.1 1 63 1 0 1.9 3.7 2.1 1 63 1 0 -1.9 -3.7M168.9 480a3.2 1.7 115 1 0 -2.7 5.8 3.2 1.7 115 1 0 2.7 -5.8M158.7 484.3a2.6 1.3 97 1 0 -.6 5.1 2.6 1.3 97 1 0 .6 -5.1M170.6 485.7a2.9 1.4 70 1 0 2 5.4 2.9 1.4 70 1 0 -2 -5.4M164.5 489.6a2.4 1.4 30 1 0 4.2 2.5 2.4 1.4 30 1 0 -4.2 -2.5M172.9 482.9a2.1 1.3 35 1 0 3.5 2.4 2.1 1.3 35 1 0 -3.5 -2.4"/>
<path fill="#82ca4a" d="M164.2 473.1a2.7 1.6 92 1 0 -.3 5.3 2.7 1.6 92 1 0 .3 -5.3M187.3 478.1a2.8 1.3 154 1 0 -5.1 2.4 2.8 1.3 154 1 0 5.1 -2.4M180.2 487.4a2.3 1.5 38 1 0 3.7 2.9 2.3 1.5 38 1 0 -3.7 -2.9M163.3 483.6a2.3 1 143 1 0 -3.7 2.7 2.3 1 143 1 0 3.7 -2.7"/>
<path fill="#245c16" d="M168.6 475.7a3.1 1.6 159 1 0 -5.8 2.2 3.1 1.6 159 1 0 5.8 -2.2M157.5 495.8a2.8 1.4 3 1 0 5.6 .3 2.8 1.4 3 1 0 -5.6 -.3"/>
<path fill="#367c1f" d="M149.6 480.7a2.9 1.9 2 1 0 5.8 .2 2.9 1.9 2 1 0 -5.8 -.2"/>
<path fill="#4a9828" d="M157.6 497.9a2.2 1.1 68 1 0 1.6 4.2 2.2 1.1 68 1 0 -1.6 -4.2M165.1 484a2.4 1.1 49 1 0 3.1 3.6 2.4 1.1 49 1 0 -3.1 -3.6M167.1 494.1a3 1.4 9 1 0 6 1 3 1.4 9 1 0 -6 -1M165.7 488.5a2.2 1.1 84 1 0 .5 4.4 2.2 1.1 84 1 0 -.5 -4.4M173.4 493.8a2.9 1.4 159 1 0 -5.4 2 2.9 1.4 159 1 0 5.4 -2M168.3 482.5a2.5 1.3 8 1 0 5 .8 2.5 1.3 8 1 0 -5 -.8M161.9 474a2.4 1.2 122 1 0 -2.5 4 2.4 1.2 122 1 0 2.5 -4"/>
<path fill="#60b232" d="M170.8 477.1a2.6 1.6 53 1 0 3 4.2 2.6 1.6 53 1 0 -3 -4.2"/>
<path fill="#82ca4a" d="M162.1 493.8a2.4 1.2 150 1 0 -4.1 2.3 2.4 1.2 150 1 0 4.1 -2.3M167.3 483.6a2.6 1.2 19 1 0 4.9 1.7 2.6 1.2 19 1 0 -4.9 -1.7M173.4 496.7a3.3 1.6 115 1 0 -2.9 6 3.3 1.6 115 1 0 2.9 -6M161.7 492.2a2.3 1.3 41 1 0 3.5 3.1 2.3 1.3 41 1 0 -3.5 -3.1M168.1 472.5a2 1.3 87 1 0 .2 4.1 2 1.3 87 1 0 -.2 -4.1"/>
<rect x="190" y="419" width="48.6" height="88.2" fill="#1f1d1a"/>
<rect x="191.6" y="420.5" width="45.4" height="41.1" rx="4.5" fill="url(#gr)" stroke="#5e5c58" stroke-width=".9"/>
<rect x="193.8" y="422.8" width="41" height="36.3" rx="2.5" fill="#221b16"/>
<path fill="#3f3226" d="M223.3 457.5a1.3 1 4 1 0 2.6 .2 1.3 1 4 1 0 -2.6 -.2M218.2 432.4a1.6 .7 129 1 0 -2 2.4 1.6 .7 129 1 0 2 -2.4M215 433.2a1.1 1 114 1 0 -.9 1.9 1.1 1 114 1 0 .9 -1.9M222.4 428.1a1.4 1 148 1 0 -2.4 1.5 1.4 1 148 1 0 2.4 -1.5M198.4 430a.8 1 18 1 0 1.4 .5 .8 1 18 1 0 -1.4 -.5M206.2 454.4a1 .9 99 1 0 -.3 2 1 .9 99 1 0 .3 -2M217.8 444.4a.9 1 33 1 0 1.5 1 .9 1 33 1 0 -1.5 -1M212.3 432.6a.7 1 19 1 0 1.4 .5 .7 1 19 1 0 -1.4 -.5M223.1 433.6a1.4 .8 158 1 0 -2.6 1 1.4 .8 158 1 0 2.6 -1M202.9 449.4a1 .7 88 1 0 .1 2 1 .7 88 1 0 -.1 -2M224.8 429.3a1.2 .9 14 1 0 2.4 .6 1.2 .9 14 1 0 -2.4 -.6M198 445.2a1.5 .6 172 1 0 -3.1 .4 1.5 .6 172 1 0 3.1 -.4M231.2 456.5a1 .8 129 1 0 -1.3 1.6 1 .8 129 1 0 1.3 -1.6M224.4 436.5a1.3 .5 140 1 0 -2 1.6 1.3 .5 140 1 0 2 -1.6M223.9 435.4a1.4 .7 108 1 0 -.9 2.6 1.4 .7 108 1 0 .9 -2.6M228.2 437.6a1.4 .9 38 1 0 2.2 1.7 1.4 .9 38 1 0 -2.2 -1.7M203.4 438.4a.8 1.1 156 1 0 -1.4 .6 .8 1.1 156 1 0 1.4 -.6M232.7 429.2a1.1 .5 61 1 0 1.1 2 1.1 .5 61 1 0 -1.1 -2M200.9 447.9a.8 .6 175 1 0 -1.6 .1 .8 .6 175 1 0 1.6 -.1M198.6 439.4a1.5 .8 29 1 0 2.7 1.5 1.5 .8 29 1 0 -2.7 -1.5M218.7 424.6a1.2 1 6 1 0 2.4 .3 1.2 1 6 1 0 -2.4 -.3M233.2 429.2a1.2 1 92 1 0 -.1 2.3 1.2 1 92 1 0 .1 -2.3M200.2 424.5a1.2 .5 68 1 0 .9 2.3 1.2 .5 68 1 0 -.9 -2.3M195.7 438.8a.9 1 119 1 0 -.8 1.5 .9 1 119 1 0 .8 -1.5M226.1 455.1a.7 .6 29 1 0 1.2 .7 .7 .6 29 1 0 -1.2 -.7M206.9 450.7a1.3 1.1 58 1 0 1.3 2.2 1.3 1.1 58 1 0 -1.3 -2.2M231.9 448.2a1.6 .9 143 1 0 -2.5 1.8 1.6 .9 143 1 0 2.5 -1.8"/>
<path fill="#5a4a3a" d="M223 432.9a1.5 .8 118 1 0 -1.4 2.6 1.5 .8 118 1 0 1.4 -2.6M225.2 439.1a1.5 1 112 1 0 -1.1 2.7 1.5 1 112 1 0 1.1 -2.7M225.1 433.8a.7 .8 101 1 0 -.3 1.4 .7 .8 101 1 0 .3 -1.4M209.9 437.8a1.4 .5 50 1 0 1.8 2.2 1.4 .5 50 1 0 -1.8 -2.2M232.3 441.4a.9 .6 65 1 0 .7 1.6 .9 .6 65 1 0 -.7 -1.6M222.7 427.9a1.5 .8 137 1 0 -2.2 2 1.5 .8 137 1 0 2.2 -2M223.2 455a1.3 .7 159 1 0 -2.4 .9 1.3 .7 159 1 0 2.4 -.9M222.1 426.4a1 1.1 102 1 0 -.4 1.9 1 1.1 102 1 0 .4 -1.9M229.4 441.1a.7 .8 81 1 0 .2 1.3 .7 .8 81 1 0 -.2 -1.3M200.5 436.5a1.1 .6 129 1 0 -1.4 1.8 1.1 .6 129 1 0 1.4 -1.8M229.8 434.1a1.6 .8 51 1 0 2 2.5 1.6 .8 51 1 0 -2 -2.5M216.1 432.9a1.3 .8 171 1 0 -2.5 .4 1.3 .8 171 1 0 2.5 -.4M210.6 427.2a.9 1 42 1 0 1.3 1.2 .9 1 42 1 0 -1.3 -1.2"/>
<path fill="#8a6c44" d="M201.4 454.4a2.6 1.3 51 1 0 3.3 4.1 2.6 1.3 51 1 0 -3.3 -4.1M226 431.7a2.8 1.6 35 1 0 4.5 3.2 2.8 1.6 35 1 0 -4.5 -3.2"/>
<path fill="#b8955c" d="M233.9 430.4a2.4 .9 130 1 0 -3.1 3.6 2.4 .9 130 1 0 3.1 -3.6M208.5 445.6a2.2 1.3 79 1 0 .8 4.4 2.2 1.3 79 1 0 -.8 -4.4M199.7 434a3.2 2 41 1 0 4.8 4.3 3.2 2 41 1 0 -4.8 -4.3M229.1 444.2a3.3 2 2 1 0 6.7 .2 3.3 2 2 1 0 -6.7 -.2M219.2 437.3a2.2 1.1 41 1 0 3.4 3 2.2 1.1 41 1 0 -3.4 -3M214.6 437a2.7 1.2 86 1 0 .4 5.4 2.7 1.2 86 1 0 -.4 -5.4"/>
<path fill="#d4b47a" d="M207.6 439.1a2.1 1 27 1 0 3.7 1.9 2.1 1 27 1 0 -3.7 -1.9M197 449.1a2.1 1.1 25 1 0 3.8 1.8 2.1 1.1 25 1 0 -3.8 -1.8M217.5 449.5a1.9 .7 157 1 0 -3.4 1.4 1.9 .7 157 1 0 3.4 -1.4M216.9 437.3a2.6 1.2 53 1 0 3.1 4.2 2.6 1.2 53 1 0 -3.1 -4.2M212.2 454.3a2.9 1.6 54 1 0 3.4 4.8 2.9 1.6 54 1 0 -3.4 -4.8M204 454a2.1 1.3 148 1 0 -3.6 2.2 2.1 1.3 148 1 0 3.6 -2.2M218 443.8a2.4 1.2 2 1 0 4.9 .2 2.4 1.2 2 1 0 -4.9 -.2M197 453a2.7 1.6 176 1 0 -5.4 .3 2.7 1.6 176 1 0 5.4 -.3M211.3 424.8a3.3 1.6 18 1 0 6.3 2.1 3.3 1.6 18 1 0 -6.3 -2.1M204.4 437.5a3.1 1.8 58 1 0 3.3 5.3 3.1 1.8 58 1 0 -3.3 -5.3M203.2 438.5a2.9 1.5 90 1 0 -0 5.8 2.9 1.5 90 1 0 0 -5.8M218.1 433.8a3.2 2 7 1 0 6.3 .8 3.2 2 7 1 0 -6.3 -.8"/>
<path fill="#e4cf9e" d="M222.4 427.8a2.1 1.2 120 1 0 -2.1 3.6 2.1 1.2 120 1 0 2.1 -3.6M202.7 452.8a3.2 1.9 161 1 0 -6.2 2 3.2 1.9 161 1 0 6.2 -2M224.6 437.8a2.8 1.3 71 1 0 1.8 5.3 2.8 1.3 71 1 0 -1.8 -5.3M230.8 423.7a2.1 1.1 156 1 0 -3.9 1.7 2.1 1.1 156 1 0 3.9 -1.7M221.7 435a3.1 1.6 83 1 0 .7 6.1 3.1 1.6 83 1 0 -.7 -6.1M210.2 427.8a2.4 1.2 0 1 0 4.9 .1 2.4 1.2 0 1 0 -4.9 -.1"/>
<path stroke="#357320" stroke-width=".75" fill="none" d="M209.5 450.6L206.5 446.9M209.5 450.6L209.4 445.5M209.5 450.6L212 448.7M209.5 450.6L210.7 450.5M209.5 450.6L210.5 456.1M207.7 441.2L206.9 434.2M207.7 441.2L211 436.5M207.7 441.2L213 439.6M207.7 441.2L210.8 444.3M207.7 441.2L205.1 447.9M207.7 441.2L203.1 441.6M226.7 444.1L227.2 443.2M226.7 444.1L232.7 446.2M226.7 444.1L228.2 446.7M226.7 444.1L221.2 449.1M200.2 452.8L204.3 452.5M200.2 452.8L202.6 458.1M200.2 452.8L195.1 458.3M200.2 452.8L199.3 452M200.2 452.8L198.9 450.1M200.2 452.8L200.8 451.7M200.2 452.8L201.5 451.8M220.9 428L223.4 429.1M220.9 428L216.9 432.1M220.9 428L219.8 426.2M220.9 428L221.1 426.4M203.2 435.7L201.5 437M203.2 435.7L198.3 434.5M203.2 435.7L202.3 435.1M203.2 435.7L203.1 433.8M203.2 435.7L208.7 430.7M203.2 435.7L205 435M203.2 435.7L206.7 437.3M214.4 433.3L208.4 433M214.4 433.3L213.4 432.3M214.4 433.3L214.2 432.1M214.4 433.3L219.2 429.4M214.4 433.3L217.9 435.1M214.4 433.3L213.2 436M226.9 446.4L227 452.2M226.9 446.4L225.8 448.1M226.9 446.4L224.3 448.4M226.9 446.4L221.6 443.3M226.9 446.4L224.4 444M226.9 446.4L226.7 443.2M226.9 446.4L228.6 445.3M226.9 446.4L228.7 446.1M226.9 446.4L227.8 447"/>
<path fill="#245c16" d="M210.5 456.1a3.1 1.6 79 1 0 1.1 6.2 3.1 1.6 79 1 0 -1.1 -6.2M210.8 444.3a2.3 1.3 45 1 0 3.3 3.3 2.3 1.3 45 1 0 -3.3 -3.3M206.7 437.3a2.9 1.6 25 1 0 5.2 2.5 2.9 1.6 25 1 0 -5.2 -2.5M204.1 432.7a2.2 1.1 3 1 0 4.3 .3 2.2 1.1 3 1 0 -4.3 -.3"/>
<path fill="#367c1f" d="M206.2 428.3a3 1.7 83 1 0 .7 5.9 3 1.7 83 1 0 -.7 -5.9M219.3 437.6a3.3 1.6 162 1 0 -6.3 2 3.3 1.6 162 1 0 6.3 -2M205.1 447.9a2.7 1.7 111 1 0 -2 5.1 2.7 1.7 111 1 0 2 -5.1M210.2 451.9a3 1.5 174 1 0 -5.9 .5 3 1.5 174 1 0 5.9 -.5M195.1 458.3a2.3 1.2 132 1 0 -3.2 3.4 2.3 1.2 132 1 0 3.2 -3.4M217.9 435.1a2.2 1.1 27 1 0 3.9 2 2.2 1.1 27 1 0 -3.9 -2M227 452.2a2.4 1.3 89 1 0 0 4.8 2.4 1.3 89 1 0 -0 -4.8"/>
<path fill="#4a9828" d="M214.7 431.2a3.2 2 124 1 0 -3.7 5.3 3.2 2 124 1 0 3.7 -5.3M212.8 427a2.8 1.4 137 1 0 -4.1 3.7 2.8 1.4 137 1 0 4.1 -3.7"/>
<path fill="#60b232" d="M202.8 442.5a2.9 1.8 50 1 0 3.7 4.4 2.9 1.8 50 1 0 -3.7 -4.4M209.3 440.5a2.5 1.4 88 1 0 .1 5 2.5 1.4 88 1 0 -.1 -5M202.6 458.1a2.2 1.1 64 1 0 1.8 3.9 2.2 1.1 64 1 0 -1.8 -3.9M194.1 433.6a2.2 1.1 12 1 0 4.3 1 2.2 1.1 12 1 0 -4.3 -1M216.5 440.3a3 1.9 30 1 0 5.1 3 3 1.9 30 1 0 -5.1 -3"/>
<path fill="#82ca4a" d="M203.1 441.6a3.1 2 174 1 0 -6.2 .6 3.1 2 174 1 0 6.2 -.6M232.7 446.2a3.3 2.1 19 1 0 6.3 2.2 3.3 2.1 19 1 0 -6.3 -2.2M221.2 449.1a2.4 1.2 137 1 0 -3.5 3.2 2.4 1.2 137 1 0 3.5 -3.2M216.9 432.1a2.2 1.1 134 1 0 -3 3.2 2.2 1.1 134 1 0 3 -3.2M224.2 425.3a3.3 1.5 140 1 0 -5.1 4.1 3.3 1.5 140 1 0 5.1 -4.1"/>
<path fill="#245c16" d="M228.2 446.7a2.5 1.4 60 1 0 2.4 4.3 2.5 1.4 60 1 0 -2.4 -4.3M205.9 448.6a2.7 1.5 143 1 0 -4.4 3.2 2.7 1.5 143 1 0 4.4 -3.2M196.8 432.1a3.1 1.6 28 1 0 5.5 3 3.1 1.6 28 1 0 -5.5 -3M213.2 436a2.1 1.2 114 1 0 -1.7 3.8 2.1 1.2 114 1 0 1.7 -3.8M224.3 448.4a2.4 1.5 142 1 0 -3.7 2.9 2.4 1.5 142 1 0 3.7 -2.9M226.2 436.8a3.2 1.7 85 1 0 .5 6.4 3.2 1.7 85 1 0 -.5 -6.4M233.7 442a3 1.8 147 1 0 -5.1 3.3 3 1.8 147 1 0 5.1 -3.3"/>
<path fill="#367c1f" d="M201.5 437a3.2 1.9 143 1 0 -5.1 3.8 3.2 1.9 143 1 0 5.1 -3.8M209.4 428a2.9 1.5 46 1 0 4 4.3 2.9 1.5 46 1 0 -4 -4.3"/>
<path fill="#4a9828" d="M197.2 446.2a2.1 1 65 1 0 1.8 3.9 2.1 1 65 1 0 -1.8 -3.9M227.8 447a3.1 2 37 1 0 5 3.7 3.1 2 37 1 0 -5 -3.7"/>
<path fill="#60b232" d="M216.9 445.3a3 1.7 144 1 0 -4.8 3.5 3 1.7 144 1 0 4.8 -3.5M216 450a2.7 1.5 174 1 0 -5.3 .5 2.7 1.5 174 1 0 5.3 -.5M229.6 438.6a2.6 1.5 117 1 0 -2.4 4.6 2.6 1.5 117 1 0 2.4 -4.6M203.3 447.3a2.5 1.2 119 1 0 -2.5 4.4 2.5 1.2 119 1 0 2.5 -4.4M223.4 429.1a2.2 1.1 24 1 0 4.1 1.9 2.2 1.1 24 1 0 -4.1 -1.9M217.3 421.7a2.6 1.7 60 1 0 2.5 4.5 2.6 1.7 60 1 0 -2.5 -4.5M222 421.6a3.1 1.9 98 1 0 -.9 6.1 3.1 1.9 98 1 0 .9 -6.1M213.7 427a2.6 1.6 83 1 0 .6 5.1 2.6 1.6 83 1 0 -.6 -5.1M219.5 439.3a3.4 2.1 43 1 0 4.9 4.7 3.4 2.1 43 1 0 -4.9 -4.7M234 445.1a2.7 1.4 169 1 0 -5.2 1 2.7 1.4 169 1 0 5.2 -1"/>
<path fill="#82ca4a" d="M195.4 448.2a2.7 1.5 43 1 0 3.9 3.8 2.7 1.5 43 1 0 -3.9 -3.8M202.4 427.9a3 1.5 83 1 0 .6 5.9 3 1.5 83 1 0 -.6 -5.9M210.7 432.7a3.1 1.5 158 1 0 -5.7 2.3 3.1 1.5 158 1 0 5.7 -2.3M225.8 448.1a3.4 2.1 123 1 0 -3.7 5.7 3.4 2.1 123 1 0 3.7 -5.7"/>
<rect x="191.6" y="464.6" width="45.4" height="41.1" rx="4.5" fill="url(#gr)" stroke="#5e5c58" stroke-width=".9"/>
<rect x="193.8" y="466.9" width="41" height="36.3" rx="2.5" fill="#221b16"/>
<path fill="#3f3226" d="M208.3 479.5a.7 1 90 1 0 -0 1.4 .7 1 90 1 0 0 -1.4M229.1 488.3a1.2 .7 68 1 0 .9 2.3 1.2 .7 68 1 0 -.9 -2.3M208.6 478.6a.9 1.1 22 1 0 1.7 .7 .9 1.1 22 1 0 -1.7 -.7M209.9 477.5a1.5 .5 54 1 0 1.8 2.5 1.5 .5 54 1 0 -1.8 -2.5M216.4 501.2a1.5 .5 30 1 0 2.6 1.5 1.5 .5 30 1 0 -2.6 -1.5M196.1 493a1.1 1.1 163 1 0 -2.1 .6 1.1 1.1 163 1 0 2.1 -.6M225.6 484.6a1 .8 166 1 0 -1.9 .5 1 .8 166 1 0 1.9 -.5M231.8 493.8a1.4 .7 48 1 0 1.9 2.1 1.4 .7 48 1 0 -1.9 -2.1M211.1 479.5a1.2 1 167 1 0 -2.3 .5 1.2 1 167 1 0 2.3 -.5M233.6 483.4a1.3 .8 157 1 0 -2.4 1 1.3 .8 157 1 0 2.4 -1M220.7 473.5a1.2 .8 2 1 0 2.5 .1 1.2 .8 2 1 0 -2.5 -.1M230.7 476.1a1.4 1 170 1 0 -2.8 .5 1.4 1 170 1 0 2.8 -.5M207.5 500.2a1.2 .9 103 1 0 -.6 2.4 1.2 .9 103 1 0 .6 -2.4M211.2 485.5a.7 .8 91 1 0 -0 1.4 .7 .8 91 1 0 0 -1.4M208.9 485.7a.7 .6 72 1 0 .4 1.3 .7 .6 72 1 0 -.4 -1.3M233.2 490.2a1.3 .7 74 1 0 .7 2.5 1.3 .7 74 1 0 -.7 -2.5M214 494.6a1.5 1 61 1 0 1.4 2.7 1.5 1 61 1 0 -1.4 -2.7"/>
<path fill="#5a4a3a" d="M229.2 499.9a1.5 1.1 135 1 0 -2.1 2 1.5 1.1 135 1 0 2.1 -2M230.6 474.7a1.2 .7 82 1 0 .3 2.3 1.2 .7 82 1 0 -.3 -2.3M206.7 500a.9 .9 22 1 0 1.7 .7 .9 .9 22 1 0 -1.7 -.7M199.1 496.7a.9 .7 64 1 0 .8 1.7 .9 .7 64 1 0 -.8 -1.7M195.3 494.2a1.3 .5 81 1 0 .4 2.6 1.3 .5 81 1 0 -.4 -2.6M234 468.7a1.1 1 123 1 0 -1.2 1.9 1.1 1 123 1 0 1.2 -1.9M198.5 497.4a1 1.1 132 1 0 -1.3 1.5 1 1.1 132 1 0 1.3 -1.5M194.6 467.4a1.5 .5 73 1 0 .9 2.9 1.5 .5 73 1 0 -.9 -2.9M199.2 482.9a.8 1 133 1 0 -1.1 1.2 .8 1 133 1 0 1.1 -1.2M219.7 500.4a1.4 .7 32 1 0 2.4 1.5 1.4 .7 32 1 0 -2.4 -1.5M197.3 486a1.2 1 97 1 0 -.3 2.4 1.2 1 97 1 0 .3 -2.4M217.7 469.7a1.4 1 39 1 0 2.2 1.8 1.4 1 39 1 0 -2.2 -1.8M219.9 474.3a.6 1.1 112 1 0 -.5 1.2 .6 1.1 112 1 0 .5 -1.2M216.1 486.9a1.5 .6 50 1 0 1.9 2.4 1.5 .6 50 1 0 -1.9 -2.4M221.4 492.5a1 1.1 164 1 0 -2 .6 1 1.1 164 1 0 2 -.6M207.1 486.6a1.3 .8 12 1 0 2.5 .6 1.3 .8 12 1 0 -2.5 -.6M218.1 483.7a1 .8 37 1 0 1.5 1.2 1 .8 37 1 0 -1.5 -1.2M226.3 490.8a1.5 .9 107 1 0 -.9 2.8 1.5 .9 107 1 0 .9 -2.8M224.8 469.5a1.6 .7 22 1 0 2.9 1.2 1.6 .7 22 1 0 -2.9 -1.2M233 489.4a.9 1 108 1 0 -.5 1.6 .9 1 108 1 0 .5 -1.6M199.5 487.7a.7 .9 132 1 0 -.9 1 .7 .9 132 1 0 .9 -1M197.2 468.4a1.1 .7 5 1 0 2.1 .2 1.1 .7 5 1 0 -2.1 -.2M226 486.1a1.4 .8 26 1 0 2.5 1.3 1.4 .8 26 1 0 -2.5 -1.3"/>
<path fill="#8a6c44" d="M217.5 466.7a3.1 1.6 144 1 0 -5 3.5 3.1 1.6 144 1 0 5 -3.5"/>
<path fill="#b8955c" d="M201 494.5a2.4 1 130 1 0 -3.1 3.7 2.4 1 130 1 0 3.1 -3.7M209.4 466.7a3.2 1.6 31 1 0 5.4 3.3 3.2 1.6 31 1 0 -5.4 -3.3M211.9 467.1a2.2 .8 91 1 0 -.1 4.3 2.2 .8 91 1 0 .1 -4.3M214.8 484.8a2.7 1.2 128 1 0 -3.4 4.3 2.7 1.2 128 1 0 3.4 -4.3M219.2 486.6a2.7 1.2 154 1 0 -4.8 2.3 2.7 1.2 154 1 0 4.8 -2.3M200.8 480.2a3.2 2 62 1 0 3 5.7 3.2 2 62 1 0 -3 -5.7M217.1 487.9a3.2 1.8 165 1 0 -6.3 1.6 3.2 1.8 165 1 0 6.3 -1.6M210.5 495.4a2.5 1.3 47 1 0 3.3 3.6 2.5 1.3 47 1 0 -3.3 -3.6"/>
<path fill="#d4b47a" d="M204.8 484.4a3 1.3 163 1 0 -5.7 1.7 3 1.3 163 1 0 5.7 -1.7M194.5 466.4a2.7 1.2 59 1 0 2.8 4.7 2.7 1.2 59 1 0 -2.8 -4.7M213.6 470.7a2.2 1.2 59 1 0 2.2 3.8 2.2 1.2 59 1 0 -2.2 -3.8M220.1 485.6a2.3 1.1 57 1 0 2.5 3.9 2.3 1.1 57 1 0 -2.5 -3.9M220.3 484.3a2.8 1.6 175 1 0 -5.5 .4 2.8 1.6 175 1 0 5.5 -.4"/>
<path fill="#e4cf9e" d="M231.6 493.8a2 1 17 1 0 3.8 1.2 2 1 17 1 0 -3.8 -1.2M210.2 478.2a2.6 1.5 9 1 0 5 .9 2.6 1.5 9 1 0 -5 -.9M220.5 468.8a2.3 1.1 98 1 0 -.7 4.5 2.3 1.1 98 1 0 .7 -4.5M213 472.8a3 1.4 2 1 0 6 .3 3 1.4 2 1 0 -6 -.3"/>
<path stroke="#357320" stroke-width=".75" fill="none" d="M228.7 491.1L226.3 491.7M228.7 491.1L225.4 487.3M228.7 491.1L231.7 485.7M228.7 491.1L230.2 491.4M228.7 491.1L230.8 492.5M228.7 491.1L231.2 497.9M228.7 491.1L226.5 494.1M218.8 479.7L215.1 477.4M218.8 479.7L223.6 476.2M218.8 479.7L224.2 480.7M218.8 479.7L220.7 484.9M209.2 491.3L210.7 491.6M209.2 491.3L213.2 494.1M209.2 491.3L210.7 497.3M209.2 491.3L208.5 495.4M209.2 491.3L205.2 494.5M209.2 491.3L204.6 489.8M209.2 491.3L207.1 486.7M209.2 491.3L208.8 490.1M209.2 491.3L210.8 487.2M202.9 488L203.1 481.6M202.9 488L208.4 483M202.9 488L204.8 488.1M202.9 488L207.5 489.3M202.9 488L204.7 491.4M202.9 488L200.4 493.7M202.9 488L198.9 489.7M202.9 488L198.6 483.6M206.3 490.8L204.9 492.4M206.3 490.8L202.8 492.2M206.3 490.8L204.8 490.3M206.3 490.8L207.9 486.4M206.3 490.8L211.2 486.7M206.3 490.8L206.5 492.1M217.4 481.4L217.1 479.3M217.4 481.4L221.4 477.4M217.4 481.4L223.7 479.4M217.4 481.4L217.6 482.6M217.4 481.4L216 483.3M217.4 481.4L214.2 480.9M217.4 481.4L214 477.6M227.3 483.8L224 483.5M227.3 483.8L225.5 479.6M227.3 483.8L227.2 476.5M227.3 483.8L232.8 479M227.3 483.8L230.1 483.7M227.3 483.8L228.3 488.5M227.3 483.8L226.7 484.7M208.9 472.7L207.5 470.5M208.9 472.7L209.1 470.7M208.9 472.7L210.5 473.7M208.9 472.7L207.2 478.3M208.9 472.7L205.4 479.1M208.9 472.7L203.8 474.3M208.9 472.7L202.8 468.7"/>
<path fill="#245c16" d="M226.5 494.1a2.1 1 125 1 0 -2.4 3.5 2.1 1 125 1 0 2.4 -3.5M203.8 474.3a3.1 2 162 1 0 -5.9 1.9 3.1 2 162 1 0 5.9 -1.9"/>
<path fill="#367c1f" d="M199.5 488.2a2.7 1.2 18 1 0 5.1 1.7 2.7 1.2 18 1 0 -5.1 -1.7M225 473.7a2.6 1.4 134 1 0 -3.6 3.7 2.6 1.4 134 1 0 3.6 -3.7M227.6 478.2a2.1 1.2 162 1 0 -3.9 1.2 2.1 1.2 162 1 0 3.9 -1.2M236.7 475.5a2.7 1.6 138 1 0 -4 3.5 2.7 1.6 138 1 0 4 -3.5M198.7 466.1a2.5 1.2 32 1 0 4.1 2.7 2.5 1.2 32 1 0 -4.1 -2.7"/>
<path fill="#4a9828" d="M221.5 482.7a3 1.5 49 1 0 4 4.6 3 1.5 49 1 0 -4 -4.6M227.3 473.5a2.3 1.3 144 1 0 -3.7 2.7 2.3 1.3 144 1 0 3.7 -2.7M224.2 480.7a3.2 2 10 1 0 6.3 1.2 3.2 2 10 1 0 -6.3 -1.2M213.2 494.1a2.9 1.5 34 1 0 4.8 3.3 2.9 1.5 34 1 0 -4.8 -3.3M213 481.8a2.9 1.9 111 1 0 -2.2 5.4 2.9 1.9 111 1 0 2.2 -5.4M211.8 479.8a2.4 1.5 137 1 0 -3.5 3.2 2.4 1.5 137 1 0 3.5 -3.2M207.5 489.3a3.1 1.9 15 1 0 5.9 1.7 3.1 1.9 15 1 0 -5.9 -1.7M223.8 475.6a2.2 1.4 67 1 0 1.7 4 2.2 1.4 67 1 0 -1.7 -4M205.4 479.1a2.7 1.4 118 1 0 -2.6 4.8 2.7 1.4 118 1 0 2.6 -4.8"/>
<path fill="#60b232" d="M210.7 497.3a3.3 1.5 75 1 0 1.7 6.3 3.3 1.5 75 1 0 -1.7 -6.3M205.2 494.5a3.4 2 141 1 0 -5.3 4.2 3.4 2 141 1 0 5.3 -4.2M205 482.1a2.5 1.6 65 1 0 2.1 4.6 2.5 1.6 65 1 0 -2.1 -4.6M204.7 491.4a2.5 1.4 62 1 0 2.3 4.5 2.5 1.4 62 1 0 -2.3 -4.5M200.4 493.7a3 1.7 113 1 0 -2.4 5.6 3 1.7 113 1 0 2.4 -5.6M195.2 480.3a2.4 1.1 45 1 0 3.3 3.3 2.4 1.1 45 1 0 -3.3 -3.3M209.6 481.4a2.7 1.5 109 1 0 -1.8 5 2.7 1.5 109 1 0 1.8 -5M215.9 482.7a3.1 1.5 139 1 0 -4.7 4 3.1 1.5 139 1 0 4.7 -4M228.3 488.5a3 1.4 77 1 0 1.3 5.9 3 1.4 77 1 0 -1.3 -5.9"/>
<path fill="#82ca4a" d="M233.7 482.1a2.1 1 119 1 0 -2 3.6 2.1 1 119 1 0 2 -3.6M231.2 497.9a2.7 1.4 69 1 0 1.8 5 2.7 1.4 69 1 0 -1.8 -5M210.8 474.8a2.5 1.2 31 1 0 4.3 2.6 2.5 1.2 31 1 0 -4.3 -2.6M220.7 484.9a2.2 1.1 70 1 0 1.4 4.1 2.2 1.1 70 1 0 -1.4 -4.1M208.5 495.4a2 1 98 1 0 -.6 4 2 1 98 1 0 .6 -4M203.3 476.1a2.7 1.7 91 1 0 -.2 5.5 2.7 1.7 91 1 0 .2 -5.5M198.9 489.7a2.3 1.1 156 1 0 -4.3 1.8 2.3 1.1 156 1 0 4.3 -1.8M210.9 474.2a2.3 1.4 47 1 0 3.1 3.4 2.3 1.4 47 1 0 -3.1 -3.4M227.1 471.7a2.4 1.3 88 1 0 .1 4.8 2.4 1.3 88 1 0 -.1 -4.8M207.2 478.3a3.1 1.6 107 1 0 -1.9 6 3.1 1.6 107 1 0 1.9 -6"/>
<path fill="#245c16" d="M217.6 482.6a2.4 1.1 83 1 0 .5 4.7 2.4 1.1 83 1 0 -.5 -4.7M209.7 465.8a2.9 1.3 95 1 0 -.6 5.7 2.9 1.3 95 1 0 .6 -5.7"/>
<path fill="#367c1f" d="M210.7 491.6a2.1 1.1 8 1 0 4.1 .6 2.1 1.1 8 1 0 -4.1 -.6M204.9 492.4a2.5 1.6 130 1 0 -3.2 3.9 2.5 1.6 130 1 0 3.2 -3.9M210 480.3a2.1 1.3 8 1 0 4.2 .6 2.1 1.3 8 1 0 -4.2 -.6M210.5 473.7a2.2 1.4 34 1 0 3.6 2.5 2.2 1.4 34 1 0 -3.6 -2.5"/>
<path fill="#4a9828" d="M230.2 491.4a2.8 1.4 13 1 0 5.5 1.4 2.8 1.4 13 1 0 -5.5 -1.4M207.3 485.1a2.6 1.2 73 1 0 1.5 4.9 2.6 1.2 73 1 0 -1.5 -4.9M206.5 492.1a2.8 1.6 81 1 0 .8 5.5 2.8 1.6 81 1 0 -.8 -5.5M236 483.4a3 1.6 177 1 0 -6.1 .3 3 1.6 177 1 0 6.1 -.3M226.7 484.7a2.3 1.3 122 1 0 -2.5 3.9 2.3 1.3 122 1 0 2.5 -3.9"/>
<path fill="#60b232" d="M226.3 491.7a3 1.7 166 1 0 -5.9 1.5 3 1.7 166 1 0 5.9 -1.5M230.5 492.5a3 1.6 34 1 0 4.9 3.4 3 1.6 34 1 0 -4.9 -3.4M204.8 488.1a2 1.3 1 1 0 4 .1 2 1.3 1 1 0 -4 -.1M202.8 492.2a3.2 1.7 157 1 0 -5.9 2.4 3.2 1.7 157 1 0 5.9 -2.4"/>
<path fill="#82ca4a" d="M200.9 489a2 1.1 18 1 0 3.8 1.3 2 1.1 18 1 0 -3.8 -1.3M216.4 474.9a2.2 1.4 80 1 0 .7 4.4 2.2 1.4 80 1 0 -.7 -4.4M216 483.3a2.9 1.7 127 1 0 -3.5 4.7 2.9 1.7 127 1 0 3.5 -4.7M217.3 482.8a3.4 1.7 6 1 0 6.7 .7 3.4 1.7 6 1 0 -6.7 -.7M205.1 466.8a2.2 1.4 56 1 0 2.4 3.6 2.2 1.4 56 1 0 -2.4 -3.6"/>
<rect x="240" y="419" width="49.2" height="88.2" fill="#1f1d1a"/>
<rect x="241.6" y="420.5" width="46" height="41.1" rx="4.5" fill="url(#gr)" stroke="#5e5c58" stroke-width=".9"/>
<rect x="243.8" y="422.8" width="41.6" height="36.3" rx="2.5" fill="#221b16"/>
<path fill="#3f3226" d="M270.2 434a.8 1 84 1 0 .2 1.7 .8 1 84 1 0 -.2 -1.7M279.8 444.2a1.6 1 145 1 0 -2.6 1.8 1.6 1 145 1 0 2.6 -1.8M244.6 440.7a1.1 .7 5 1 0 2.3 .2 1.1 .7 5 1 0 -2.3 -.2M245.4 456.9a1 .8 77 1 0 .4 1.9 1 .8 77 1 0 -.4 -1.9M250.4 452.2a1.1 .6 153 1 0 -1.9 1 1.1 .6 153 1 0 1.9 -1M268.5 453.3a1.1 1.1 50 1 0 1.5 1.8 1.1 1.1 50 1 0 -1.5 -1.8M281.2 431.4a1.1 .6 65 1 0 .9 1.9 1.1 .6 65 1 0 -.9 -1.9M273.3 455.7a1.4 .5 108 1 0 -.9 2.6 1.4 .5 108 1 0 .9 -2.6M258 426.6a.8 1.1 177 1 0 -1.6 .1 .8 1.1 177 1 0 1.6 -.1M285 436.8a1.2 .8 158 1 0 -2.2 .8 1.2 .8 158 1 0 2.2 -.8M269.6 455.7a1.3 .8 27 1 0 2.2 1.2 1.3 .8 27 1 0 -2.2 -1.2M277.8 455.8a.9 .9 52 1 0 1.1 1.5 .9 .9 52 1 0 -1.1 -1.5M248.6 450.7a.9 1.1 65 1 0 .7 1.6 .9 1.1 65 1 0 -.7 -1.6M269.9 439.5a.8 .5 88 1 0 0 1.5 .8 .5 88 1 0 -0 -1.5M254.4 449.1a1.3 .8 42 1 0 2 1.8 1.3 .8 42 1 0 -2 -1.8M262.7 431.7a1.6 1 75 1 0 .8 3.1 1.6 1 75 1 0 -.8 -3.1M267.2 437.7a1 .6 149 1 0 -1.7 1 1 .6 149 1 0 1.7 -1M278.1 440.4a.9 .9 148 1 0 -1.5 .9 .9 .9 148 1 0 1.5 -.9M264.8 428.7a1 .8 107 1 0 -.6 1.9 1 .8 107 1 0 .6 -1.9M251.7 435.9a1.5 .9 160 1 0 -2.9 1 1.5 .9 160 1 0 2.9 -1M280.9 451a1.3 .8 160 1 0 -2.5 .9 1.3 .8 160 1 0 2.5 -.9"/>
<path fill="#5a4a3a" d="M279.1 424.9a.9 .9 94 1 0 -.2 1.8 .9 .9 94 1 0 .2 -1.8M275.5 441.9a.8 .8 44 1 0 1.1 1.1 .8 .8 44 1 0 -1.1 -1.1M267.1 456.5a1 .8 104 1 0 -.5 1.9 1 .8 104 1 0 .5 -1.9M247 428.9a1.4 .5 75 1 0 .7 2.8 1.4 .5 75 1 0 -.7 -2.8M266.3 453.7a1.3 1 53 1 0 1.5 2.1 1.3 1 53 1 0 -1.5 -2.1M254.7 436.8a1.4 .7 90 1 0 -0 2.8 1.4 .7 90 1 0 0 -2.8M267.6 429.8a1.6 .7 51 1 0 2 2.5 1.6 .7 51 1 0 -2 -2.5M282.9 434a1.5 .7 131 1 0 -2 2.2 1.5 .7 131 1 0 2 -2.2M253.8 440.6a1.4 .7 136 1 0 -2.1 2 1.4 .7 136 1 0 2.1 -2M255.8 449.2a.7 1.1 66 1 0 .6 1.3 .7 1.1 66 1 0 -.6 -1.3M271.7 429.3a.7 .6 120 1 0 -.7 1.1 .7 .6 120 1 0 .7 -1.1M271 429.4a.9 .9 174 1 0 -1.8 .2 .9 .9 174 1 0 1.8 -.2M265.9 451a1.1 .9 95 1 0 -.2 2.1 1.1 .9 95 1 0 .2 -2.1M275.8 424.3a1.2 .7 106 1 0 -.7 2.3 1.2 .7 106 1 0 .7 -2.3M282.5 451a.7 1 31 1 0 1.2 .7 .7 1 31 1 0 -1.2 -.7M264.7 451.2a.6 .5 7 1 0 1.2 .1 .6 .5 7 1 0 -1.2 -.1M260.3 439.3a.6 .8 161 1 0 -1.1 .4 .6 .8 161 1 0 1.1 -.4M256.4 432.7a.9 .9 62 1 0 .8 1.6 .9 .9 62 1 0 -.8 -1.6M269 457.3a.8 .9 63 1 0 .8 1.5 .8 .9 63 1 0 -.8 -1.5"/>
<path fill="#8a6c44" d="M271.1 454.2a3.4 1.7 41 1 0 5 4.5 3.4 1.7 41 1 0 -5 -4.5M271.4 422.4a2.7 1.7 149 1 0 -4.6 2.8 2.7 1.7 149 1 0 4.6 -2.8M254.7 439.7a2.9 1.6 10 1 0 5.8 1 2.9 1.6 10 1 0 -5.8 -1"/>
<path fill="#b8955c" d="M264.1 450.4a2.8 1.7 133 1 0 -3.8 4.1 2.8 1.7 133 1 0 3.8 -4.1M262.2 441.6a3.2 1.5 119 1 0 -3.2 5.6 3.2 1.5 119 1 0 3.2 -5.6M259 457.9a2.4 1.5 62 1 0 2.2 4.3 2.4 1.5 62 1 0 -2.2 -4.3M264.4 430.3a3.2 1.6 42 1 0 4.7 4.4 3.2 1.6 42 1 0 -4.7 -4.4M274.3 446.8a2.7 1.5 148 1 0 -4.6 2.8 2.7 1.5 148 1 0 4.6 -2.8"/>
<path fill="#d4b47a" d="M282.2 433.2a1.8 .8 126 1 0 -2.1 2.9 1.8 .8 126 1 0 2.1 -2.9M256.7 425.7a1.6 .8 66 1 0 1.3 3 1.6 .8 66 1 0 -1.3 -3M271.4 453.2a2.8 1.4 63 1 0 2.5 5 2.8 1.4 63 1 0 -2.5 -5M268.8 456.4a3 1.7 70 1 0 2 5.6 3 1.7 70 1 0 -2 -5.6M255.8 426.6a3 1.6 104 1 0 -1.5 5.8 3 1.6 104 1 0 1.5 -5.8M254.7 445a2.1 1.2 68 1 0 1.5 3.9 2.1 1.2 68 1 0 -1.5 -3.9M251.6 445.8a2.2 1.1 98 1 0 -.6 4.3 2.2 1.1 98 1 0 .6 -4.3M274.3 422.8a3.2 1.5 114 1 0 -2.6 5.8 3.2 1.5 114 1 0 2.6 -5.8"/>
<path fill="#e4cf9e" d="M267.2 454a2.6 1.3 34 1 0 4.4 3 2.6 1.3 34 1 0 -4.4 -3M286.2 422.6a2.7 1.3 138 1 0 -4 3.6 2.7 1.3 138 1 0 4 -3.6M250.2 451.9a2.2 .9 171 1 0 -4.3 .7 2.2 .9 171 1 0 4.3 -.7M264.1 452.4a3.2 1.5 137 1 0 -4.7 4.3 3.2 1.5 137 1 0 4.7 -4.3M261.6 419.6a2.5 1.2 87 1 0 .2 5.1 2.5 1.2 87 1 0 -.2 -5.1M272.1 426a2.4 1.3 168 1 0 -4.7 .9 2.4 1.3 168 1 0 4.7 -.9M265.3 438.3a3.2 1.4 34 1 0 5.2 3.6 3.2 1.4 34 1 0 -5.2 -3.6M263.7 432.3a2 1 174 1 0 -4.1 .4 2 1 174 1 0 4.1 -.4"/>
<path stroke="#357320" stroke-width=".75" fill="none" d="M254 428.3L254.6 430.5M254 428.3L252.8 430.3M254 428.3L249.8 428.3M254 428.3L252.1 427.7M254 428.3L252.7 426.3M254 428.3L255 427.8M254 428.3L259.8 430.2M254 428.3L257.3 433.7M268.9 445.2L271.9 440.7M268.9 445.2L270.9 444M268.9 445.2L270 445.7M268.9 445.2L269.9 449.9M268.9 445.2L267.9 444.9M268.9 445.2L264.7 441.2M268.9 445.2L269.1 441.8M256.1 452.3L260.1 451M256.1 452.3L263.1 451.4M256.1 452.3L259.5 453.2M256.1 452.3L256.5 454.6M256.1 452.3L254.8 453.9M256.1 452.3L254.7 453.2M256.1 452.3L254 451.9M256.1 452.3L253.9 449.7M256.1 452.3L255.4 449.3M266.6 450.2L264.1 443.4M266.6 450.2L271 445.2M266.6 450.2L267.7 449.8M266.6 450.2L270.5 451M266.6 450.2L266.2 453.7M266.6 450.2L264.3 450.8M266.6 450.2L265.6 449.6M266.6 450.2L263 447.3M262 428L260.6 429.1M262 428L258.7 425.8M262 428L261 425.7M262 428L262.9 430.1M262 428L260.1 434M252.5 439.3L256.2 435.4M252.5 439.3L259.1 436.9M252.5 439.3L251.9 440.4M252.5 439.3L249.7 439.7M252.5 439.3L249.4 439.3M252.5 439.3L247.1 435.1M252.5 439.3L249.5 433.1M275.9 445.7L274.6 439.3M275.9 445.7L277.8 442M275.9 445.7L282.8 443.7M275.9 445.7L277.7 445.9M275.9 445.7L277.8 447.8M275.9 445.7L276.3 448.5M275.9 445.7L274.8 446M270.3 431.6L274.6 430.5M270.3 431.6L271.7 438.5M270.3 431.6L267.4 434.1M270.3 431.6L267.7 429.8M270.3 431.6L270 430.5"/>
<path fill="#245c16" d="M275.3 435.6a3 1.4 123 1 0 -3.4 5 3 1.4 123 1 0 3.4 -5M260.1 436.7a3.2 1.8 44 1 0 4.6 4.4 3.2 1.8 44 1 0 -4.6 -4.4M264.4 434.9a2.8 1.7 159 1 0 -5.3 2 2.8 1.7 159 1 0 5.3 -2"/>
<path fill="#367c1f" d="M268.5 450.8a2.7 1.3 172 1 0 -5.3 .7 2.7 1.3 172 1 0 5.3 -.7M261.9 437.2a3.3 1.7 70 1 0 2.2 6.1 3.3 1.7 70 1 0 -2.2 -6.1M279.1 429.3a2.3 1.2 165 1 0 -4.5 1.2 2.3 1.2 165 1 0 4.5 -1.2M267.4 434.1a2.2 1.4 139 1 0 -3.3 2.9 2.2 1.4 139 1 0 3.3 -2.9"/>
<path fill="#4a9828" d="M259.8 430.2a3 1.5 17 1 0 5.7 1.8 3 1.5 17 1 0 -5.7 -1.8M257.3 433.7a2.4 1.3 58 1 0 2.5 4.1 2.4 1.3 58 1 0 -2.5 -4.1M274.8 441a2.8 1.6 131 1 0 -3.8 4.2 2.8 1.6 131 1 0 3.8 -4.2M259.6 431.8a2.5 1.2 133 1 0 -3.4 3.6 2.5 1.2 133 1 0 3.4 -3.6M246.8 427.4a3.2 1.7 64 1 0 2.8 5.8 3.2 1.7 64 1 0 -2.8 -5.8M286.6 442.5a2 .9 163 1 0 -3.9 1.2 2 .9 163 1 0 3.9 -1.2"/>
<path fill="#60b232" d="M269.9 449.9a2.2 1.2 77 1 0 1 4.3 2.2 1.2 77 1 0 -1 -4.3M270.5 451a3.2 1.9 12 1 0 6.3 1.4 3.2 1.9 12 1 0 -6.3 -1.4M258.2 443.5a3.1 1.4 38 1 0 4.8 3.9 3.1 1.4 38 1 0 -4.8 -3.9M253.8 422.5a3 1.6 33 1 0 5 3.3 3 1.6 33 1 0 -5 -3.3M243.3 432.1a2.4 1.1 37 1 0 3.8 3 2.4 1.1 37 1 0 -3.8 -3M273.5 433.9a2.7 1.5 78 1 0 1.1 5.4 2.7 1.5 78 1 0 -1.1 -5.4M280.1 437.6a2.5 1.5 116 1 0 -2.3 4.5 2.5 1.5 116 1 0 2.3 -4.5M271.7 438.5a2.8 1.4 78 1 0 1.1 5.5 2.8 1.4 78 1 0 -1.1 -5.5"/>
<path fill="#82ca4a" d="M249.8 428.3a3.3 2.1 179 1 0 -6.5 .1 3.3 2.1 179 1 0 6.5 -.1M264.5 449.5a2.3 1.2 161 1 0 -4.4 1.5 2.3 1.2 161 1 0 4.4 -1.5M260.1 434a3.2 1.8 107 1 0 -2 6.2 3.2 1.8 107 1 0 2 -6.2"/>
<path fill="#245c16" d="M259.7 425.7a2.6 1.6 156 1 0 -4.7 2.1 2.6 1.6 156 1 0 4.7 -2.1M254.7 453.2a2.3 1.1 147 1 0 -3.8 2.4 2.3 1.1 147 1 0 3.8 -2.4"/>
<path fill="#367c1f" d="M248.7 450.7a2.7 1.3 12 1 0 5.3 1.2 2.7 1.3 12 1 0 -5.3 -1.2M261.7 447.4a2.2 1.4 29 1 0 3.9 2.2 2.2 1.4 29 1 0 -3.9 -2.2M249.7 439.7a3.4 2.1 172 1 0 -6.7 .9 3.4 2.1 172 1 0 6.7 -.9M277.7 445.9a2 1.2 4 1 0 4.1 .3 2 1.2 4 1 0 -4.1 -.3M274.8 446a3.2 1.8 164 1 0 -6.1 1.7 3.2 1.8 164 1 0 6.1 -1.7M263.6 427.1a2.4 1.3 34 1 0 4 2.7 2.4 1.3 34 1 0 -4 -2.7"/>
<path fill="#4a9828" d="M246.2 426a3.1 1.9 16 1 0 5.9 1.7 3.1 1.9 16 1 0 -5.9 -1.7M248.9 422a3.4 2.1 56 1 0 3.8 5.6 3.4 2.1 56 1 0 -3.8 -5.6M270 445.7a2 1.2 22 1 0 3.8 1.6 2 1.2 22 1 0 -3.8 -1.6M269.5 436.9a2.5 1.5 94 1 0 -.4 5 2.5 1.5 94 1 0 .4 -5M256.5 454.6a2.3 1.1 80 1 0 .7 4.5 2.3 1.1 80 1 0 -.7 -4.5M266.2 453.7a3.3 1.8 96 1 0 -.7 6.5 3.3 1.8 96 1 0 .7 -6.5M264.3 450.8a2.9 1.5 164 1 0 -5.5 1.5 2.9 1.5 164 1 0 5.5 -1.5M260.6 429.1a2.8 1.3 139 1 0 -4.3 3.7 2.8 1.3 139 1 0 4.3 -3.7M251.9 440.4a2.4 1.4 119 1 0 -2.3 4.1 2.4 1.4 119 1 0 2.3 -4.1"/>
<path fill="#60b232" d="M276.3 440.8a3.1 1.9 149 1 0 -5.4 3.2 3.1 1.9 149 1 0 5.4 -3.2M263.2 443.2a2.5 1.3 19 1 0 4.7 1.7 2.5 1.3 19 1 0 -4.7 -1.7M254.8 453.9a2 1 129 1 0 -2.6 3.1 2 1 129 1 0 2.6 -3.1M254.3 444.5a2.5 1.5 77 1 0 1.1 4.9 2.5 1.5 77 1 0 -1.1 -4.9M272.9 448.5a2.7 1.5 165 1 0 -5.1 1.4 2.7 1.5 165 1 0 5.1 -1.4M259.5 422.1a2.1 1.2 68 1 0 1.6 3.9 2.1 1.2 68 1 0 -1.6 -3.9M262.9 430.1a3.3 1.6 66 1 0 2.7 6.1 3.3 1.6 66 1 0 -2.7 -6.1M276.3 448.5a2.4 1.4 82 1 0 .7 4.8 2.4 1.4 82 1 0 -.7 -4.8"/>
<path fill="#82ca4a" d="M254.6 430.5a3.3 1.7 74 1 0 1.8 6.4 3.3 1.7 74 1 0 -1.8 -6.4M252.8 430.3a3.3 2 120 1 0 -3.3 5.7 3.3 2 120 1 0 3.3 -5.7M259.5 453.2a3.3 1.9 13 1 0 6.4 1.6 3.3 1.9 13 1 0 -6.4 -1.6M250.8 445.9a2.5 1.5 50 1 0 3.1 3.8 2.5 1.5 50 1 0 -3.1 -3.8M249.4 439.3a2.2 1.2 179 1 0 -4.5 0 2.2 1.2 179 1 0 4.5 -0M277.8 447.8a2.4 1.4 48 1 0 3.1 3.5 2.4 1.4 48 1 0 -3.1 -3.5M268.5 425.3a2.7 1.5 73 1 0 1.5 5.2 2.7 1.5 73 1 0 -1.5 -5.2"/>
<rect x="241.6" y="464.6" width="46" height="41.1" rx="4.5" fill="url(#gr)" stroke="#5e5c58" stroke-width=".9"/>
<rect x="243.8" y="466.9" width="41.6" height="36.3" rx="2.5" fill="#221b16"/>
<path fill="#3f3226" d="M271.1 492.9a1.3 .9 42 1 0 1.9 1.8 1.3 .9 42 1 0 -1.9 -1.8M270.1 485.8a.9 .7 63 1 0 .8 1.5 .9 .7 63 1 0 -.8 -1.5M250.3 496a1.6 .9 91 1 0 -.1 3.1 1.6 .9 91 1 0 .1 -3.1M265.4 487.5a.8 .5 173 1 0 -1.5 .2 .8 .5 173 1 0 1.5 -.2M258 488.4a.6 .5 53 1 0 .8 1 .6 .5 53 1 0 -.8 -1M265.7 499.1a1.4 1 32 1 0 2.3 1.5 1.4 1 32 1 0 -2.3 -1.5M253.4 483.8a.8 .7 49 1 0 1 1.2 .8 .7 49 1 0 -1 -1.2M263.1 469.7a.9 .7 8 1 0 1.7 .2 .9 .7 8 1 0 -1.7 -.2M253.3 494.8a1.3 .7 60 1 0 1.2 2.2 1.3 .7 60 1 0 -1.2 -2.2M273.8 480.8a1.3 .7 140 1 0 -2.1 1.7 1.3 .7 140 1 0 2.1 -1.7M274.1 468.1a1.4 .7 62 1 0 1.3 2.5 1.4 .7 62 1 0 -1.3 -2.5M279.8 489.9a1.1 1 23 1 0 2 .9 1.1 1 23 1 0 -2 -.9M256 475.8a1.1 .7 56 1 0 1.2 1.8 1.1 .7 56 1 0 -1.2 -1.8M256.9 482a.7 .8 25 1 0 1.2 .6 .7 .8 25 1 0 -1.2 -.6M249.3 471.4a1.4 .7 22 1 0 2.7 1.1 1.4 .7 22 1 0 -2.7 -1.1M245.3 480.3a1.2 .6 39 1 0 1.9 1.6 1.2 .6 39 1 0 -1.9 -1.6M256.9 470.5a1 .6 117 1 0 -.9 1.8 1 .6 117 1 0 .9 -1.8M252.8 483a1.5 1 128 1 0 -1.9 2.3 1.5 1 128 1 0 1.9 -2.3M275.7 480.3a1.6 .7 135 1 0 -2.3 2.2 1.6 .7 135 1 0 2.3 -2.2M257.9 473.5a.9 .8 19 1 0 1.8 .6 .9 .8 19 1 0 -1.8 -.6M281.9 487a1.2 .5 135 1 0 -1.8 1.7 1.2 .5 135 1 0 1.8 -1.7M280 488.3a1.3 1 67 1 0 1 2.4 1.3 1 67 1 0 -1 -2.4M250.8 469.4a.9 .8 156 1 0 -1.7 .7 .9 .8 156 1 0 1.7 -.7M254.3 473.8a1.2 .5 28 1 0 2.2 1.2 1.2 .5 28 1 0 -2.2 -1.2"/>
<path fill="#5a4a3a" d="M271.2 495.7a.8 .6 123 1 0 -.8 1.3 .8 .6 123 1 0 .8 -1.3M264 469.3a1 .7 153 1 0 -1.8 .9 1 .7 153 1 0 1.8 -.9M276 491.3a1.5 .6 20 1 0 2.8 1.1 1.5 .6 20 1 0 -2.8 -1.1M283.6 477.2a1.5 .9 91 1 0 -.1 3.1 1.5 .9 91 1 0 .1 -3.1M275.3 492a1.1 1.1 11 1 0 2.2 .5 1.1 1.1 11 1 0 -2.2 -.5M248.4 481.5a1.1 .6 99 1 0 -.4 2.1 1.1 .6 99 1 0 .4 -2.1M270.5 469.7a.6 .8 126 1 0 -.8 1 .6 .8 126 1 0 .8 -1M278.4 482.6a1.2 1 17 1 0 2.2 .7 1.2 1 17 1 0 -2.2 -.7M279.9 489.2a1.5 .7 164 1 0 -3 .8 1.5 .7 164 1 0 3 -.8M265.8 488.4a1 .9 57 1 0 1 1.6 1 .9 57 1 0 -1 -1.6M281.5 492.3a1.4 1.1 166 1 0 -2.6 .6 1.4 1.1 166 1 0 2.6 -.6M276.8 490.2a1.2 .9 68 1 0 .9 2.3 1.2 .9 68 1 0 -.9 -2.3M251.2 467.6a1 .5 41 1 0 1.5 1.3 1 .5 41 1 0 -1.5 -1.3M283.6 477.5a1.3 1 150 1 0 -2.3 1.3 1.3 1 150 1 0 2.3 -1.3M276.7 494.4a1.3 1 128 1 0 -1.6 2 1.3 1 128 1 0 1.6 -2M244.6 492.4a1.3 .9 55 1 0 1.4 2.1 1.3 .9 55 1 0 -1.4 -2.1"/>
<path fill="#8a6c44" d="M262.7 478.8a2.3 1.3 144 1 0 -3.7 2.6 2.3 1.3 144 1 0 3.7 -2.6M250 479.1a3.1 1.9 41 1 0 4.6 4.1 3.1 1.9 41 1 0 -4.6 -4.1M249.2 481.2a2 1 86 1 0 .2 4 2 1 86 1 0 -.2 -4M275.4 489a2.9 1.8 67 1 0 2.3 5.4 2.9 1.8 67 1 0 -2.3 -5.4M274.6 501.9a2.7 1.5 141 1 0 -4.3 3.4 2.7 1.5 141 1 0 4.3 -3.4"/>
<path fill="#b8955c" d="M272.4 499.6a1.7 .9 92 1 0 -.1 3.3 1.7 .9 92 1 0 .1 -3.3M246.2 482.5a1.9 1 17 1 0 3.6 1.2 1.9 1 17 1 0 -3.6 -1.2M269.5 482.5a2.8 1.5 71 1 0 1.8 5.3 2.8 1.5 71 1 0 -1.8 -5.3M250.2 473.7a2.1 1.2 69 1 0 1.4 3.9 2.1 1.2 69 1 0 -1.4 -3.9"/>
<path fill="#d4b47a" d="M254.1 495.4a2.8 1.2 55 1 0 3.1 4.6 2.8 1.2 55 1 0 -3.1 -4.6M262.5 476.3a2.6 1.4 140 1 0 -3.9 3.2 2.6 1.4 140 1 0 3.9 -3.2M254.1 490a3.2 1.7 87 1 0 .2 6.3 3.2 1.7 87 1 0 -.2 -6.3M268.3 468.2a2.5 1.3 100 1 0 -.9 4.9 2.5 1.3 100 1 0 .9 -4.9M245.4 478.5a2.5 1.3 142 1 0 -3.9 3 2.5 1.3 142 1 0 3.9 -3M244.1 467.2a3.3 1.8 61 1 0 3.2 5.9 3.3 1.8 61 1 0 -3.2 -5.9M281.7 487.2a2.8 1.8 102 1 0 -1.2 5.5 2.8 1.8 102 1 0 1.2 -5.5"/>
<path fill="#e4cf9e" d="M263.5 471.5a3.1 1.3 34 1 0 5 3.5 3.1 1.3 34 1 0 -5 -3.5M267.8 472.3a2.8 1 121 1 0 -2.9 4.8 2.8 1 121 1 0 2.9 -4.8M273.3 483.7a3.4 1.7 99 1 0 -1.1 6.7 3.4 1.7 99 1 0 1.1 -6.7M276.2 478.5a2.8 1.3 90 1 0 -0 5.6 2.8 1.3 90 1 0 0 -5.6M253 466a3 1.9 112 1 0 -2.3 5.6 3 1.9 112 1 0 2.3 -5.6M271.2 492.6a2.8 1.3 34 1 0 4.7 3.2 2.8 1.3 34 1 0 -4.7 -3.2M277.4 499a3.2 1.8 134 1 0 -4.5 4.6 3.2 1.8 134 1 0 4.5 -4.6"/>
<path stroke="#357320" stroke-width=".75" fill="none" d="M253.8 483.5L252 485.2M253.8 483.5L252.2 483.5M253.8 483.5L252.5 483M253.8 483.5L256.8 479.3M253.8 483.5L257.3 485.2M274.5 476.6L271.1 479.4M274.5 476.6L269.4 477.6M274.5 476.6L274.1 475.5M274.5 476.6L275.8 471.3M274.5 476.6L278.1 474.5M274.5 476.6L276 476.2M274.5 476.6L279.3 480.1M276.2 488.4L278.6 488.1M276.2 488.4L279.7 492.4M276.2 488.4L277.7 491.2M276.2 488.4L275.2 489.6M276.2 488.4L272.7 491.3M276.2 488.4L271.2 486.6M276.2 488.4L275.4 485.9M276.2 488.4L277.8 486.4M260.9 493.4L260.3 494.3M260.9 493.4L258.5 494.5M260.9 493.4L255.5 492M260.9 493.4L260.9 486.7M260.9 493.4L267.5 490.3M260.9 493.4L262.1 493.5M260.9 493.4L261.2 494.5M266.9 475.9L268.5 474.4M266.9 475.9L268.9 476M266.9 475.9L269.6 478.2M266.9 475.9L267.6 476.9M266.9 475.9L265.4 480.7M266.9 475.9L264.6 476.7M266.9 475.9L264.9 475.5M266.9 475.9L265.2 474.8M266.9 475.9L266.8 472.5M259.9 487.8L262.1 488.9M259.9 487.8L261.1 490.9M259.9 487.8L258.1 492.1M259.9 487.8L259 488.4M259.9 487.8L254.5 487M259.9 487.8L259.6 482.4M259.9 487.8L263.9 488.1M248.9 475.9L247.5 479.8M248.9 475.9L247.3 469.8M248.9 475.9L250.7 475.4M248.9 475.9L250.1 476.5M279.3 498.1L276.5 498.2M279.3 498.1L281.5 497M279.3 498.1L281.8 498.8M279.3 498.1L281.8 500.1M279.3 498.1L278.7 501.7"/>
<path fill="#245c16" d="M282.8 471.7a2.7 1.6 149 1 0 -4.7 2.8 2.7 1.6 149 1 0 4.7 -2.8"/>
<path fill="#367c1f" d="M259.2 475.9a2.1 .9 125 1 0 -2.4 3.4 2.1 .9 125 1 0 2.4 -3.4M277.1 466a2.7 1.4 103 1 0 -1.3 5.3 2.7 1.4 103 1 0 1.3 -5.3M279.3 480.1a3 1.9 36 1 0 4.8 3.5 3 1.9 36 1 0 -4.8 -3.5M249.8 490.4a3 1.5 14 1 0 5.8 1.5 3 1.5 14 1 0 -5.8 -1.5M258.1 492.1a2.5 1.6 111 1 0 -1.9 4.7 2.5 1.6 111 1 0 1.9 -4.7M259.4 478.4a2 1.3 86 1 0 .2 4 2 1.3 86 1 0 -.2 -4"/>
<path fill="#4a9828" d="M271.1 479.4a3.2 1.8 139 1 0 -4.8 4.1 3.2 1.8 139 1 0 4.8 -4.1M279.7 492.4a3.3 1.6 48 1 0 4.4 4.9 3.3 1.6 48 1 0 -4.4 -4.9M272.7 491.3a3.4 1.6 140 1 0 -5.2 4.3 3.4 1.6 140 1 0 5.2 -4.3M271.6 488.4a2.3 1.3 154 1 0 -4.1 1.9 2.3 1.3 154 1 0 4.1 -1.9M250.4 486.4a2 1.3 8 1 0 4 .6 2 1.3 8 1 0 -4 -.6M245.9 464.3a2.8 1.5 75 1 0 1.4 5.5 2.8 1.5 75 1 0 -1.4 -5.5"/>
<path fill="#60b232" d="M257.3 485.2a3.4 1.6 25 1 0 6 2.9 3.4 1.6 25 1 0 -6 -2.9M266.6 485a2.4 1.4 19 1 0 4.6 1.6 2.4 1.4 19 1 0 -4.6 -1.6M260.9 481.2a2.8 1.6 89 1 0 0 5.5 2.8 1.6 89 1 0 -0 -5.5M265.4 480.7a2.7 1.4 106 1 0 -1.6 5.2 2.7 1.4 106 1 0 1.6 -5.2"/>
<path fill="#82ca4a" d="M269.4 477.6a3 1.5 168 1 0 -5.8 1.2 3 1.5 168 1 0 5.8 -1.2M263.9 488.1a2.9 1.5 4 1 0 5.7 .5 2.9 1.5 4 1 0 -5.7 -.5M247.5 479.8a2.2 1.4 109 1 0 -1.5 4.1 2.2 1.4 109 1 0 1.5 -4.1"/>
<path fill="#245c16" d="M252 485.2a2.4 1.4 135 1 0 -3.4 3.3 2.4 1.4 135 1 0 3.4 -3.3M262.1 493.5a2.8 1.4 4 1 0 5.6 .5 2.8 1.4 4 1 0 -5.6 -.5"/>
<path fill="#367c1f" d="M261.5 472.7a2.1 1.1 30 1 0 3.7 2.2 2.1 1.1 30 1 0 -3.7 -2.2M255.8 474a2.6 1.3 165 1 0 -5.1 1.3 2.6 1.3 165 1 0 5.1 -1.3M276.5 498.2a2.1 1.2 178 1 0 -4.2 .1 2.1 1.2 178 1 0 4.2 -.1M286 494.7a2.5 1.6 152 1 0 -4.5 2.3 2.5 1.6 152 1 0 4.5 -2.3M281.8 500.1a2.5 1.2 38 1 0 4 3.1 2.5 1.2 38 1 0 -4 -3.1M278.7 501.7a2.5 1.6 99 1 0 -.8 4.8 2.5 1.6 99 1 0 .8 -4.8"/>
<path fill="#4a9828" d="M252.2 483.5a3.2 2 179 1 0 -6.3 0 3.2 2 179 1 0 6.3 -0M248.4 481.6a2.2 1.4 19 1 0 4.1 1.4 2.2 1.4 19 1 0 -4.1 -1.4M272.2 470.8a2.5 1.4 67 1 0 1.9 4.7 2.5 1.4 67 1 0 -1.9 -4.7M273.6 480.3a3 1.7 72 1 0 1.8 5.6 3 1.7 72 1 0 -1.8 -5.6M280.9 482.6a2.5 1.4 129 1 0 -3.1 3.9 2.5 1.4 129 1 0 3.1 -3.9M260.3 494.3a3.2 1.6 122 1 0 -3.4 5.4 3.2 1.6 122 1 0 3.4 -5.4M258.5 494.5a2.8 1.4 155 1 0 -5 2.3 2.8 1.4 155 1 0 5 -2.3M272.3 470.9a2.6 1.2 137 1 0 -3.9 3.5 2.6 1.2 137 1 0 3.9 -3.5M268.9 476a3.1 1.5 5 1 0 6.1 .6 3.1 1.5 5 1 0 -6.1 -.6M264.6 476.7a3.1 1.8 159 1 0 -5.8 2.2 3.1 1.8 159 1 0 5.8 -2.2M266.7 467a2.7 1.5 88 1 0 .1 5.5 2.7 1.5 88 1 0 -.1 -5.5M259 488.4a2 1.1 144 1 0 -3.2 2.3 2 1.1 144 1 0 3.2 -2.3M250.1 476.5a2.9 1.7 28 1 0 5.2 2.8 2.9 1.7 28 1 0 -5.2 -2.8"/>
<path fill="#60b232" d="M282.4 474.4a3.3 1.7 164 1 0 -6.4 1.7 3.3 1.7 164 1 0 6.4 -1.7M277.7 491.2a3.1 1.8 61 1 0 2.9 5.4 3.1 1.8 61 1 0 -2.9 -5.4M281.8 498.8a2.1 1.3 15 1 0 4.1 1.1 2.1 1.3 15 1 0 -4.1 -1.1"/>
<path fill="#82ca4a" d="M282.7 487.5a2.1 1.3 171 1 0 -4.1 .6 2.1 1.3 171 1 0 4.1 -.6M275.2 489.6a2.7 1.4 129 1 0 -3.4 4.1 2.7 1.4 129 1 0 3.4 -4.1M261.2 494.5a3 1.6 77 1 0 1.3 5.9 3 1.6 77 1 0 -1.3 -5.9M269.6 478.2a2.8 1.3 40 1 0 4.2 3.6 2.8 1.3 40 1 0 -4.2 -3.6M267.6 476.9a2.6 1.5 54 1 0 3 4.2 2.6 1.5 54 1 0 -3 -4.2M258.3 474.4a3.4 1.7 9 1 0 6.6 1.1 3.4 1.7 9 1 0 -6.6 -1.1M262.1 488.9a2.6 1.4 27 1 0 4.6 2.4 2.6 1.4 27 1 0 -4.6 -2.4M261.1 490.9a2.8 1.6 68 1 0 2.1 5.3 2.8 1.6 68 1 0 -2.1 -5.3"/>
</g>
</svg></body></html>
